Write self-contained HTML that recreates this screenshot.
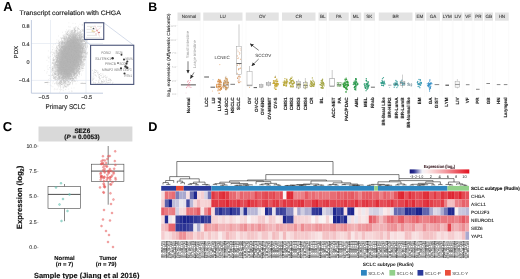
<!DOCTYPE html>
<html><head><meta charset="utf-8"><title>Figure</title>
<style>
html,body{margin:0;padding:0;background:#fff;width:520px;height:279px;overflow:hidden}
svg{display:block;filter:blur(0.25px)}
text{font-family:"Liberation Sans", Arial, sans-serif;text-rendering:geometricPrecision}
</style></head><body>
<svg width="520" height="279" viewBox="0 0 520 279">
<rect x="0" y="0" width="520" height="279" fill="#fff"/>
<text x="3.30" y="11.10" font-size="13" fill="#000" font-weight="bold" text-anchor="start" >A</text>
<text x="19.40" y="14.60" font-size="6.5" fill="#262626" font-weight="normal" text-anchor="start" stroke="#262626" stroke-width="0.16" textLength="101.5" lengthAdjust="spacingAndGlyphs">Transcript correlation with CHGA</text>
<line x1="31.40" y1="43.50" x2="103.00" y2="43.50" stroke="#e3e8f1" stroke-width="0.7" />
<line x1="31.40" y1="80.40" x2="103.00" y2="80.40" stroke="#e3e8f1" stroke-width="0.7" />
<line x1="50.50" y1="20.00" x2="50.50" y2="93.20" stroke="#e3e8f1" stroke-width="0.7" />
<line x1="86.00" y1="20.00" x2="86.00" y2="93.20" stroke="#e3e8f1" stroke-width="0.7" />
<defs><filter id="bl" x="-50%" y="-50%" width="200%" height="200%"><feGaussianBlur stdDeviation="2.2"/></filter></defs>
<ellipse cx="70" cy="57.2" rx="10.5" ry="21" transform="rotate(17 70 57.2)" fill="#bcbcbc" filter="url(#bl)"/>
<path d="M71.3 37.7h0M83.4 67.9h0M74.1 62.9h0M61.3 72.5h0M73.6 68.7h0M70.8 69.3h0M65.1 63.3h0M70.6 55.5h0M66.0 87.1h0M47.2 71.7h0M60.9 72.6h0M61.5 53.7h0M77.5 60.1h0M76.5 44.1h0M53.4 76.7h0M70.6 57.8h0M61.9 42.1h0M60.9 55.4h0M70.4 50.5h0M63.2 58.3h0M83.8 43.7h0M53.3 69.3h0M59.1 49.9h0M62.9 81.8h0M64.2 71.8h0M73.3 48.7h0M78.5 33.0h0M69.9 79.2h0M64.2 68.4h0M54.9 74.6h0M66.9 46.9h0M69.7 34.3h0M66.7 85.4h0M58.3 52.5h0M74.8 52.5h0M55.2 58.9h0M76.7 62.3h0M61.6 52.1h0M53.8 53.0h0M74.5 75.5h0M66.6 63.8h0M64.3 58.9h0M63.6 59.1h0M64.1 59.7h0M74.6 60.0h0M56.7 61.6h0M68.9 51.6h0M76.7 49.3h0M74.3 67.8h0M66.2 48.0h0M71.5 46.8h0M71.5 54.5h0M57.8 63.8h0M63.4 63.1h0M66.6 53.9h0M69.5 71.9h0M77.1 60.7h0M82.2 57.9h0M65.3 31.6h0M60.8 44.1h0M53.5 58.3h0M69.4 58.1h0M71.3 57.7h0M68.2 53.9h0M73.7 44.4h0M73.3 81.1h0M60.5 87.4h0M57.8 67.5h0M53.7 62.2h0M59.2 69.4h0M66.2 70.8h0M71.8 66.6h0M60.7 78.0h0M70.0 65.5h0M81.5 58.8h0M78.8 76.5h0M75.2 40.4h0M80.0 57.6h0M69.3 60.3h0M74.2 68.9h0M57.0 45.7h0M71.1 61.6h0M73.2 67.6h0M78.0 66.6h0M68.8 67.9h0M63.6 66.8h0M64.6 67.1h0M58.4 71.5h0M59.4 46.5h0M67.7 61.5h0M64.2 51.5h0M67.0 72.4h0M81.2 55.7h0M69.7 54.4h0M58.6 49.2h0M83.3 44.3h0M82.1 65.1h0M48.9 58.5h0M84.0 55.1h0M76.2 71.2h0M72.4 69.9h0M71.2 68.2h0M76.9 66.8h0M72.4 65.5h0M73.5 47.9h0M58.6 41.3h0M64.9 36.8h0M75.8 56.1h0M77.0 54.6h0M72.9 56.9h0M63.2 85.7h0M76.9 78.6h0M64.4 81.8h0M72.2 71.9h0M62.1 47.9h0M71.2 56.2h0M72.6 31.9h0M63.5 55.4h0M75.7 45.7h0M61.0 81.2h0M77.9 34.0h0M67.6 58.2h0M78.4 64.1h0M78.7 66.1h0M73.2 78.6h0M80.6 64.8h0M58.5 58.1h0M75.6 50.8h0M76.3 58.5h0M74.6 63.0h0M57.5 69.6h0M81.5 75.2h0M78.0 37.4h0M71.8 59.0h0M70.2 32.3h0M68.8 72.0h0M65.9 89.3h0M52.6 58.4h0M63.3 76.6h0M72.6 46.2h0M66.9 64.0h0M66.3 46.8h0M67.8 70.4h0M65.3 64.2h0M66.4 53.0h0M66.8 71.4h0M82.2 60.9h0M65.0 84.7h0M77.1 56.1h0M77.9 41.5h0M55.3 43.8h0M68.6 39.8h0M79.0 55.3h0M69.5 59.7h0M72.0 43.2h0M66.1 67.4h0M67.9 56.8h0M70.6 62.4h0M62.2 71.5h0M67.2 79.0h0M77.6 33.5h0M57.9 48.1h0M79.1 38.9h0M59.7 73.1h0M74.5 50.4h0M67.8 59.8h0M67.0 53.6h0M63.2 59.9h0M76.0 81.0h0M50.2 85.1h0M73.6 40.5h0M56.7 56.8h0M73.4 51.0h0M63.6 53.9h0M68.5 67.8h0M82.8 29.7h0M63.4 60.5h0M68.9 69.7h0M51.2 75.0h0M60.4 53.2h0M67.3 51.4h0M59.8 67.1h0M74.0 65.0h0M61.5 47.5h0M67.1 63.6h0M65.8 53.9h0M76.3 26.6h0M56.8 77.6h0M80.4 45.5h0M74.7 62.7h0M59.7 66.8h0M65.5 53.3h0M68.5 61.4h0M64.5 61.4h0M68.4 61.1h0M74.7 51.4h0M58.6 54.4h0M77.6 65.8h0M73.8 49.7h0M64.9 40.0h0M63.3 51.7h0M57.4 53.4h0M54.2 63.1h0M75.8 36.1h0M63.9 60.3h0M69.1 69.4h0M66.9 55.9h0M65.1 65.0h0M64.3 54.9h0M71.6 54.6h0M55.3 73.3h0M76.6 48.2h0M63.7 51.9h0M67.5 79.0h0M77.8 69.0h0M67.1 67.3h0M65.7 47.8h0M72.5 62.5h0M74.9 46.2h0M76.7 40.9h0M76.4 61.0h0M65.9 51.1h0M58.3 74.4h0M68.3 61.9h0M66.7 39.6h0M72.7 53.5h0M69.0 73.3h0M66.1 65.2h0M69.6 62.1h0M64.1 60.4h0M72.2 60.7h0M71.2 39.0h0M54.6 76.0h0M75.9 64.8h0M72.0 57.4h0M70.7 72.5h0M66.0 62.0h0M82.8 40.8h0M64.0 49.1h0M61.7 50.3h0M64.0 51.6h0M77.5 44.8h0M64.5 76.5h0M75.4 43.5h0M59.8 72.1h0M69.5 50.0h0M78.1 51.4h0M58.0 63.8h0M71.8 50.4h0M68.5 73.8h0M77.2 62.6h0M70.8 66.1h0M51.0 76.3h0M66.1 49.9h0M66.4 44.4h0M77.7 61.4h0M71.7 34.0h0M70.6 58.4h0M61.4 54.9h0M52.3 62.5h0M57.6 62.1h0M78.2 31.8h0M62.9 47.6h0M73.0 68.2h0M67.5 81.5h0M68.9 51.5h0M58.4 41.0h0M76.8 49.3h0M58.6 68.7h0M44.4 70.5h0M72.8 59.7h0M77.5 56.5h0M62.7 76.4h0M62.9 62.6h0M74.5 58.7h0M74.0 67.4h0M82.3 38.9h0M59.9 60.0h0M72.7 79.7h0M72.1 49.2h0M68.2 31.2h0M63.0 64.9h0M74.3 39.7h0M68.2 59.1h0M57.6 75.5h0M68.3 73.8h0M73.7 46.5h0M73.3 75.4h0M69.7 40.3h0M77.7 53.4h0M60.4 54.8h0M76.4 50.4h0M65.5 71.4h0M81.0 40.6h0M67.8 83.0h0M76.6 59.8h0M78.2 39.5h0M66.6 50.7h0M54.9 77.9h0M74.2 36.7h0M52.7 83.2h0M71.9 64.5h0M79.7 48.1h0M77.0 57.2h0M72.3 62.9h0M55.7 63.7h0M65.2 66.9h0M59.4 57.0h0M55.6 56.2h0M68.1 82.1h0M61.6 69.4h0M83.7 48.5h0M74.2 34.3h0M60.6 62.2h0M54.5 50.1h0M69.1 78.8h0M48.2 57.7h0M73.3 27.8h0M58.9 63.8h0M66.2 67.6h0M64.2 66.4h0M65.4 43.9h0M74.7 35.9h0M79.7 58.4h0M64.9 45.3h0M61.1 58.0h0M62.9 68.9h0M60.4 55.0h0M59.2 49.2h0M80.2 60.4h0M76.3 60.0h0M64.1 44.8h0M59.0 60.4h0M78.8 73.5h0M61.1 57.8h0M52.8 86.7h0M58.9 72.0h0M55.6 65.3h0M61.4 49.8h0M69.9 60.9h0M68.9 57.7h0M62.9 55.2h0M72.2 46.5h0M72.8 62.3h0M58.1 73.6h0M72.1 32.9h0M80.4 56.8h0M78.8 67.7h0M57.8 70.9h0M69.1 71.6h0M63.3 78.8h0M77.6 56.6h0M57.6 54.5h0M73.5 46.1h0M61.7 77.5h0M61.0 72.0h0M65.7 43.9h0M77.1 58.7h0M66.8 72.4h0M72.7 63.0h0M63.2 82.1h0M69.6 50.4h0M81.0 33.8h0M75.5 48.1h0M74.5 49.9h0M74.0 56.7h0M61.4 63.9h0M81.2 39.8h0M60.1 52.2h0M60.9 74.8h0M79.5 68.6h0M78.9 57.1h0M57.3 59.3h0M49.0 75.5h0M66.5 74.2h0M70.5 36.3h0M65.6 64.5h0M69.4 51.6h0M70.4 56.4h0M52.3 52.2h0M77.2 39.5h0M67.0 64.2h0M70.5 63.3h0M68.9 38.2h0M77.9 56.4h0M52.3 75.4h0M52.8 67.1h0M66.7 75.5h0M75.7 37.2h0M69.5 52.7h0M72.0 56.9h0M78.2 44.2h0M66.9 50.7h0M79.0 37.6h0M59.7 89.4h0M51.0 67.7h0M65.9 71.6h0M68.5 62.1h0M70.1 65.4h0M60.2 54.0h0M77.7 81.3h0M66.2 44.4h0M63.5 71.9h0M78.5 53.2h0M50.8 52.3h0M51.4 70.1h0M77.9 70.8h0M71.5 67.3h0M79.1 77.0h0M65.0 57.3h0M52.8 49.6h0M69.2 57.7h0M68.0 56.6h0M72.0 39.5h0M77.7 61.6h0M71.7 59.9h0M69.3 36.1h0M64.7 64.8h0M65.2 67.8h0M64.1 52.9h0M70.6 57.6h0M64.7 77.5h0M65.2 59.3h0M61.8 64.1h0M73.7 49.6h0M65.9 40.7h0M66.2 59.9h0M65.6 55.9h0M60.8 89.2h0M69.1 91.4h0M69.2 61.7h0M82.7 68.1h0M76.1 53.6h0M61.7 67.3h0M67.0 48.6h0M56.2 58.8h0M66.1 65.4h0M67.2 40.5h0M77.5 61.5h0M79.7 45.6h0M68.9 22.8h0M67.5 72.1h0M72.4 84.6h0M59.1 40.1h0M68.0 47.1h0M70.5 47.7h0M57.7 54.5h0M73.0 48.9h0M74.4 41.8h0M67.8 53.4h0M65.8 56.5h0M64.4 38.2h0M59.6 66.1h0M65.3 44.2h0M69.5 46.2h0M78.4 68.8h0M64.8 79.8h0M66.4 33.9h0M76.0 66.8h0M61.8 67.6h0M60.5 83.6h0M57.7 60.1h0M73.1 72.3h0M67.8 52.5h0M62.9 66.4h0M66.4 55.8h0M77.5 59.5h0M71.4 57.5h0M77.9 29.8h0M60.2 61.0h0M66.4 49.0h0M60.4 88.3h0M66.8 44.4h0M53.2 60.2h0M71.9 47.5h0M61.9 70.2h0M75.5 65.7h0M74.0 74.4h0M62.3 67.7h0M67.2 68.8h0M62.7 86.8h0M57.7 60.2h0M51.3 86.0h0M66.4 52.5h0M69.0 57.9h0M82.6 61.9h0M66.7 72.9h0M76.6 42.0h0M67.2 78.1h0M66.0 53.6h0M76.6 67.1h0M77.1 54.5h0M68.0 53.0h0M58.8 77.5h0M72.8 44.1h0M71.7 56.2h0M66.1 64.7h0M81.1 41.0h0M64.6 78.5h0M58.9 54.0h0M57.3 64.4h0M63.7 52.1h0M63.9 63.4h0M64.3 37.2h0M65.1 76.6h0M63.4 62.7h0M70.6 60.5h0M71.0 51.3h0M62.3 73.6h0M67.4 76.3h0M62.8 58.3h0M69.2 39.7h0M77.1 57.0h0M76.5 40.6h0M67.5 56.3h0M61.9 70.8h0M72.0 61.3h0M72.5 53.2h0M64.5 53.1h0M61.7 53.8h0M63.6 72.9h0M55.9 89.2h0M64.4 59.0h0M71.2 50.4h0M75.5 35.2h0M80.0 53.6h0M76.0 34.7h0M78.5 43.1h0M83.7 48.1h0M60.6 65.4h0M49.3 75.6h0M78.5 39.7h0M62.8 66.6h0M59.9 77.3h0M62.7 59.0h0M72.0 80.6h0M68.5 66.7h0M66.6 56.8h0M62.9 62.2h0M79.6 47.3h0M59.7 56.3h0M83.6 66.2h0M70.2 58.2h0M58.7 45.2h0M81.2 60.2h0M75.8 52.7h0M64.6 60.1h0M70.9 43.5h0M64.2 66.3h0M61.5 61.3h0M58.1 56.5h0M56.9 65.8h0M58.3 64.1h0M52.7 56.0h0M80.8 50.2h0M72.8 47.3h0M69.6 69.6h0M72.5 78.7h0M82.0 52.0h0M67.7 65.7h0M75.7 41.6h0M79.9 24.3h0M83.9 60.4h0M69.9 70.1h0M59.1 50.6h0M70.1 68.3h0M82.5 24.8h0M48.9 57.6h0M68.2 71.6h0M67.7 35.2h0M72.8 53.2h0M69.0 55.5h0M66.8 62.3h0M64.9 56.7h0M68.0 45.6h0M75.0 48.3h0M73.2 59.3h0M75.0 68.8h0M53.4 53.3h0M73.6 61.5h0M64.9 72.9h0M79.6 42.3h0M65.6 71.9h0M75.3 41.9h0M72.6 68.3h0M77.2 63.5h0M66.4 70.0h0M53.4 78.5h0M71.2 62.3h0M71.6 70.7h0M48.0 65.5h0M71.3 47.7h0M72.2 73.0h0M74.4 51.1h0M73.6 46.0h0M69.1 82.1h0M64.4 49.3h0M52.5 49.9h0M58.0 57.3h0M67.2 58.0h0M71.1 52.3h0M70.1 57.8h0M64.6 52.5h0M69.7 39.9h0M76.3 33.6h0M73.2 59.2h0M65.5 74.2h0M78.1 54.9h0M66.8 75.0h0M66.2 63.1h0M76.4 45.7h0M72.7 53.9h0M65.1 63.5h0M77.7 48.0h0M67.7 55.2h0M60.0 61.1h0M70.2 48.6h0M76.6 59.5h0M60.3 54.4h0M66.3 61.9h0M80.8 59.6h0M70.6 66.1h0M67.1 61.4h0M62.6 66.5h0M54.9 79.0h0M66.5 63.0h0M76.6 37.3h0M75.8 47.7h0M72.2 53.3h0M73.0 37.6h0M61.0 47.9h0M59.6 59.1h0M57.1 58.0h0M76.2 49.8h0M62.9 51.5h0M69.4 78.7h0M73.0 62.4h0M73.1 44.1h0M61.6 72.4h0M82.1 53.7h0M48.7 79.6h0M67.3 64.5h0M74.9 34.0h0M75.3 46.3h0M69.2 49.4h0M57.1 89.6h0M59.0 48.0h0M60.6 67.1h0M74.2 57.0h0M48.7 69.3h0M75.9 53.1h0M70.0 52.1h0M67.6 58.7h0M63.0 60.6h0M55.5 66.1h0M69.0 31.5h0M76.8 55.8h0M61.1 69.3h0M60.7 84.2h0M78.0 40.4h0M67.7 48.3h0M59.8 80.1h0M70.2 66.8h0M79.2 29.5h0M71.7 88.1h0M64.9 56.8h0M64.2 54.0h0M66.8 41.3h0M81.6 45.7h0M75.1 31.1h0M78.0 46.7h0M68.2 67.8h0M64.7 45.1h0M58.3 63.3h0M67.1 72.6h0M61.5 42.6h0M69.8 52.2h0M66.8 74.1h0M73.2 48.1h0M71.5 48.7h0M56.3 81.6h0M66.8 84.3h0M67.5 57.0h0M58.1 58.6h0M71.8 69.3h0M59.4 57.1h0M78.0 54.4h0M76.4 53.4h0M71.2 50.7h0M60.8 43.8h0M71.4 55.0h0M71.2 50.7h0M76.5 58.2h0M73.9 53.0h0M79.5 60.2h0M63.3 88.7h0M78.6 38.7h0M62.4 61.1h0M64.7 35.7h0M74.4 37.2h0M75.6 66.8h0M61.6 73.7h0M68.4 41.1h0M75.9 60.8h0M63.0 71.6h0M65.2 66.7h0M65.9 74.3h0M75.1 53.5h0M82.1 57.3h0M78.4 28.8h0M67.5 77.5h0M63.9 63.8h0M61.3 77.0h0M70.1 63.9h0M83.7 40.8h0M73.8 61.9h0M78.9 61.9h0M73.9 59.2h0M63.3 49.4h0M72.9 40.4h0M70.5 52.1h0M69.5 60.0h0M80.9 38.7h0M48.9 75.3h0M66.1 44.6h0M76.9 65.2h0M59.7 66.4h0M53.5 77.3h0M65.1 62.2h0M61.1 83.9h0M61.9 54.9h0M64.0 61.0h0M65.5 63.9h0M82.6 46.2h0M58.6 74.4h0M69.1 72.9h0M67.2 45.3h0M61.0 53.1h0M57.2 65.2h0M61.5 63.7h0M53.2 66.5h0M70.4 72.6h0M61.8 89.6h0M76.3 61.4h0M82.9 57.6h0M63.5 80.6h0M65.4 57.3h0M70.2 61.5h0M63.1 71.4h0M59.4 48.8h0M63.4 38.3h0M56.6 70.1h0M67.3 68.3h0M64.0 71.8h0M60.5 74.8h0M75.0 63.5h0M62.0 40.4h0M75.2 45.3h0M68.3 56.0h0M82.5 52.7h0M71.9 52.7h0M61.4 62.5h0M82.3 41.9h0M71.6 91.7h0M68.1 65.8h0M62.5 50.7h0M71.8 58.1h0M83.3 50.1h0M64.9 64.9h0M69.4 55.1h0M66.5 63.6h0M79.1 46.3h0M66.5 41.4h0M79.9 34.9h0M49.7 82.5h0M67.0 65.1h0M68.6 54.7h0M74.0 49.3h0M66.6 56.9h0M52.2 62.4h0M68.3 66.4h0M61.4 66.9h0M62.3 67.6h0M77.0 70.0h0M57.5 56.1h0M53.1 81.8h0M75.7 42.1h0M51.8 72.4h0M59.6 61.6h0M67.0 55.8h0M65.6 57.6h0M71.1 66.1h0M68.2 42.5h0M59.8 64.0h0M66.1 72.5h0M71.4 60.9h0M68.2 61.6h0M66.7 67.5h0M58.0 70.7h0M82.0 61.2h0M78.2 44.4h0M75.6 39.9h0M76.5 61.5h0M72.9 76.0h0M60.0 67.5h0M72.1 91.5h0M66.0 65.5h0M61.5 65.4h0M67.8 79.1h0M67.6 59.0h0M73.6 57.5h0M57.7 47.9h0M74.3 60.5h0M78.4 39.6h0M71.5 67.1h0M78.5 73.3h0M67.2 47.4h0M62.2 49.5h0M63.2 74.8h0M81.6 63.5h0M74.3 57.8h0M56.8 62.5h0M69.8 35.7h0M56.5 76.2h0M54.5 73.7h0M58.7 54.4h0M74.6 54.6h0M61.5 56.3h0M79.4 71.2h0M68.3 66.6h0M72.9 78.8h0M70.5 46.4h0M61.1 57.1h0M66.7 58.0h0M54.2 89.8h0M57.9 75.7h0M65.5 46.2h0M64.3 41.5h0M59.6 43.9h0M64.4 67.1h0M53.3 60.1h0M68.1 58.3h0M50.2 59.8h0M69.6 75.2h0M61.8 74.2h0M73.2 46.8h0M69.2 72.7h0M71.0 58.7h0M64.4 66.8h0M53.7 58.2h0M61.0 48.7h0M65.7 75.3h0M72.6 46.5h0M48.3 50.9h0M65.7 48.9h0M68.7 89.0h0M75.2 41.3h0M75.4 61.9h0M65.0 60.3h0M59.2 58.4h0M67.0 75.0h0M75.1 49.2h0M65.4 74.0h0M75.3 56.3h0M79.6 74.6h0M78.3 62.6h0M80.1 59.9h0M75.7 61.2h0M75.2 38.3h0M74.4 68.5h0M63.9 58.0h0M71.2 68.4h0M46.8 73.1h0M53.3 81.1h0M77.5 63.2h0M69.5 62.8h0M59.7 77.5h0M65.9 50.0h0M73.5 37.3h0M81.9 45.6h0M77.2 74.7h0M68.4 52.0h0M78.9 48.8h0M75.8 27.5h0M68.5 61.5h0M74.4 68.5h0M80.4 46.3h0M76.0 63.2h0M71.8 90.5h0M65.1 51.6h0M48.0 56.1h0M65.6 79.4h0M75.0 59.9h0M71.9 33.1h0M75.7 51.9h0M64.7 62.0h0M53.1 52.5h0M56.0 83.4h0M63.5 73.2h0M67.6 35.3h0M77.5 56.2h0M54.0 69.5h0M80.0 37.1h0M59.1 84.5h0M75.4 40.9h0M56.7 75.0h0M78.3 71.4h0M53.6 66.0h0M64.5 49.9h0M60.7 71.8h0M70.8 67.6h0M67.6 50.7h0M80.1 53.2h0M64.5 65.4h0M63.6 71.4h0M70.9 68.6h0M72.9 23.4h0M66.9 46.3h0M69.6 77.3h0M78.4 58.8h0M74.1 31.7h0M79.9 48.2h0M77.1 51.2h0M76.8 47.0h0M64.8 84.0h0M77.7 41.1h0M62.2 58.5h0M80.7 43.9h0M68.4 34.5h0M82.0 66.8h0M73.5 53.5h0M82.2 71.1h0M63.2 74.8h0M75.0 56.2h0M66.1 57.8h0M52.9 63.6h0M71.6 80.8h0M79.9 39.7h0M75.0 62.9h0M67.5 34.5h0M56.3 55.7h0M57.2 60.2h0M65.1 66.9h0M79.9 48.3h0M63.0 67.7h0M59.7 70.8h0M70.1 72.2h0M61.0 67.7h0M66.4 61.0h0M76.5 52.5h0M78.6 26.2h0M60.9 65.3h0M69.1 27.2h0M58.8 51.0h0M72.2 67.5h0M56.0 60.6h0M54.7 70.3h0M74.9 50.9h0M65.6 56.3h0M59.6 73.0h0M73.9 51.6h0M78.4 40.9h0M71.7 54.5h0M64.7 56.3h0M77.0 39.2h0M77.9 52.4h0M65.0 82.0h0M53.5 78.5h0M58.3 83.5h0M58.1 70.7h0M59.3 74.2h0M74.8 65.3h0M58.1 70.7h0M76.6 44.6h0M74.2 57.6h0M72.2 44.8h0M67.1 70.8h0M59.0 67.5h0M54.2 55.6h0M75.2 46.1h0M75.8 41.0h0M82.2 68.4h0M81.6 48.4h0M51.6 51.9h0M80.3 59.6h0M76.5 66.8h0M67.3 73.7h0M66.1 51.4h0M75.8 67.4h0M69.3 42.4h0M76.9 58.7h0M57.2 60.9h0M63.3 90.8h0M81.9 24.9h0M58.6 66.7h0M65.5 56.5h0M62.4 77.9h0M72.3 57.1h0M59.8 70.7h0M61.9 62.5h0M69.2 69.7h0M74.0 64.2h0M81.2 73.9h0M67.0 44.3h0M58.1 75.0h0M54.0 77.3h0M74.8 51.5h0M61.7 54.8h0M75.2 59.3h0M73.9 62.5h0M81.6 55.1h0M72.8 42.8h0M70.8 44.2h0M58.3 51.9h0M83.7 29.5h0M65.1 36.4h0M69.5 67.1h0M72.3 56.7h0M62.4 59.2h0M63.3 53.3h0M73.2 56.0h0M52.7 68.4h0M66.7 50.8h0M65.1 56.4h0M66.3 63.0h0M68.4 85.9h0M53.2 52.0h0M61.4 59.3h0M61.1 57.0h0M71.3 58.6h0M68.1 68.0h0M61.2 55.4h0M73.2 73.6h0M80.0 49.5h0M59.9 70.3h0M67.8 62.5h0M62.6 70.1h0M74.5 45.4h0M73.3 54.6h0M64.7 65.6h0M72.6 51.0h0M62.0 49.7h0M73.0 41.9h0M54.6 88.7h0M63.9 57.8h0M61.0 51.2h0M70.3 61.3h0M55.9 55.0h0M57.0 71.0h0M61.7 79.8h0M76.7 43.5h0M78.3 54.1h0M67.8 59.5h0M54.3 71.4h0M74.5 44.8h0M56.7 61.5h0M76.6 66.8h0M73.2 53.5h0M75.1 68.4h0M65.5 48.3h0M47.7 69.1h0M69.2 69.9h0M58.5 87.1h0M64.8 44.7h0M77.6 74.7h0M75.2 58.8h0M68.1 60.4h0M74.8 51.3h0M69.7 84.6h0M68.9 44.4h0M59.7 92.2h0M56.1 74.6h0M67.0 46.7h0M78.0 58.7h0M65.8 68.0h0M76.7 64.4h0M83.7 53.0h0M62.2 66.6h0M81.2 36.6h0M63.8 67.2h0M60.4 82.5h0M56.1 57.6h0M69.1 35.0h0M67.5 57.2h0M68.4 49.0h0M79.9 46.5h0M70.0 38.2h0M84.0 41.4h0M61.9 80.5h0M55.4 74.0h0M60.9 49.3h0M71.9 64.5h0M70.2 63.7h0M60.1 68.8h0M60.6 45.8h0M82.1 82.6h0M72.5 61.0h0M71.4 46.3h0M66.3 43.3h0M58.7 57.5h0M76.1 47.0h0M75.5 41.1h0M73.2 55.2h0M67.6 61.2h0M78.1 64.6h0M63.3 59.3h0M69.8 66.8h0M80.4 50.1h0M57.2 64.4h0M58.4 62.2h0M61.1 44.1h0M73.1 55.8h0M73.3 63.7h0M69.2 67.0h0M52.2 70.5h0M61.7 43.4h0M50.4 53.1h0M73.6 54.6h0M68.8 26.4h0M78.0 44.4h0M65.1 61.2h0M66.7 64.1h0M78.8 72.3h0M61.3 55.8h0M70.7 46.6h0M75.6 55.1h0M68.1 68.0h0M65.6 89.6h0M80.0 66.6h0M62.6 59.2h0M65.9 51.6h0M56.8 50.8h0M49.4 67.5h0M74.7 54.5h0M68.7 60.5h0M65.8 62.1h0M65.7 64.5h0M62.4 57.8h0M58.8 69.7h0M70.8 61.7h0M72.1 53.8h0M62.7 64.5h0M67.6 68.0h0M63.1 90.2h0M63.8 78.1h0M60.8 89.8h0M79.7 51.0h0M83.5 55.0h0M79.9 51.1h0M71.1 61.9h0M50.0 67.7h0M76.9 53.8h0M76.9 35.5h0M68.7 49.1h0M74.7 64.5h0M62.9 74.3h0M60.7 67.8h0M65.2 64.7h0M60.8 77.3h0M57.2 85.3h0M78.5 49.7h0M59.9 76.2h0M67.6 67.9h0M63.5 71.2h0M73.1 47.7h0M69.5 56.0h0M66.9 59.8h0M74.9 49.4h0M80.6 39.4h0M72.0 67.4h0M78.3 40.0h0M64.2 60.8h0M69.4 70.4h0M56.9 55.9h0M82.1 46.0h0M61.4 50.0h0M67.9 55.0h0M77.4 66.0h0M50.8 65.4h0M66.1 71.1h0M62.9 78.0h0M72.0 53.1h0M55.7 69.0h0M75.0 35.3h0M70.0 78.9h0M50.2 62.0h0M66.8 84.2h0M81.4 52.2h0M69.3 70.4h0M51.4 75.4h0M69.2 71.9h0M58.5 68.5h0M69.7 55.1h0M67.7 64.1h0M57.0 55.8h0M78.3 38.4h0M74.0 61.0h0M65.3 42.0h0M55.6 68.5h0M61.2 59.9h0M61.7 70.5h0M74.9 74.9h0M69.5 75.5h0M73.5 51.3h0M70.1 56.6h0M66.7 69.4h0M66.5 74.5h0M59.6 78.5h0M65.0 66.0h0M80.9 41.1h0M81.1 33.0h0M59.5 60.0h0M76.1 44.2h0M63.8 77.1h0M53.6 63.2h0M76.2 68.5h0M66.2 59.1h0M68.3 60.0h0M70.2 49.1h0M68.8 84.8h0M61.4 78.3h0M68.0 40.4h0M72.7 64.4h0M76.2 47.7h0M61.4 72.4h0M80.1 66.9h0M82.6 24.9h0M58.3 75.7h0M46.9 60.4h0M60.3 50.8h0M65.6 53.2h0M58.5 66.2h0M76.5 42.5h0M47.8 84.1h0M72.3 63.8h0M60.1 58.8h0M74.3 50.6h0M71.5 53.8h0M58.4 36.0h0M66.0 51.0h0M65.2 83.1h0M57.8 88.7h0M64.8 60.1h0M73.9 36.2h0M69.0 56.6h0M59.1 67.8h0M73.0 56.4h0M60.5 61.6h0M65.9 46.2h0M60.8 71.3h0M67.1 56.8h0M63.5 66.9h0M63.9 70.5h0M63.9 70.7h0M69.4 48.8h0M72.6 57.9h0M59.1 78.1h0M67.9 47.9h0M60.0 78.4h0M53.3 72.3h0M74.2 55.5h0M68.9 49.0h0M56.7 42.3h0M64.3 34.6h0M62.6 66.7h0M62.6 53.0h0M63.3 55.1h0M66.5 77.1h0M71.5 66.2h0M76.1 72.7h0M69.8 68.5h0M79.0 47.6h0M61.2 58.8h0M55.7 51.8h0M64.5 63.2h0M68.3 79.1h0M49.1 57.0h0M65.0 80.0h0M61.8 63.9h0M71.1 46.5h0M66.2 73.4h0M65.2 60.1h0M77.6 59.7h0M64.6 63.0h0M70.0 66.3h0M76.0 68.6h0M65.7 34.8h0M60.6 82.3h0M70.4 53.9h0M68.2 67.5h0M83.2 45.2h0M73.4 64.1h0M70.1 76.3h0M47.2 66.9h0M75.3 50.2h0M62.9 73.7h0M52.9 68.1h0M67.1 85.4h0M64.3 49.3h0M77.1 58.2h0M82.2 25.2h0M53.4 62.6h0M75.4 49.8h0M48.8 61.9h0M73.8 47.7h0M71.6 52.1h0M57.4 66.8h0M68.0 60.2h0M61.5 47.1h0M68.5 50.8h0M70.7 60.9h0M67.1 56.8h0M67.1 74.4h0M55.8 70.1h0M71.8 72.5h0M63.0 61.2h0M75.7 58.1h0M80.5 65.5h0M77.3 53.2h0M57.6 80.4h0M60.5 49.5h0M71.4 42.0h0M78.1 44.4h0M69.5 56.5h0M50.5 56.5h0M56.1 56.4h0M52.3 46.8h0M73.3 65.3h0M70.1 84.5h0M74.7 58.7h0M64.6 67.9h0M62.9 42.5h0M60.8 83.4h0M58.5 60.4h0M59.7 67.8h0M71.0 60.0h0M76.3 58.3h0M66.0 63.6h0M77.6 50.3h0M67.7 48.2h0M70.9 66.5h0M75.1 42.2h0M67.8 37.9h0M60.7 46.3h0M68.4 67.1h0M51.6 64.0h0M64.3 82.1h0M81.1 41.1h0M71.0 63.9h0M73.7 50.3h0M78.9 64.3h0M71.2 33.4h0M71.9 40.2h0M49.9 78.4h0M63.6 72.8h0M73.7 72.3h0M69.8 42.5h0M66.4 60.8h0M68.3 55.1h0M75.3 40.2h0M81.3 45.9h0M72.8 47.8h0M81.0 55.1h0M62.6 52.2h0M80.2 44.7h0M60.3 49.2h0M62.9 71.9h0M75.0 33.7h0M62.3 67.0h0M60.8 52.8h0M61.4 63.3h0M51.1 79.3h0M67.7 53.0h0M68.9 71.2h0M68.4 64.8h0M74.7 43.3h0M70.6 73.4h0M69.5 33.4h0M62.7 60.6h0M78.3 65.9h0M67.7 63.0h0M57.9 50.9h0M66.4 69.4h0M67.6 84.2h0M64.7 51.9h0M62.6 65.2h0M83.1 66.8h0M73.4 47.2h0M50.7 81.0h0M61.5 78.9h0M76.7 54.6h0M74.0 47.5h0M73.8 58.9h0M69.1 78.7h0M60.2 69.2h0M73.9 53.2h0M65.1 77.3h0M65.4 73.4h0M65.6 77.8h0M68.6 54.6h0M82.9 29.3h0M57.7 79.5h0M54.6 83.4h0M83.0 56.5h0M60.7 63.1h0M68.0 85.9h0M83.3 53.3h0M77.2 54.5h0M74.8 68.5h0M80.0 61.7h0M80.2 43.8h0M58.5 64.2h0M65.4 71.9h0M63.5 41.9h0M58.5 74.1h0M72.6 56.2h0M74.3 58.7h0M70.4 59.8h0M54.2 67.5h0M60.3 90.8h0M71.7 51.4h0M72.8 49.7h0M69.7 54.2h0M74.9 47.4h0M69.3 53.4h0M61.0 56.1h0M70.8 71.2h0M71.4 58.5h0M77.1 57.8h0M81.1 36.9h0M62.0 46.3h0M78.5 58.4h0M76.7 45.2h0M74.0 87.9h0M71.3 50.1h0M71.5 56.6h0M75.3 23.7h0M79.6 29.1h0M71.0 36.7h0M63.7 63.6h0M64.9 62.0h0M78.6 52.7h0M73.2 58.8h0M56.9 60.1h0M55.6 71.2h0M67.8 61.7h0M80.0 50.1h0M56.1 77.4h0M72.4 67.1h0M52.6 54.7h0M63.6 48.5h0M62.6 32.3h0M63.4 63.5h0M65.3 55.5h0M63.4 78.3h0M63.4 59.6h0M80.2 44.5h0M62.0 50.3h0M82.0 55.6h0M66.6 29.8h0M65.4 74.4h0M64.0 51.6h0M62.8 46.2h0M79.1 54.1h0M57.6 65.2h0M71.0 59.2h0M83.9 68.4h0M83.3 44.6h0M62.7 76.7h0M70.8 73.8h0M57.9 51.6h0M76.0 83.8h0M76.3 73.7h0M66.0 70.5h0M82.8 48.6h0M73.9 72.9h0M57.7 80.1h0M75.2 74.8h0M63.7 61.9h0M61.4 82.4h0M83.2 70.3h0M66.3 47.2h0M80.0 67.5h0M64.1 54.7h0M66.1 56.3h0M68.8 73.6h0M68.0 52.7h0M58.5 55.9h0M63.3 53.9h0M66.8 70.0h0M69.3 67.3h0M73.5 59.0h0M76.1 63.7h0M59.9 48.3h0M82.9 65.1h0M65.6 77.2h0M72.7 53.0h0M53.3 44.8h0M56.1 65.9h0M73.7 46.1h0M74.8 74.4h0M58.1 57.3h0M71.4 73.4h0M55.8 62.3h0M72.7 66.3h0M57.3 48.4h0M68.8 55.5h0M78.1 55.9h0M76.3 48.9h0M63.8 74.3h0M64.6 57.2h0M62.0 38.4h0M68.8 76.7h0M64.2 54.6h0M73.5 53.6h0M71.2 53.5h0M76.1 53.2h0M70.7 38.6h0M68.8 36.1h0M63.5 72.5h0M61.8 43.6h0M60.5 63.3h0M67.7 53.6h0M62.1 52.7h0M69.4 46.7h0M78.6 69.3h0M66.3 62.7h0M64.6 57.0h0M76.5 68.1h0M66.2 59.5h0M61.0 51.4h0M66.5 54.4h0M80.1 62.7h0M78.6 61.7h0M51.2 71.8h0M64.9 55.7h0M72.2 81.0h0M64.9 76.8h0M62.1 66.4h0M57.2 70.0h0M61.5 66.4h0M52.8 75.6h0M83.6 59.3h0M73.5 45.6h0M73.4 38.2h0M75.3 59.6h0M78.7 61.7h0M70.6 46.6h0M74.8 58.6h0M65.3 35.1h0M77.4 59.7h0M70.7 50.9h0M64.6 57.2h0M75.6 42.7h0M52.7 54.7h0M81.1 52.6h0M55.3 62.6h0M63.8 57.0h0M82.8 62.9h0M83.4 51.3h0M55.4 48.7h0M62.9 67.0h0M81.0 32.5h0M61.5 49.8h0M65.6 47.9h0M65.6 60.0h0M60.4 42.0h0M56.3 72.8h0M73.8 37.8h0M69.1 72.7h0M60.6 37.7h0M72.5 60.5h0M67.3 82.3h0M70.3 74.0h0M59.0 76.7h0M61.7 61.5h0M53.9 47.8h0M79.4 47.9h0M74.2 27.6h0M71.6 39.7h0M71.5 52.1h0M64.7 52.2h0M65.6 57.5h0M62.0 73.6h0M81.1 59.0h0M75.8 47.0h0M71.6 68.0h0M69.0 41.7h0M71.4 65.9h0M70.4 26.9h0M58.1 61.2h0M83.7 48.4h0M68.8 42.2h0M75.3 48.6h0M80.5 70.8h0M69.1 52.5h0M79.1 55.6h0M65.4 59.0h0M71.8 80.7h0M71.3 40.9h0M62.2 53.9h0M72.8 65.7h0M77.0 38.8h0M72.1 51.7h0M58.8 64.3h0M78.7 64.2h0M69.7 73.5h0M71.2 52.8h0M65.3 62.3h0M69.7 44.4h0M78.3 60.9h0M65.9 48.8h0M70.6 71.0h0M66.1 74.7h0M62.5 80.0h0M81.4 45.1h0M67.1 62.7h0M73.2 45.0h0M73.4 58.7h0M62.3 37.3h0M62.2 70.0h0M68.2 60.9h0M78.0 57.8h0M69.7 57.5h0M79.4 51.8h0M75.4 49.6h0M65.4 73.6h0M60.9 63.0h0M69.0 61.7h0M73.2 60.8h0M65.9 84.2h0M68.2 42.1h0M73.8 65.6h0M77.5 52.8h0M67.9 49.2h0M66.7 43.7h0M67.4 55.5h0M66.4 69.6h0M62.4 55.1h0M58.9 67.5h0M63.4 51.4h0M58.6 71.0h0M64.3 40.0h0M67.7 52.7h0M57.3 71.4h0M73.6 28.9h0M73.2 40.1h0M66.1 50.2h0M63.9 50.6h0M63.6 65.8h0M61.0 72.6h0M79.7 73.2h0M59.3 84.0h0M65.1 74.8h0M70.1 40.5h0M83.7 49.8h0M60.5 57.8h0M59.2 65.3h0M70.8 55.9h0M58.8 76.8h0M75.7 77.1h0M52.1 77.6h0M63.1 81.8h0M76.4 50.6h0M58.9 45.4h0M80.8 55.3h0M74.9 58.5h0M56.7 60.2h0M67.3 53.6h0M56.9 39.9h0M64.7 54.9h0M54.3 84.0h0M65.2 60.3h0M61.5 74.8h0M69.8 73.3h0M56.4 56.9h0M65.5 66.8h0M63.4 58.8h0M62.9 51.3h0M74.2 52.5h0M63.2 54.5h0M70.2 64.9h0M61.6 49.8h0M64.2 42.1h0" stroke="#c4c4c4" stroke-opacity="0.35" stroke-width="0.9" stroke-linecap="round" fill="none"/>
<line x1="44.50" y1="82.60" x2="48.50" y2="82.30" stroke="#999" stroke-width="0.6" />
<line x1="80.50" y1="83.40" x2="86.00" y2="83.40" stroke="#aaa" stroke-width="0.6" />
<path d="M66.6 62.8h0M69.8 53.0h0M65.1 52.9h0M75.3 64.3h0M75.4 62.1h0M71.7 60.1h0M56.7 64.2h0M71.3 64.1h0M66.0 33.4h0M66.3 50.0h0M72.0 57.2h0M75.5 50.6h0M70.5 62.5h0M59.7 76.3h0M69.1 72.4h0M68.9 47.3h0M68.3 55.3h0M73.0 61.3h0M70.7 45.0h0M62.4 70.7h0M64.2 58.6h0M78.0 40.3h0M65.6 72.8h0M58.8 49.6h0M72.3 47.3h0M73.3 57.4h0M58.0 64.3h0M70.7 69.7h0M77.5 64.2h0M75.4 42.0h0M76.0 51.1h0M71.8 41.4h0M66.0 49.1h0M85.3 35.5h0M60.2 57.3h0M76.7 66.8h0M74.9 49.1h0M59.6 66.7h0M76.2 61.1h0M69.9 62.8h0M77.5 67.5h0M71.2 64.7h0M55.8 69.5h0M73.9 65.3h0M60.2 46.0h0M81.7 37.3h0M65.2 68.9h0M56.1 73.8h0M73.9 56.5h0M69.6 65.5h0M66.6 71.0h0M67.5 51.0h0M76.3 59.5h0M61.2 66.8h0M80.6 54.7h0M62.0 53.0h0M70.2 53.4h0M82.3 47.7h0M82.3 44.5h0M62.9 63.2h0M73.8 69.5h0M71.6 59.5h0M68.8 64.3h0M67.9 60.2h0M73.5 58.3h0M72.6 65.3h0M81.1 64.8h0M68.7 52.0h0M66.6 68.1h0M66.5 61.1h0M62.2 58.0h0M71.6 60.8h0M65.0 64.2h0M73.6 51.5h0M83.6 66.0h0M67.0 55.0h0M68.8 56.0h0M80.4 45.2h0M66.1 68.4h0M69.8 76.5h0M60.9 49.8h0M65.7 64.0h0M81.9 42.1h0M79.6 40.8h0M66.7 71.7h0M68.4 59.2h0M74.4 60.4h0M63.9 75.2h0M77.5 55.7h0M76.6 55.8h0M68.3 65.8h0M69.0 65.2h0M66.1 36.4h0M77.3 46.9h0M69.0 37.8h0M75.0 68.4h0M82.4 48.8h0M74.1 43.7h0M68.9 77.5h0M58.9 74.0h0M76.7 56.9h0M52.8 70.2h0M71.6 49.9h0M71.0 62.8h0M82.9 47.9h0M71.6 77.0h0M79.5 57.8h0M61.8 67.9h0M70.3 58.9h0M79.7 56.7h0M57.3 48.3h0M55.7 63.4h0M74.2 50.5h0M66.9 67.1h0M65.7 73.1h0M65.9 69.4h0M73.3 79.1h0M62.7 66.4h0M62.4 40.8h0M54.1 66.2h0M62.5 54.7h0M68.9 56.5h0M65.5 58.9h0M80.8 61.1h0M69.6 70.1h0M73.4 41.9h0M62.7 68.9h0M62.1 47.0h0M73.3 68.5h0M67.1 66.8h0M75.3 43.5h0M62.7 46.7h0M77.7 52.2h0M67.3 46.4h0M61.1 52.9h0M61.5 59.3h0M54.4 56.7h0M73.1 33.0h0M75.4 55.3h0M59.5 42.7h0M73.4 52.3h0M72.1 67.5h0M72.9 62.3h0M75.8 67.5h0M80.3 33.3h0M70.7 74.4h0M69.9 51.1h0M64.1 86.8h0M61.8 63.6h0M82.0 59.3h0M70.2 69.0h0M64.8 54.4h0M68.8 67.5h0M70.5 54.8h0M65.1 51.0h0M75.1 60.1h0M67.8 45.6h0M72.1 64.1h0M78.8 65.4h0M67.7 63.3h0M54.4 65.8h0M74.5 49.5h0M71.6 81.1h0M63.8 46.7h0M71.1 59.9h0M71.1 44.9h0M79.2 73.5h0M67.6 39.0h0M76.8 72.1h0M78.2 70.2h0M63.7 58.7h0M59.5 44.3h0M67.7 63.3h0M66.0 54.4h0M71.4 62.5h0M73.1 60.9h0M65.2 66.0h0M73.3 47.5h0M66.2 56.0h0M68.8 58.9h0M69.4 59.3h0M73.7 42.0h0M68.8 70.5h0M73.3 55.8h0M76.2 46.6h0M58.2 54.4h0M61.6 64.2h0M57.9 74.0h0M72.6 40.2h0M63.4 61.9h0M72.4 60.2h0M76.5 68.4h0M67.7 64.2h0M76.6 71.8h0M80.2 46.3h0M66.4 65.6h0M64.3 69.3h0M70.4 69.1h0M78.4 57.0h0M64.7 66.9h0M76.0 59.1h0M62.2 57.2h0M68.1 71.3h0M74.7 59.0h0M73.3 65.2h0M71.1 58.2h0M66.0 64.9h0M65.8 47.8h0M75.3 39.8h0M74.6 32.6h0M63.8 62.7h0M73.7 57.6h0M73.7 40.0h0M79.3 66.7h0M79.9 48.8h0M75.5 35.3h0M71.4 69.7h0M58.6 53.0h0M80.2 37.5h0M62.7 41.2h0M71.2 39.4h0M69.3 60.2h0M71.3 66.7h0M75.0 73.8h0M63.8 48.8h0M67.4 42.4h0M69.5 57.1h0M78.8 39.3h0M62.5 54.6h0M69.9 53.1h0M72.4 48.1h0M73.0 62.7h0M71.9 49.1h0M63.9 55.8h0M60.1 56.8h0M75.9 41.1h0M69.6 53.0h0M70.6 65.3h0M72.9 47.0h0M69.4 56.2h0M73.4 62.1h0M70.5 39.8h0M70.4 47.7h0M63.6 53.7h0M66.6 57.5h0M74.7 53.3h0M85.4 57.7h0M76.3 60.7h0M64.5 58.7h0M65.2 86.0h0M67.3 73.0h0M71.3 69.9h0M73.7 56.3h0M77.0 45.4h0M80.9 47.3h0M63.8 82.8h0M68.6 57.0h0M77.0 59.7h0M64.1 58.8h0M71.0 66.7h0M58.9 76.5h0M80.1 60.5h0M73.2 52.6h0M81.2 51.5h0M75.9 52.8h0M63.1 64.4h0M78.2 59.6h0M62.9 65.6h0M68.6 60.8h0M75.2 73.5h0M58.5 83.3h0M67.2 66.5h0M66.2 55.5h0M52.8 75.1h0M82.8 45.3h0M66.7 35.2h0M78.9 54.0h0M70.8 53.4h0M73.2 44.1h0M75.4 40.2h0M68.4 60.7h0M73.7 55.3h0M63.9 57.4h0M61.4 74.9h0M75.1 57.3h0M69.7 48.0h0M65.5 51.3h0M69.9 63.9h0M65.9 83.2h0M65.6 56.0h0M66.2 58.2h0M69.5 62.3h0M67.2 61.1h0M67.5 66.4h0M61.6 43.2h0M73.7 45.0h0M61.3 62.7h0M63.7 63.5h0M73.5 62.2h0M73.5 56.9h0M61.5 54.2h0M74.7 51.8h0M66.7 65.9h0M62.3 63.1h0M83.4 54.1h0M71.4 55.7h0M78.3 63.8h0M78.0 50.7h0M69.9 57.1h0M53.9 71.0h0M81.8 38.1h0M75.0 57.0h0M71.4 62.4h0M61.6 51.9h0M81.2 53.2h0M68.7 39.2h0M61.3 58.9h0M78.8 65.5h0M63.4 84.1h0M69.3 48.2h0M71.2 64.7h0M68.0 41.4h0M70.9 60.7h0M62.7 52.4h0M65.0 61.6h0M69.6 56.0h0M64.0 69.0h0M79.8 55.5h0M77.9 49.8h0M67.7 66.2h0M80.7 55.5h0M68.8 59.4h0M60.8 54.6h0M64.5 60.3h0M70.3 31.6h0M69.3 60.4h0M63.4 66.7h0M70.5 49.5h0M78.6 39.5h0M65.9 55.7h0M75.8 56.9h0M74.3 50.0h0M65.8 77.5h0M57.2 84.0h0M66.0 56.2h0M67.3 69.7h0M70.0 30.0h0M70.8 67.8h0M70.3 60.6h0M74.4 63.3h0M84.7 45.6h0M76.3 54.3h0M67.8 84.5h0M70.9 54.2h0M70.0 46.3h0M63.8 63.6h0M70.0 58.1h0M65.6 67.7h0M73.5 56.4h0M74.6 56.6h0M57.7 72.3h0M76.3 46.7h0M75.4 63.3h0M54.6 73.4h0M68.8 68.4h0M71.8 55.8h0M57.0 65.8h0M71.2 53.9h0M71.9 58.8h0M75.5 54.1h0M77.5 31.8h0M65.0 64.4h0M79.5 55.4h0M63.5 75.7h0M65.3 65.3h0M80.1 60.8h0M80.1 51.1h0M71.6 56.7h0M66.6 70.8h0M87.0 53.8h0M64.7 62.0h0M61.7 61.1h0M74.5 55.0h0M78.9 39.8h0M80.3 40.3h0M67.8 49.3h0M64.4 66.6h0M71.9 52.6h0M67.6 77.0h0M68.7 61.5h0M76.6 62.7h0M68.2 62.1h0M73.5 66.9h0M72.2 44.2h0M66.9 69.6h0M67.1 43.0h0M76.9 34.2h0M70.0 51.5h0M75.3 49.7h0M66.0 50.9h0M72.1 49.2h0M67.4 66.1h0M71.1 79.6h0M66.7 50.8h0M65.7 55.4h0M78.1 42.1h0M72.9 57.8h0M57.8 57.2h0M84.1 37.3h0M74.2 61.2h0M71.3 63.3h0M78.8 57.0h0M76.8 54.0h0M77.4 48.9h0M63.1 77.5h0M73.3 56.2h0M65.9 45.7h0M67.8 68.7h0M70.7 64.2h0M64.8 73.2h0M69.6 50.0h0M75.2 59.6h0M70.4 49.8h0M66.2 64.1h0M76.6 43.5h0M72.0 60.1h0M61.1 64.5h0M69.5 52.7h0M70.1 74.4h0M64.2 61.1h0M56.2 83.0h0M62.6 70.4h0M63.1 65.6h0M65.5 62.3h0M71.9 49.1h0M82.9 62.2h0M56.8 64.3h0M55.3 67.6h0M65.9 57.8h0M77.3 61.0h0M67.6 34.5h0M74.6 68.2h0M61.9 65.9h0M70.7 65.8h0M57.3 49.4h0M72.9 67.6h0M69.3 63.4h0M67.9 57.0h0M77.0 53.6h0M79.9 50.0h0M73.5 51.4h0M73.5 49.3h0M56.3 67.2h0M73.9 51.1h0M67.6 69.3h0M64.4 54.1h0M71.4 64.4h0M75.6 31.6h0M76.4 63.4h0M71.1 53.9h0M73.2 52.6h0M66.4 46.5h0M68.6 48.8h0M60.6 62.6h0M59.6 62.6h0M62.5 59.5h0M77.7 62.2h0M65.4 56.4h0M77.2 36.9h0M65.7 58.0h0M66.8 57.3h0M71.7 67.7h0M73.4 65.9h0M68.3 56.4h0M69.5 53.0h0M75.2 36.4h0M68.0 56.3h0M64.1 55.1h0M73.8 56.2h0M75.4 35.2h0M54.2 54.0h0M74.3 54.6h0M81.5 31.6h0M73.9 63.2h0M72.3 50.3h0M75.7 52.6h0M73.2 51.6h0M56.4 52.6h0M68.5 66.5h0M64.8 55.2h0M73.2 60.1h0M70.4 83.1h0M71.4 32.7h0M69.7 76.9h0M72.7 68.6h0M68.8 47.6h0M78.7 48.1h0M62.5 42.0h0M68.4 47.3h0M74.1 48.7h0M78.3 58.7h0M58.6 70.7h0M65.6 58.7h0M71.1 53.4h0M74.5 49.6h0M65.0 45.8h0M69.7 57.8h0M73.0 59.7h0M67.7 47.3h0M57.6 51.2h0M71.0 64.4h0M69.9 54.9h0M75.7 59.1h0M72.4 65.5h0M66.6 73.1h0M67.8 51.9h0M67.9 46.2h0M73.1 81.0h0M68.1 64.0h0M74.3 69.0h0M82.0 44.5h0M64.4 61.4h0M78.4 61.1h0M66.0 51.4h0M69.1 45.8h0M81.5 52.6h0M62.3 82.9h0M76.0 63.4h0M64.8 60.9h0M77.7 67.6h0M77.4 60.7h0M73.9 55.8h0M67.9 73.4h0M61.5 53.8h0M73.5 50.9h0M65.3 66.0h0M80.0 68.4h0M77.6 39.4h0M81.5 61.7h0M73.8 43.9h0M73.6 44.1h0M68.7 62.9h0M69.2 60.6h0M59.6 72.6h0M72.6 34.4h0M71.6 47.8h0M65.1 51.1h0M76.1 43.7h0M64.0 73.9h0M74.7 56.7h0M71.2 56.0h0M67.1 65.8h0M78.2 28.5h0M73.1 46.6h0M76.2 51.2h0M63.0 83.3h0M67.7 41.9h0M57.2 58.0h0M72.9 33.9h0M58.7 61.7h0M66.6 51.4h0M67.1 73.9h0M78.1 73.1h0M70.2 59.7h0M75.9 77.5h0M66.4 62.0h0M71.6 58.4h0M71.7 40.5h0M72.3 37.9h0M75.5 65.9h0M57.6 71.5h0M82.4 36.2h0M78.3 70.2h0M87.1 46.5h0M71.7 63.2h0M70.6 59.6h0M81.9 41.4h0M67.5 38.3h0M68.8 49.0h0M71.3 61.0h0M72.6 49.2h0M63.8 67.7h0M74.3 59.8h0M62.4 75.0h0M64.0 63.8h0M78.0 56.2h0M79.1 45.5h0M75.5 61.5h0M57.9 62.2h0M59.9 70.7h0M66.4 54.0h0M72.9 53.8h0M73.6 51.1h0M74.1 58.5h0M77.0 59.8h0M58.7 55.0h0M69.0 70.8h0M57.8 73.5h0M60.3 85.3h0M66.6 65.0h0M71.8 43.3h0M73.4 70.0h0M76.3 70.2h0M72.5 36.4h0M68.5 48.0h0M62.9 62.6h0M73.0 54.6h0M71.6 55.8h0M68.6 66.5h0M78.4 50.9h0M55.6 71.3h0M66.7 70.5h0M61.1 50.2h0M75.4 40.2h0M64.2 64.8h0M70.8 78.1h0M69.8 39.0h0M69.8 69.3h0M75.9 42.1h0M71.9 68.1h0M75.2 52.5h0M69.0 67.1h0M73.3 34.3h0M70.3 63.5h0M66.9 67.8h0M66.7 55.1h0M66.1 63.4h0M80.7 57.2h0M72.7 65.6h0M81.5 58.4h0M73.2 44.4h0M68.0 74.0h0M71.7 63.2h0M68.2 58.8h0M57.5 67.0h0M71.5 43.3h0M68.4 46.0h0M71.4 71.3h0M58.3 65.6h0M77.5 52.0h0M63.6 45.6h0M64.9 60.1h0M75.2 32.5h0M77.0 39.4h0M79.9 44.6h0M68.9 45.8h0M62.0 71.6h0M73.0 65.9h0M77.6 39.4h0M68.8 49.7h0M62.2 61.4h0M68.0 47.4h0M71.1 30.8h0M68.8 74.1h0M74.6 45.9h0M76.4 63.0h0M70.3 76.5h0M78.5 54.1h0M73.6 68.4h0M62.1 49.5h0M61.7 53.2h0M77.4 45.6h0M52.7 68.7h0M67.0 75.4h0M58.1 67.3h0M67.7 60.0h0M65.4 68.8h0M76.0 60.2h0M59.0 63.4h0M64.8 63.8h0M65.7 76.9h0M78.6 54.0h0M65.7 78.8h0M65.1 61.3h0M72.7 74.3h0M78.0 42.5h0M61.4 57.8h0M60.6 69.1h0M80.8 38.8h0M64.4 57.6h0M67.5 54.4h0M75.8 48.5h0M75.2 50.5h0M64.7 62.5h0M65.4 59.5h0M79.7 60.5h0M66.4 65.6h0M63.8 69.4h0M59.9 62.1h0M69.8 46.8h0M83.9 50.4h0M78.4 68.3h0M82.4 48.3h0M72.1 76.7h0M69.8 55.5h0M84.4 63.9h0M69.7 48.9h0M71.5 62.0h0M64.8 77.9h0M66.3 62.2h0M82.6 48.0h0M69.7 80.9h0M65.7 41.7h0M70.3 33.4h0M79.5 36.0h0M67.8 75.4h0M61.3 50.4h0M55.4 62.9h0M66.5 52.7h0M68.4 63.8h0M67.8 56.7h0M66.2 57.5h0M62.6 55.8h0M60.0 47.8h0M81.4 61.7h0M61.4 57.9h0M70.0 35.8h0M62.8 64.6h0M72.7 56.8h0M68.2 42.7h0M77.4 62.6h0M71.8 30.4h0M63.2 54.1h0M71.9 55.7h0M73.3 40.4h0M57.4 75.3h0M62.3 65.8h0M60.6 50.8h0M67.8 70.0h0M61.0 62.2h0M75.0 49.2h0M76.2 47.4h0M65.2 55.5h0M69.2 38.0h0M64.6 65.5h0M62.9 71.5h0M67.7 39.5h0M78.0 64.8h0M78.8 49.2h0M74.0 61.8h0M73.9 58.7h0M79.7 51.8h0M69.5 37.9h0M79.8 50.6h0M67.0 44.1h0M71.9 41.3h0M70.5 49.2h0M70.1 44.8h0M71.9 51.8h0M69.8 60.4h0M80.0 31.9h0M69.6 46.8h0M80.5 39.9h0M66.7 52.4h0M64.3 68.3h0M63.8 67.8h0M67.6 33.0h0M75.9 64.6h0M72.5 59.6h0M77.4 43.7h0M77.7 52.7h0M75.7 60.1h0M62.6 38.2h0M77.4 57.7h0M66.7 59.3h0M69.4 49.9h0M70.1 59.1h0M79.1 60.6h0M76.7 73.0h0M70.3 59.1h0M71.8 48.3h0M71.9 49.5h0M78.1 66.6h0M74.2 33.6h0M71.2 52.2h0M67.5 41.7h0M54.2 59.7h0M70.3 55.4h0M78.4 61.5h0M72.4 53.1h0M60.9 73.8h0M69.9 79.4h0M67.7 56.9h0M61.1 67.0h0M59.4 61.3h0M71.6 76.0h0M60.3 68.4h0M68.4 46.9h0M57.7 68.4h0M82.2 53.2h0M66.6 51.8h0M73.2 34.9h0M61.6 70.0h0M82.4 57.5h0M67.6 49.9h0M55.2 64.4h0M59.5 67.8h0M64.2 38.9h0M74.5 48.7h0M74.8 58.8h0M60.6 62.4h0M82.1 36.1h0M79.4 66.5h0M81.4 36.6h0M66.9 51.7h0M81.9 41.9h0M71.9 31.5h0M67.3 60.9h0M61.8 47.0h0M67.4 77.0h0M75.2 54.8h0M66.2 43.9h0M65.4 57.7h0M63.7 76.9h0M75.6 45.0h0M76.0 71.3h0M73.2 48.8h0M62.3 41.6h0M78.5 49.4h0M61.2 57.0h0M69.3 64.8h0M68.9 75.1h0M61.3 67.2h0M61.4 63.6h0M70.2 60.4h0M76.0 58.8h0M73.6 69.7h0M72.9 50.7h0M67.3 49.5h0M68.9 56.5h0M77.8 48.4h0M66.8 52.1h0M74.9 45.3h0M81.9 53.5h0M69.0 60.5h0M69.0 64.7h0M71.1 59.6h0M61.0 45.2h0M53.4 60.3h0M72.6 55.5h0M67.1 48.8h0M75.0 81.2h0M65.0 72.4h0M67.3 31.3h0M70.2 45.9h0M65.9 58.4h0M69.3 60.6h0M66.4 68.2h0M85.4 45.8h0M72.0 54.4h0M77.7 39.7h0M72.5 60.5h0M79.0 29.3h0M70.5 47.5h0M64.7 43.7h0M72.3 65.0h0M68.0 63.3h0M66.0 56.9h0M68.2 63.8h0M70.1 55.4h0M71.5 49.3h0M81.8 67.5h0M64.3 85.2h0M84.2 41.4h0M71.2 68.4h0M76.8 76.3h0M79.0 44.7h0M63.7 58.8h0M76.8 46.0h0M69.1 51.7h0M69.2 61.3h0M72.7 42.0h0M71.8 78.5h0M65.6 69.2h0M70.3 65.9h0M75.7 49.0h0M69.8 70.3h0M57.4 78.8h0M79.5 69.7h0M70.1 49.5h0M64.6 57.1h0M67.4 65.1h0M84.0 61.1h0M72.4 64.1h0M72.4 55.2h0M72.2 47.2h0M71.2 57.2h0M75.1 47.7h0M70.1 57.8h0M77.6 45.7h0M69.0 69.6h0M75.0 53.9h0M67.8 53.5h0M68.8 77.0h0M71.4 49.3h0M71.6 60.3h0M67.1 46.8h0M66.9 65.0h0M66.4 42.9h0M77.5 43.6h0M69.4 61.6h0M73.0 44.9h0M70.8 53.1h0M75.1 47.9h0M82.8 39.4h0M68.9 57.0h0M78.1 51.8h0M75.4 51.5h0M68.2 79.2h0M65.9 61.7h0M60.8 67.0h0M77.3 59.9h0M61.6 59.8h0M73.1 72.3h0M81.6 37.0h0M60.7 72.8h0M58.4 68.3h0M78.8 69.8h0M78.1 55.4h0M62.9 53.7h0M69.0 56.3h0M74.8 56.8h0M69.6 62.6h0M63.3 79.0h0M72.4 59.0h0M71.0 49.4h0M77.7 61.5h0M65.4 48.5h0M70.8 51.7h0M80.8 45.5h0M72.5 59.8h0M62.6 55.6h0M67.6 63.0h0M66.1 60.0h0M63.7 41.2h0M71.0 71.0h0M72.1 50.1h0M84.2 34.4h0M62.7 63.7h0M77.7 46.2h0M53.2 70.9h0M74.2 46.9h0M67.1 68.0h0M82.1 33.9h0M81.2 37.5h0M75.5 64.1h0M86.0 54.2h0M66.2 69.6h0M68.6 47.6h0M68.0 55.6h0M61.6 60.9h0M73.1 59.1h0M81.6 56.5h0M80.0 53.2h0M81.6 35.7h0M71.8 55.5h0M69.2 49.0h0M70.5 48.0h0M58.7 46.0h0M68.5 50.0h0M64.0 53.6h0M75.7 55.7h0M62.1 72.4h0M72.6 70.0h0M78.3 55.5h0M65.2 70.2h0M67.0 54.7h0M71.0 62.3h0M64.7 68.3h0M66.3 65.5h0M74.2 67.0h0M78.7 44.8h0M64.2 47.4h0M67.5 75.9h0M61.4 58.5h0M67.4 46.9h0M65.8 64.9h0M67.0 71.6h0M60.7 65.9h0M75.4 59.8h0M75.0 51.4h0M64.8 50.4h0M61.0 75.9h0M70.1 61.3h0M77.4 49.4h0M74.2 63.4h0M58.5 61.5h0M71.7 63.6h0M81.2 55.3h0M70.4 67.0h0M60.1 69.7h0M65.8 39.1h0M77.1 45.3h0M75.3 37.5h0M74.5 43.9h0M77.6 39.7h0M73.7 54.9h0M70.6 56.5h0M75.6 41.8h0M65.9 50.1h0M79.8 34.5h0M67.5 48.5h0M62.3 59.1h0M72.1 47.2h0M61.0 64.9h0M63.8 62.9h0M79.6 35.6h0M63.4 55.2h0M69.3 67.1h0M71.2 71.0h0M68.5 54.0h0M76.3 53.6h0M82.2 40.3h0M74.6 56.4h0M54.4 65.1h0M71.8 58.0h0M65.1 49.7h0M82.3 50.2h0M63.1 53.4h0M70.9 45.6h0M61.0 68.0h0M54.1 77.7h0M70.6 43.2h0M72.8 65.4h0M60.9 64.1h0M62.1 42.8h0M77.8 56.3h0M60.2 60.9h0M75.7 58.7h0M60.2 49.7h0M69.8 67.1h0M82.3 57.7h0M67.2 55.8h0M80.8 48.3h0M77.3 50.7h0M70.3 66.2h0M63.1 54.0h0M69.3 64.6h0M67.9 43.7h0M69.6 54.2h0M57.5 65.4h0M61.5 73.2h0M75.1 59.0h0M78.5 45.4h0M70.1 49.8h0M62.2 55.0h0M63.9 74.0h0M66.1 50.0h0M71.1 62.8h0M71.9 51.6h0M71.7 62.4h0M59.7 50.6h0M65.9 40.6h0M70.7 58.2h0M73.9 47.0h0M72.1 46.0h0M69.8 66.1h0M76.2 75.5h0M66.7 50.3h0M63.1 59.1h0M79.6 69.3h0M61.1 38.2h0M60.2 60.9h0M68.9 60.8h0M83.9 50.7h0M57.7 78.9h0M74.9 48.6h0M63.1 35.3h0M54.8 53.4h0M66.7 69.1h0M71.7 48.7h0M58.6 78.4h0M58.6 56.0h0M67.9 64.6h0M65.7 62.4h0M75.5 57.0h0M67.9 54.1h0M64.8 52.9h0M67.4 59.1h0M73.4 75.2h0M65.1 63.5h0M69.0 66.8h0M69.2 60.4h0M70.0 47.0h0M70.6 74.2h0M72.5 63.6h0M73.3 52.4h0M56.7 61.7h0M73.2 51.0h0M59.5 70.5h0M52.6 74.7h0M65.3 86.5h0M65.7 55.6h0M66.3 58.1h0M71.4 47.9h0M79.4 49.9h0M64.9 62.8h0M68.3 51.0h0M73.5 53.5h0M62.7 53.7h0M62.5 77.0h0M59.8 66.6h0M66.5 51.5h0M67.0 59.8h0M68.9 79.6h0M61.3 71.8h0M73.1 68.7h0M62.1 66.5h0M68.1 61.2h0M65.9 64.6h0M72.7 72.7h0M65.1 68.6h0M82.3 48.8h0M83.9 44.1h0M71.2 65.3h0M78.1 63.3h0M69.9 46.9h0M59.6 63.9h0M71.2 48.2h0M76.0 49.1h0M69.0 50.9h0M74.8 77.6h0M74.7 38.3h0M71.4 58.6h0M70.1 64.6h0M64.7 67.6h0M74.4 61.3h0M69.3 50.7h0M78.2 45.5h0M71.7 48.0h0M59.3 61.8h0M69.7 57.6h0M80.8 41.1h0M68.5 60.5h0M79.0 45.9h0M73.6 61.1h0M74.2 73.2h0M65.6 83.7h0M71.5 52.2h0M71.3 45.4h0M76.6 34.9h0M67.9 62.1h0M77.3 54.9h0M80.9 52.1h0M76.0 34.7h0M68.2 46.4h0M77.1 66.1h0M61.5 61.4h0M73.7 55.4h0M71.2 53.7h0M73.0 35.7h0M64.9 71.9h0M79.5 56.6h0M66.3 53.4h0M74.1 62.9h0M65.2 60.3h0M66.9 62.8h0M72.8 39.4h0M67.7 66.1h0M63.8 53.9h0M76.6 54.5h0M58.9 79.5h0M71.3 70.6h0M58.6 74.3h0M62.0 48.2h0M69.7 73.9h0M66.8 47.8h0M78.0 35.3h0M71.8 64.8h0M65.4 62.6h0M73.5 62.2h0M67.8 75.6h0M66.6 58.2h0M63.3 68.2h0M65.9 61.9h0M70.6 58.2h0M80.5 59.3h0M75.5 69.3h0M78.4 57.7h0M72.8 67.6h0M65.4 59.2h0M69.4 56.6h0M80.2 51.3h0M66.2 34.2h0M69.6 49.0h0M68.1 63.7h0M79.3 63.9h0M75.3 49.6h0M68.7 73.8h0M84.8 37.3h0M69.7 76.9h0M80.1 41.6h0M66.1 63.4h0M75.3 48.7h0M61.4 66.6h0M57.1 71.2h0M69.1 60.7h0M64.2 48.0h0M79.2 41.6h0M87.1 44.9h0M62.7 55.5h0M70.3 66.4h0M68.5 54.2h0M70.6 50.2h0M70.9 59.5h0M65.4 58.9h0M70.2 56.3h0M82.5 39.6h0M75.2 45.5h0M62.9 73.7h0M64.0 54.1h0M63.2 67.0h0M70.1 36.3h0M74.3 54.1h0M64.4 68.9h0M66.1 51.4h0M69.4 62.2h0M63.4 68.1h0M84.6 56.6h0M79.5 55.8h0M72.0 53.6h0M70.7 41.5h0M63.2 71.3h0M77.9 55.3h0M69.3 48.3h0M56.7 75.6h0M73.5 59.7h0M70.7 44.7h0M75.0 68.5h0M61.0 66.8h0M61.3 62.5h0M65.8 50.8h0M71.4 63.0h0M78.9 49.5h0M74.6 75.3h0M68.3 62.5h0M66.0 54.1h0M61.9 55.8h0M66.5 72.9h0M72.7 68.2h0M68.7 54.0h0M67.2 59.1h0M56.0 62.5h0M62.6 48.5h0M71.9 51.4h0M80.1 59.1h0M75.1 73.4h0M65.7 60.9h0M78.8 55.7h0M72.5 51.0h0M71.6 53.3h0M67.0 68.8h0M77.7 61.2h0M68.2 67.3h0M72.0 44.6h0M79.8 48.6h0M78.8 47.9h0M84.4 48.6h0M69.8 75.8h0M59.2 72.4h0M71.3 35.6h0M71.8 66.5h0M77.6 28.1h0M70.7 53.6h0M68.8 53.2h0M61.5 47.5h0M75.2 78.0h0M70.4 48.4h0M68.6 70.0h0M78.3 45.2h0M70.5 59.1h0M74.3 73.4h0M68.8 72.0h0M62.3 74.0h0M66.1 60.9h0M78.6 48.4h0M72.0 35.9h0M71.2 56.9h0M66.3 62.3h0M57.6 53.1h0M71.4 54.3h0M68.6 78.6h0M70.7 45.7h0M66.1 57.2h0M76.4 48.5h0M79.4 47.3h0M73.4 63.5h0M65.2 82.6h0M69.0 54.8h0M69.8 67.9h0M61.2 57.9h0M63.4 63.0h0M77.9 60.2h0M68.7 59.1h0M72.7 60.1h0M70.2 48.2h0M64.7 70.7h0M64.7 72.4h0M56.5 47.3h0M71.7 57.5h0M62.6 46.6h0M81.8 44.7h0M68.0 42.9h0M64.5 63.5h0M80.6 35.2h0M80.6 53.1h0M60.7 75.1h0M73.8 42.9h0M68.8 47.8h0M65.2 51.6h0M73.9 62.8h0M63.8 56.7h0M67.5 65.9h0M66.5 61.8h0M82.0 62.1h0M62.5 59.0h0M66.6 51.5h0M69.9 61.4h0M65.4 66.3h0M73.4 42.0h0M76.4 54.6h0M79.4 51.9h0M72.3 61.8h0M58.5 71.2h0M55.7 64.2h0M74.7 64.8h0M75.7 52.8h0M69.2 59.7h0M70.0 66.0h0M71.2 48.8h0M65.3 60.9h0M64.6 39.9h0M69.5 50.2h0M68.9 53.7h0M81.5 36.1h0M66.5 62.1h0M68.7 71.7h0M79.9 47.1h0M74.9 54.5h0M59.9 73.2h0M69.3 46.3h0M70.6 46.8h0M74.6 63.3h0M76.8 64.4h0M62.7 68.0h0M67.8 50.7h0M68.9 57.3h0M79.1 52.4h0M72.2 57.5h0M66.4 42.4h0M67.3 61.4h0M70.2 63.2h0M71.9 52.2h0M76.0 46.5h0M63.2 51.0h0M63.4 48.7h0M67.5 49.5h0M72.5 48.0h0M73.5 36.9h0M73.9 47.4h0M64.4 58.5h0M56.9 48.7h0M70.2 58.5h0M60.4 57.1h0M74.3 46.3h0M74.6 58.0h0M71.7 52.1h0M72.9 59.3h0M75.1 64.4h0M67.1 53.5h0M76.7 54.7h0M70.4 63.9h0M77.1 30.2h0M70.0 59.9h0M73.5 48.7h0M77.6 57.8h0M68.8 47.9h0M75.9 45.3h0M57.1 78.3h0M74.1 71.7h0M76.0 66.5h0M55.8 67.9h0M75.6 65.1h0M54.1 67.9h0M79.8 54.0h0M68.0 66.3h0M65.6 69.7h0M68.1 65.3h0M75.7 40.4h0M67.1 72.8h0M70.7 79.0h0M75.4 51.4h0M76.9 35.2h0M65.7 67.3h0M56.5 55.5h0M70.2 74.0h0M66.8 48.0h0M62.4 42.1h0M65.9 82.0h0M58.3 71.0h0M74.3 52.3h0M68.8 59.6h0M83.0 62.9h0M71.0 74.7h0M71.8 62.3h0M70.3 52.2h0M55.8 77.4h0M74.7 32.4h0M71.7 57.3h0M64.7 78.4h0M70.3 53.9h0M65.6 55.6h0M66.7 58.8h0M58.1 77.9h0M72.3 68.2h0M71.4 68.0h0M69.0 74.7h0M71.2 74.6h0M67.0 56.3h0M62.3 66.9h0M76.6 53.3h0M81.3 46.6h0M67.2 64.4h0M68.4 61.6h0M75.9 63.1h0M60.9 63.5h0M69.0 58.3h0M71.5 40.2h0M63.8 50.8h0M80.9 45.9h0M63.8 62.0h0M63.1 63.4h0M66.0 59.9h0M70.6 57.4h0M64.3 36.9h0M64.8 73.4h0M64.9 62.4h0M69.3 63.1h0M81.2 41.7h0M72.3 55.6h0M71.2 46.8h0M68.9 43.9h0M80.1 60.4h0M77.9 47.3h0M65.8 74.1h0M73.3 45.6h0M72.1 45.2h0M62.5 52.0h0M70.5 47.1h0M68.0 44.8h0M66.5 73.7h0M60.8 82.7h0M59.4 57.4h0M63.7 53.2h0M68.6 63.8h0M78.7 52.8h0M63.3 52.8h0M74.2 49.7h0M69.4 78.3h0M60.2 58.8h0M82.9 36.8h0M72.0 55.0h0M56.9 69.8h0M73.0 52.1h0M70.4 65.4h0M72.5 65.3h0M76.6 44.3h0M67.0 57.9h0M71.5 44.3h0M58.3 56.8h0M72.3 50.5h0M70.7 46.2h0M65.9 54.7h0M63.8 63.9h0M68.7 58.5h0M67.9 72.6h0M72.8 60.9h0M71.9 47.6h0M65.5 64.5h0M72.7 53.1h0M67.5 37.1h0M68.3 69.7h0M77.1 42.0h0M67.9 59.4h0M63.3 59.5h0M71.8 47.2h0M59.7 64.3h0M75.3 47.6h0M60.8 65.6h0M74.6 54.8h0M80.5 56.8h0M59.8 67.9h0M67.7 60.8h0M73.8 45.7h0M63.6 52.8h0M81.9 48.2h0M77.3 62.2h0M62.4 58.3h0M76.6 47.9h0M56.0 57.4h0M61.8 60.3h0M59.1 52.1h0M70.4 38.6h0M68.0 58.7h0M70.8 42.6h0M77.4 37.4h0M71.5 63.8h0M76.9 70.4h0M71.2 60.9h0M74.8 42.0h0M76.8 65.9h0M72.3 43.5h0M77.0 66.0h0M60.6 62.8h0M81.4 60.4h0M73.8 53.1h0M62.5 68.4h0M66.5 66.1h0M65.6 65.0h0M78.5 47.0h0M63.9 54.4h0M74.0 61.9h0M82.2 43.6h0M75.1 50.9h0M69.5 61.1h0M65.0 52.8h0M62.2 58.1h0M66.7 50.0h0M73.6 50.1h0M79.1 52.0h0M74.0 62.0h0M64.6 52.8h0M66.3 51.5h0M62.0 77.6h0M62.0 74.5h0M77.2 43.0h0M53.9 60.8h0M55.7 61.8h0M74.7 63.6h0M69.6 53.9h0M72.6 54.2h0M68.1 52.0h0M79.1 52.2h0M76.3 44.7h0M70.6 40.1h0M66.4 64.7h0M73.5 52.1h0M74.8 54.3h0M71.2 61.0h0M81.9 29.7h0M59.6 63.7h0M61.5 82.8h0M70.5 50.4h0M76.9 66.3h0M79.5 66.5h0M66.3 65.1h0M66.9 50.7h0M67.5 53.6h0M76.3 53.1h0M73.7 52.1h0M68.2 58.8h0M60.1 66.9h0M66.8 72.3h0M73.4 66.3h0M72.9 44.5h0M70.3 51.5h0M73.1 52.3h0M78.6 53.9h0M65.3 67.4h0M74.3 43.3h0M73.1 55.7h0M57.1 55.7h0M66.4 46.8h0M71.8 61.5h0M60.7 81.5h0M74.6 50.9h0M71.8 56.2h0M54.6 78.3h0M69.9 53.7h0M63.2 67.4h0M64.2 76.8h0M68.9 77.5h0M68.0 61.3h0M68.0 54.5h0M61.8 47.4h0M66.7 48.0h0M76.3 62.4h0M74.2 69.2h0M71.9 70.3h0M63.6 65.3h0M70.0 50.6h0M69.5 84.1h0M58.2 75.3h0M77.9 49.0h0M70.3 61.9h0M73.5 53.8h0M62.3 55.2h0M72.3 67.7h0M70.0 71.0h0M64.3 54.9h0M68.5 69.2h0M69.1 63.4h0M63.5 81.4h0M57.2 53.0h0M83.8 64.4h0M58.7 55.4h0M63.9 46.9h0M65.3 77.2h0M70.4 65.7h0M75.3 61.3h0M65.3 54.5h0M73.0 54.6h0M67.3 51.9h0M64.7 42.8h0M70.7 52.9h0M65.3 73.3h0M71.9 57.4h0M66.8 42.8h0M75.3 47.9h0M76.3 45.7h0M71.0 56.6h0M77.2 54.5h0M66.9 59.3h0M64.4 76.6h0M70.4 50.6h0M66.5 62.0h0M69.0 65.5h0M80.9 60.2h0M62.3 56.8h0M80.2 32.5h0M75.2 40.4h0M67.9 73.8h0M81.3 41.9h0M75.0 70.0h0M66.1 62.3h0M80.1 56.1h0M71.9 50.8h0M84.3 34.7h0M81.7 48.7h0M81.1 40.3h0M66.6 48.7h0M80.5 40.2h0M75.8 51.0h0M78.4 55.9h0M73.5 56.1h0M81.8 56.3h0M62.9 79.8h0M68.1 65.2h0M65.0 58.2h0M56.3 54.3h0M71.4 38.9h0M57.7 67.7h0M77.8 40.7h0M83.1 52.5h0M67.0 59.3h0M68.9 36.7h0M61.5 69.3h0M81.1 40.9h0M77.0 59.8h0M72.8 58.7h0M75.9 46.5h0M67.1 47.5h0M65.7 63.6h0M57.3 73.2h0M68.3 49.3h0M72.6 63.4h0M71.7 44.4h0M69.7 37.2h0M73.0 71.6h0M79.3 66.3h0M69.3 66.4h0M76.5 56.0h0M64.6 82.4h0M64.9 38.1h0M61.7 64.1h0M78.2 55.5h0M74.1 57.9h0M73.7 51.6h0M69.9 57.1h0M68.9 84.7h0M57.4 60.0h0M66.6 68.2h0M73.5 68.0h0M78.1 47.8h0M54.1 73.2h0M80.4 48.5h0M75.3 67.1h0M52.4 63.0h0M60.1 68.7h0M68.6 47.5h0M61.7 51.9h0M78.3 51.4h0M78.5 68.4h0M71.1 42.4h0M58.4 60.6h0M81.4 47.4h0M71.0 54.0h0M66.7 62.5h0M84.6 53.7h0M71.2 71.2h0M68.8 55.0h0M58.3 67.1h0M69.2 48.8h0M73.4 47.5h0M64.9 51.9h0M79.5 57.5h0M78.2 41.4h0M73.0 38.9h0M67.3 64.0h0M62.9 44.0h0M74.8 47.1h0M71.3 69.6h0M74.1 53.1h0M71.9 49.9h0M68.1 60.6h0M64.8 67.8h0M69.1 67.2h0M74.6 55.6h0M63.7 67.8h0M71.9 64.1h0M63.0 63.0h0M75.3 56.5h0M66.2 83.2h0M56.8 60.8h0M67.9 39.5h0M66.7 63.0h0M74.4 43.9h0M63.4 48.2h0M73.0 47.7h0M55.0 74.6h0M65.6 53.9h0M68.8 49.5h0M71.3 53.9h0M77.8 44.7h0M54.4 76.9h0M66.9 65.9h0M75.0 65.7h0M75.7 39.4h0M57.1 65.5h0M72.0 65.0h0M67.9 41.7h0M74.5 45.8h0M81.6 52.9h0M63.6 66.1h0M75.1 47.5h0M68.1 80.8h0M63.6 52.1h0M70.4 32.9h0M71.3 66.4h0M74.3 63.9h0M58.1 53.2h0M70.2 42.4h0M60.7 64.0h0M61.3 79.3h0M79.5 36.1h0M70.9 73.2h0M74.5 43.3h0M85.1 45.3h0M76.2 35.1h0M68.5 35.3h0M72.3 72.8h0M72.4 40.8h0M68.3 61.5h0M65.0 41.0h0M66.9 65.1h0M68.9 62.5h0M75.1 47.2h0M70.6 52.6h0M75.6 49.1h0M78.5 60.2h0M70.9 65.4h0M74.8 63.8h0M61.8 46.7h0M79.4 66.1h0M71.7 63.6h0M68.6 48.2h0M62.0 69.4h0M65.9 78.5h0M66.3 80.0h0M76.9 44.3h0M79.2 64.3h0M76.4 61.9h0M67.4 58.6h0M67.5 41.3h0M66.5 49.5h0M62.2 53.5h0M64.6 81.3h0M81.2 60.0h0M76.1 56.3h0M72.5 57.5h0M66.5 57.1h0M59.5 59.6h0M72.1 44.1h0M65.9 63.0h0M64.2 61.5h0M67.9 76.4h0M63.9 53.9h0M67.7 75.6h0M68.9 66.5h0M63.2 47.7h0M81.0 56.9h0M85.6 52.7h0M74.0 38.1h0M72.9 61.5h0M81.6 62.9h0M73.5 40.3h0M66.1 68.1h0M70.1 72.9h0M75.4 58.3h0M73.0 60.3h0M55.8 74.8h0M76.0 45.6h0M71.3 61.3h0M70.9 76.0h0M82.7 48.9h0M57.8 57.0h0M70.8 61.9h0M65.0 49.7h0M68.5 66.3h0M82.2 64.7h0M74.8 28.4h0M77.0 57.6h0M72.9 45.4h0M80.9 37.5h0M70.2 58.8h0M67.1 73.1h0M69.1 58.1h0M80.8 40.6h0M68.0 57.5h0M78.7 49.6h0M73.5 63.2h0M66.3 37.0h0M60.8 56.2h0M68.7 66.1h0M77.0 52.2h0M73.6 68.8h0M71.1 63.7h0M60.9 59.1h0M68.0 41.2h0M67.4 58.2h0M70.9 53.2h0M63.2 57.5h0M70.6 39.2h0M65.3 74.5h0M71.4 43.9h0M72.3 80.0h0M69.0 54.2h0M67.2 69.2h0M79.3 36.6h0M67.7 40.6h0M72.3 59.3h0M81.9 57.3h0M71.6 58.7h0M62.5 84.8h0M66.4 75.1h0M80.1 52.4h0M75.6 54.0h0M70.1 59.3h0M71.8 51.7h0M80.5 57.0h0M68.2 78.4h0M70.1 70.5h0M74.5 72.7h0M85.6 43.5h0M81.8 61.2h0M61.6 46.4h0M61.6 54.3h0M64.5 42.5h0M71.2 59.6h0M66.0 52.9h0M69.1 57.9h0M70.8 54.6h0M81.2 39.8h0M66.5 57.9h0M69.5 49.9h0M66.6 58.9h0M78.3 57.3h0M67.1 60.9h0M75.5 33.8h0M73.0 53.2h0M64.2 63.6h0M72.3 50.6h0M70.5 55.8h0M71.9 60.7h0M71.7 41.3h0M63.8 53.5h0M60.2 64.0h0M68.4 33.5h0M75.2 35.8h0M83.6 48.5h0M70.6 54.2h0M71.4 34.7h0M55.5 64.0h0M68.4 84.8h0M59.0 61.1h0M66.8 67.2h0M64.2 64.8h0M73.3 66.1h0M79.5 57.8h0M82.0 51.8h0M73.0 47.7h0M66.3 69.4h0M74.1 59.7h0M85.8 42.9h0M59.5 73.6h0M79.5 33.2h0M76.4 43.8h0M74.9 73.5h0M62.0 71.5h0M61.6 66.6h0M74.0 56.8h0M62.3 51.2h0M58.0 46.2h0M54.3 68.2h0M72.2 62.7h0M59.2 81.4h0M74.5 59.4h0M69.5 69.5h0M71.5 39.3h0M75.8 37.3h0M67.2 66.4h0M78.3 63.2h0M68.5 66.5h0M79.7 56.0h0M65.4 45.5h0M65.5 44.3h0M68.0 61.0h0M70.7 58.3h0M66.3 61.6h0M72.7 67.9h0M80.2 56.6h0M62.3 76.8h0M69.7 62.5h0M64.4 68.1h0M71.2 44.5h0M71.2 51.8h0M76.5 54.3h0M71.5 54.9h0M74.4 50.4h0M81.9 42.4h0M70.2 48.1h0M73.8 58.9h0M74.2 54.2h0M69.7 42.6h0M69.9 50.2h0M70.4 61.9h0M76.4 57.8h0M69.3 43.2h0M69.1 61.6h0M81.3 63.0h0M59.2 69.6h0M72.1 75.3h0M66.5 68.5h0M67.3 55.5h0M63.7 78.4h0M65.2 68.1h0M73.0 48.9h0M69.1 65.5h0M63.3 63.4h0M68.8 45.5h0M72.2 54.8h0M69.9 36.0h0M69.3 60.1h0M66.5 58.6h0M59.2 59.0h0M71.5 61.3h0M66.0 57.0h0M66.9 70.1h0M70.8 60.7h0M62.4 66.1h0M79.0 53.5h0M72.8 62.0h0M74.4 41.9h0M73.2 53.3h0M78.5 54.3h0M68.0 64.5h0M74.7 51.9h0M72.7 63.1h0M77.9 53.0h0M71.1 52.5h0M64.0 58.7h0M67.4 74.8h0M66.6 61.2h0M77.4 58.0h0M69.9 58.9h0M69.4 44.2h0M76.2 61.3h0M74.0 42.4h0M66.5 71.3h0M66.2 44.5h0M71.6 76.2h0M81.5 53.6h0M76.4 49.4h0M74.5 53.9h0M66.4 73.4h0M72.9 55.0h0M69.4 60.4h0M66.1 58.7h0M68.0 76.7h0M61.7 39.3h0M59.3 65.2h0M84.2 64.0h0M66.6 70.9h0M55.8 50.5h0M68.7 50.5h0M74.2 50.9h0M76.8 59.2h0M63.2 87.8h0M63.9 67.3h0M60.5 70.4h0M75.4 60.6h0M70.2 78.0h0M78.4 59.8h0M65.7 70.1h0M63.2 47.4h0M70.9 64.8h0M75.0 81.3h0M70.4 63.0h0M62.7 52.6h0M72.4 55.0h0M68.2 64.5h0M66.3 48.8h0M55.1 67.4h0M69.7 35.2h0M75.4 56.1h0M77.2 54.7h0M80.3 69.5h0M70.5 58.8h0M65.9 66.3h0M83.6 56.0h0M61.3 62.2h0M81.8 41.7h0M69.4 44.2h0M71.6 64.2h0M69.6 42.6h0M81.5 34.4h0M74.4 56.6h0M78.0 72.4h0M67.5 52.9h0M70.9 48.2h0M67.0 68.6h0M61.7 51.8h0M76.4 68.6h0M68.0 46.3h0M70.6 36.9h0M76.7 60.1h0M70.9 39.2h0M69.5 50.5h0M82.0 55.0h0M66.9 69.9h0M74.7 56.3h0M75.2 53.2h0M72.9 45.9h0M69.9 38.2h0M71.2 64.2h0M68.3 66.6h0M72.8 59.6h0M62.6 62.5h0M74.9 66.7h0M79.2 54.0h0M59.7 70.0h0M65.6 59.0h0M68.8 57.1h0M70.3 50.4h0M78.1 35.2h0M68.6 42.4h0M67.6 77.3h0M65.9 65.4h0M78.0 43.8h0M83.3 39.8h0M67.8 52.0h0M77.1 60.9h0M72.1 47.6h0M70.4 57.9h0M69.4 74.7h0M74.4 58.8h0M63.4 75.5h0M71.3 57.4h0M75.2 78.7h0M73.8 57.0h0M62.4 68.4h0M63.9 67.5h0M64.9 57.0h0M71.9 59.6h0M70.0 62.1h0M67.2 42.3h0M62.7 77.9h0M72.5 46.2h0M65.9 56.4h0M79.1 52.8h0M72.7 60.4h0M71.2 45.6h0M71.7 48.5h0M79.5 37.8h0M74.1 68.1h0M68.2 75.6h0M79.7 38.5h0M68.7 62.5h0M69.9 42.9h0M70.8 63.9h0M68.3 53.6h0M69.0 49.7h0M65.9 69.5h0M61.6 50.3h0M78.5 63.8h0M68.0 67.1h0M68.3 41.4h0M65.2 37.3h0M68.5 67.5h0M69.9 48.6h0M70.2 65.0h0M78.3 35.7h0M75.7 26.9h0M74.5 47.8h0M60.8 73.4h0M76.2 65.2h0M71.0 59.7h0M66.7 55.5h0M84.5 50.6h0M65.5 57.9h0M72.4 68.5h0M64.7 53.9h0M72.8 42.5h0M72.2 51.8h0M73.9 63.9h0M65.1 56.7h0M70.1 49.2h0M63.3 68.6h0M73.6 36.7h0M62.5 65.1h0M86.5 49.0h0M69.0 52.8h0M60.2 59.3h0M68.7 60.3h0M84.3 58.2h0M71.8 68.3h0M68.3 49.2h0M76.7 68.3h0M74.7 44.9h0M73.4 64.9h0M73.8 61.8h0M72.3 51.0h0M71.0 60.6h0M70.0 70.9h0M73.8 51.5h0M69.3 76.6h0M63.6 60.5h0M71.4 64.4h0M73.3 57.1h0M63.5 76.5h0M85.2 44.2h0M53.4 57.6h0M67.8 50.0h0M59.3 58.4h0M71.6 50.9h0M66.8 86.9h0M74.6 73.4h0M65.2 64.0h0M65.7 70.5h0M73.6 57.9h0M75.8 49.9h0M69.4 76.0h0M65.9 63.0h0M56.8 65.0h0M78.8 47.0h0M80.0 61.7h0M64.5 38.3h0M76.2 55.7h0M82.0 41.4h0M66.0 68.3h0M63.6 63.8h0M66.7 60.5h0M64.1 83.5h0M59.9 63.9h0M81.8 46.6h0M62.4 84.0h0M74.6 37.1h0M74.4 49.4h0M69.6 46.5h0M73.4 52.4h0M65.4 52.9h0M75.4 48.1h0M82.5 40.1h0M73.8 53.5h0M81.6 52.7h0M70.8 40.5h0M79.6 67.9h0M64.7 51.4h0M58.9 73.0h0M79.7 34.5h0M68.0 68.1h0M68.3 62.7h0M68.6 59.4h0M73.8 49.4h0M71.5 59.7h0M72.2 49.3h0M63.1 58.2h0M83.4 30.8h0M62.0 71.8h0M78.0 50.7h0M81.5 48.3h0M58.5 78.1h0M68.2 53.9h0M63.7 42.6h0M63.5 53.5h0M55.3 66.1h0M70.0 49.6h0M63.6 64.6h0M80.6 55.3h0M73.9 78.7h0M76.9 63.1h0M58.8 62.3h0M66.9 58.7h0M59.8 50.5h0M74.7 46.8h0M65.8 77.0h0M73.8 49.7h0M63.1 60.2h0M74.6 29.7h0M68.6 67.3h0M60.1 72.7h0M68.8 71.9h0M60.9 54.4h0M72.4 83.4h0M77.9 59.6h0M73.3 50.3h0M79.0 51.2h0M78.0 33.6h0M54.7 75.0h0M69.6 59.8h0M57.0 52.8h0M87.6 43.7h0M56.4 51.0h0M67.6 53.8h0M67.3 39.2h0M60.4 62.4h0M66.8 66.6h0M61.5 62.1h0M67.0 57.4h0M75.5 59.3h0M73.8 37.3h0M67.6 66.4h0M66.5 55.3h0M64.2 38.5h0M67.8 73.0h0M74.1 37.2h0M73.3 38.4h0M61.5 79.1h0M72.3 56.0h0M77.6 54.7h0M71.3 60.1h0M77.9 40.9h0M71.1 68.8h0M59.3 72.9h0M67.7 65.1h0M70.2 68.6h0M68.3 49.2h0M70.1 65.0h0M72.2 62.2h0M63.2 69.2h0M69.0 70.5h0M54.6 55.2h0M65.6 57.4h0M68.2 52.7h0M69.9 61.6h0M63.4 62.1h0M63.4 60.7h0M71.1 45.5h0M71.1 78.7h0M69.6 56.4h0M80.5 43.4h0M60.7 68.8h0M77.2 53.1h0M64.1 59.9h0M63.3 48.8h0M77.4 27.9h0M70.8 67.2h0M81.6 42.3h0M65.2 45.3h0M54.7 78.9h0M65.2 51.7h0M69.6 62.9h0M82.7 47.1h0M74.8 60.6h0M62.4 56.8h0M55.7 73.7h0M62.0 67.7h0M80.1 52.3h0M64.1 57.1h0M60.4 65.8h0M73.8 48.5h0M63.2 64.5h0M55.1 74.4h0M65.9 53.4h0M58.5 74.6h0M70.3 74.1h0M73.6 59.5h0M77.9 68.2h0M70.6 64.8h0M73.5 61.9h0M74.7 38.1h0M87.2 45.7h0M59.5 44.8h0M77.4 75.2h0M65.4 59.2h0M77.0 33.7h0M66.9 60.0h0M81.5 45.2h0M71.7 58.8h0M70.4 59.2h0M72.7 40.4h0M71.4 62.6h0M69.0 73.0h0M63.0 60.2h0M67.3 65.8h0M71.1 49.8h0M69.6 63.8h0M59.3 71.0h0M75.4 64.6h0M70.2 54.2h0M57.6 61.9h0M65.9 49.4h0M79.4 48.2h0M63.7 66.4h0M83.9 52.5h0M79.1 51.5h0M70.6 63.7h0M59.3 67.2h0M80.8 61.2h0M75.9 43.8h0M80.7 61.3h0M59.4 63.9h0M63.5 46.3h0M52.0 69.5h0M85.8 53.8h0M68.1 49.1h0M64.5 62.7h0M82.6 48.0h0M79.2 36.6h0M79.6 59.0h0M60.2 74.0h0M64.4 73.2h0M70.6 78.9h0M64.9 56.4h0M73.0 55.6h0M81.9 51.6h0M71.2 75.2h0M61.6 42.0h0M66.4 49.0h0M73.0 55.9h0M72.1 51.9h0M67.7 62.8h0M77.4 49.3h0M72.1 48.0h0M74.1 39.8h0M73.4 66.9h0M71.7 48.9h0M69.6 48.5h0M54.6 73.7h0M60.8 61.9h0M79.4 39.7h0M56.3 60.0h0M52.7 70.3h0M66.7 57.3h0M72.0 50.6h0M70.2 53.4h0M77.9 58.4h0M71.7 50.9h0M68.8 47.3h0M63.4 79.0h0M76.0 62.1h0M76.5 72.3h0M71.9 55.6h0M62.4 58.1h0M73.8 37.8h0M55.1 77.8h0M69.5 63.5h0M72.9 52.1h0M68.9 70.9h0M66.3 62.7h0M78.0 53.4h0M73.7 48.7h0M75.0 54.0h0M79.8 50.3h0M81.5 56.7h0M68.1 44.9h0M77.2 48.3h0M76.4 75.8h0M78.3 41.3h0M72.5 48.5h0M57.4 58.9h0M85.4 55.0h0M70.3 73.9h0M65.4 51.4h0M69.9 63.3h0M62.2 57.6h0M65.9 68.3h0M62.3 47.5h0M68.1 52.5h0M76.7 51.1h0M71.4 70.9h0M76.6 56.6h0M65.8 52.6h0M73.6 59.9h0M71.5 65.1h0M68.0 44.5h0M80.6 54.1h0M53.6 76.3h0M68.3 44.6h0M80.0 45.6h0M60.9 68.0h0M70.6 58.1h0M66.9 53.4h0M67.0 56.0h0M79.3 43.6h0M72.0 30.7h0M79.5 59.1h0M70.1 56.5h0M75.0 62.9h0M75.8 56.8h0M69.5 56.3h0M54.7 66.6h0M63.9 42.5h0M73.9 59.1h0M68.8 79.0h0M76.4 77.1h0M61.2 81.1h0M64.9 54.5h0M76.9 56.5h0M70.5 52.8h0M73.9 72.1h0M67.5 63.7h0M60.1 68.5h0M78.7 59.1h0M69.7 50.8h0M73.4 42.0h0M55.7 74.4h0M67.9 63.7h0M70.2 63.4h0M64.1 43.1h0M70.3 70.2h0M65.1 48.2h0M61.1 62.9h0M72.0 58.2h0M64.8 60.1h0M72.9 48.4h0M74.4 49.9h0M73.6 66.4h0M63.7 62.9h0M73.0 49.0h0M70.4 35.8h0M61.8 59.2h0M79.7 52.0h0M69.7 61.6h0M73.2 63.9h0M74.7 68.6h0M63.9 60.5h0M56.3 50.7h0M68.0 64.1h0M65.1 66.5h0M81.1 49.7h0M65.7 59.3h0M72.5 59.8h0M79.4 44.7h0M70.5 72.5h0M75.2 64.3h0M67.1 61.5h0M75.3 38.2h0M66.4 55.6h0M70.2 45.2h0M69.9 52.4h0M70.6 56.8h0M67.5 69.3h0M69.4 62.3h0M65.1 64.5h0M70.2 49.2h0M59.2 65.5h0M65.9 59.1h0M75.0 65.7h0M84.2 59.8h0M73.3 67.2h0M65.8 56.5h0M70.3 44.0h0M74.6 48.6h0M83.0 51.6h0M66.3 57.3h0M66.6 56.9h0M71.4 39.2h0M77.7 65.3h0M72.6 52.0h0M68.0 60.5h0M64.4 45.1h0M60.0 70.5h0M59.3 69.1h0M69.4 57.4h0M75.1 70.1h0M79.6 46.3h0M70.9 79.2h0M71.1 51.3h0M59.6 67.2h0M71.8 57.8h0M56.6 74.1h0M75.4 58.6h0M82.5 48.7h0M79.0 47.0h0M79.6 56.6h0M79.0 54.6h0M68.3 71.5h0M64.1 56.7h0M61.8 65.7h0M67.7 51.6h0M64.5 70.6h0M63.7 54.9h0M70.0 50.1h0M65.8 53.8h0M76.8 39.2h0M75.7 43.6h0M61.8 84.3h0M64.3 54.6h0M64.9 68.4h0M73.6 35.1h0M59.5 56.3h0M67.7 70.3h0M64.3 64.1h0M58.8 70.6h0M72.0 49.0h0M64.8 78.2h0M69.3 40.9h0M68.0 41.6h0M68.4 61.3h0M68.3 59.2h0M78.3 56.0h0M73.9 49.6h0M67.0 61.6h0M78.5 39.5h0M63.9 56.3h0M65.0 70.5h0M74.4 31.8h0M83.1 40.0h0M62.6 60.0h0M69.5 64.0h0M59.3 82.7h0M75.9 49.7h0M83.8 39.5h0M65.4 59.5h0M74.3 46.1h0M74.3 77.6h0M62.9 59.9h0M67.7 50.9h0M75.6 60.5h0M69.0 58.2h0M58.4 69.5h0M60.7 71.3h0M68.8 50.9h0M78.4 62.2h0M68.0 49.7h0M66.9 80.5h0M75.2 53.7h0M65.6 47.1h0M68.4 59.9h0M61.3 71.2h0M66.7 46.9h0M71.3 63.8h0M64.1 67.9h0M55.5 73.9h0M63.6 80.7h0M65.5 73.1h0M68.1 59.1h0M79.5 37.5h0M62.5 77.2h0M74.5 62.8h0M66.2 74.0h0M78.9 35.4h0M65.3 51.9h0M72.5 52.2h0M63.3 76.8h0M73.5 66.1h0M69.9 58.0h0M71.3 60.8h0M62.7 65.1h0M65.1 55.2h0M72.0 42.9h0M74.0 57.5h0M63.2 54.1h0M56.4 71.6h0M66.0 81.7h0M64.0 64.5h0M67.2 45.3h0M68.0 61.9h0M76.6 55.8h0M73.2 70.7h0M65.3 53.5h0M58.2 75.7h0M63.4 66.6h0M76.5 55.9h0M65.8 60.4h0M69.8 40.8h0M62.9 59.4h0M64.8 78.4h0M57.0 59.7h0M58.8 68.7h0M73.8 60.0h0M80.3 55.5h0M70.6 43.8h0M65.6 57.3h0M69.5 73.6h0M71.0 48.1h0M69.5 51.5h0M68.6 51.6h0M64.9 55.0h0M67.5 54.3h0M61.0 56.3h0M71.2 65.9h0M70.8 42.7h0M66.3 41.0h0M67.2 52.4h0M56.8 61.8h0M63.1 46.3h0M62.6 65.6h0M82.4 56.5h0M69.7 52.1h0M69.4 54.8h0M72.2 47.7h0M74.0 51.8h0M77.4 45.6h0M82.1 63.6h0M56.8 62.1h0M71.3 42.8h0M74.5 51.9h0M76.4 52.1h0M74.9 60.6h0M71.6 59.7h0M69.1 52.3h0M70.2 66.4h0M59.5 82.7h0M84.3 46.9h0M76.8 58.4h0M74.2 48.4h0M82.9 50.6h0M72.1 48.6h0M77.2 75.5h0M63.6 49.5h0M73.7 52.8h0M71.7 44.0h0M75.4 44.9h0M66.5 86.8h0M62.2 75.8h0M74.6 50.1h0M71.3 45.4h0M68.2 65.6h0M76.6 55.7h0M63.1 54.1h0M79.1 63.6h0M77.0 32.9h0M65.4 62.8h0M59.5 71.2h0M69.7 46.0h0M66.8 55.1h0M78.0 52.5h0M59.5 53.0h0M67.7 76.1h0M57.9 72.4h0M72.5 63.8h0M68.5 45.5h0M60.9 66.3h0M67.5 70.1h0M80.9 60.8h0M62.9 79.5h0M63.7 49.6h0M69.1 52.1h0M73.8 47.8h0M81.8 43.5h0M71.1 36.1h0M59.5 61.5h0M74.5 56.1h0M72.9 66.0h0M66.7 55.7h0M65.1 81.3h0M66.0 60.7h0M68.9 72.4h0M68.7 70.5h0M64.5 52.2h0M58.5 53.1h0M83.2 64.4h0M69.6 60.5h0M75.6 42.2h0M66.4 54.0h0M74.1 47.6h0M71.9 48.6h0M64.4 47.2h0M62.2 65.5h0M76.0 66.5h0M70.7 50.4h0M62.4 48.3h0M75.3 73.5h0M72.2 54.8h0M68.5 62.2h0M68.4 62.2h0M65.2 56.4h0M64.1 69.1h0M57.9 70.0h0M71.2 51.3h0M69.7 58.7h0M67.1 61.8h0M72.5 36.6h0M74.3 58.3h0M78.6 64.8h0M53.6 68.0h0M63.9 62.4h0M79.5 74.0h0M63.7 54.2h0M57.9 62.1h0M77.0 46.5h0M69.4 68.9h0M77.2 51.0h0M69.8 43.1h0M61.1 58.6h0M65.6 72.4h0M72.8 54.1h0M55.9 72.5h0M71.1 57.2h0M67.6 43.3h0M77.2 47.2h0M71.3 65.6h0M73.4 37.9h0M67.5 74.3h0M69.5 41.2h0M76.0 61.0h0M61.9 70.3h0M66.7 62.0h0M70.2 47.9h0M74.3 47.8h0M61.2 47.8h0M73.5 72.2h0M79.5 72.7h0M78.8 63.2h0M65.7 61.9h0M61.7 64.0h0M66.4 59.5h0M65.3 54.2h0M76.6 56.6h0M64.9 59.3h0M75.9 56.8h0M68.4 37.2h0M58.2 67.1h0M67.8 62.7h0M75.4 62.6h0M74.6 52.4h0M58.1 61.6h0M67.4 63.8h0M64.1 53.7h0M85.0 51.4h0M66.0 72.6h0M68.1 58.3h0M54.5 62.3h0M62.8 71.3h0M70.7 52.9h0M73.4 55.4h0M61.5 74.1h0M75.5 60.4h0M71.9 68.3h0M73.3 58.9h0M69.0 62.1h0M72.1 62.4h0M66.9 55.5h0M76.1 46.9h0M67.3 66.0h0M72.0 54.4h0M71.5 51.8h0M77.2 54.9h0M64.2 40.5h0M71.0 60.3h0M71.7 41.5h0M72.0 47.5h0M66.0 56.1h0M64.3 59.5h0M67.1 50.7h0M63.5 73.6h0M76.1 71.0h0M65.5 56.1h0M72.6 68.2h0M60.4 53.8h0M62.9 64.6h0M75.6 52.4h0M83.7 58.1h0M85.2 59.9h0M62.8 78.8h0M68.4 51.1h0M78.9 59.6h0M77.2 44.0h0M77.3 71.8h0M69.6 66.0h0M68.6 51.1h0M59.3 58.7h0M74.4 69.4h0M73.0 67.1h0M68.9 40.9h0M73.2 60.4h0M76.8 56.1h0M63.1 60.8h0M72.3 37.8h0M69.3 46.3h0M65.2 49.1h0M67.5 85.7h0M81.7 55.9h0M77.0 58.7h0M74.7 50.5h0M75.3 38.3h0M83.3 52.0h0M75.5 51.8h0M75.6 44.6h0M64.5 67.0h0M80.2 36.5h0M79.6 44.1h0M69.9 63.8h0M67.2 52.6h0M67.1 61.5h0M70.7 74.4h0M65.0 80.5h0M58.1 75.7h0M65.7 65.6h0M68.9 58.1h0M63.1 60.1h0M81.6 62.8h0M69.8 57.4h0M74.9 56.4h0M69.2 59.8h0M74.5 70.5h0M65.8 48.4h0M67.1 67.0h0M76.5 56.8h0M83.2 59.5h0M73.5 76.0h0M78.8 62.6h0M78.7 41.2h0M61.4 47.3h0M70.6 70.7h0M65.7 68.9h0M68.2 75.6h0M63.3 45.1h0M67.8 43.9h0M83.0 50.0h0M66.3 51.4h0M76.8 53.8h0M72.5 64.9h0M74.2 29.6h0M68.7 41.7h0M82.2 52.3h0M62.2 59.7h0M73.5 46.9h0M73.4 69.7h0M74.2 49.4h0M71.8 32.7h0M70.9 62.5h0M64.3 56.0h0M57.6 61.1h0M69.1 51.0h0M74.1 57.0h0M74.1 65.0h0M76.5 60.8h0M52.3 68.7h0M56.1 66.0h0M76.2 42.2h0M67.3 67.4h0M63.7 56.0h0M69.0 44.7h0M61.9 70.6h0M74.2 58.3h0M69.0 58.6h0M71.0 60.0h0M56.5 64.6h0M78.3 45.0h0M69.4 56.0h0M64.6 62.3h0M69.3 53.7h0M65.2 52.4h0M63.6 55.9h0M74.4 71.1h0M77.2 42.8h0M72.9 69.8h0M71.2 53.6h0M80.2 47.1h0M59.7 82.8h0M82.8 36.7h0M65.4 72.8h0M64.2 62.9h0M75.6 41.0h0M62.3 69.0h0M79.2 52.7h0M79.2 51.3h0M71.5 57.5h0M61.3 58.6h0M67.9 46.2h0M68.3 44.7h0M74.3 28.3h0M75.1 59.7h0M72.4 54.8h0M71.3 54.4h0M68.7 38.1h0M66.9 68.9h0M65.8 76.0h0M62.7 51.8h0M62.0 70.1h0M82.0 54.5h0M75.2 55.9h0M64.3 54.2h0M58.4 72.9h0M69.4 71.8h0M80.5 30.4h0M74.5 59.8h0M55.3 54.0h0M70.1 78.5h0M61.1 64.3h0M72.6 55.9h0M66.4 62.7h0M71.2 65.8h0M72.1 41.6h0M73.4 74.4h0M66.7 55.9h0M80.9 38.8h0M64.6 85.6h0M74.1 49.8h0M82.3 61.1h0M72.7 52.8h0M77.3 37.2h0M67.4 38.1h0M75.7 57.9h0M84.0 36.2h0M61.3 72.7h0M71.7 34.6h0M66.7 51.9h0M65.4 72.0h0M72.6 77.3h0M75.2 52.6h0M72.1 39.5h0M73.3 73.8h0M73.6 47.3h0M72.4 64.0h0M75.0 44.3h0M73.4 51.2h0M72.4 65.4h0M74.1 53.2h0M76.5 68.8h0M74.7 69.1h0M72.6 62.9h0M69.9 34.6h0M62.2 62.5h0M74.8 61.0h0M64.2 78.2h0M73.8 36.2h0M61.8 50.7h0M71.6 66.9h0M65.8 66.1h0M72.2 48.9h0M65.1 65.1h0M79.6 46.2h0M63.6 56.8h0M86.8 47.8h0M61.0 59.7h0M75.2 51.2h0M68.2 62.7h0M59.6 53.7h0M70.4 68.8h0M77.2 58.5h0M56.7 69.8h0M76.8 51.4h0M72.6 70.9h0M77.4 30.1h0M69.8 47.8h0M65.3 54.7h0M62.2 59.7h0M85.5 47.2h0M78.1 53.1h0M73.7 56.8h0M80.2 51.5h0M77.1 49.7h0M71.4 57.5h0M82.0 41.3h0M57.1 70.6h0M66.4 77.2h0M63.1 57.7h0M67.5 78.4h0M71.2 52.0h0M74.6 57.4h0M62.9 64.5h0M62.1 42.2h0M79.9 54.0h0M66.8 60.8h0M74.9 65.3h0M66.2 49.0h0M76.7 57.8h0M63.2 66.0h0M69.3 84.0h0M66.0 47.2h0M64.6 60.0h0M63.3 69.0h0M67.1 52.9h0M72.7 60.6h0M58.7 72.4h0M75.2 52.7h0M75.1 45.0h0M63.7 51.5h0M71.8 59.0h0M70.2 40.0h0M54.4 72.3h0M75.0 48.8h0M75.2 65.5h0M69.7 49.5h0M75.7 63.0h0M78.5 64.3h0M68.6 49.3h0M64.9 58.8h0M69.4 64.6h0M76.3 46.1h0M72.1 46.1h0M77.5 43.1h0M69.5 46.4h0M67.2 53.2h0M79.9 57.1h0M62.5 51.2h0M72.5 64.9h0M64.5 80.3h0M76.3 60.3h0M81.9 44.2h0M72.0 47.0h0M65.4 75.9h0M61.5 74.4h0M59.0 71.6h0M62.9 44.5h0M76.3 58.0h0M70.9 57.3h0M71.7 55.5h0M65.2 52.1h0M73.8 47.2h0M66.6 78.1h0M62.1 48.0h0M68.3 56.9h0M73.1 49.1h0M69.8 57.2h0M64.1 74.6h0M75.9 40.6h0M58.6 61.1h0M70.1 49.5h0M63.0 51.2h0M71.8 49.2h0M64.8 66.6h0M72.8 64.8h0M73.7 41.4h0M69.4 75.6h0M73.5 72.8h0M70.3 62.0h0M65.6 71.4h0M60.9 81.1h0M75.7 55.0h0M75.6 38.9h0M66.7 52.5h0M87.4 52.4h0M75.2 59.7h0M66.1 63.8h0M54.9 64.3h0M80.5 64.1h0M69.1 58.9h0M75.6 52.8h0M69.0 63.2h0M66.6 61.0h0M69.5 65.9h0M66.0 49.3h0M63.3 70.1h0M77.2 38.8h0M55.7 77.0h0M76.5 43.1h0M64.1 57.2h0M72.8 78.2h0M68.9 53.1h0M84.8 49.5h0M78.1 63.9h0M66.1 72.0h0M75.8 48.6h0M60.9 54.6h0M68.3 73.7h0M68.4 75.6h0M74.0 61.1h0M71.2 62.5h0M66.7 54.8h0M72.3 52.3h0M66.3 38.1h0M71.2 64.0h0M74.7 44.1h0M76.4 54.3h0M52.2 71.3h0M74.7 53.2h0M58.5 44.9h0M74.1 75.4h0M77.5 38.2h0M68.7 53.3h0M73.2 56.6h0M77.7 39.2h0M61.2 72.5h0M58.1 65.1h0M81.5 68.8h0M57.4 68.9h0M57.8 57.7h0M63.3 70.6h0M76.3 61.5h0M77.2 71.7h0M70.6 45.1h0M86.0 57.1h0M72.8 56.6h0M72.8 38.0h0M69.5 55.6h0M77.6 53.1h0M64.4 42.1h0M68.9 60.0h0M75.6 54.2h0M72.7 59.8h0M80.2 59.6h0M68.9 63.9h0M80.5 48.9h0M68.1 53.2h0M52.8 68.2h0M76.3 59.4h0M76.5 78.8h0M80.3 42.7h0M77.6 64.8h0M62.7 55.6h0M71.1 69.8h0M72.9 51.6h0M77.2 49.9h0M66.9 65.8h0M60.1 58.9h0M61.6 43.1h0M63.0 53.9h0M74.4 57.9h0M75.1 60.0h0M67.1 62.5h0M68.1 58.3h0M78.2 52.6h0M80.7 46.6h0M74.8 37.0h0M61.3 74.4h0M67.7 72.4h0M64.8 43.0h0M69.9 67.5h0M80.8 39.6h0M73.3 57.3h0M69.1 62.9h0M74.3 37.3h0M68.7 38.7h0M62.6 53.3h0M80.3 51.4h0M69.5 42.7h0M59.5 54.8h0M68.0 53.6h0M62.6 61.0h0M60.9 61.3h0M63.3 65.0h0M63.2 60.7h0M72.9 57.1h0M79.1 62.2h0M62.3 63.5h0M67.0 49.5h0M69.4 59.3h0M86.3 40.3h0M64.5 69.7h0M67.9 60.6h0M83.4 45.9h0M67.5 66.4h0M72.6 36.1h0M63.4 57.6h0M64.7 78.7h0M83.3 41.9h0M73.0 69.6h0M80.2 58.4h0M66.2 57.9h0M77.0 67.2h0M77.4 69.3h0M70.0 44.5h0M86.3 43.2h0M69.0 52.9h0M66.6 49.0h0M61.7 84.5h0M71.4 51.1h0M67.4 68.2h0M66.6 51.1h0M57.1 62.1h0M68.8 75.7h0M55.2 80.0h0M76.2 55.6h0M68.8 52.9h0M60.1 63.8h0M68.9 47.8h0M72.7 59.4h0M67.3 53.4h0M62.3 71.8h0M78.5 50.7h0M64.9 72.9h0M62.0 77.1h0M70.3 65.7h0M54.6 63.2h0M70.0 64.5h0M71.0 64.1h0M63.8 66.6h0M74.1 45.3h0M63.4 57.2h0M79.7 32.5h0M54.0 65.5h0M61.7 51.6h0M64.5 62.5h0M72.7 78.3h0M59.6 69.5h0M61.7 58.5h0M68.8 64.6h0M60.5 71.1h0M69.7 56.9h0M72.2 44.5h0M73.1 62.4h0M66.2 79.5h0M65.8 52.4h0M67.0 67.1h0M65.7 67.6h0M78.9 37.8h0M73.1 32.6h0M69.8 51.9h0M72.9 60.2h0M65.2 71.6h0M77.9 44.1h0M64.7 59.7h0M80.9 58.0h0M68.0 59.9h0M75.0 57.6h0M73.2 52.9h0M69.5 47.1h0M75.9 52.0h0M71.9 62.9h0M68.5 41.4h0M66.2 66.2h0M76.8 64.1h0M65.8 62.7h0M53.7 63.9h0M67.9 64.3h0M67.7 42.7h0M66.3 55.5h0M73.3 53.8h0M69.7 65.7h0M63.4 53.9h0M62.6 48.0h0M77.9 50.6h0M79.4 66.4h0M75.0 60.0h0M71.3 71.4h0M72.5 51.3h0M59.9 78.4h0M70.5 51.6h0M71.7 36.5h0M65.9 60.0h0M69.8 47.6h0M70.8 63.2h0M66.3 60.0h0M61.1 65.3h0M65.3 51.5h0M72.3 52.6h0M55.8 79.3h0M85.2 39.9h0M75.2 42.8h0M76.5 42.7h0M71.6 64.4h0M76.0 74.2h0M63.9 67.3h0M67.7 55.1h0M73.2 36.0h0M80.8 34.9h0M66.7 62.8h0M76.2 39.2h0M63.7 63.9h0M70.9 77.6h0M57.5 59.2h0M64.4 65.1h0M60.4 52.5h0M76.5 51.1h0M71.3 45.2h0M81.3 43.9h0M65.7 51.7h0M60.7 81.0h0M74.6 48.1h0M72.3 62.2h0M71.9 57.0h0M76.9 44.5h0M64.3 50.1h0M60.9 63.3h0M77.2 75.0h0M71.5 61.9h0M70.5 40.9h0M78.5 41.1h0M72.3 56.1h0M74.3 59.2h0M72.7 50.7h0M60.9 50.1h0M70.5 70.5h0M81.8 48.2h0M61.9 63.6h0M58.2 86.1h0M77.2 40.2h0M61.1 74.3h0M58.5 55.6h0M56.1 73.2h0M71.0 44.5h0M62.3 45.8h0M56.4 47.0h0M82.7 62.3h0M72.5 43.3h0M73.7 52.4h0M60.0 71.6h0M75.8 47.7h0M79.0 59.3h0M72.5 59.8h0M74.9 66.5h0M65.4 64.9h0M67.2 58.0h0M83.6 47.9h0M65.2 50.7h0M62.4 71.3h0M81.1 54.9h0M72.4 53.4h0M71.7 66.1h0M71.8 67.4h0M82.2 58.8h0M74.8 56.3h0M69.5 59.8h0M68.5 61.1h0M65.4 53.9h0M70.5 42.6h0M67.5 50.2h0M74.6 38.9h0M72.5 43.7h0M64.4 57.9h0M75.6 62.5h0M68.6 51.2h0M83.8 40.9h0M82.1 41.9h0M66.0 56.6h0M62.8 76.0h0M73.1 57.5h0M75.6 59.4h0M61.2 68.7h0M74.4 74.8h0M56.2 77.1h0M64.8 65.3h0M63.9 42.4h0M75.3 65.1h0M73.3 55.9h0M57.0 46.2h0M69.1 59.9h0M75.5 55.5h0M65.9 51.4h0M61.4 40.4h0M84.3 52.9h0M62.8 79.0h0M75.9 60.5h0M75.4 55.4h0M61.0 67.1h0M65.1 76.0h0M69.8 52.4h0M72.7 55.6h0M71.3 46.3h0M70.4 61.4h0M81.1 60.3h0M57.8 59.4h0M85.3 56.3h0M65.8 53.8h0M74.2 39.3h0M76.6 48.1h0M61.5 45.5h0M67.0 80.6h0M76.8 61.8h0M67.9 53.2h0M77.6 53.0h0M69.1 69.2h0M66.6 48.7h0M72.7 58.1h0M71.1 50.8h0M63.0 78.6h0M83.9 41.0h0M70.0 58.4h0M75.1 41.2h0M68.7 58.7h0M64.8 59.6h0M69.2 61.9h0M70.6 51.6h0M67.3 70.1h0M75.7 57.9h0M63.4 68.7h0M70.1 68.4h0M71.4 46.7h0M73.3 50.3h0M73.9 69.2h0M54.5 60.9h0M74.3 71.7h0M70.2 46.3h0M72.2 70.8h0M74.5 43.9h0M59.9 57.5h0M67.4 47.8h0M68.9 70.2h0M60.0 45.6h0M78.0 59.1h0M65.7 64.0h0M67.5 40.9h0M64.6 75.4h0M76.1 59.0h0M77.5 54.3h0M68.9 35.6h0M68.4 68.2h0M72.4 57.4h0M63.7 69.1h0M74.8 40.4h0M80.5 52.2h0M72.3 58.0h0M75.5 62.0h0M76.6 61.9h0M69.0 50.5h0M76.9 48.8h0M76.4 56.1h0M67.5 45.4h0M62.8 77.5h0M74.6 58.8h0M57.8 77.7h0M68.3 56.7h0M62.7 71.9h0M72.7 52.2h0M74.7 45.9h0M64.2 53.4h0M85.9 47.9h0M74.8 38.6h0M70.3 60.0h0M79.2 43.1h0M68.7 48.6h0M60.4 83.3h0M68.9 56.4h0M64.1 65.5h0M83.0 47.5h0M76.3 59.5h0M73.8 71.8h0M79.9 38.9h0M72.6 51.6h0M72.6 58.5h0M82.0 40.5h0M65.8 55.0h0M73.4 53.1h0M69.6 57.8h0M76.7 57.8h0M77.9 36.5h0M80.3 31.0h0M72.8 56.8h0M72.6 48.7h0M64.5 66.1h0M72.2 57.6h0M66.3 58.8h0M77.2 59.2h0M72.0 42.8h0M73.9 46.7h0M58.3 64.7h0M73.5 32.3h0M59.1 77.3h0M74.1 41.6h0M60.8 63.5h0M71.7 60.4h0M67.1 62.5h0M77.5 65.7h0M74.0 40.6h0M67.1 76.3h0M78.4 43.8h0M66.5 72.7h0M64.4 61.8h0M71.5 78.5h0M66.6 33.9h0M69.7 66.1h0M67.9 56.3h0M63.3 70.4h0M55.8 56.1h0M64.7 46.9h0M64.0 43.8h0M69.8 57.5h0M81.6 57.9h0M70.8 62.0h0M66.3 74.8h0M70.3 59.2h0M69.3 57.0h0M66.1 68.7h0M69.9 58.0h0M67.0 66.0h0M63.8 67.3h0M64.1 64.2h0M80.7 63.5h0M73.7 43.3h0M74.4 58.7h0M77.8 51.2h0M66.7 79.3h0M73.6 54.1h0M62.2 54.7h0M71.8 65.4h0M66.9 43.1h0M67.8 43.5h0M67.4 59.8h0M80.9 63.0h0M84.7 40.6h0M76.5 69.4h0M69.7 67.7h0M66.9 80.7h0M81.1 38.3h0M53.7 72.8h0M64.8 72.5h0M70.3 48.9h0M66.8 60.3h0M73.3 50.3h0M71.0 65.4h0M68.4 42.5h0M59.2 50.0h0M72.6 49.1h0M66.8 54.5h0M68.1 63.9h0M73.5 63.9h0M80.2 47.9h0M72.3 62.7h0M66.1 47.3h0M72.4 58.9h0M64.4 48.4h0M76.2 69.9h0M65.7 73.1h0M65.1 53.5h0M77.0 55.0h0M61.1 62.0h0M75.4 42.8h0M73.3 40.1h0M72.8 49.0h0M65.6 50.0h0M65.0 78.1h0M66.1 76.1h0M63.3 56.1h0M73.0 38.0h0M74.2 48.8h0M70.2 44.0h0M77.6 54.4h0M68.5 59.1h0M61.8 57.7h0M67.4 62.1h0M67.5 56.9h0M69.7 69.5h0M62.3 67.3h0M64.7 53.2h0M70.3 59.1h0M65.6 67.7h0M60.3 73.6h0M58.8 54.8h0M73.2 58.4h0M68.3 68.6h0M63.0 62.6h0M77.3 56.4h0M68.6 43.2h0M75.5 48.6h0M83.0 68.5h0M63.1 51.4h0M76.8 68.0h0M60.1 67.4h0M59.2 82.3h0M64.5 63.2h0M75.0 53.0h0M64.9 70.5h0M73.2 57.4h0M66.4 78.5h0M73.9 64.5h0M77.6 39.5h0M72.6 51.7h0M76.6 51.4h0M76.5 45.7h0M78.0 50.3h0M67.8 63.9h0M68.0 56.7h0M70.1 79.9h0M62.3 43.3h0M70.7 69.5h0M66.8 57.4h0M60.7 83.5h0M73.1 42.9h0M65.2 39.4h0M79.3 55.0h0M79.5 68.3h0M70.0 65.5h0M71.5 69.4h0M66.1 48.9h0M66.3 57.4h0M72.9 42.3h0M59.4 76.9h0M85.9 51.1h0M72.4 57.5h0M62.3 64.0h0M63.6 76.6h0M73.9 54.4h0M77.7 50.4h0M72.9 66.8h0M60.0 51.6h0M69.2 66.6h0M71.0 57.3h0M68.9 53.2h0M73.8 44.8h0M75.0 54.6h0M75.0 52.2h0M72.0 59.4h0M73.7 64.3h0M76.2 57.0h0M70.6 54.0h0M62.9 53.4h0M73.8 68.2h0M63.8 59.1h0M79.4 42.7h0M70.9 61.7h0M73.6 61.6h0M83.4 56.2h0M73.2 74.4h0M74.6 44.0h0M78.4 59.3h0M71.4 63.8h0M72.1 70.8h0M66.4 38.1h0M70.8 57.6h0M75.2 57.1h0M61.7 80.6h0M74.2 73.3h0M79.1 49.9h0M69.7 56.2h0M66.5 45.0h0M75.3 43.3h0M71.6 63.7h0M69.8 52.8h0M71.9 63.9h0M76.6 43.6h0M67.4 51.7h0M61.8 44.5h0M62.7 65.2h0M69.3 50.7h0M66.9 50.6h0M59.5 57.4h0M76.7 61.2h0M62.2 71.0h0M76.6 46.1h0M68.7 49.0h0M65.4 71.3h0M66.3 54.2h0M74.9 43.5h0M64.9 63.5h0M83.5 37.4h0M75.3 55.1h0M75.6 66.8h0M80.8 64.5h0M70.6 46.8h0M59.4 61.0h0M70.2 67.7h0M77.5 40.4h0M68.4 53.6h0M68.2 66.4h0M77.6 63.2h0M61.2 41.5h0M59.8 44.4h0M61.9 57.8h0M64.7 69.8h0M78.1 53.9h0M75.7 59.1h0M68.0 73.7h0M63.3 54.3h0M82.0 51.2h0M70.8 59.1h0M72.1 41.2h0M69.3 44.5h0M75.7 62.1h0M78.5 44.7h0M72.5 59.8h0M78.9 50.8h0M70.0 74.7h0M84.2 49.7h0M68.4 38.1h0M73.7 65.9h0M75.1 47.8h0M71.9 78.2h0M70.2 55.7h0M75.4 65.3h0M79.6 55.0h0M73.3 53.9h0M67.6 52.7h0M66.5 62.5h0M67.9 57.5h0M69.5 41.5h0M82.1 48.4h0M77.6 71.5h0M58.4 45.6h0M67.4 56.7h0M71.1 49.9h0M78.0 58.0h0M78.3 51.0h0M61.1 71.4h0M72.2 43.9h0M65.2 69.1h0M71.6 48.6h0M70.4 69.8h0M69.9 53.1h0M62.7 77.1h0M67.7 61.6h0M57.1 55.5h0M71.4 53.6h0M72.4 40.6h0M60.4 56.4h0M66.5 55.0h0M70.7 51.0h0M59.0 77.4h0M65.1 49.3h0M72.3 43.3h0M61.2 65.4h0M75.2 60.5h0M80.4 50.0h0M70.6 78.7h0M61.3 77.5h0M69.2 42.6h0M72.6 47.8h0M77.8 45.6h0M77.4 34.7h0M66.1 69.3h0M67.3 60.3h0M80.5 46.5h0M62.0 55.8h0M72.6 54.6h0M59.9 69.5h0M63.9 52.1h0M67.2 65.5h0M70.2 46.9h0M85.2 51.1h0M75.4 56.9h0M67.3 55.8h0M67.4 60.3h0M54.7 52.2h0M73.9 46.1h0M59.4 83.6h0M78.9 68.1h0M72.5 54.1h0M80.0 54.6h0M62.6 63.7h0M67.0 46.3h0M84.5 41.3h0M69.2 58.5h0M76.7 40.8h0M69.8 52.9h0M78.1 72.4h0M62.4 65.9h0M74.4 57.1h0M69.5 53.6h0M62.9 47.1h0M70.6 75.7h0M82.6 56.3h0M82.3 30.5h0M72.9 42.1h0M80.9 39.5h0M67.6 42.5h0M69.5 67.6h0M58.1 76.4h0M73.9 47.9h0M72.2 57.7h0M73.8 62.7h0M79.1 74.8h0M63.4 65.1h0M78.2 47.0h0M68.4 46.5h0M52.9 60.0h0M64.4 71.1h0M66.4 57.1h0M71.0 69.8h0M75.6 45.8h0M80.3 71.3h0M72.5 78.5h0M77.0 64.6h0M70.7 65.4h0M58.1 63.9h0M62.7 60.3h0M61.4 63.6h0M58.3 85.1h0M69.4 63.5h0M65.6 52.2h0M70.7 53.8h0M70.5 46.3h0M76.0 54.2h0M63.8 59.9h0M65.8 53.7h0M70.2 45.6h0M71.6 47.3h0M61.2 59.0h0M73.4 39.8h0M67.0 58.7h0M71.3 62.3h0M69.5 64.6h0M69.9 47.1h0M75.2 53.6h0M67.8 64.8h0M71.4 73.1h0M67.2 51.7h0M78.5 41.7h0M60.3 61.9h0M69.6 45.4h0M73.0 64.8h0M76.7 55.1h0M69.5 52.8h0M79.0 34.3h0M63.4 64.1h0M65.6 55.0h0M69.0 63.5h0M71.2 43.3h0M86.6 40.1h0M71.4 55.2h0M79.5 47.3h0M67.9 47.1h0M66.0 59.3h0M66.2 52.9h0M73.8 76.5h0M62.2 42.8h0M63.2 71.5h0M61.3 78.6h0M67.2 74.5h0M66.0 52.1h0M74.2 65.7h0M59.8 50.6h0M68.9 64.8h0M60.1 76.1h0M65.9 74.2h0M72.2 58.9h0M72.2 43.2h0M72.6 67.5h0M77.0 54.6h0M65.3 51.0h0M68.2 56.5h0M79.2 48.5h0M64.7 64.3h0M67.7 84.4h0M76.2 48.5h0M66.6 46.2h0M69.6 60.3h0M71.8 50.1h0M69.2 56.0h0M73.3 59.3h0M69.3 42.3h0M79.3 59.0h0M69.1 56.6h0M77.9 55.7h0M72.0 54.8h0M77.1 46.7h0M67.7 69.4h0M75.0 66.5h0M66.3 75.9h0M69.4 74.6h0M66.7 42.4h0M75.8 55.7h0M70.8 45.5h0M83.2 46.3h0M75.6 41.4h0M61.1 82.7h0M86.4 56.0h0M58.3 74.1h0M71.2 35.2h0M75.9 45.5h0M57.4 67.5h0M69.4 43.7h0M71.7 55.4h0M76.5 60.4h0M75.6 73.2h0M76.8 73.4h0M68.6 63.6h0M75.7 39.4h0M60.4 63.6h0M58.8 43.4h0M62.6 54.2h0M63.0 58.2h0M70.5 51.5h0M72.8 30.2h0M75.1 42.6h0M67.0 61.0h0M73.9 67.2h0M83.9 43.7h0M68.6 76.5h0M76.3 45.3h0M74.3 52.0h0M62.5 68.3h0M72.9 44.1h0M59.1 78.5h0M62.7 63.5h0M67.1 71.0h0M71.7 45.9h0M69.9 44.3h0M63.8 71.1h0M74.7 56.4h0M72.9 61.5h0M71.0 78.3h0M68.3 56.3h0M64.7 71.0h0M69.6 67.0h0M77.7 51.6h0M66.0 73.4h0M72.8 68.3h0M69.7 52.6h0M65.9 52.6h0M74.7 40.7h0M79.7 50.6h0M69.5 64.6h0M73.1 35.5h0M74.4 63.7h0M64.6 69.8h0M78.8 48.0h0M75.8 36.9h0M63.6 73.0h0M62.2 65.2h0M62.1 51.1h0M69.7 78.7h0M70.1 66.8h0M53.3 75.8h0M82.7 68.6h0M69.6 60.4h0M72.4 50.3h0M70.4 55.8h0M71.7 66.3h0M73.9 65.8h0M59.4 71.5h0M73.9 51.8h0M85.1 48.2h0M64.9 49.3h0M69.8 67.1h0M68.4 65.1h0M68.0 49.0h0M75.6 42.1h0M72.6 53.1h0M77.7 46.9h0M68.9 49.8h0M71.4 45.1h0M73.3 41.3h0M70.9 65.9h0M70.7 55.1h0M68.2 44.6h0M72.0 46.5h0M62.5 57.0h0M71.4 52.6h0M65.4 55.2h0M67.5 51.1h0M68.7 65.9h0M76.7 51.7h0M81.3 46.2h0M64.5 71.9h0M83.7 63.1h0M69.3 52.3h0M63.4 53.4h0M70.2 47.9h0M79.9 50.5h0M77.2 70.0h0M76.0 51.7h0M74.1 33.5h0M72.7 54.7h0M74.7 50.3h0M78.2 41.0h0M55.4 58.7h0M78.9 55.6h0M74.5 39.3h0M61.7 63.6h0M65.9 55.5h0M62.2 79.8h0M80.0 43.7h0M71.3 43.2h0M64.3 46.9h0M76.4 59.8h0M74.5 56.9h0M67.3 57.4h0M62.9 79.2h0M79.4 64.8h0M80.6 35.5h0M61.0 84.4h0M62.5 65.1h0M78.7 54.9h0M70.3 51.6h0M74.7 58.9h0M74.8 73.6h0M60.9 87.0h0M70.4 49.7h0M71.8 46.7h0M67.8 55.7h0M80.9 40.7h0M64.5 45.9h0M66.7 61.9h0M60.1 73.1h0M67.7 53.8h0M66.3 70.8h0M71.7 58.1h0M66.3 58.2h0M73.7 54.0h0M76.4 36.1h0M62.8 69.9h0M78.7 59.0h0M60.1 86.4h0M64.1 68.0h0M61.6 71.9h0M80.6 47.1h0M73.0 42.9h0M73.1 53.1h0M64.9 42.5h0M76.9 40.2h0M74.9 64.4h0M64.1 73.0h0M62.2 63.4h0M63.2 51.0h0M75.7 52.2h0M67.1 64.5h0M74.5 75.0h0M73.7 55.1h0M55.5 74.4h0M75.3 58.3h0M73.1 62.1h0M68.9 56.8h0M65.7 70.6h0M70.4 50.5h0M71.7 65.8h0M71.6 61.3h0M74.8 72.7h0M72.0 55.2h0M80.5 36.9h0M69.5 48.1h0M72.4 53.1h0M82.0 70.2h0M64.5 83.9h0M71.2 53.5h0M74.4 69.0h0M71.2 72.8h0M70.2 49.0h0M65.5 57.1h0M79.7 46.9h0M71.6 40.8h0M79.0 70.0h0M75.6 43.6h0M66.3 47.9h0M74.7 42.7h0M64.4 70.9h0M69.8 58.4h0M58.7 50.3h0M71.6 49.0h0M62.2 53.9h0M66.0 49.1h0M61.0 53.3h0M78.4 49.2h0M77.3 40.3h0M71.5 64.5h0M64.7 66.7h0M64.7 56.2h0M80.0 60.0h0M59.4 68.5h0M74.2 55.0h0M66.0 32.2h0M55.9 71.6h0M74.8 47.9h0M71.7 76.2h0M63.4 61.3h0M59.1 58.6h0M85.7 44.2h0M72.6 50.0h0M69.2 58.1h0M68.6 68.0h0M69.4 70.2h0M72.1 71.8h0M64.6 60.7h0M70.8 46.8h0M80.5 64.1h0M77.8 33.0h0M66.0 65.7h0M70.8 50.6h0M79.8 56.3h0M68.5 55.5h0M64.9 69.0h0M73.6 57.4h0M68.7 54.0h0M81.1 56.7h0M79.5 40.2h0M69.5 65.8h0M76.4 63.2h0M72.3 62.0h0M69.1 82.8h0M74.1 48.1h0M73.9 57.0h0M71.1 67.3h0M72.5 52.4h0M76.3 43.3h0M74.8 47.5h0M72.3 59.4h0M73.0 42.9h0M72.8 49.4h0M66.8 65.0h0M80.2 44.0h0M70.7 74.7h0M75.7 62.4h0M63.4 77.2h0M73.6 39.0h0M69.6 60.7h0M68.3 41.3h0M81.3 62.1h0M76.7 51.9h0M61.8 52.5h0M80.3 51.9h0M60.2 52.0h0M68.4 56.9h0M65.0 51.8h0M63.8 66.5h0M67.9 67.6h0M77.3 32.4h0M56.7 59.9h0M72.1 68.9h0M75.9 36.4h0M65.8 61.0h0M79.4 55.7h0M69.5 47.2h0M73.0 69.1h0M55.1 68.0h0M69.9 38.6h0M63.3 46.0h0M65.2 47.2h0M69.5 62.3h0M72.9 38.0h0M70.1 48.6h0M59.1 55.7h0M67.6 34.5h0M75.6 70.8h0M78.1 61.2h0M68.0 55.5h0M59.4 63.4h0M72.7 54.2h0M59.5 52.6h0M74.5 76.9h0M76.4 54.7h0M68.9 63.9h0M67.5 69.7h0M74.4 29.2h0M59.1 42.3h0M59.6 62.4h0M76.4 59.2h0M72.9 59.1h0M72.8 52.1h0M63.5 70.3h0M68.6 56.3h0M73.6 70.8h0M66.9 59.5h0M63.7 56.9h0M71.9 57.8h0M69.7 61.7h0M58.2 43.1h0M72.3 51.7h0M65.3 52.7h0M80.3 57.5h0M68.0 50.5h0M61.4 60.7h0M61.1 66.0h0M73.4 65.5h0M76.5 58.1h0M60.0 53.3h0M79.3 40.5h0M59.0 67.7h0M67.9 73.6h0M73.7 59.2h0M69.6 67.8h0M70.6 54.7h0M73.0 54.1h0M86.9 52.7h0M65.8 39.5h0M77.6 54.4h0M71.8 55.0h0M76.8 40.9h0M72.6 50.7h0M74.2 66.4h0M66.1 43.8h0M69.2 72.1h0M75.1 56.8h0M85.0 31.9h0M70.4 45.0h0M62.0 61.9h0M70.7 61.0h0M67.1 64.2h0M76.7 52.0h0M78.9 48.1h0M85.1 45.3h0M72.2 44.2h0M65.6 72.6h0M59.4 76.5h0M77.0 64.2h0M63.4 66.7h0M75.9 58.5h0M87.1 53.9h0M63.0 52.3h0M67.4 78.1h0M59.1 55.9h0M79.9 51.7h0M71.7 42.3h0M71.7 68.3h0M72.7 61.2h0M76.4 57.6h0M71.4 68.0h0M76.0 65.5h0M68.1 65.6h0M67.2 33.9h0M79.2 61.8h0M65.9 48.6h0M68.9 57.8h0M62.0 67.4h0M57.7 74.6h0M80.0 38.9h0M62.6 55.7h0M73.2 52.8h0M69.6 59.1h0M63.1 55.9h0M85.9 53.8h0M61.7 63.1h0M74.4 71.8h0M66.6 55.2h0M72.0 55.2h0M68.6 70.6h0M73.4 58.1h0M62.5 77.7h0M55.6 78.4h0M74.2 59.6h0M59.1 77.3h0M74.1 70.1h0M71.8 53.8h0M65.5 56.8h0M71.4 64.3h0M74.0 41.5h0M71.3 65.4h0M79.5 72.0h0M74.3 43.9h0M68.6 66.3h0M68.3 73.7h0M66.3 47.3h0M75.5 43.1h0M61.5 72.3h0M72.2 56.6h0M66.5 56.7h0M73.7 44.6h0M79.4 43.7h0M79.0 55.6h0M74.9 47.6h0M76.0 76.8h0M79.6 71.6h0M80.4 52.6h0M79.5 54.5h0M74.7 41.2h0M69.0 62.1h0M73.7 44.1h0M72.3 69.6h0M66.7 66.3h0M79.6 47.5h0M76.6 35.3h0M62.3 60.3h0M63.3 60.2h0M79.7 33.7h0M61.7 74.2h0M69.7 58.7h0M71.6 37.1h0M72.1 46.6h0M77.7 34.6h0M72.4 80.0h0M64.3 59.6h0M61.5 65.7h0M65.5 54.0h0M76.1 65.8h0M73.6 38.7h0M56.0 68.4h0M73.0 58.9h0M77.2 61.3h0M66.0 54.6h0M69.5 56.9h0M72.7 54.8h0M69.5 44.2h0M60.3 48.3h0M67.5 32.5h0M71.7 31.5h0M74.0 74.5h0M56.8 79.6h0M73.8 45.5h0M60.4 50.9h0M75.5 64.6h0M63.5 46.7h0M61.3 69.4h0M73.0 45.5h0M71.6 32.2h0M61.7 66.2h0M57.7 55.9h0M66.4 66.7h0M59.8 65.9h0M60.2 53.8h0M68.3 58.3h0M60.9 65.5h0M66.3 48.6h0M74.0 60.2h0M60.9 70.4h0M69.5 70.3h0M64.3 72.1h0M71.2 43.1h0M75.1 40.6h0M75.1 68.3h0M59.1 56.1h0M76.6 54.6h0M74.7 51.1h0M69.9 56.1h0M76.5 46.6h0M61.9 59.0h0M65.0 62.4h0M71.7 40.7h0M73.6 61.8h0M75.8 54.6h0M63.2 71.5h0M53.3 74.7h0M73.4 57.5h0M68.4 64.6h0M64.3 59.1h0M70.9 33.5h0M70.9 58.8h0M72.0 65.0h0M71.5 67.9h0M59.1 69.7h0M59.8 63.0h0M72.0 71.0h0M84.5 43.6h0M70.7 63.4h0M81.0 49.0h0M71.5 52.8h0M69.6 55.2h0M75.5 35.9h0M69.6 57.9h0M68.1 48.1h0M58.8 74.6h0M76.4 56.7h0M62.3 61.0h0M60.9 73.8h0M77.3 57.8h0M76.7 48.9h0M57.2 64.3h0M81.2 56.7h0M73.3 34.9h0M87.6 47.0h0M64.8 53.1h0M77.3 60.1h0M69.8 57.4h0M75.4 58.4h0M71.3 56.6h0M58.3 71.1h0M70.5 40.2h0M67.2 56.8h0M80.4 41.2h0M61.6 56.9h0M76.4 44.9h0M62.4 57.2h0M75.0 37.7h0M59.2 73.2h0M59.7 67.7h0M55.2 72.0h0M82.2 52.7h0M63.5 63.4h0M60.4 61.4h0M76.6 62.6h0M72.6 55.9h0M79.2 49.3h0M79.9 59.9h0M74.0 37.1h0M66.4 59.2h0M83.5 40.3h0M71.7 48.8h0M62.6 55.0h0M62.2 66.1h0M74.4 54.1h0M74.3 45.9h0M66.2 46.5h0M72.7 47.1h0M70.6 46.2h0M75.6 44.1h0M69.5 58.3h0M78.6 50.2h0M68.4 37.3h0M76.9 51.2h0M76.4 58.1h0M75.1 34.5h0M63.0 65.3h0M63.8 64.1h0M56.2 66.2h0M76.5 43.1h0M69.1 48.4h0M78.5 33.5h0M61.8 65.0h0M68.2 66.3h0M79.4 45.2h0M60.0 60.2h0M69.9 58.2h0M61.3 67.8h0M68.9 71.7h0M65.3 64.8h0M73.1 45.9h0M75.5 37.3h0M68.3 59.0h0M78.1 46.0h0M64.5 46.0h0M59.7 45.5h0M67.8 47.7h0M85.1 46.7h0M69.6 56.0h0M68.1 47.3h0M62.7 44.1h0M72.8 76.5h0M65.7 65.0h0M72.4 59.4h0M64.7 71.4h0M74.3 55.6h0M65.2 67.9h0M69.0 47.5h0M70.1 50.8h0M76.5 63.8h0M71.4 50.8h0M77.1 65.1h0M79.5 71.9h0M70.7 50.3h0M67.6 58.8h0M73.1 64.5h0M85.2 42.1h0M75.3 40.4h0M65.9 48.1h0M69.5 44.4h0M56.5 67.9h0M64.5 68.1h0M63.1 66.6h0M65.1 60.9h0M58.3 71.7h0M68.8 70.5h0M63.6 71.9h0M72.2 51.5h0M65.9 56.6h0M68.8 41.3h0M68.2 65.9h0M65.2 66.6h0M84.3 45.1h0M75.1 46.2h0M65.4 58.1h0M53.2 59.9h0M73.2 65.2h0M67.4 80.0h0M63.8 69.5h0M77.1 65.7h0M59.6 52.0h0M74.1 37.4h0M66.9 66.1h0M69.1 54.5h0M81.3 52.6h0M64.1 55.9h0M74.7 66.4h0M72.2 51.5h0M74.3 70.0h0M58.1 57.9h0M76.0 50.9h0M63.2 51.2h0M57.2 60.6h0M73.3 35.2h0M65.6 71.2h0M63.5 50.6h0M80.5 62.8h0M65.9 58.4h0M78.4 46.7h0M75.3 37.6h0M65.9 35.9h0M74.1 62.5h0M70.1 73.0h0M69.4 60.1h0M70.8 63.5h0M64.5 51.9h0M68.9 57.3h0M65.9 54.2h0M71.1 59.9h0M70.6 68.1h0M69.9 69.7h0M70.1 75.3h0M76.1 51.0h0M75.0 68.2h0M74.5 43.7h0M74.0 53.8h0M75.3 31.0h0M83.7 46.2h0M61.6 60.7h0M76.4 48.8h0M69.0 60.2h0M69.0 63.8h0M76.1 54.3h0M71.2 44.7h0M72.5 65.6h0M57.7 84.0h0M68.6 60.8h0M72.8 55.0h0M76.7 42.3h0M60.8 78.4h0M59.4 42.9h0M76.9 54.0h0M71.9 38.3h0M69.9 54.8h0M71.7 37.4h0M69.4 62.5h0M75.1 65.4h0M75.0 74.3h0M73.2 44.5h0M69.2 69.4h0M65.0 39.6h0M76.2 51.9h0M78.2 62.5h0M71.4 40.4h0M79.9 37.8h0M66.8 39.1h0M74.3 80.7h0M70.0 52.2h0M69.8 73.3h0M57.0 81.9h0M64.6 70.3h0M55.7 52.1h0M58.5 79.5h0M73.3 41.6h0M84.5 52.7h0M74.5 42.3h0M73.5 60.7h0M69.7 51.9h0M69.1 47.6h0M57.0 68.9h0M80.5 42.3h0M61.4 59.8h0M84.7 59.0h0M69.0 53.6h0M72.2 55.6h0M73.1 70.9h0M67.7 77.0h0M70.6 50.2h0M76.1 45.1h0M84.2 34.2h0M70.6 52.3h0M59.3 68.5h0M65.9 61.8h0M66.2 58.0h0M67.0 57.2h0M71.9 48.9h0M73.4 55.8h0M67.9 42.9h0M67.9 73.8h0M63.5 49.7h0M69.0 70.4h0M78.7 44.4h0M67.0 68.0h0M72.3 55.0h0M62.1 56.9h0M69.5 57.4h0M74.9 74.1h0M64.3 58.5h0M67.7 57.8h0M76.7 71.2h0M72.6 49.4h0M67.7 61.2h0M62.9 69.4h0M74.4 43.2h0M68.8 55.2h0M72.0 72.3h0M73.3 78.5h0M71.5 59.1h0M76.3 58.8h0M63.9 49.4h0M71.8 65.7h0M58.8 69.4h0M77.4 39.9h0M69.2 70.0h0M74.4 54.5h0M61.0 69.0h0M71.4 57.5h0M71.3 44.1h0M59.7 49.6h0M74.0 68.4h0M60.3 74.1h0M72.3 44.8h0M71.0 75.5h0M72.1 41.9h0M78.4 28.2h0M64.8 75.4h0M74.4 49.0h0M76.2 52.6h0M79.1 55.3h0M83.8 56.8h0M74.6 46.4h0M60.9 58.9h0M75.7 46.3h0M74.9 53.3h0M66.9 55.3h0M69.8 66.6h0M76.2 64.1h0M68.0 47.7h0M76.6 43.7h0M70.3 52.3h0M68.7 59.2h0M70.4 78.6h0M71.8 70.9h0M59.7 67.5h0M82.9 43.5h0M73.3 47.8h0M62.6 68.9h0M72.9 53.2h0M80.5 48.2h0M66.8 48.9h0M62.9 64.0h0M72.4 44.2h0M74.4 32.7h0M70.7 58.7h0M74.6 55.5h0M75.8 46.8h0M69.6 59.1h0M60.4 61.9h0M70.7 58.1h0M59.8 80.1h0M72.8 48.1h0M62.6 62.6h0M71.6 47.4h0M62.2 66.9h0M66.7 69.9h0M74.2 43.1h0M74.2 62.6h0M67.1 52.3h0M61.0 65.2h0M65.7 62.1h0M72.5 54.6h0M73.2 55.0h0M64.3 50.0h0M60.0 63.9h0M76.1 51.5h0M72.9 61.3h0M79.4 47.9h0M73.8 45.5h0M60.8 72.2h0M61.0 42.6h0M70.2 67.3h0M72.6 31.6h0M58.1 58.3h0M73.5 70.0h0M60.6 71.8h0M66.6 64.1h0M63.1 75.7h0M74.6 30.8h0M67.4 58.9h0M74.3 49.2h0M72.7 43.3h0M68.3 57.8h0M65.5 77.1h0M55.9 59.6h0M76.8 44.3h0M70.5 57.2h0M61.2 63.9h0M79.2 68.7h0M70.9 71.3h0M65.7 68.5h0M64.4 57.8h0M69.6 74.0h0M69.3 53.2h0M73.2 57.1h0M67.9 67.0h0M62.2 66.1h0M73.3 54.8h0M64.6 47.4h0M66.3 68.2h0M55.4 61.9h0M75.3 44.2h0M73.8 63.5h0M76.2 46.5h0M60.0 65.9h0M77.2 64.1h0M70.5 51.5h0M56.0 65.6h0M65.0 71.6h0M61.8 68.3h0M63.5 62.8h0M80.9 51.5h0M75.6 58.8h0M63.6 57.8h0M76.5 50.0h0M70.4 50.0h0M66.1 53.3h0M76.8 52.9h0M78.9 55.0h0M61.9 68.5h0M80.9 52.1h0M77.7 44.6h0M68.9 52.0h0M78.8 43.7h0M69.4 48.1h0M75.0 42.9h0M76.7 39.9h0M79.8 43.3h0M52.6 73.3h0M80.6 49.6h0M61.7 60.7h0M80.2 68.0h0M78.3 44.5h0M57.8 58.4h0M75.6 60.7h0M65.0 73.4h0M61.0 68.5h0M77.3 51.4h0M70.4 58.7h0M77.0 46.8h0M68.3 57.8h0M70.1 57.5h0M72.2 55.4h0M63.3 68.4h0M67.3 52.3h0M68.8 42.1h0M72.9 57.5h0M67.6 62.2h0M66.5 64.8h0M79.7 64.6h0M62.5 76.1h0M80.2 39.0h0M77.3 62.1h0M79.3 45.3h0M67.2 48.0h0M77.4 45.1h0M62.3 67.0h0M65.7 57.4h0M70.7 35.7h0M69.9 55.6h0M57.9 65.9h0M71.8 69.0h0M71.0 42.9h0M68.9 59.0h0M71.0 50.0h0M66.6 46.8h0M71.2 51.4h0M81.0 57.0h0M74.4 52.6h0M72.4 45.5h0M72.4 38.8h0M52.7 69.0h0M62.1 60.3h0M71.3 50.3h0M76.3 52.0h0M73.9 53.7h0M72.4 70.1h0M66.5 70.1h0M67.5 76.2h0M74.8 39.0h0M70.4 60.3h0M68.6 54.1h0M72.8 42.1h0M83.1 51.3h0M69.2 36.8h0M65.1 55.2h0M76.7 66.9h0M70.1 41.4h0M63.6 54.2h0M76.9 53.2h0M72.7 82.6h0M78.6 32.3h0M76.9 58.0h0M70.5 69.9h0M63.7 56.1h0M73.7 48.8h0M74.6 57.0h0M60.9 78.3h0M65.2 76.5h0M65.4 68.9h0M65.0 57.5h0M84.2 33.9h0M74.2 55.0h0M75.9 61.2h0M74.1 42.2h0M70.6 48.2h0M67.4 59.2h0M58.2 67.0h0M66.3 63.7h0M59.2 47.3h0M69.6 52.1h0M64.9 59.5h0M75.9 46.5h0M55.7 62.0h0M64.3 69.0h0M75.6 57.5h0M62.7 50.4h0M61.2 70.2h0M56.6 64.7h0M62.8 47.7h0M64.0 46.5h0M66.0 60.7h0M64.0 64.1h0M79.9 62.2h0M63.7 53.0h0M70.6 52.8h0M72.8 72.7h0M80.1 66.9h0M76.8 49.0h0M63.2 66.6h0M74.8 44.4h0M74.3 42.9h0M73.9 43.3h0M66.3 49.5h0M64.8 48.7h0M73.5 68.4h0M75.3 54.7h0M73.5 48.4h0M71.7 47.5h0M64.8 43.0h0M80.1 65.3h0M65.9 54.5h0M62.9 70.5h0M72.1 49.7h0M72.9 62.1h0M68.6 46.9h0M76.6 38.4h0M60.9 67.2h0M71.2 71.7h0M69.4 49.4h0M70.0 51.1h0M78.4 56.9h0M80.6 51.4h0M66.5 76.6h0M67.8 48.2h0M72.1 37.3h0M70.5 49.1h0M84.8 55.6h0M53.9 64.2h0M75.8 58.5h0M69.1 66.0h0M66.5 56.6h0M64.9 76.6h0M77.8 61.7h0M58.8 64.9h0M65.5 70.6h0M69.6 59.3h0M76.5 49.8h0M57.9 82.6h0M61.5 66.4h0M71.1 67.9h0M82.9 44.1h0M82.9 35.0h0M69.1 61.1h0M72.2 71.6h0M65.3 52.3h0M71.5 48.8h0M67.4 48.0h0M72.0 75.0h0M68.4 78.0h0M74.3 44.7h0M65.3 58.3h0M71.8 73.1h0M61.2 66.6h0M64.6 63.1h0M70.1 76.0h0M65.9 59.0h0M74.0 53.1h0M68.4 64.2h0M62.4 46.7h0M82.1 66.6h0M73.1 34.8h0M62.4 61.4h0M72.4 63.6h0M75.6 51.2h0M83.4 47.0h0M73.9 55.0h0M56.5 64.5h0M65.8 64.9h0M76.9 61.4h0M66.8 53.4h0M64.4 73.8h0M69.4 77.2h0M77.2 49.7h0M72.0 70.1h0M67.6 62.3h0M72.5 41.9h0M66.7 65.9h0M75.7 30.4h0M61.3 68.4h0M67.3 70.6h0M66.9 50.9h0M66.7 46.3h0M72.5 59.7h0M66.0 59.7h0M63.5 50.2h0M66.3 37.0h0M65.7 41.9h0M74.4 76.0h0M79.5 52.7h0M77.7 45.1h0M65.8 59.0h0M59.7 56.5h0M80.9 34.1h0M56.3 49.5h0M68.7 58.6h0M61.1 61.7h0M73.3 48.8h0M78.8 63.2h0M67.7 80.1h0M67.8 53.7h0M60.4 51.3h0M63.6 87.2h0M72.5 60.5h0M65.4 44.9h0M63.8 37.7h0M69.5 60.8h0M65.2 52.9h0M62.9 62.9h0M75.7 51.8h0M71.6 42.0h0M59.3 81.9h0M66.8 67.2h0M68.1 75.5h0M71.2 46.0h0M72.8 69.8h0M62.0 68.8h0M70.0 56.6h0M79.0 66.7h0M72.9 54.0h0M67.3 69.9h0M75.3 49.2h0M73.0 56.6h0M72.4 55.5h0M75.5 30.6h0M53.7 78.2h0M75.7 53.0h0M79.9 31.5h0M67.9 69.1h0M75.7 42.2h0M77.6 52.7h0M65.8 58.4h0M60.8 80.5h0M61.4 82.1h0M77.1 43.4h0M69.7 57.8h0M73.9 74.8h0M58.9 83.7h0M63.3 59.7h0M83.2 48.2h0M70.5 47.8h0M71.6 62.8h0M67.3 64.8h0M66.6 51.3h0M65.4 81.7h0M69.5 57.8h0M77.5 60.5h0M76.8 62.4h0M76.1 61.4h0M67.5 45.5h0M65.7 80.1h0M82.2 56.8h0M61.5 66.6h0M57.5 65.1h0M69.9 65.3h0M61.3 59.5h0M75.7 58.3h0M76.0 59.3h0M73.1 54.1h0M62.3 52.8h0M75.6 49.1h0M63.8 35.3h0M78.6 56.9h0M60.9 70.4h0M74.3 39.1h0M70.5 45.9h0M72.1 46.0h0M68.7 62.7h0M67.2 53.7h0M66.0 66.6h0M62.9 64.7h0M78.1 57.2h0M65.2 51.8h0M61.2 47.5h0M63.4 53.0h0M65.8 62.6h0M69.1 62.4h0M68.6 60.4h0M60.7 62.9h0M73.7 72.7h0M60.3 59.7h0M57.4 63.1h0M70.3 51.4h0M66.3 53.0h0M73.4 45.8h0M69.3 60.3h0M73.2 57.6h0M61.5 84.6h0M74.8 62.9h0M59.3 62.0h0M67.5 61.4h0M69.8 58.4h0M64.0 73.3h0M73.2 54.5h0M61.0 81.5h0M66.6 49.4h0M71.3 59.5h0M66.8 73.8h0M75.2 64.3h0M70.4 56.5h0M64.9 68.7h0M66.1 42.5h0M70.7 44.9h0M61.2 70.0h0M54.3 59.9h0M62.9 51.9h0M70.1 44.4h0M60.7 55.3h0M63.6 69.5h0M82.2 57.1h0M66.1 52.3h0M69.4 69.1h0M62.4 61.0h0M65.6 70.7h0M68.2 54.0h0M69.6 39.9h0M69.0 66.1h0M75.7 62.4h0M70.5 45.4h0M65.5 46.5h0M71.6 58.9h0M56.5 51.7h0M72.0 44.3h0M67.9 63.4h0M68.6 39.2h0M67.0 59.7h0M62.8 75.0h0M74.4 45.6h0M77.0 50.9h0M73.7 59.6h0M81.0 47.6h0M72.8 63.6h0M61.9 63.9h0M82.3 65.6h0M65.9 54.0h0M76.9 62.6h0M81.3 52.2h0M83.6 40.9h0M70.0 53.4h0M62.5 70.8h0M65.0 60.2h0M78.2 70.4h0M70.1 47.7h0M56.4 58.0h0M71.3 72.0h0M63.6 83.2h0M83.0 31.2h0M61.7 65.0h0M64.5 66.4h0M83.7 60.3h0M60.7 55.6h0M77.5 52.0h0M82.7 49.8h0M65.4 67.8h0M70.7 50.2h0M67.5 64.9h0M75.6 76.5h0M81.4 60.3h0M60.0 53.6h0M71.1 44.6h0M67.1 55.4h0M67.0 68.2h0M60.2 69.1h0M67.6 66.0h0M82.0 44.8h0M82.3 51.6h0M68.4 70.8h0M81.3 40.3h0M66.8 71.0h0M69.5 56.0h0M64.4 76.8h0M70.1 45.0h0M65.2 48.9h0M67.3 60.9h0M75.7 36.7h0M57.9 62.3h0M79.3 42.5h0M82.0 68.5h0M58.0 60.2h0M71.4 51.7h0M68.5 53.9h0M72.6 46.3h0M64.5 62.8h0M78.0 42.4h0M61.3 74.9h0M68.4 78.1h0M65.5 42.3h0M71.5 44.0h0M65.9 46.9h0M65.8 66.7h0M79.8 37.4h0M80.3 56.1h0M64.0 55.0h0M72.6 40.0h0M81.6 53.2h0M64.4 62.5h0M78.5 66.1h0M62.9 60.7h0M75.4 63.8h0M75.7 52.7h0M75.7 37.1h0M69.7 42.4h0M64.6 75.0h0M64.6 54.4h0M79.9 50.1h0M60.8 70.2h0M70.4 64.2h0M77.8 50.0h0M73.8 49.8h0M65.1 57.4h0M77.3 42.9h0M63.1 63.0h0M68.6 65.4h0M71.0 47.1h0M72.6 65.8h0M62.9 63.7h0M80.6 56.8h0M63.1 58.4h0M68.5 64.1h0M60.5 57.5h0M72.9 67.2h0M69.5 72.6h0M60.5 70.2h0M74.9 45.8h0M67.2 59.9h0M67.1 73.9h0M73.0 51.5h0M84.6 57.4h0M61.6 66.7h0M70.3 47.1h0M59.1 69.3h0M63.1 56.4h0M67.9 54.1h0M64.4 57.5h0M69.9 70.9h0M72.0 42.7h0M60.9 54.5h0M69.7 58.7h0M63.8 46.9h0M63.0 63.9h0M65.2 63.8h0M80.1 35.3h0M64.0 71.8h0M66.4 57.8h0M73.7 42.4h0M83.9 59.8h0M75.5 53.1h0M74.4 73.6h0M73.8 70.8h0M69.3 75.1h0M72.0 59.6h0M78.2 48.2h0M73.5 49.2h0M71.8 45.4h0M64.1 57.9h0M67.7 67.4h0M67.1 64.6h0M76.7 50.2h0M62.1 46.0h0M70.3 50.5h0M86.0 53.3h0M75.7 49.1h0M78.8 43.6h0M75.2 61.2h0M71.8 42.4h0M82.3 53.6h0M56.0 76.5h0M80.9 60.9h0M73.9 66.4h0M67.3 58.2h0M67.8 39.3h0M68.1 66.2h0M75.4 43.1h0M74.8 60.0h0M75.6 55.3h0M64.5 69.3h0M82.7 45.6h0M59.6 66.7h0M72.0 58.6h0M60.3 67.5h0M70.3 60.3h0M74.2 51.9h0M71.9 59.6h0M73.0 63.2h0M64.6 46.6h0M64.1 70.6h0M61.9 69.5h0M73.4 69.7h0M83.8 61.5h0M67.5 72.4h0M68.9 69.9h0M64.0 73.9h0M79.0 35.4h0M77.3 57.1h0M65.6 52.2h0M64.1 70.4h0M72.2 57.2h0M73.1 46.7h0M67.7 50.6h0M72.8 43.2h0M63.9 68.5h0M72.7 58.2h0M72.9 55.2h0M59.5 65.6h0M81.9 67.6h0M60.6 61.3h0M68.8 53.5h0M60.1 53.3h0M78.2 39.2h0M70.4 51.2h0M61.5 63.0h0M78.5 65.4h0M73.5 68.3h0M67.5 64.1h0M79.6 54.8h0M74.0 40.8h0M61.5 44.2h0M74.1 63.4h0M66.8 73.4h0M54.1 70.3h0M67.7 66.7h0M81.4 50.4h0M63.1 60.5h0M71.7 50.4h0M71.8 48.6h0M72.2 53.1h0M84.2 48.3h0M73.2 59.4h0M83.2 48.9h0M60.8 76.9h0M67.3 51.7h0M71.1 45.1h0M72.0 77.5h0M71.7 48.2h0M59.3 62.6h0M64.7 62.8h0M56.7 47.9h0M72.3 63.5h0M70.8 57.4h0M69.4 51.5h0M69.0 63.6h0M76.5 56.5h0M80.8 48.7h0M78.2 72.3h0M73.1 78.7h0M63.0 53.8h0M69.1 70.6h0M75.1 42.3h0M78.1 57.7h0M73.8 54.4h0M74.2 41.0h0M76.3 51.3h0M57.6 58.9h0M66.3 68.6h0M79.3 44.6h0M68.9 57.0h0M74.3 45.1h0M66.9 69.0h0M72.3 76.8h0M70.2 50.4h0M75.6 59.0h0M70.4 63.7h0M63.7 73.1h0M78.2 70.4h0M65.6 59.3h0M73.4 67.6h0M62.3 67.3h0M72.3 65.5h0M67.5 56.2h0M58.3 53.4h0M68.3 53.0h0M69.4 53.0h0M70.1 58.6h0M66.7 54.6h0M67.6 62.9h0M74.0 54.0h0M70.8 36.5h0M60.8 59.8h0M58.5 74.5h0M70.4 52.5h0M70.9 50.6h0M65.9 56.9h0M60.6 56.2h0M72.6 46.6h0M75.0 63.5h0M79.0 51.5h0M66.6 41.1h0M67.1 32.2h0M81.3 54.7h0M73.1 51.4h0M63.4 75.5h0M62.8 42.5h0M74.0 46.9h0M69.6 73.8h0M72.8 67.8h0M65.4 68.7h0M69.3 41.9h0M69.3 53.9h0M81.0 48.0h0M79.8 50.3h0M68.3 35.1h0M74.9 40.3h0M71.1 58.2h0M74.4 34.0h0M65.2 61.6h0M56.5 62.0h0M72.0 51.0h0M68.9 65.3h0M72.6 48.2h0M77.2 50.8h0M68.7 69.4h0M72.3 78.4h0M75.7 60.9h0M68.1 59.1h0M77.0 48.8h0M85.0 41.5h0M80.7 44.2h0M65.1 49.3h0M73.1 40.9h0M74.2 57.1h0M81.9 47.9h0M56.4 61.9h0M65.1 68.3h0M63.5 80.3h0M69.2 32.6h0M62.1 73.0h0M84.6 44.3h0M72.8 34.6h0M68.3 44.4h0M68.5 71.4h0M85.9 57.5h0M74.2 61.4h0M63.8 80.2h0M68.7 76.9h0M68.7 68.0h0M73.4 57.1h0M67.2 51.2h0M71.4 52.8h0M70.4 48.4h0M76.1 56.0h0M70.0 54.5h0M80.0 53.4h0M81.7 49.8h0M77.2 67.3h0M65.3 61.7h0M80.4 48.2h0M67.5 60.5h0M69.8 53.5h0M69.0 61.0h0M69.5 76.0h0M61.6 77.5h0M74.4 40.0h0M68.6 52.4h0M83.8 35.6h0M66.6 54.5h0M72.6 63.1h0M75.8 57.0h0M64.2 71.0h0M79.2 64.9h0M74.0 47.5h0M81.5 65.9h0M79.5 39.6h0M65.0 86.9h0M69.7 54.6h0M80.1 57.9h0M68.2 81.6h0M65.8 45.3h0M73.7 59.9h0M70.8 55.4h0M69.5 61.7h0M68.1 53.1h0M75.3 44.9h0M80.6 32.3h0M74.3 57.0h0M58.0 70.9h0M55.4 79.3h0M61.2 70.1h0M63.8 76.1h0M65.0 68.9h0M74.8 34.7h0M70.7 63.6h0M66.5 77.6h0M70.6 39.1h0M74.1 49.6h0M69.4 57.0h0M61.1 68.6h0M62.9 78.0h0M67.7 70.1h0M70.6 49.0h0M69.9 46.0h0M72.2 59.7h0M69.0 37.2h0M71.3 34.2h0M70.1 37.8h0M78.5 45.0h0M66.9 54.7h0M68.7 62.3h0M72.4 66.2h0M63.4 71.3h0M74.8 49.6h0M83.4 46.2h0M68.4 72.9h0M69.5 61.5h0M68.4 65.3h0M71.4 57.8h0M81.1 36.3h0M72.6 54.2h0M80.9 64.3h0M63.7 63.7h0M72.0 42.6h0M66.5 62.6h0M73.5 71.8h0M72.0 55.8h0M66.9 71.8h0M65.1 70.6h0M65.2 55.6h0M72.2 66.9h0M73.1 51.6h0M60.7 48.8h0M66.3 50.9h0M82.4 51.1h0M75.2 58.6h0M62.9 56.5h0M78.8 44.7h0M64.4 50.6h0M76.6 51.5h0M70.9 63.4h0M68.5 62.5h0M78.4 57.3h0M75.8 45.3h0M66.0 54.7h0M77.3 50.9h0M58.3 65.5h0M63.2 56.7h0M76.3 47.0h0M68.1 70.7h0M65.7 65.3h0M74.1 46.6h0M68.5 48.9h0M73.9 73.2h0M77.1 39.4h0M68.5 51.6h0M58.5 53.5h0M76.5 42.2h0M69.1 51.1h0M78.7 68.4h0M74.3 59.7h0M59.0 65.7h0M72.8 33.5h0M75.6 54.5h0M68.2 63.3h0M67.1 61.6h0M78.9 55.8h0M67.8 56.8h0M75.3 53.7h0M72.9 49.4h0M67.6 63.5h0M65.8 53.6h0M63.8 46.4h0M68.6 63.6h0M64.2 54.2h0M63.3 59.2h0M70.0 62.9h0M73.8 40.2h0M71.5 40.5h0M66.2 55.3h0M78.8 51.7h0M64.7 58.2h0M57.2 66.3h0M72.4 70.3h0M66.8 65.6h0M64.5 67.8h0M69.0 46.5h0M73.9 52.6h0M77.1 48.4h0M75.1 46.2h0M61.7 82.1h0M68.0 40.9h0M61.3 51.6h0M81.3 54.9h0M76.2 56.8h0M59.1 79.5h0M83.0 37.7h0M62.7 60.3h0M74.7 55.8h0M70.0 64.1h0M64.4 68.2h0M62.3 64.5h0M74.7 61.3h0M68.0 56.4h0M55.9 56.2h0M68.7 31.1h0M77.8 47.9h0M72.0 58.4h0M62.8 43.5h0M66.7 62.2h0M74.9 42.6h0M66.5 57.5h0M64.0 49.8h0M74.3 31.4h0M77.1 70.6h0M63.9 67.4h0M58.3 73.2h0M67.3 58.2h0M66.2 57.2h0M71.9 58.2h0M62.4 64.6h0M73.3 58.2h0M78.9 50.5h0M78.2 57.7h0M80.6 54.8h0M67.8 59.2h0M71.4 76.0h0M69.9 47.9h0M70.1 73.1h0M75.4 54.7h0M77.6 59.2h0M68.8 64.8h0M74.7 29.8h0M68.7 66.0h0M70.7 64.3h0M67.2 69.7h0M65.4 74.8h0M67.5 66.6h0M65.7 59.7h0M72.0 59.6h0M79.0 60.5h0M75.4 63.4h0M79.7 48.7h0M64.4 67.8h0M63.8 60.3h0M72.7 60.5h0M70.7 64.3h0M67.1 61.6h0M68.6 51.0h0M61.0 53.1h0M59.8 54.5h0M75.1 44.9h0M69.4 60.7h0M71.2 45.9h0M67.9 61.8h0M68.6 81.5h0M57.1 57.6h0M74.9 50.6h0M64.4 82.3h0M65.8 73.4h0M77.9 54.0h0M52.2 66.6h0M85.4 39.4h0M71.3 48.7h0M71.0 58.3h0M78.9 52.4h0M87.5 40.7h0M67.2 64.4h0M76.6 54.7h0M57.9 56.2h0M81.6 34.7h0M65.1 62.9h0M56.5 50.6h0M65.4 38.6h0M68.3 71.2h0M79.3 51.6h0M79.4 37.4h0M59.3 60.9h0M71.3 44.6h0M59.8 51.1h0M59.8 68.5h0M60.9 46.5h0M66.4 70.6h0M63.0 78.4h0M70.2 55.8h0M71.4 62.1h0M64.5 43.4h0M67.4 60.8h0M65.3 46.6h0M64.4 59.8h0M65.3 63.5h0M75.6 47.2h0M72.7 42.1h0M67.7 66.9h0M70.5 34.7h0M74.1 54.7h0M68.2 62.6h0M68.9 68.8h0M75.2 30.5h0M68.2 52.7h0M66.2 61.1h0M63.9 72.0h0M66.3 56.0h0M60.3 81.4h0M67.9 43.7h0M65.0 65.5h0M70.7 55.2h0M68.8 30.1h0M69.6 54.0h0M79.2 64.8h0M69.1 69.4h0M69.1 41.1h0M62.5 74.0h0M78.0 52.1h0M59.3 65.9h0M80.5 46.3h0M82.4 51.0h0M75.2 56.1h0M70.2 49.4h0M71.9 65.8h0M75.8 55.4h0M57.2 80.9h0M80.9 58.1h0M57.8 72.8h0M70.6 58.1h0M73.8 62.9h0M63.5 80.8h0M56.4 61.3h0M63.8 56.3h0M68.0 60.0h0M53.1 61.0h0M85.4 56.6h0M73.1 66.2h0M73.6 51.8h0M72.8 61.6h0M75.7 69.7h0M77.3 65.7h0M73.2 50.4h0M71.9 53.0h0M68.5 74.3h0M69.7 69.3h0M70.3 61.9h0M61.9 56.3h0M70.6 56.4h0M67.4 60.4h0M67.2 53.8h0M69.0 41.3h0M68.3 51.3h0M76.2 72.3h0M65.7 63.1h0M69.2 36.0h0M69.9 64.6h0M65.9 55.9h0M75.8 61.2h0M69.0 64.4h0M62.0 38.1h0M61.4 57.7h0M73.0 33.7h0M76.1 56.6h0M68.8 82.8h0M64.6 39.1h0M71.4 75.9h0M71.1 62.2h0M71.8 66.2h0M59.6 63.6h0M77.5 54.2h0M66.2 49.7h0M64.5 62.4h0M74.6 58.9h0M74.5 35.7h0M71.0 44.6h0M65.4 60.2h0M66.6 49.3h0M64.0 52.1h0M64.6 68.5h0M54.9 64.3h0M75.8 52.2h0M65.1 58.2h0M73.7 56.3h0M69.0 57.1h0M62.4 58.4h0M73.3 58.9h0M63.1 55.1h0M68.2 60.7h0M64.5 66.2h0M73.6 68.9h0M67.0 72.0h0M70.3 55.2h0M61.2 54.8h0M80.8 48.2h0M79.3 43.7h0M65.2 79.2h0M74.4 43.6h0M72.2 56.0h0M76.7 52.6h0M61.2 48.4h0M69.9 70.3h0M71.6 58.0h0M74.8 56.2h0M66.4 59.0h0M78.4 53.4h0M75.3 50.7h0M64.9 57.9h0M64.9 44.8h0M64.9 48.0h0M56.1 82.7h0M73.4 59.2h0M74.9 50.7h0M77.7 54.6h0M64.3 47.4h0M65.7 37.9h0M76.2 52.4h0M76.1 52.0h0M70.5 50.4h0M69.0 48.5h0M79.2 59.4h0M73.6 72.6h0M69.9 55.2h0M66.6 57.8h0M72.8 58.1h0M68.4 44.5h0M74.1 79.9h0M64.7 47.5h0M67.6 63.9h0M68.4 59.8h0M68.1 71.1h0M58.1 67.5h0M70.7 64.3h0M61.6 51.8h0M66.1 64.1h0M71.7 66.4h0M57.6 69.3h0M67.0 68.1h0M72.3 49.1h0M76.2 53.3h0M64.7 69.6h0M66.5 78.2h0M81.0 47.1h0M56.4 67.7h0M74.5 55.4h0M70.1 50.3h0M81.4 58.7h0M58.3 65.1h0M68.1 61.2h0M67.7 56.1h0M56.6 59.9h0M67.1 51.6h0M67.3 72.5h0M57.2 51.7h0M69.7 69.9h0M63.2 59.2h0M69.1 68.7h0M66.8 53.9h0M62.8 69.3h0M78.1 54.2h0M68.3 59.5h0M64.8 54.3h0M72.4 67.7h0M68.0 48.5h0M74.3 40.3h0M71.4 59.2h0M62.6 52.1h0M66.8 52.9h0M59.8 71.2h0M61.3 64.2h0M66.1 74.1h0M69.5 57.2h0M76.8 35.9h0M85.3 59.3h0M71.9 43.9h0M63.4 75.3h0M63.7 60.9h0M72.9 69.9h0M73.4 36.7h0M70.4 64.5h0M69.4 51.8h0M86.0 42.6h0M68.8 49.4h0M62.7 46.5h0M60.7 69.9h0M64.0 38.5h0M76.8 40.3h0M59.8 46.5h0M65.9 44.0h0M67.3 62.1h0M66.9 53.0h0M74.7 56.9h0M76.4 52.0h0M68.4 72.6h0M69.0 52.9h0M67.3 62.2h0M62.3 55.5h0M61.4 72.3h0M57.1 61.4h0M70.5 48.3h0M71.5 54.9h0M69.3 60.1h0M78.6 55.0h0M76.8 74.4h0M78.7 62.5h0M75.1 46.4h0M82.0 46.8h0M65.0 55.8h0M70.1 61.6h0M63.9 51.3h0M68.8 71.6h0M73.1 63.4h0M70.1 50.7h0M67.0 55.3h0M74.8 52.6h0M85.8 49.9h0M75.5 56.6h0M70.3 52.8h0M80.2 56.8h0M72.8 59.7h0M72.4 65.3h0M82.4 52.2h0M59.0 74.8h0M77.4 60.5h0M67.2 59.6h0M80.4 51.2h0M78.9 59.4h0M69.0 52.2h0M55.9 57.0h0M63.7 48.6h0M63.6 58.3h0M74.1 59.1h0M69.6 62.3h0M77.7 66.8h0M79.6 59.6h0M74.2 50.7h0M76.4 48.9h0M74.9 51.1h0M63.5 70.3h0M68.0 66.5h0M74.8 36.0h0M79.4 58.1h0M62.6 66.7h0M65.5 46.9h0M79.2 51.7h0M77.8 56.0h0M68.3 57.7h0M63.1 68.4h0M76.3 60.1h0M71.7 64.5h0M85.5 42.8h0M73.0 69.5h0M67.9 56.9h0M63.5 70.5h0M60.8 62.0h0M75.7 66.1h0M68.5 51.3h0M60.4 41.9h0M79.7 48.8h0M60.7 51.5h0M59.2 59.7h0M61.3 66.4h0M74.0 41.3h0M67.3 48.7h0M60.5 69.6h0M62.5 59.6h0M64.3 62.9h0M66.5 37.2h0M68.1 74.3h0M62.5 51.3h0M69.9 46.0h0M75.6 59.7h0M62.1 52.4h0M80.4 51.9h0M69.5 47.2h0M72.7 51.5h0M78.1 49.7h0M59.4 59.7h0M70.7 60.6h0M67.8 51.3h0M65.5 53.9h0M65.2 62.7h0M68.0 63.6h0M80.7 57.4h0M66.8 61.0h0M83.9 57.3h0M76.1 73.8h0M62.5 60.0h0M77.8 60.5h0M63.4 81.9h0M64.7 82.1h0M58.8 74.1h0M75.0 29.3h0M66.4 50.5h0M67.0 65.7h0M72.3 64.5h0M59.2 75.9h0M77.0 60.0h0M66.5 55.8h0M70.9 49.2h0M72.0 49.9h0M76.0 51.3h0M71.7 61.9h0M69.1 63.5h0M63.1 64.3h0M71.5 52.6h0M76.7 73.0h0M66.2 63.2h0M68.6 76.3h0M76.6 57.4h0M72.3 43.9h0M68.5 67.5h0M65.2 64.1h0M72.2 52.4h0M58.6 67.5h0M66.8 43.8h0M69.2 65.1h0M80.6 62.7h0M69.4 61.9h0M68.7 53.5h0M82.3 39.9h0M67.3 63.4h0M60.3 52.5h0M78.0 64.4h0M71.8 66.6h0M70.0 61.8h0M65.6 53.5h0M85.4 47.0h0M73.2 42.8h0M69.3 47.7h0M61.6 57.8h0M62.3 61.5h0M76.1 33.5h0M67.8 61.3h0M67.0 71.3h0M76.8 38.3h0M82.4 49.5h0M68.2 60.8h0M64.2 56.7h0M84.8 41.2h0M61.2 49.2h0M73.3 42.7h0M52.7 63.3h0M76.9 43.2h0M73.6 57.7h0M75.5 42.6h0M66.9 62.3h0M62.8 42.2h0M69.0 81.7h0M74.2 57.8h0M64.7 50.7h0M66.8 61.9h0M59.8 84.8h0M85.6 35.0h0M62.8 55.1h0M74.5 63.8h0M76.1 66.5h0M67.5 75.5h0M69.1 50.3h0M62.9 58.2h0M69.4 68.8h0M76.6 67.1h0M78.3 56.8h0M61.5 63.8h0M71.5 74.4h0M70.5 51.7h0M66.5 60.7h0M70.3 55.1h0M72.5 54.5h0M74.1 51.2h0M61.5 50.9h0M84.3 51.7h0M70.9 74.3h0M65.7 59.2h0M54.0 59.5h0M78.7 62.3h0M59.8 47.0h0M65.0 57.2h0M73.1 53.2h0M70.9 47.5h0M72.8 60.7h0M73.8 52.2h0M74.0 54.8h0M72.3 56.1h0M69.7 43.6h0M63.3 38.3h0M62.7 45.0h0M72.7 43.7h0M65.3 81.8h0M81.6 46.4h0M71.5 49.9h0M79.7 42.2h0M71.1 60.4h0M71.9 63.2h0M77.1 37.3h0M71.3 45.9h0M74.0 55.6h0M67.1 70.1h0M63.4 76.3h0M80.3 41.9h0M62.1 70.1h0M62.7 70.0h0M66.9 54.8h0M81.8 41.2h0M72.0 52.2h0M65.0 77.1h0M77.7 42.7h0M77.4 53.9h0M66.9 70.8h0M64.7 67.6h0M74.2 47.3h0M72.8 41.1h0M76.7 61.3h0M79.8 46.3h0M79.4 45.2h0M71.8 57.6h0M65.3 59.7h0M73.2 47.4h0M70.0 40.9h0M77.9 61.5h0M65.3 64.5h0M68.8 42.3h0M66.6 76.1h0M71.3 59.6h0M86.1 42.8h0M74.2 41.7h0M63.4 52.2h0M65.3 59.2h0M64.7 52.4h0M82.6 33.8h0M69.2 53.3h0M67.3 54.9h0M60.5 48.8h0M70.4 44.4h0M70.7 82.5h0M77.9 48.8h0M76.9 65.6h0M62.9 62.6h0M64.4 62.7h0M71.6 72.2h0M64.0 53.8h0M74.3 43.2h0M70.1 65.9h0M63.5 48.3h0M67.7 40.5h0M58.6 71.0h0M67.3 51.4h0M72.5 70.8h0M85.9 36.0h0M80.8 38.5h0M67.6 51.2h0M59.6 78.7h0M64.8 70.4h0M69.1 56.2h0M71.6 63.3h0M79.2 38.2h0M72.0 61.8h0M73.9 57.7h0M77.1 43.0h0M81.2 45.4h0M75.0 71.5h0M70.6 53.7h0M75.8 55.2h0M61.7 58.2h0M64.1 49.7h0M78.1 69.9h0M67.5 55.6h0M66.1 55.9h0M58.7 62.3h0M72.2 50.2h0M69.0 50.9h0M68.2 50.4h0M75.6 67.5h0M71.3 62.2h0M76.7 68.3h0M70.3 60.8h0M71.2 57.8h0M76.2 31.0h0M73.3 58.8h0M74.9 62.6h0M66.1 63.6h0M72.7 52.4h0M69.2 51.6h0M69.7 51.5h0M65.4 69.9h0M67.6 54.5h0M70.3 40.1h0M66.6 49.7h0M72.1 53.6h0M64.0 50.7h0M82.4 49.9h0M66.8 69.0h0M67.1 49.1h0M66.2 58.1h0M70.1 59.1h0M73.9 54.6h0M59.8 42.0h0M75.7 41.7h0M62.7 73.9h0M73.8 50.1h0M67.1 69.6h0M63.9 39.6h0M67.5 50.9h0M71.5 50.3h0M70.3 58.4h0M65.1 47.8h0M61.4 58.2h0M69.3 65.2h0M66.5 49.4h0M56.4 53.2h0M58.9 58.2h0M75.0 64.3h0M73.0 61.0h0M69.0 68.7h0M70.6 82.8h0M65.4 66.3h0M73.8 63.7h0M76.1 43.1h0M79.8 49.1h0M69.0 46.1h0M76.8 47.1h0M70.8 64.5h0M71.8 53.5h0M69.0 73.4h0M70.9 44.2h0M69.4 46.0h0M69.1 55.0h0M66.5 50.8h0M63.0 57.9h0M81.6 38.0h0M66.0 75.0h0M65.0 67.2h0M75.2 47.1h0M78.2 52.0h0M73.6 53.2h0M68.1 58.6h0M84.0 40.3h0M62.8 56.3h0M76.6 56.9h0M67.0 62.9h0M82.8 49.7h0M61.2 51.0h0M79.3 43.5h0M73.6 70.1h0M77.8 49.0h0M59.8 62.3h0M69.2 65.6h0M73.3 70.8h0M68.3 56.6h0M70.1 66.6h0M70.7 50.9h0M60.4 67.2h0M74.1 51.3h0M64.0 48.9h0M63.8 49.6h0M64.9 62.0h0M70.2 34.4h0M71.1 40.2h0M75.2 56.2h0M62.9 44.0h0M70.0 56.7h0M59.2 52.3h0M68.3 69.1h0M77.1 57.8h0M63.4 50.5h0M77.2 47.8h0M81.1 48.5h0M60.2 64.6h0M68.3 60.7h0M68.0 57.0h0M59.8 77.9h0M74.4 57.0h0M70.0 67.6h0M66.2 58.2h0M73.2 51.1h0M66.0 53.4h0M69.6 51.9h0M57.9 54.4h0M73.7 59.2h0M77.4 70.3h0M70.2 48.8h0M74.4 53.8h0M59.7 55.6h0M69.0 54.0h0M73.1 60.6h0M84.9 52.5h0M68.3 60.5h0M69.1 50.5h0M85.8 43.8h0M78.3 37.7h0M78.8 35.8h0M58.9 68.0h0M78.9 61.5h0M75.4 45.0h0M72.5 41.4h0M69.7 56.0h0M68.0 66.5h0M73.8 30.7h0M67.3 40.6h0M69.3 51.5h0M64.9 72.8h0M73.9 44.9h0M71.2 46.6h0M66.5 63.4h0M60.6 63.1h0M75.6 77.9h0M79.6 61.2h0M54.7 77.6h0M68.9 59.7h0M71.1 45.8h0M78.7 42.4h0M59.7 60.9h0M70.7 46.9h0M68.1 74.4h0M68.7 55.1h0M70.1 69.0h0M73.9 66.9h0M64.1 62.0h0M76.0 37.8h0M75.5 66.0h0M78.6 59.0h0M74.7 57.7h0M67.8 67.9h0M68.2 64.3h0M65.5 71.1h0M79.8 39.5h0M78.6 65.3h0M69.1 49.1h0M81.8 61.9h0M71.0 64.9h0M60.3 76.0h0M85.5 52.2h0M82.6 40.7h0M67.7 57.3h0M68.3 63.8h0M71.2 62.2h0M68.1 60.4h0M59.8 78.6h0M66.1 71.4h0M71.2 55.7h0M73.4 42.2h0M81.2 65.8h0M72.4 52.2h0M78.9 55.8h0M69.1 50.2h0M78.3 63.6h0M71.3 49.6h0M76.8 62.9h0M64.9 66.8h0M78.8 47.5h0M73.2 71.7h0M73.2 41.7h0M77.8 55.4h0M69.8 53.6h0M65.5 66.2h0M61.5 61.2h0M73.4 71.3h0M73.5 61.6h0M69.2 55.5h0M58.9 74.6h0M72.8 45.6h0M69.8 75.9h0M72.8 54.1h0M61.0 62.5h0M70.8 49.3h0M78.1 43.7h0M82.9 31.1h0M71.2 39.9h0M65.8 65.8h0M57.5 70.2h0M67.6 50.5h0M78.6 50.8h0M79.5 57.6h0M72.8 46.2h0M77.2 58.6h0M70.4 45.6h0M66.5 55.0h0M63.0 64.9h0M72.0 50.2h0M67.9 74.2h0M56.3 57.5h0M76.1 60.8h0M80.3 41.4h0M62.1 67.2h0M69.3 57.8h0M72.6 62.5h0M74.5 52.5h0M63.8 71.4h0M72.1 40.1h0M64.9 66.7h0M80.3 62.2h0M64.3 63.0h0M67.8 71.1h0M70.6 66.7h0M71.7 62.9h0M65.2 53.7h0M75.1 75.2h0M74.5 63.5h0M68.2 61.0h0M64.4 68.9h0M70.8 48.1h0M55.1 71.8h0M68.5 46.2h0M66.3 78.2h0M75.2 54.7h0M76.3 49.0h0M68.5 57.1h0M67.5 66.1h0M66.9 79.4h0M76.1 55.6h0M74.6 48.2h0M67.6 52.3h0M78.6 51.4h0M64.3 43.1h0M63.6 53.0h0M72.3 43.6h0M66.8 51.2h0M70.4 64.9h0M78.9 56.8h0M73.6 59.3h0M65.8 48.2h0M83.7 59.5h0M77.2 69.6h0M80.7 58.2h0M76.8 55.6h0M67.6 42.2h0M78.3 40.0h0M75.3 48.2h0M77.0 42.6h0M76.0 56.3h0M66.0 38.4h0M76.2 39.1h0M70.5 63.3h0M61.5 71.8h0M77.7 63.4h0M71.3 63.4h0M64.2 71.5h0M75.7 28.2h0M68.8 62.3h0M78.9 46.4h0M81.3 50.6h0M71.5 66.6h0M67.4 70.3h0M60.3 79.4h0M74.6 53.5h0M55.8 70.3h0M81.4 53.6h0M60.5 68.2h0M73.9 46.6h0M67.1 57.2h0M70.7 76.6h0M61.3 73.4h0M58.8 62.6h0M67.9 62.0h0M70.1 48.5h0M68.0 70.5h0M56.9 53.9h0M71.5 44.6h0M60.5 60.7h0M71.3 65.5h0M63.7 36.6h0M68.1 51.3h0M82.0 56.2h0M67.6 68.7h0M78.9 64.5h0M65.6 79.6h0M74.0 36.4h0M66.9 52.4h0M76.9 63.2h0M77.0 60.6h0M72.5 50.9h0M61.2 60.8h0M70.4 64.4h0M68.5 51.6h0M70.4 64.8h0M85.0 51.1h0M73.1 69.0h0M68.2 58.4h0M64.7 74.4h0M84.2 65.5h0M65.5 67.5h0M73.8 56.1h0M71.7 68.5h0M65.0 66.1h0M61.4 38.8h0M67.9 58.5h0M56.6 71.3h0M67.5 58.3h0M67.4 65.7h0M64.3 64.6h0M70.4 39.2h0M72.7 60.1h0M82.1 37.1h0M73.1 50.3h0M70.5 52.5h0M70.3 49.1h0M82.2 39.8h0M59.2 58.2h0M84.8 52.4h0M68.9 42.5h0M59.9 69.5h0M71.2 68.7h0M71.5 60.6h0M70.1 45.4h0M65.4 86.3h0M63.7 70.9h0M66.0 56.5h0M80.6 59.6h0M75.9 52.1h0M85.6 46.9h0M74.4 55.6h0M70.2 61.7h0M75.0 69.5h0M75.2 63.3h0M59.3 70.5h0M77.7 65.5h0M75.8 56.1h0M58.3 65.8h0M59.4 77.5h0M74.4 58.3h0M66.2 57.4h0M65.6 51.2h0M80.7 56.9h0M81.5 59.5h0M75.9 47.7h0M70.0 51.7h0M55.4 76.6h0M74.0 57.4h0M63.6 55.7h0M67.3 44.5h0M61.7 81.3h0M58.0 60.5h0M62.3 53.2h0M73.2 48.9h0M78.9 66.6h0M72.2 37.6h0M73.6 50.0h0M79.9 47.4h0M78.9 54.3h0M72.3 54.6h0M70.0 71.4h0M70.1 46.1h0M78.2 71.5h0M78.2 71.5h0M65.4 76.0h0M67.7 51.2h0M65.5 64.3h0M65.8 53.7h0M66.0 53.1h0M73.0 71.9h0M60.1 85.7h0M64.5 61.2h0M75.0 31.4h0M58.9 69.1h0M68.5 60.1h0M77.5 59.9h0M68.5 49.2h0M62.7 61.8h0M65.6 62.2h0M62.8 49.7h0M81.2 65.2h0M65.5 70.5h0M66.5 75.1h0M60.6 63.9h0M61.5 63.1h0M63.6 60.5h0M75.4 50.0h0M75.3 45.7h0M72.8 69.4h0M66.8 64.8h0M84.9 59.8h0M57.9 57.7h0M70.2 47.6h0M72.1 70.3h0M68.1 76.9h0M67.9 51.4h0M68.7 57.6h0M63.7 58.1h0M78.6 52.0h0M74.1 56.6h0M68.8 58.3h0M77.3 65.9h0M73.7 60.2h0M54.1 64.0h0M69.7 58.3h0M72.5 38.9h0M72.7 80.8h0M85.9 39.3h0M77.5 44.9h0M70.8 51.1h0M69.1 47.4h0M64.6 65.2h0M76.5 70.7h0M70.6 55.6h0M68.7 56.6h0M67.1 54.1h0M76.0 56.3h0M65.7 54.4h0M70.9 56.5h0M66.1 64.8h0M73.4 45.7h0M76.0 50.2h0M71.9 67.9h0M71.9 61.6h0M62.8 52.6h0M68.6 64.7h0M63.9 53.5h0M60.3 56.5h0M70.2 58.8h0M77.5 68.6h0M71.0 50.3h0M64.7 65.3h0M77.3 53.2h0M70.9 52.1h0M73.6 60.7h0M68.9 45.9h0M82.8 43.8h0M84.1 54.9h0M73.3 65.2h0M71.2 71.7h0M67.4 56.2h0M74.1 65.4h0M68.2 47.3h0M60.5 57.6h0M72.3 38.6h0M65.6 59.9h0M72.0 55.1h0M68.8 64.9h0M65.7 45.8h0M73.4 67.4h0M64.2 46.5h0M76.2 68.5h0M65.7 68.6h0M73.4 75.8h0M66.2 40.0h0M67.2 55.8h0M67.1 59.4h0M75.2 72.4h0M76.1 59.1h0M78.5 65.5h0M71.6 57.5h0M66.8 67.4h0M84.4 59.3h0M59.6 66.7h0M74.8 47.0h0M75.9 59.2h0M62.8 59.8h0M60.5 66.4h0M82.3 64.9h0M71.7 56.8h0M75.2 59.2h0M71.4 75.3h0M78.6 47.9h0M75.0 55.5h0M68.6 68.8h0M65.4 58.4h0M81.9 50.5h0M66.4 65.1h0M65.2 68.4h0M69.2 38.4h0M72.9 56.4h0M68.7 68.7h0M77.7 55.3h0M74.5 34.6h0M63.4 58.2h0M76.5 40.9h0M75.0 58.3h0M78.0 55.3h0M79.8 46.6h0M61.7 44.7h0M72.9 63.2h0M58.2 55.5h0M68.4 77.5h0M73.1 64.5h0M59.3 58.6h0M59.2 50.3h0M71.2 45.6h0M64.4 53.8h0M75.8 51.1h0M69.5 65.8h0M63.4 78.8h0M70.7 48.5h0M54.9 65.8h0M74.8 56.4h0M72.4 56.4h0M75.4 58.8h0M71.7 56.8h0M72.4 30.6h0M77.7 44.3h0M70.3 65.2h0M84.1 52.4h0M67.7 68.2h0M68.1 49.4h0M65.7 81.3h0M73.3 70.0h0M62.0 62.9h0M81.3 45.2h0M70.8 55.1h0M80.0 38.9h0M74.4 58.6h0M75.8 33.0h0M59.4 47.3h0M72.6 63.3h0M80.5 39.6h0M66.7 72.8h0M58.5 61.7h0M63.8 62.1h0M76.3 39.2h0M59.4 69.6h0M65.2 71.0h0M69.1 67.9h0M66.9 59.0h0M64.7 66.8h0M62.8 68.6h0M83.8 46.5h0M67.2 63.0h0M76.9 73.5h0M76.5 38.0h0M77.2 52.2h0M69.9 62.1h0M57.9 66.6h0M73.7 65.4h0M72.5 62.4h0M63.4 49.0h0M76.2 55.1h0M69.0 61.5h0M69.7 60.3h0M73.0 58.2h0M64.3 52.2h0M78.2 51.4h0M71.9 61.6h0M72.6 48.5h0M63.1 66.6h0M64.2 59.7h0M70.1 59.7h0M76.4 57.4h0M70.7 49.3h0M70.2 57.8h0M58.9 73.9h0M66.1 54.4h0M61.9 56.6h0M68.5 70.1h0M77.7 53.5h0M80.1 59.0h0M73.6 79.3h0M71.3 44.5h0M68.4 74.3h0M68.7 70.2h0M70.6 68.3h0M79.1 56.4h0M61.9 53.3h0M69.4 42.5h0M66.6 64.9h0M64.1 36.9h0M77.9 48.8h0M63.1 71.7h0M75.6 63.3h0M72.1 62.5h0M61.1 56.7h0M73.2 56.8h0M71.8 68.6h0M71.2 54.6h0M59.1 67.8h0M65.5 59.7h0M76.7 68.7h0M62.7 53.9h0M71.4 37.5h0M63.2 62.3h0M72.8 55.6h0M75.1 44.5h0M66.0 54.0h0M76.0 55.1h0M67.9 60.7h0M83.2 45.9h0M72.7 60.3h0M68.8 59.9h0M58.0 53.9h0M72.9 43.0h0M75.6 57.5h0M65.4 65.1h0M67.0 47.5h0M72.1 68.5h0M83.8 55.9h0M66.4 38.0h0M62.5 56.2h0M70.9 49.3h0M66.4 47.6h0M63.8 69.8h0M69.2 73.7h0M72.4 67.2h0M75.6 64.5h0M75.5 72.7h0M80.3 63.0h0M56.8 83.9h0M66.6 62.5h0M70.2 48.8h0M76.5 45.6h0M64.3 72.7h0M68.0 66.6h0M72.6 62.7h0M68.6 64.3h0M62.2 62.0h0M66.1 46.8h0M71.1 41.2h0M56.9 57.9h0M70.8 65.5h0M82.8 63.3h0M77.1 50.3h0M78.2 45.8h0M85.2 50.1h0M65.0 64.8h0M52.2 68.1h0M63.6 57.7h0M75.4 60.8h0M77.4 53.3h0M81.1 34.0h0M81.4 52.6h0M64.8 55.8h0M82.7 52.5h0M71.1 53.2h0M68.9 40.9h0M71.2 66.2h0M64.7 58.4h0M71.4 62.3h0M68.9 57.4h0M75.3 45.9h0M66.5 65.8h0M62.2 70.8h0M72.3 44.5h0M72.9 41.6h0M79.1 40.6h0M70.9 54.6h0M66.8 61.4h0M73.7 51.5h0M76.5 53.7h0M70.9 73.9h0M69.1 68.3h0M60.0 61.0h0M61.6 52.5h0M68.0 47.2h0M64.3 55.7h0M77.8 45.5h0M72.6 35.4h0M72.9 32.6h0M59.3 59.7h0M78.1 49.8h0M74.8 49.2h0M70.5 78.7h0M67.8 50.7h0M74.1 77.6h0M67.8 64.3h0M61.4 51.0h0M68.8 55.0h0M77.1 40.3h0M56.4 79.2h0M59.3 54.7h0M72.7 64.0h0M75.9 39.3h0" stroke="#b8b8b8" stroke-opacity="0.45" stroke-width="1.0" stroke-linecap="round" fill="none"/>
<line x1="31.40" y1="20.00" x2="31.40" y2="93.20" stroke="#b4c0d8" stroke-width="0.8" />
<line x1="31.40" y1="93.20" x2="103.00" y2="93.20" stroke="#b4c0d8" stroke-width="0.8" />
<text x="29.60" y="28.20" font-size="5.5" fill="#2a2a2a" font-weight="normal" text-anchor="end" stroke="#2a2a2a" stroke-width="0.12">0.8</text>
<text x="29.60" y="45.90" font-size="5.5" fill="#2a2a2a" font-weight="normal" text-anchor="end" stroke="#2a2a2a" stroke-width="0.12">0.4</text>
<text x="29.60" y="63.50" font-size="5.5" fill="#2a2a2a" font-weight="normal" text-anchor="end" stroke="#2a2a2a" stroke-width="0.12">0</text>
<text x="29.60" y="81.90" font-size="5.5" fill="#2a2a2a" font-weight="normal" text-anchor="end" stroke="#2a2a2a" stroke-width="0.12">−0.4</text>
<text x="44.00" y="98.80" font-size="5.5" fill="#2a2a2a" font-weight="normal" text-anchor="middle" stroke="#2a2a2a" stroke-width="0.12">−0.5</text>
<text x="66.30" y="98.80" font-size="5.5" fill="#2a2a2a" font-weight="normal" text-anchor="middle" stroke="#2a2a2a" stroke-width="0.12">0</text>
<text x="86.60" y="98.80" font-size="5.5" fill="#2a2a2a" font-weight="normal" text-anchor="middle" stroke="#2a2a2a" stroke-width="0.12">−0.5</text>
<text x="45.60" y="109.00" font-size="7" fill="#262626" font-weight="normal" text-anchor="start" stroke="#262626" stroke-width="0.14" textLength="40" lengthAdjust="spacingAndGlyphs">Primary SCLC</text>
<text x="0" y="0" font-size="5.8" fill="#262626" stroke="#262626" stroke-width="0.14" text-anchor="middle" transform="translate(17.6,52.1) rotate(-90)" textLength="12.6" lengthAdjust="spacingAndGlyphs">PDX</text>
<line x1="103.75" y1="22.75" x2="133.75" y2="45.25" stroke="#b8c4dc" stroke-width="0.6" />
<line x1="84.40" y1="39.40" x2="90.60" y2="45.25" stroke="#b8c4dc" stroke-width="0.6" />
<rect x="84.40" y="22.75" width="19.35" height="16.65" fill="#fff" stroke="#4a5478" stroke-width="1.1" />
<rect x="87.00" y="25.90" width="8.00" height="0.90" fill="#d0d0d0" stroke="none" stroke-width="0" fill-opacity="0.6"/>
<rect x="97.00" y="25.90" width="5.00" height="0.90" fill="#d0d0d0" stroke="none" stroke-width="0" fill-opacity="0.6"/>
<rect x="86.50" y="28.90" width="9.00" height="0.90" fill="#d0d0d0" stroke="none" stroke-width="0" fill-opacity="0.6"/>
<rect x="86.50" y="31.90" width="8.00" height="0.90" fill="#d0d0d0" stroke="none" stroke-width="0" fill-opacity="0.6"/>
<rect x="87.00" y="34.90" width="10.00" height="0.90" fill="#d0d0d0" stroke="none" stroke-width="0" fill-opacity="0.6"/>
<rect x="86.00" y="37.40" width="16.00" height="0.90" fill="#d0d0d0" stroke="none" stroke-width="0" fill-opacity="0.6"/>
<line x1="95.00" y1="25.50" x2="99.50" y2="36.50" stroke="#ecb8b8" stroke-width="0.5" />
<line x1="93.50" y1="33.00" x2="101.00" y2="27.50" stroke="#eec4c4" stroke-width="0.5" />
<circle cx="93.50" cy="28.50" r="0.8" fill="#444" fill-opacity="0.9"/>
<circle cx="92.50" cy="31.00" r="1.0" fill="#e8d498" fill-opacity="0.9"/>
<circle cx="94.00" cy="31.50" r="0.8" fill="#e0c890" fill-opacity="0.9"/>
<circle cx="97.00" cy="30.50" r="0.8" fill="#e09090" fill-opacity="0.9"/>
<circle cx="99.00" cy="32.50" r="0.8" fill="#c04848" fill-opacity="0.9"/>
<circle cx="96.00" cy="34.00" r="0.7" fill="#e0a0a0" fill-opacity="0.9"/>
<circle cx="91.00" cy="27.50" r="0.7" fill="#d8d0a0" fill-opacity="0.9"/>
<rect x="90.60" y="45.25" width="43.15" height="39.15" fill="#fff" stroke="#4a5478" stroke-width="1.1" />
<g fill="#bdbdbd" fill-opacity="0.55">
<circle cx="93.8" cy="83.0" r="0.5"/>
<circle cx="96.1" cy="80.3" r="0.5"/>
<circle cx="94.0" cy="77.9" r="0.5"/>
<circle cx="99.4" cy="83.0" r="0.5"/>
<circle cx="95.2" cy="75.6" r="0.5"/>
<circle cx="95.0" cy="70.0" r="0.5"/>
<circle cx="109.2" cy="80.2" r="0.5"/>
<circle cx="95.7" cy="83.4" r="0.5"/>
<circle cx="95.6" cy="72.6" r="0.5"/>
<circle cx="98.0" cy="71.9" r="0.5"/>
<circle cx="111.3" cy="80.6" r="0.5"/>
<circle cx="95.2" cy="72.5" r="0.5"/>
<circle cx="95.1" cy="82.5" r="0.5"/>
<circle cx="106.5" cy="79.1" r="0.5"/>
<circle cx="110.4" cy="79.6" r="0.5"/>
<circle cx="100.8" cy="75.3" r="0.5"/>
<circle cx="98.0" cy="72.9" r="0.5"/>
<circle cx="102.2" cy="81.5" r="0.5"/>
<circle cx="96.4" cy="76.0" r="0.5"/>
<circle cx="106.7" cy="81.9" r="0.5"/>
<circle cx="101.9" cy="82.2" r="0.5"/>
<circle cx="99.8" cy="78.5" r="0.5"/>
<circle cx="101.6" cy="81.1" r="0.5"/>
<circle cx="101.8" cy="76.9" r="0.5"/>
<circle cx="106.1" cy="80.2" r="0.5"/>
<circle cx="102.8" cy="81.7" r="0.5"/>
<circle cx="97.5" cy="83.4" r="0.5"/>
<circle cx="92.3" cy="80.6" r="0.5"/>
<circle cx="104.4" cy="81.6" r="0.5"/>
<circle cx="98.6" cy="81.1" r="0.5"/>
<circle cx="105.9" cy="77.3" r="0.5"/>
<circle cx="93.2" cy="76.1" r="0.5"/>
<circle cx="102.4" cy="83.2" r="0.5"/>
<circle cx="101.2" cy="75.2" r="0.5"/>
<circle cx="98.2" cy="74.3" r="0.5"/>
<circle cx="98.8" cy="82.9" r="0.5"/>
<circle cx="110.5" cy="81.9" r="0.5"/>
<circle cx="108.1" cy="82.6" r="0.5"/>
<circle cx="98.5" cy="82.2" r="0.5"/>
<circle cx="103.1" cy="79.2" r="0.5"/>
<circle cx="92.7" cy="77.9" r="0.5"/>
<circle cx="93.6" cy="81.9" r="0.5"/>
<circle cx="112.5" cy="83.4" r="0.5"/>
<circle cx="95.2" cy="74.7" r="0.5"/>
<circle cx="93.5" cy="78.9" r="0.5"/>
<circle cx="94.8" cy="69.7" r="0.5"/>
<circle cx="96.9" cy="70.5" r="0.5"/>
<circle cx="112.9" cy="82.3" r="0.5"/>
<circle cx="108.8" cy="78.8" r="0.5"/>
<circle cx="94.2" cy="72.4" r="0.5"/>
<circle cx="105.5" cy="75.7" r="0.5"/>
<circle cx="101.7" cy="81.2" r="0.5"/>
<circle cx="109.7" cy="79.0" r="0.5"/>
<circle cx="99.3" cy="76.9" r="0.5"/>
<circle cx="104.0" cy="80.6" r="0.5"/>
<circle cx="107.3" cy="82.9" r="0.5"/>
<circle cx="97.4" cy="72.7" r="0.5"/>
<circle cx="98.7" cy="75.8" r="0.5"/>
<circle cx="110.7" cy="79.3" r="0.5"/>
<circle cx="106.0" cy="77.2" r="0.5"/>
<circle cx="110.4" cy="80.2" r="0.5"/>
<circle cx="99.0" cy="77.2" r="0.5"/>
<circle cx="101.2" cy="82.8" r="0.5"/>
<circle cx="105.3" cy="83.3" r="0.5"/>
<circle cx="92.8" cy="79.6" r="0.5"/>
<circle cx="96.5" cy="71.3" r="0.5"/>
<circle cx="101.1" cy="83.4" r="0.5"/>
<circle cx="93.9" cy="74.0" r="0.5"/>
<circle cx="100.1" cy="78.9" r="0.5"/>
<circle cx="108.4" cy="80.3" r="0.5"/>
<circle cx="108.0" cy="80.3" r="0.5"/>
<circle cx="99.1" cy="79.9" r="0.5"/>
<circle cx="106.1" cy="81.8" r="0.5"/>
<circle cx="104.0" cy="82.0" r="0.5"/>
<circle cx="109.1" cy="82.4" r="0.5"/>
<circle cx="101.6" cy="81.1" r="0.5"/>
<circle cx="102.9" cy="74.1" r="0.5"/>
<circle cx="100.8" cy="73.5" r="0.5"/>
<circle cx="103.3" cy="77.2" r="0.5"/>
<circle cx="95.7" cy="70.6" r="0.5"/>
<circle cx="107.1" cy="76.9" r="0.5"/>
<circle cx="103.8" cy="76.1" r="0.5"/>
<circle cx="100.5" cy="83.5" r="0.5"/>
<circle cx="99.2" cy="76.2" r="0.5"/>
<circle cx="99.2" cy="77.3" r="0.5"/>
<circle cx="99.3" cy="74.6" r="0.5"/>
<circle cx="93.2" cy="73.3" r="0.5"/>
<circle cx="102.9" cy="77.6" r="0.5"/>
<circle cx="103.1" cy="82.1" r="0.5"/>
<circle cx="104.1" cy="76.2" r="0.5"/>
<circle cx="99.5" cy="74.4" r="0.5"/>
<circle cx="92.5" cy="70.3" r="0.5"/>
<circle cx="99.9" cy="78.5" r="0.5"/>
<circle cx="106.0" cy="79.1" r="0.5"/>
<circle cx="94.2" cy="71.4" r="0.5"/>
</g>
<text x="101.3" y="54.3" font-size="3.7" fill="#707070" textLength="9.5" lengthAdjust="spacingAndGlyphs">POSK2</text>
<text x="115.5" y="54.3" font-size="3.7" fill="#707070" textLength="7" lengthAdjust="spacingAndGlyphs">SEZ6</text>
<text x="95.3" y="59.5" font-size="3.7" fill="#707070" textLength="16" lengthAdjust="spacingAndGlyphs">SLITRK1</text>
<text x="125.5" y="59.5" font-size="3.7" fill="#707070" textLength="7.5" lengthAdjust="spacingAndGlyphs">NEURL</text>
<text x="105" y="64.8" font-size="3.7" fill="#707070" textLength="11" lengthAdjust="spacingAndGlyphs">PRKCB</text>
<text x="119.5" y="64.8" font-size="3.7" fill="#707070" textLength="8" lengthAdjust="spacingAndGlyphs">SCG3</text>
<text x="102" y="70.8" font-size="3.7" fill="#707070" textLength="11" lengthAdjust="spacingAndGlyphs">MRAP2</text>
<text x="114" y="70.8" font-size="3.7" fill="#707070" textLength="8" lengthAdjust="spacingAndGlyphs">INSM1</text>
<text x="123" y="70.8" font-size="3.7" fill="#707070" textLength="8.5" lengthAdjust="spacingAndGlyphs">CELF3</text>
<text x="124.5" y="76.8" font-size="3.7" fill="#707070" textLength="7.5" lengthAdjust="spacingAndGlyphs">RTN1</text>
<circle cx="112.60" cy="58.30" r="1.2" fill="#222" fill-opacity="0.9"/>
<circle cx="121.50" cy="54.80" r="0.96" fill="#222" fill-opacity="0.9"/>
<circle cx="124.00" cy="59.50" r="1.08" fill="#222" fill-opacity="0.9"/>
<circle cx="127.30" cy="61.50" r="1.08" fill="#222" fill-opacity="0.9"/>
<circle cx="126.50" cy="63.50" r="1.08" fill="#222" fill-opacity="0.9"/>
<circle cx="125.50" cy="66.50" r="1.2" fill="#222" fill-opacity="0.9"/>
<circle cx="127.20" cy="67.70" r="1.2" fill="#222" fill-opacity="0.9"/>
<circle cx="121.00" cy="68.30" r="1.08" fill="#222" fill-opacity="0.9"/>
<circle cx="124.50" cy="73.50" r="1.08" fill="#222" fill-opacity="0.9"/>
<circle cx="118.00" cy="63.00" r="0.84" fill="#222" fill-opacity="0.9"/>
<text x="148.30" y="10.75" font-size="12.4" fill="#000" font-weight="bold" text-anchor="start" >B</text>
<rect x="177.50" y="12.50" width="23.00" height="8.20" fill="#e3e3e3" stroke="none" stroke-width="0.6" />
<text x="189.00" y="18.20" font-size="4.5" fill="#333" font-weight="normal" text-anchor="middle" stroke="#333" stroke-width="0.08">Normal</text>
<line x1="177.70" y1="20.70" x2="177.70" y2="97.00" stroke="#f4f4f4" stroke-width="0.4" />
<line x1="200.30" y1="20.70" x2="200.30" y2="97.00" stroke="#f4f4f4" stroke-width="0.4" />
<rect x="203.25" y="12.50" width="39.25" height="8.20" fill="#e3e3e3" stroke="none" stroke-width="0.6" />
<text x="222.88" y="18.20" font-size="4.5" fill="#333" font-weight="normal" text-anchor="middle" stroke="#333" stroke-width="0.08">LU</text>
<line x1="203.45" y1="20.70" x2="203.45" y2="97.00" stroke="#f4f4f4" stroke-width="0.4" />
<line x1="242.30" y1="20.70" x2="242.30" y2="97.00" stroke="#f4f4f4" stroke-width="0.4" />
<rect x="245.75" y="12.50" width="33.00" height="8.20" fill="#e3e3e3" stroke="none" stroke-width="0.6" />
<text x="262.25" y="18.20" font-size="4.5" fill="#333" font-weight="normal" text-anchor="middle" stroke="#333" stroke-width="0.08">OV</text>
<line x1="245.95" y1="20.70" x2="245.95" y2="97.00" stroke="#f4f4f4" stroke-width="0.4" />
<line x1="278.55" y1="20.70" x2="278.55" y2="97.00" stroke="#f4f4f4" stroke-width="0.4" />
<rect x="282.00" y="12.50" width="33.50" height="8.20" fill="#e3e3e3" stroke="none" stroke-width="0.6" />
<text x="298.75" y="18.20" font-size="4.5" fill="#333" font-weight="normal" text-anchor="middle" stroke="#333" stroke-width="0.08">CR</text>
<line x1="282.20" y1="20.70" x2="282.20" y2="97.00" stroke="#f4f4f4" stroke-width="0.4" />
<line x1="315.30" y1="20.70" x2="315.30" y2="97.00" stroke="#f4f4f4" stroke-width="0.4" />
<rect x="318.50" y="12.50" width="8.40" height="8.20" fill="#e3e3e3" stroke="none" stroke-width="0.6" />
<text x="322.70" y="18.20" font-size="4.5" fill="#333" font-weight="normal" text-anchor="middle" stroke="#333" stroke-width="0.08">BL</text>
<line x1="318.70" y1="20.70" x2="318.70" y2="97.00" stroke="#f4f4f4" stroke-width="0.4" />
<line x1="326.70" y1="20.70" x2="326.70" y2="97.00" stroke="#f4f4f4" stroke-width="0.4" />
<rect x="328.75" y="12.50" width="20.00" height="8.20" fill="#e3e3e3" stroke="none" stroke-width="0.6" />
<text x="338.75" y="18.20" font-size="4.5" fill="#333" font-weight="normal" text-anchor="middle" stroke="#333" stroke-width="0.08">PA</text>
<line x1="328.95" y1="20.70" x2="328.95" y2="97.00" stroke="#f4f4f4" stroke-width="0.4" />
<line x1="348.55" y1="20.70" x2="348.55" y2="97.00" stroke="#f4f4f4" stroke-width="0.4" />
<rect x="350.60" y="12.50" width="10.65" height="8.20" fill="#e3e3e3" stroke="none" stroke-width="0.6" />
<text x="355.93" y="18.20" font-size="4.5" fill="#333" font-weight="normal" text-anchor="middle" stroke="#333" stroke-width="0.08">ML</text>
<line x1="350.80" y1="20.70" x2="350.80" y2="97.00" stroke="#f4f4f4" stroke-width="0.4" />
<line x1="361.05" y1="20.70" x2="361.05" y2="97.00" stroke="#f4f4f4" stroke-width="0.4" />
<rect x="363.75" y="12.50" width="11.25" height="8.20" fill="#e3e3e3" stroke="none" stroke-width="0.6" />
<text x="369.38" y="18.20" font-size="4.5" fill="#333" font-weight="normal" text-anchor="middle" stroke="#333" stroke-width="0.08">SK</text>
<line x1="363.95" y1="20.70" x2="363.95" y2="97.00" stroke="#f4f4f4" stroke-width="0.4" />
<line x1="374.80" y1="20.70" x2="374.80" y2="97.00" stroke="#f4f4f4" stroke-width="0.4" />
<rect x="378.75" y="12.50" width="33.75" height="8.20" fill="#e3e3e3" stroke="none" stroke-width="0.6" />
<text x="395.62" y="18.20" font-size="4.5" fill="#333" font-weight="normal" text-anchor="middle" stroke="#333" stroke-width="0.08">BR</text>
<line x1="378.95" y1="20.70" x2="378.95" y2="97.00" stroke="#f4f4f4" stroke-width="0.4" />
<line x1="412.30" y1="20.70" x2="412.30" y2="97.00" stroke="#f4f4f4" stroke-width="0.4" />
<rect x="415.00" y="12.50" width="9.75" height="8.20" fill="#e3e3e3" stroke="none" stroke-width="0.6" />
<text x="419.88" y="18.20" font-size="4.5" fill="#333" font-weight="normal" text-anchor="middle" stroke="#333" stroke-width="0.08">EM</text>
<line x1="415.20" y1="20.70" x2="415.20" y2="97.00" stroke="#f4f4f4" stroke-width="0.4" />
<line x1="424.55" y1="20.70" x2="424.55" y2="97.00" stroke="#f4f4f4" stroke-width="0.4" />
<rect x="426.25" y="12.50" width="13.75" height="8.20" fill="#e3e3e3" stroke="none" stroke-width="0.6" />
<text x="433.12" y="18.20" font-size="4.5" fill="#333" font-weight="normal" text-anchor="middle" stroke="#333" stroke-width="0.08">GA</text>
<line x1="426.45" y1="20.70" x2="426.45" y2="97.00" stroke="#f4f4f4" stroke-width="0.4" />
<line x1="439.80" y1="20.70" x2="439.80" y2="97.00" stroke="#f4f4f4" stroke-width="0.4" />
<rect x="441.90" y="12.50" width="10.60" height="8.20" fill="#e3e3e3" stroke="none" stroke-width="0.6" />
<text x="447.20" y="18.20" font-size="4.5" fill="#333" font-weight="normal" text-anchor="middle" stroke="#333" stroke-width="0.08">LYM</text>
<line x1="442.10" y1="20.70" x2="442.10" y2="97.00" stroke="#f4f4f4" stroke-width="0.4" />
<line x1="452.30" y1="20.70" x2="452.30" y2="97.00" stroke="#f4f4f4" stroke-width="0.4" />
<rect x="453.10" y="12.50" width="9.40" height="8.20" fill="#e3e3e3" stroke="none" stroke-width="0.6" />
<text x="457.80" y="18.20" font-size="4.5" fill="#333" font-weight="normal" text-anchor="middle" stroke="#333" stroke-width="0.08">LIV</text>
<line x1="453.30" y1="20.70" x2="453.30" y2="97.00" stroke="#f4f4f4" stroke-width="0.4" />
<line x1="462.30" y1="20.70" x2="462.30" y2="97.00" stroke="#f4f4f4" stroke-width="0.4" />
<rect x="463.75" y="12.50" width="8.75" height="8.20" fill="#e3e3e3" stroke="none" stroke-width="0.6" />
<text x="468.12" y="18.20" font-size="4.5" fill="#333" font-weight="normal" text-anchor="middle" stroke="#333" stroke-width="0.08">VF</text>
<line x1="463.95" y1="20.70" x2="463.95" y2="97.00" stroke="#f4f4f4" stroke-width="0.4" />
<line x1="472.30" y1="20.70" x2="472.30" y2="97.00" stroke="#f4f4f4" stroke-width="0.4" />
<rect x="473.75" y="12.50" width="9.25" height="8.20" fill="#e3e3e3" stroke="none" stroke-width="0.6" />
<text x="478.38" y="18.20" font-size="4.5" fill="#333" font-weight="normal" text-anchor="middle" stroke="#333" stroke-width="0.08">PR</text>
<line x1="473.95" y1="20.70" x2="473.95" y2="97.00" stroke="#f4f4f4" stroke-width="0.4" />
<line x1="482.80" y1="20.70" x2="482.80" y2="97.00" stroke="#f4f4f4" stroke-width="0.4" />
<rect x="484.40" y="12.50" width="8.60" height="8.20" fill="#e3e3e3" stroke="none" stroke-width="0.6" />
<text x="488.70" y="18.20" font-size="4.5" fill="#333" font-weight="normal" text-anchor="middle" stroke="#333" stroke-width="0.08">GB</text>
<line x1="484.60" y1="20.70" x2="484.60" y2="97.00" stroke="#f4f4f4" stroke-width="0.4" />
<line x1="492.80" y1="20.70" x2="492.80" y2="97.00" stroke="#f4f4f4" stroke-width="0.4" />
<rect x="495.00" y="12.50" width="13.75" height="8.20" fill="#e3e3e3" stroke="none" stroke-width="0.6" />
<text x="501.88" y="18.20" font-size="4.5" fill="#333" font-weight="normal" text-anchor="middle" stroke="#333" stroke-width="0.08">HN</text>
<line x1="495.20" y1="20.70" x2="495.20" y2="97.00" stroke="#f4f4f4" stroke-width="0.4" />
<line x1="508.55" y1="20.70" x2="508.55" y2="97.00" stroke="#f4f4f4" stroke-width="0.4" />
<text font-size="4.4" fill="#222" stroke="#222" stroke-width="0.08" text-anchor="middle" transform="translate(169.8,55) rotate(-90)" textLength="83" lengthAdjust="spacingAndGlyphs">log<tspan font-size="3" dy="1">2</tspan><tspan dy="-1"> expression (Affymetrix ClariomD)</tspan></text>
<text x="176.20" y="26.80" font-size="3.0" fill="#c4c4c4" font-weight="normal" text-anchor="end" >12.5</text>
<line x1="176.40" y1="25.60" x2="177.40" y2="25.60" stroke="#ccc" stroke-width="0.3" />
<text x="176.20" y="40.60" font-size="3.0" fill="#c4c4c4" font-weight="normal" text-anchor="end" >10.0</text>
<line x1="176.40" y1="39.40" x2="177.40" y2="39.40" stroke="#ccc" stroke-width="0.3" />
<text x="176.20" y="54.20" font-size="3.0" fill="#c4c4c4" font-weight="normal" text-anchor="end" >7.5</text>
<line x1="176.40" y1="53.00" x2="177.40" y2="53.00" stroke="#ccc" stroke-width="0.3" />
<text x="176.20" y="67.80" font-size="3.0" fill="#c4c4c4" font-weight="normal" text-anchor="end" >5.0</text>
<line x1="176.40" y1="66.60" x2="177.40" y2="66.60" stroke="#ccc" stroke-width="0.3" />
<text x="176.20" y="81.50" font-size="3.0" fill="#c4c4c4" font-weight="normal" text-anchor="end" >2.5</text>
<line x1="176.40" y1="80.30" x2="177.40" y2="80.30" stroke="#ccc" stroke-width="0.3" />
<text x="176.20" y="95.20" font-size="3.0" fill="#c4c4c4" font-weight="normal" text-anchor="end" >0.0</text>
<line x1="176.40" y1="94.00" x2="177.40" y2="94.00" stroke="#ccc" stroke-width="0.3" />
<line x1="180.90" y1="84.80" x2="195.90" y2="84.80" stroke="#8a8a8a" stroke-width="1.5" />
<circle cx="187.60" cy="81.80" r="0.6" fill="#e87890" fill-opacity="0.75"/>
<circle cx="189.60" cy="82.60" r="0.6" fill="#e87890" fill-opacity="0.75"/>
<circle cx="188.60" cy="83.80" r="0.6" fill="#e87890" fill-opacity="0.75"/>
<circle cx="190.10" cy="84.80" r="0.6" fill="#e87890" fill-opacity="0.75"/>
<circle cx="187.40" cy="85.90" r="0.6" fill="#e87890" fill-opacity="0.75"/>
<circle cx="189.10" cy="86.80" r="0.6" fill="#e87890" fill-opacity="0.75"/>
<circle cx="188.30" cy="80.80" r="0.6" fill="#e87890" fill-opacity="0.75"/>
<circle cx="190.40" cy="80.60" r="0.6" fill="#e87890" fill-opacity="0.75"/>
<circle cx="186.60" cy="87.60" r="0.6" fill="#e87890" fill-opacity="0.75"/>
<circle cx="190.90" cy="87.30" r="0.6" fill="#e87890" fill-opacity="0.75"/>
<circle cx="188.80" cy="85.40" r="0.6" fill="#e87890" fill-opacity="0.75"/>
<circle cx="186.00" cy="93.00" r="0.5" fill="#e0a0b0" fill-opacity="0.5"/>
<line x1="204.20" y1="77.00" x2="209.00" y2="77.00" stroke="#444" stroke-width="0.9" />
<line x1="210.50" y1="87.20" x2="215.10" y2="87.20" stroke="#444" stroke-width="0.9" />
<circle cx="213.00" cy="79.60" r="0.6" fill="#a8c8e8" fill-opacity="0.8"/>
<circle cx="212.50" cy="91.00" r="0.6" fill="#e8b080" fill-opacity="0.8"/>
<circle cx="217.63" cy="87.39" r="0.69" fill="#d58a40" fill-opacity="0.8800000000000001"/>
<circle cx="219.61" cy="85.17" r="0.69" fill="#d58a40" fill-opacity="0.8800000000000001"/>
<circle cx="220.04" cy="79.86" r="0.69" fill="#d58a40" fill-opacity="0.8800000000000001"/>
<circle cx="219.73" cy="87.42" r="0.69" fill="#d58a40" fill-opacity="0.8800000000000001"/>
<circle cx="221.30" cy="82.74" r="0.69" fill="#d58a40" fill-opacity="0.8800000000000001"/>
<circle cx="217.20" cy="86.93" r="0.69" fill="#d58a40" fill-opacity="0.8800000000000001"/>
<circle cx="219.77" cy="80.72" r="0.69" fill="#d58a40" fill-opacity="0.8800000000000001"/>
<circle cx="217.01" cy="86.47" r="0.69" fill="#d58a40" fill-opacity="0.8800000000000001"/>
<circle cx="220.38" cy="88.58" r="0.69" fill="#d58a40" fill-opacity="0.8800000000000001"/>
<circle cx="218.75" cy="79.40" r="0.69" fill="#d58a40" fill-opacity="0.8800000000000001"/>
<circle cx="216.78" cy="87.26" r="0.69" fill="#d58a40" fill-opacity="0.8800000000000001"/>
<circle cx="220.39" cy="84.87" r="0.69" fill="#d58a40" fill-opacity="0.8800000000000001"/>
<circle cx="219.44" cy="83.97" r="0.69" fill="#d58a40" fill-opacity="0.8800000000000001"/>
<circle cx="218.06" cy="80.92" r="0.69" fill="#d58a40" fill-opacity="0.8800000000000001"/>
<circle cx="220.17" cy="90.20" r="0.69" fill="#d58a40" fill-opacity="0.8800000000000001"/>
<circle cx="218.47" cy="86.94" r="0.69" fill="#d58a40" fill-opacity="0.8800000000000001"/>
<circle cx="219.05" cy="86.17" r="0.69" fill="#d58a40" fill-opacity="0.8800000000000001"/>
<circle cx="220.09" cy="82.92" r="0.69" fill="#d58a40" fill-opacity="0.8800000000000001"/>
<circle cx="217.48" cy="84.23" r="0.69" fill="#d58a40" fill-opacity="0.8800000000000001"/>
<circle cx="219.96" cy="81.80" r="0.69" fill="#d58a40" fill-opacity="0.8800000000000001"/>
<circle cx="220.01" cy="86.88" r="0.69" fill="#d58a40" fill-opacity="0.8800000000000001"/>
<circle cx="219.57" cy="80.88" r="0.69" fill="#d58a40" fill-opacity="0.8800000000000001"/>
<circle cx="222.02" cy="86.30" r="0.69" fill="#d58a40" fill-opacity="0.8800000000000001"/>
<circle cx="219.11" cy="93.20" r="0.69" fill="#d58a40" fill-opacity="0.8800000000000001"/>
<circle cx="219.18" cy="83.07" r="0.69" fill="#d58a40" fill-opacity="0.8800000000000001"/>
<circle cx="218.59" cy="81.63" r="0.69" fill="#d58a40" fill-opacity="0.8800000000000001"/>
<circle cx="220.93" cy="84.83" r="0.69" fill="#d58a40" fill-opacity="0.8800000000000001"/>
<circle cx="219.40" cy="87.33" r="0.69" fill="#d58a40" fill-opacity="0.8800000000000001"/>
<circle cx="221.59" cy="88.02" r="0.69" fill="#d58a40" fill-opacity="0.8800000000000001"/>
<circle cx="220.19" cy="85.89" r="0.69" fill="#d58a40" fill-opacity="0.8800000000000001"/>
<circle cx="217.05" cy="84.51" r="0.69" fill="#d58a40" fill-opacity="0.8800000000000001"/>
<circle cx="219.28" cy="85.45" r="0.69" fill="#d58a40" fill-opacity="0.8800000000000001"/>
<circle cx="218.21" cy="89.03" r="0.69" fill="#d58a40" fill-opacity="0.8800000000000001"/>
<circle cx="221.07" cy="88.91" r="0.69" fill="#d58a40" fill-opacity="0.8800000000000001"/>
<circle cx="221.34" cy="85.31" r="0.69" fill="#d58a40" fill-opacity="0.8800000000000001"/>
<circle cx="220.31" cy="85.12" r="0.69" fill="#d58a40" fill-opacity="0.8800000000000001"/>
<circle cx="220.29" cy="86.53" r="0.69" fill="#d58a40" fill-opacity="0.8800000000000001"/>
<circle cx="220.98" cy="88.80" r="0.69" fill="#d58a40" fill-opacity="0.8800000000000001"/>
<circle cx="220.72" cy="81.41" r="0.69" fill="#d58a40" fill-opacity="0.8800000000000001"/>
<circle cx="221.12" cy="89.20" r="0.69" fill="#d58a40" fill-opacity="0.8800000000000001"/>
<circle cx="217.84" cy="81.73" r="0.69" fill="#d58a40" fill-opacity="0.8800000000000001"/>
<circle cx="220.08" cy="82.03" r="0.69" fill="#d58a40" fill-opacity="0.8800000000000001"/>
<circle cx="221.05" cy="87.60" r="0.69" fill="#d58a40" fill-opacity="0.8800000000000001"/>
<circle cx="218.60" cy="83.64" r="0.69" fill="#d58a40" fill-opacity="0.8800000000000001"/>
<circle cx="219.58" cy="87.28" r="0.69" fill="#d58a40" fill-opacity="0.8800000000000001"/>
<circle cx="219.86" cy="83.53" r="0.69" fill="#d58a40" fill-opacity="0.8800000000000001"/>
<circle cx="218.48" cy="86.84" r="0.69" fill="#d58a40" fill-opacity="0.8800000000000001"/>
<circle cx="218.92" cy="86.78" r="0.69" fill="#d58a40" fill-opacity="0.8800000000000001"/>
<circle cx="220.56" cy="80.88" r="0.69" fill="#d58a40" fill-opacity="0.8800000000000001"/>
<circle cx="218.51" cy="79.90" r="0.69" fill="#d58a40" fill-opacity="0.8800000000000001"/>
<circle cx="216.79" cy="85.51" r="0.69" fill="#d58a40" fill-opacity="0.8800000000000001"/>
<circle cx="217.24" cy="84.42" r="0.69" fill="#d58a40" fill-opacity="0.8800000000000001"/>
<circle cx="219.37" cy="89.71" r="0.69" fill="#d58a40" fill-opacity="0.8800000000000001"/>
<circle cx="219.63" cy="82.95" r="0.69" fill="#d58a40" fill-opacity="0.8800000000000001"/>
<circle cx="219.17" cy="84.88" r="0.69" fill="#d58a40" fill-opacity="0.8800000000000001"/>
<circle cx="221.51" cy="84.88" r="0.69" fill="#d58a40" fill-opacity="0.8800000000000001"/>
<circle cx="217.99" cy="90.63" r="0.69" fill="#d58a40" fill-opacity="0.8800000000000001"/>
<circle cx="219.49" cy="86.87" r="0.69" fill="#d58a40" fill-opacity="0.8800000000000001"/>
<circle cx="216.82" cy="86.43" r="0.69" fill="#d58a40" fill-opacity="0.8800000000000001"/>
<circle cx="218.91" cy="86.99" r="0.69" fill="#d58a40" fill-opacity="0.8800000000000001"/>
<circle cx="219.01" cy="87.59" r="0.69" fill="#d58a40" fill-opacity="0.8800000000000001"/>
<circle cx="218.17" cy="85.61" r="0.69" fill="#d58a40" fill-opacity="0.8800000000000001"/>
<circle cx="218.77" cy="84.47" r="0.69" fill="#d58a40" fill-opacity="0.8800000000000001"/>
<circle cx="221.73" cy="87.52" r="0.69" fill="#d58a40" fill-opacity="0.8800000000000001"/>
<line x1="216.80" y1="85.50" x2="221.80" y2="85.50" stroke="#fff" stroke-width="0.4" />
<rect x="217.20" y="83.20" width="4.20" height="4.40" fill="none" stroke="#fff" stroke-width="0.35" />
<circle cx="226.94" cy="87.16" r="0.69" fill="#d59a58" fill-opacity="0.8250000000000001"/>
<circle cx="225.78" cy="87.87" r="0.69" fill="#d59a58" fill-opacity="0.8250000000000001"/>
<circle cx="228.28" cy="82.46" r="0.69" fill="#d59a58" fill-opacity="0.8250000000000001"/>
<circle cx="224.30" cy="80.40" r="0.69" fill="#d59a58" fill-opacity="0.8250000000000001"/>
<circle cx="226.74" cy="84.01" r="0.69" fill="#d59a58" fill-opacity="0.8250000000000001"/>
<circle cx="226.96" cy="78.50" r="0.69" fill="#d59a58" fill-opacity="0.8250000000000001"/>
<circle cx="226.73" cy="87.43" r="0.69" fill="#d59a58" fill-opacity="0.8250000000000001"/>
<circle cx="223.83" cy="85.04" r="0.69" fill="#d59a58" fill-opacity="0.8250000000000001"/>
<circle cx="226.30" cy="78.65" r="0.69" fill="#d59a58" fill-opacity="0.8250000000000001"/>
<circle cx="225.31" cy="82.60" r="0.69" fill="#d59a58" fill-opacity="0.8250000000000001"/>
<circle cx="224.80" cy="86.34" r="0.69" fill="#d59a58" fill-opacity="0.8250000000000001"/>
<circle cx="225.44" cy="78.02" r="0.69" fill="#d59a58" fill-opacity="0.8250000000000001"/>
<circle cx="225.59" cy="85.82" r="0.69" fill="#d59a58" fill-opacity="0.8250000000000001"/>
<circle cx="227.35" cy="79.47" r="0.69" fill="#d59a58" fill-opacity="0.8250000000000001"/>
<circle cx="225.51" cy="87.52" r="0.69" fill="#d59a58" fill-opacity="0.8250000000000001"/>
<circle cx="223.73" cy="83.19" r="0.69" fill="#d59a58" fill-opacity="0.8250000000000001"/>
<circle cx="225.64" cy="86.57" r="0.69" fill="#d59a58" fill-opacity="0.8250000000000001"/>
<circle cx="223.63" cy="83.98" r="0.69" fill="#d59a58" fill-opacity="0.8250000000000001"/>
<circle cx="227.15" cy="84.67" r="0.69" fill="#d59a58" fill-opacity="0.8250000000000001"/>
<circle cx="225.62" cy="89.35" r="0.69" fill="#d59a58" fill-opacity="0.8250000000000001"/>
<circle cx="226.83" cy="88.92" r="0.69" fill="#d59a58" fill-opacity="0.8250000000000001"/>
<circle cx="226.72" cy="87.81" r="0.69" fill="#d59a58" fill-opacity="0.8250000000000001"/>
<circle cx="224.85" cy="81.99" r="0.69" fill="#d59a58" fill-opacity="0.8250000000000001"/>
<circle cx="226.08" cy="79.82" r="0.69" fill="#d59a58" fill-opacity="0.8250000000000001"/>
<circle cx="224.60" cy="86.25" r="0.69" fill="#d59a58" fill-opacity="0.8250000000000001"/>
<circle cx="223.73" cy="83.78" r="0.69" fill="#d59a58" fill-opacity="0.8250000000000001"/>
<circle cx="224.93" cy="83.27" r="0.69" fill="#d59a58" fill-opacity="0.8250000000000001"/>
<circle cx="226.97" cy="80.72" r="0.69" fill="#d59a58" fill-opacity="0.8250000000000001"/>
<circle cx="227.51" cy="81.05" r="0.69" fill="#d59a58" fill-opacity="0.8250000000000001"/>
<circle cx="224.76" cy="80.47" r="0.69" fill="#d59a58" fill-opacity="0.8250000000000001"/>
<circle cx="227.07" cy="82.72" r="0.69" fill="#d59a58" fill-opacity="0.8250000000000001"/>
<circle cx="227.25" cy="84.09" r="0.69" fill="#d59a58" fill-opacity="0.8250000000000001"/>
<circle cx="224.15" cy="86.30" r="0.69" fill="#d59a58" fill-opacity="0.8250000000000001"/>
<circle cx="227.58" cy="84.26" r="0.69" fill="#d59a58" fill-opacity="0.8250000000000001"/>
<circle cx="226.82" cy="82.07" r="0.69" fill="#d59a58" fill-opacity="0.8250000000000001"/>
<circle cx="227.99" cy="82.43" r="0.69" fill="#d59a58" fill-opacity="0.8250000000000001"/>
<circle cx="223.79" cy="85.74" r="0.69" fill="#d59a58" fill-opacity="0.8250000000000001"/>
<circle cx="225.32" cy="81.77" r="0.69" fill="#d59a58" fill-opacity="0.8250000000000001"/>
<circle cx="224.99" cy="83.37" r="0.69" fill="#d59a58" fill-opacity="0.8250000000000001"/>
<circle cx="226.89" cy="88.17" r="0.69" fill="#d59a58" fill-opacity="0.8250000000000001"/>
<circle cx="228.03" cy="82.66" r="0.69" fill="#d59a58" fill-opacity="0.8250000000000001"/>
<circle cx="225.97" cy="89.65" r="0.69" fill="#d59a58" fill-opacity="0.8250000000000001"/>
<rect x="223.30" y="82.00" width="5.20" height="6.00" fill="none" stroke="#a08060" stroke-width="0.45" />
<line x1="223.30" y1="85.00" x2="228.50" y2="85.00" stroke="#555" stroke-width="0.6" />
<line x1="225.90" y1="75.90" x2="225.90" y2="82.00" stroke="#a08060" stroke-width="0.4" />
<line x1="225.90" y1="88.00" x2="225.90" y2="90.50" stroke="#a08060" stroke-width="0.4" />
<line x1="230.40" y1="84.30" x2="235.00" y2="84.30" stroke="#777" stroke-width="1.0" />
<circle cx="219.80" cy="64.60" r="0.6" fill="#e8b080" fill-opacity="0.8"/>
<line x1="239.00" y1="24.40" x2="239.00" y2="46.25" stroke="#999" stroke-width="0.5" />
<line x1="239.00" y1="74.20" x2="239.00" y2="83.20" stroke="#c08060" stroke-width="0.5" />
<rect x="236.50" y="46.25" width="5.00" height="28.00" fill="#fff" stroke="#999" stroke-width="0.45" />
<circle cx="240.21" cy="48.27" r="0.55" fill="#e0a070" fill-opacity="0.55"/>
<circle cx="237.46" cy="77.83" r="0.55" fill="#d68a48" fill-opacity="0.8"/>
<circle cx="237.29" cy="73.21" r="0.55" fill="#d68a48" fill-opacity="0.8"/>
<circle cx="238.11" cy="58.46" r="0.55" fill="#e0a070" fill-opacity="0.55"/>
<circle cx="239.60" cy="52.63" r="0.55" fill="#e0a070" fill-opacity="0.55"/>
<circle cx="239.01" cy="82.51" r="0.55" fill="#d68a48" fill-opacity="0.8"/>
<circle cx="238.01" cy="80.95" r="0.55" fill="#d68a48" fill-opacity="0.8"/>
<circle cx="238.08" cy="51.63" r="0.55" fill="#e0a070" fill-opacity="0.55"/>
<circle cx="238.27" cy="76.47" r="0.55" fill="#d68a48" fill-opacity="0.8"/>
<circle cx="240.56" cy="59.51" r="0.55" fill="#e0a070" fill-opacity="0.55"/>
<circle cx="238.56" cy="68.91" r="0.55" fill="#d68a48" fill-opacity="0.8"/>
<circle cx="237.50" cy="78.37" r="0.55" fill="#d68a48" fill-opacity="0.8"/>
<circle cx="239.49" cy="54.23" r="0.55" fill="#e0a070" fill-opacity="0.55"/>
<circle cx="239.77" cy="64.75" r="0.55" fill="#d68a48" fill-opacity="0.8"/>
<circle cx="239.78" cy="76.30" r="0.55" fill="#d68a48" fill-opacity="0.8"/>
<circle cx="239.94" cy="53.30" r="0.55" fill="#e0a070" fill-opacity="0.55"/>
<circle cx="237.30" cy="55.47" r="0.55" fill="#e0a070" fill-opacity="0.55"/>
<circle cx="238.51" cy="57.69" r="0.55" fill="#e0a070" fill-opacity="0.55"/>
<circle cx="237.39" cy="65.16" r="0.55" fill="#d68a48" fill-opacity="0.8"/>
<circle cx="238.50" cy="69.82" r="0.55" fill="#d68a48" fill-opacity="0.8"/>
<circle cx="238.92" cy="82.62" r="0.55" fill="#d68a48" fill-opacity="0.8"/>
<circle cx="240.29" cy="76.93" r="0.55" fill="#d68a48" fill-opacity="0.8"/>
<circle cx="239.69" cy="68.79" r="0.55" fill="#d68a48" fill-opacity="0.8"/>
<circle cx="240.72" cy="50.09" r="0.55" fill="#e0a070" fill-opacity="0.55"/>
<circle cx="240.77" cy="81.82" r="0.55" fill="#d68a48" fill-opacity="0.8"/>
<circle cx="237.80" cy="49.93" r="0.55" fill="#e0a070" fill-opacity="0.55"/>
<circle cx="237.63" cy="58.36" r="0.55" fill="#e0a070" fill-opacity="0.55"/>
<circle cx="237.31" cy="56.21" r="0.55" fill="#e0a070" fill-opacity="0.55"/>
<circle cx="240.56" cy="68.10" r="0.55" fill="#d68a48" fill-opacity="0.8"/>
<circle cx="240.41" cy="59.07" r="0.55" fill="#e0a070" fill-opacity="0.55"/>
<line x1="236.50" y1="63.50" x2="241.50" y2="63.50" stroke="#444" stroke-width="0.8" />
<line x1="249.50" y1="66.00" x2="249.50" y2="71.70" stroke="#999" stroke-width="0.5" />
<rect x="247.00" y="71.70" width="5.10" height="14.20" fill="#fff" stroke="#999" stroke-width="0.45" />
<line x1="247.00" y1="85.20" x2="252.10" y2="85.20" stroke="#666" stroke-width="0.6" />
<circle cx="249.50" cy="87.30" r="0.55" fill="#e0a060" fill-opacity="0.8"/>
<line x1="253.60" y1="87.60" x2="257.00" y2="87.60" stroke="#444" stroke-width="0.9" />
<rect x="259.60" y="84.60" width="3.40" height="2.60" fill="none" stroke="#888" stroke-width="0.45" />
<line x1="259.60" y1="86.00" x2="263.00" y2="86.00" stroke="#555" stroke-width="0.6" />
<line x1="261.30" y1="83.50" x2="261.30" y2="84.60" stroke="#888" stroke-width="0.4" />
<line x1="261.30" y1="87.20" x2="261.30" y2="88.20" stroke="#888" stroke-width="0.4" />
<rect x="266.20" y="82.60" width="4.60" height="2.60" fill="none" stroke="#888" stroke-width="0.45" />
<line x1="266.20" y1="84.00" x2="270.80" y2="84.00" stroke="#555" stroke-width="0.6" />
<line x1="268.50" y1="81.00" x2="268.50" y2="82.60" stroke="#888" stroke-width="0.4" />
<line x1="268.50" y1="85.20" x2="268.50" y2="86.50" stroke="#888" stroke-width="0.4" />
<circle cx="277.10" cy="85.92" r="0.69" fill="#c4a42c" fill-opacity="0.8800000000000001"/>
<circle cx="274.46" cy="81.04" r="0.69" fill="#c4a42c" fill-opacity="0.8800000000000001"/>
<circle cx="273.53" cy="80.69" r="0.69" fill="#c4a42c" fill-opacity="0.8800000000000001"/>
<circle cx="277.60" cy="81.15" r="0.69" fill="#c4a42c" fill-opacity="0.8800000000000001"/>
<circle cx="277.20" cy="83.39" r="0.69" fill="#c4a42c" fill-opacity="0.8800000000000001"/>
<circle cx="275.42" cy="86.79" r="0.69" fill="#c4a42c" fill-opacity="0.8800000000000001"/>
<circle cx="276.11" cy="89.23" r="0.69" fill="#c4a42c" fill-opacity="0.8800000000000001"/>
<circle cx="275.49" cy="89.28" r="0.69" fill="#c4a42c" fill-opacity="0.8800000000000001"/>
<circle cx="274.39" cy="83.48" r="0.69" fill="#c4a42c" fill-opacity="0.8800000000000001"/>
<circle cx="278.30" cy="83.85" r="0.69" fill="#c4a42c" fill-opacity="0.8800000000000001"/>
<circle cx="276.39" cy="83.66" r="0.69" fill="#c4a42c" fill-opacity="0.8800000000000001"/>
<circle cx="273.43" cy="82.11" r="0.69" fill="#c4a42c" fill-opacity="0.8800000000000001"/>
<circle cx="275.12" cy="77.30" r="0.69" fill="#c4a42c" fill-opacity="0.8800000000000001"/>
<circle cx="275.51" cy="83.92" r="0.69" fill="#c4a42c" fill-opacity="0.8800000000000001"/>
<circle cx="275.24" cy="84.78" r="0.69" fill="#c4a42c" fill-opacity="0.8800000000000001"/>
<circle cx="277.26" cy="83.36" r="0.69" fill="#c4a42c" fill-opacity="0.8800000000000001"/>
<circle cx="275.87" cy="85.41" r="0.69" fill="#c4a42c" fill-opacity="0.8800000000000001"/>
<circle cx="275.67" cy="80.87" r="0.69" fill="#c4a42c" fill-opacity="0.8800000000000001"/>
<circle cx="276.07" cy="80.19" r="0.69" fill="#c4a42c" fill-opacity="0.8800000000000001"/>
<circle cx="275.28" cy="77.30" r="0.69" fill="#c4a42c" fill-opacity="0.8800000000000001"/>
<circle cx="276.47" cy="83.94" r="0.69" fill="#c4a42c" fill-opacity="0.8800000000000001"/>
<circle cx="276.64" cy="86.65" r="0.69" fill="#c4a42c" fill-opacity="0.8800000000000001"/>
<circle cx="273.11" cy="83.35" r="0.69" fill="#c4a42c" fill-opacity="0.8800000000000001"/>
<circle cx="276.76" cy="85.30" r="0.69" fill="#c4a42c" fill-opacity="0.8800000000000001"/>
<circle cx="275.16" cy="83.98" r="0.69" fill="#c4a42c" fill-opacity="0.8800000000000001"/>
<circle cx="277.32" cy="83.67" r="0.69" fill="#c4a42c" fill-opacity="0.8800000000000001"/>
<circle cx="274.82" cy="85.67" r="0.69" fill="#c4a42c" fill-opacity="0.8800000000000001"/>
<circle cx="273.22" cy="83.35" r="0.69" fill="#c4a42c" fill-opacity="0.8800000000000001"/>
<circle cx="277.03" cy="84.77" r="0.69" fill="#c4a42c" fill-opacity="0.8800000000000001"/>
<circle cx="276.57" cy="84.90" r="0.69" fill="#c4a42c" fill-opacity="0.8800000000000001"/>
<circle cx="274.00" cy="82.18" r="0.69" fill="#c4a42c" fill-opacity="0.8800000000000001"/>
<circle cx="276.83" cy="79.26" r="0.69" fill="#c4a42c" fill-opacity="0.8800000000000001"/>
<circle cx="276.90" cy="81.56" r="0.69" fill="#c4a42c" fill-opacity="0.8800000000000001"/>
<circle cx="274.06" cy="83.19" r="0.69" fill="#c4a42c" fill-opacity="0.8800000000000001"/>
<circle cx="274.48" cy="88.04" r="0.69" fill="#c4a42c" fill-opacity="0.8800000000000001"/>
<circle cx="278.29" cy="84.09" r="0.69" fill="#c4a42c" fill-opacity="0.8800000000000001"/>
<circle cx="277.89" cy="84.89" r="0.69" fill="#c4a42c" fill-opacity="0.8800000000000001"/>
<circle cx="275.92" cy="81.59" r="0.69" fill="#c4a42c" fill-opacity="0.8800000000000001"/>
<circle cx="277.33" cy="81.52" r="0.69" fill="#c4a42c" fill-opacity="0.8800000000000001"/>
<circle cx="276.13" cy="83.01" r="0.69" fill="#c4a42c" fill-opacity="0.8800000000000001"/>
<circle cx="274.37" cy="83.03" r="0.69" fill="#c4a42c" fill-opacity="0.8800000000000001"/>
<circle cx="274.73" cy="85.82" r="0.69" fill="#c4a42c" fill-opacity="0.8800000000000001"/>
<line x1="275.50" y1="75.50" x2="275.50" y2="77.30" stroke="#999" stroke-width="0.4" />
<circle cx="285.92" cy="85.82" r="0.69" fill="#b8a636" fill-opacity="0.8800000000000001"/>
<circle cx="286.58" cy="81.75" r="0.69" fill="#b8a636" fill-opacity="0.8800000000000001"/>
<circle cx="286.41" cy="85.93" r="0.69" fill="#b8a636" fill-opacity="0.8800000000000001"/>
<circle cx="283.65" cy="84.19" r="0.69" fill="#b8a636" fill-opacity="0.8800000000000001"/>
<circle cx="283.78" cy="85.46" r="0.69" fill="#b8a636" fill-opacity="0.8800000000000001"/>
<circle cx="287.61" cy="81.79" r="0.69" fill="#b8a636" fill-opacity="0.8800000000000001"/>
<circle cx="286.77" cy="79.22" r="0.69" fill="#b8a636" fill-opacity="0.8800000000000001"/>
<circle cx="283.81" cy="85.36" r="0.69" fill="#b8a636" fill-opacity="0.8800000000000001"/>
<circle cx="284.50" cy="82.54" r="0.69" fill="#b8a636" fill-opacity="0.8800000000000001"/>
<circle cx="286.22" cy="85.68" r="0.69" fill="#b8a636" fill-opacity="0.8800000000000001"/>
<circle cx="285.14" cy="81.19" r="0.69" fill="#b8a636" fill-opacity="0.8800000000000001"/>
<circle cx="286.57" cy="85.00" r="0.69" fill="#b8a636" fill-opacity="0.8800000000000001"/>
<circle cx="286.88" cy="80.69" r="0.69" fill="#b8a636" fill-opacity="0.8800000000000001"/>
<circle cx="285.21" cy="82.34" r="0.69" fill="#b8a636" fill-opacity="0.8800000000000001"/>
<circle cx="283.71" cy="84.20" r="0.69" fill="#b8a636" fill-opacity="0.8800000000000001"/>
<circle cx="286.52" cy="82.89" r="0.69" fill="#b8a636" fill-opacity="0.8800000000000001"/>
<circle cx="284.74" cy="83.54" r="0.69" fill="#b8a636" fill-opacity="0.8800000000000001"/>
<circle cx="286.62" cy="82.46" r="0.69" fill="#b8a636" fill-opacity="0.8800000000000001"/>
<circle cx="286.41" cy="82.40" r="0.69" fill="#b8a636" fill-opacity="0.8800000000000001"/>
<circle cx="286.70" cy="79.98" r="0.69" fill="#b8a636" fill-opacity="0.8800000000000001"/>
<circle cx="284.36" cy="80.91" r="0.69" fill="#b8a636" fill-opacity="0.8800000000000001"/>
<circle cx="284.75" cy="81.85" r="0.69" fill="#b8a636" fill-opacity="0.8800000000000001"/>
<circle cx="284.96" cy="84.87" r="0.69" fill="#b8a636" fill-opacity="0.8800000000000001"/>
<circle cx="284.91" cy="78.68" r="0.69" fill="#b8a636" fill-opacity="0.8800000000000001"/>
<circle cx="284.98" cy="83.74" r="0.69" fill="#b8a636" fill-opacity="0.8800000000000001"/>
<circle cx="285.02" cy="82.84" r="0.69" fill="#b8a636" fill-opacity="0.8800000000000001"/>
<circle cx="286.42" cy="82.73" r="0.69" fill="#b8a636" fill-opacity="0.8800000000000001"/>
<circle cx="283.29" cy="82.31" r="0.69" fill="#b8a636" fill-opacity="0.8800000000000001"/>
<circle cx="286.76" cy="83.64" r="0.69" fill="#b8a636" fill-opacity="0.8800000000000001"/>
<circle cx="284.40" cy="85.42" r="0.69" fill="#b8a636" fill-opacity="0.8800000000000001"/>
<circle cx="290.01" cy="82.42" r="0.69" fill="#b0a63a" fill-opacity="0.8800000000000001"/>
<circle cx="290.81" cy="82.27" r="0.69" fill="#b0a63a" fill-opacity="0.8800000000000001"/>
<circle cx="292.00" cy="86.97" r="0.69" fill="#b0a63a" fill-opacity="0.8800000000000001"/>
<circle cx="293.13" cy="84.95" r="0.69" fill="#b0a63a" fill-opacity="0.8800000000000001"/>
<circle cx="290.23" cy="79.47" r="0.69" fill="#b0a63a" fill-opacity="0.8800000000000001"/>
<circle cx="293.97" cy="83.43" r="0.69" fill="#b0a63a" fill-opacity="0.8800000000000001"/>
<circle cx="293.38" cy="81.27" r="0.69" fill="#b0a63a" fill-opacity="0.8800000000000001"/>
<circle cx="291.50" cy="86.21" r="0.69" fill="#b0a63a" fill-opacity="0.8800000000000001"/>
<circle cx="292.97" cy="80.25" r="0.69" fill="#b0a63a" fill-opacity="0.8800000000000001"/>
<circle cx="293.05" cy="86.44" r="0.69" fill="#b0a63a" fill-opacity="0.8800000000000001"/>
<circle cx="291.82" cy="80.78" r="0.69" fill="#b0a63a" fill-opacity="0.8800000000000001"/>
<circle cx="292.24" cy="84.10" r="0.69" fill="#b0a63a" fill-opacity="0.8800000000000001"/>
<circle cx="292.32" cy="80.45" r="0.69" fill="#b0a63a" fill-opacity="0.8800000000000001"/>
<circle cx="291.16" cy="78.39" r="0.69" fill="#b0a63a" fill-opacity="0.8800000000000001"/>
<circle cx="293.48" cy="83.43" r="0.69" fill="#b0a63a" fill-opacity="0.8800000000000001"/>
<circle cx="290.81" cy="78.26" r="0.69" fill="#b0a63a" fill-opacity="0.8800000000000001"/>
<circle cx="291.51" cy="78.58" r="0.69" fill="#b0a63a" fill-opacity="0.8800000000000001"/>
<circle cx="290.60" cy="85.75" r="0.69" fill="#b0a63a" fill-opacity="0.8800000000000001"/>
<circle cx="290.46" cy="86.74" r="0.69" fill="#b0a63a" fill-opacity="0.8800000000000001"/>
<circle cx="291.05" cy="83.71" r="0.69" fill="#b0a63a" fill-opacity="0.8800000000000001"/>
<circle cx="291.61" cy="81.20" r="0.69" fill="#b0a63a" fill-opacity="0.8800000000000001"/>
<circle cx="293.01" cy="83.16" r="0.69" fill="#b0a63a" fill-opacity="0.8800000000000001"/>
<circle cx="292.49" cy="84.84" r="0.69" fill="#b0a63a" fill-opacity="0.8800000000000001"/>
<circle cx="292.37" cy="83.76" r="0.69" fill="#b0a63a" fill-opacity="0.8800000000000001"/>
<circle cx="291.19" cy="80.77" r="0.69" fill="#b0a63a" fill-opacity="0.8800000000000001"/>
<circle cx="293.93" cy="81.93" r="0.69" fill="#b0a63a" fill-opacity="0.8800000000000001"/>
<circle cx="291.68" cy="80.60" r="0.69" fill="#b0a63a" fill-opacity="0.8800000000000001"/>
<circle cx="289.78" cy="82.99" r="0.69" fill="#b0a63a" fill-opacity="0.8800000000000001"/>
<circle cx="292.03" cy="77.12" r="0.69" fill="#b0a63a" fill-opacity="0.8800000000000001"/>
<circle cx="289.96" cy="80.04" r="0.69" fill="#b0a63a" fill-opacity="0.8800000000000001"/>
<circle cx="289.56" cy="83.71" r="0.69" fill="#b0a63a" fill-opacity="0.8800000000000001"/>
<circle cx="290.80" cy="81.30" r="0.69" fill="#b0a63a" fill-opacity="0.8800000000000001"/>
<circle cx="294.39" cy="82.56" r="0.69" fill="#b0a63a" fill-opacity="0.8800000000000001"/>
<circle cx="291.30" cy="82.71" r="0.69" fill="#b0a63a" fill-opacity="0.8800000000000001"/>
<circle cx="293.16" cy="86.72" r="0.69" fill="#b0a63a" fill-opacity="0.8800000000000001"/>
<circle cx="289.29" cy="82.98" r="0.69" fill="#b0a63a" fill-opacity="0.8800000000000001"/>
<circle cx="297.95" cy="84.95" r="0.6325" fill="#aaa640" fill-opacity="0.66"/>
<circle cx="298.04" cy="85.20" r="0.6325" fill="#aaa640" fill-opacity="0.66"/>
<circle cx="298.71" cy="88.50" r="0.6325" fill="#aaa640" fill-opacity="0.66"/>
<circle cx="297.68" cy="85.33" r="0.6325" fill="#aaa640" fill-opacity="0.66"/>
<circle cx="299.53" cy="83.18" r="0.6325" fill="#aaa640" fill-opacity="0.66"/>
<circle cx="297.63" cy="83.10" r="0.6325" fill="#aaa640" fill-opacity="0.66"/>
<circle cx="298.79" cy="87.12" r="0.6325" fill="#aaa640" fill-opacity="0.66"/>
<circle cx="298.76" cy="83.75" r="0.6325" fill="#aaa640" fill-opacity="0.66"/>
<circle cx="300.16" cy="84.29" r="0.6325" fill="#aaa640" fill-opacity="0.66"/>
<circle cx="298.45" cy="84.21" r="0.6325" fill="#aaa640" fill-opacity="0.66"/>
<circle cx="299.39" cy="85.01" r="0.6325" fill="#aaa640" fill-opacity="0.66"/>
<circle cx="299.43" cy="86.00" r="0.6325" fill="#aaa640" fill-opacity="0.66"/>
<circle cx="300.53" cy="84.85" r="0.6325" fill="#aaa640" fill-opacity="0.66"/>
<circle cx="297.11" cy="86.12" r="0.6325" fill="#aaa640" fill-opacity="0.66"/>
<rect x="296.40" y="81.20" width="4.20" height="6.70" fill="none" stroke="#888" stroke-width="0.45" />
<line x1="296.40" y1="84.50" x2="300.60" y2="84.50" stroke="#555" stroke-width="0.6" />
<line x1="298.50" y1="79.50" x2="298.50" y2="81.20" stroke="#888" stroke-width="0.4" />
<line x1="298.50" y1="87.90" x2="298.50" y2="89.00" stroke="#888" stroke-width="0.4" />
<line x1="296.40" y1="83.00" x2="300.60" y2="83.00" stroke="#888" stroke-width="0.35" />
<line x1="296.40" y1="86.00" x2="300.60" y2="86.00" stroke="#888" stroke-width="0.35" />
<circle cx="305.78" cy="81.69" r="0.6325" fill="#a8a640" fill-opacity="0.66"/>
<circle cx="305.45" cy="87.17" r="0.6325" fill="#a8a640" fill-opacity="0.66"/>
<circle cx="306.40" cy="84.18" r="0.6325" fill="#a8a640" fill-opacity="0.66"/>
<circle cx="304.72" cy="84.94" r="0.6325" fill="#a8a640" fill-opacity="0.66"/>
<circle cx="305.02" cy="88.45" r="0.6325" fill="#a8a640" fill-opacity="0.66"/>
<circle cx="305.31" cy="86.60" r="0.6325" fill="#a8a640" fill-opacity="0.66"/>
<circle cx="304.99" cy="84.08" r="0.6325" fill="#a8a640" fill-opacity="0.66"/>
<circle cx="306.09" cy="82.90" r="0.6325" fill="#a8a640" fill-opacity="0.66"/>
<circle cx="305.05" cy="84.82" r="0.6325" fill="#a8a640" fill-opacity="0.66"/>
<circle cx="306.49" cy="87.20" r="0.6325" fill="#a8a640" fill-opacity="0.66"/>
<circle cx="306.92" cy="85.42" r="0.6325" fill="#a8a640" fill-opacity="0.66"/>
<rect x="303.30" y="82.60" width="4.20" height="5.30" fill="none" stroke="#888" stroke-width="0.45" />
<line x1="303.30" y1="85.50" x2="307.50" y2="85.50" stroke="#555" stroke-width="0.6" />
<line x1="305.40" y1="78.00" x2="305.40" y2="82.60" stroke="#888" stroke-width="0.4" />
<line x1="305.40" y1="87.90" x2="305.40" y2="89.50" stroke="#888" stroke-width="0.4" />
<circle cx="311.85" cy="82.51" r="0.69" fill="#a8a43e" fill-opacity="0.8800000000000001"/>
<circle cx="310.50" cy="83.17" r="0.69" fill="#a8a43e" fill-opacity="0.8800000000000001"/>
<circle cx="309.95" cy="85.16" r="0.69" fill="#a8a43e" fill-opacity="0.8800000000000001"/>
<circle cx="313.04" cy="84.41" r="0.69" fill="#a8a43e" fill-opacity="0.8800000000000001"/>
<circle cx="313.65" cy="86.42" r="0.69" fill="#a8a43e" fill-opacity="0.8800000000000001"/>
<circle cx="313.82" cy="81.55" r="0.69" fill="#a8a43e" fill-opacity="0.8800000000000001"/>
<circle cx="312.39" cy="77.90" r="0.69" fill="#a8a43e" fill-opacity="0.8800000000000001"/>
<circle cx="312.58" cy="83.76" r="0.69" fill="#a8a43e" fill-opacity="0.8800000000000001"/>
<circle cx="311.44" cy="84.69" r="0.69" fill="#a8a43e" fill-opacity="0.8800000000000001"/>
<circle cx="314.35" cy="84.52" r="0.69" fill="#a8a43e" fill-opacity="0.8800000000000001"/>
<circle cx="310.93" cy="83.88" r="0.69" fill="#a8a43e" fill-opacity="0.8800000000000001"/>
<circle cx="312.01" cy="82.18" r="0.69" fill="#a8a43e" fill-opacity="0.8800000000000001"/>
<circle cx="312.91" cy="80.25" r="0.69" fill="#a8a43e" fill-opacity="0.8800000000000001"/>
<circle cx="313.67" cy="84.65" r="0.69" fill="#a8a43e" fill-opacity="0.8800000000000001"/>
<circle cx="314.39" cy="82.85" r="0.69" fill="#a8a43e" fill-opacity="0.8800000000000001"/>
<circle cx="312.54" cy="85.48" r="0.69" fill="#a8a43e" fill-opacity="0.8800000000000001"/>
<circle cx="310.72" cy="80.91" r="0.69" fill="#a8a43e" fill-opacity="0.8800000000000001"/>
<circle cx="310.99" cy="81.97" r="0.69" fill="#a8a43e" fill-opacity="0.8800000000000001"/>
<circle cx="314.21" cy="83.16" r="0.69" fill="#a8a43e" fill-opacity="0.8800000000000001"/>
<circle cx="314.02" cy="83.86" r="0.69" fill="#a8a43e" fill-opacity="0.8800000000000001"/>
<circle cx="312.25" cy="85.64" r="0.69" fill="#a8a43e" fill-opacity="0.8800000000000001"/>
<circle cx="313.99" cy="85.07" r="0.69" fill="#a8a43e" fill-opacity="0.8800000000000001"/>
<circle cx="311.72" cy="82.85" r="0.69" fill="#a8a43e" fill-opacity="0.8800000000000001"/>
<circle cx="311.50" cy="86.57" r="0.69" fill="#a8a43e" fill-opacity="0.8800000000000001"/>
<circle cx="311.53" cy="81.64" r="0.69" fill="#a8a43e" fill-opacity="0.8800000000000001"/>
<circle cx="310.47" cy="86.43" r="0.69" fill="#a8a43e" fill-opacity="0.8800000000000001"/>
<circle cx="313.76" cy="86.01" r="0.69" fill="#a8a43e" fill-opacity="0.8800000000000001"/>
<circle cx="311.49" cy="83.84" r="0.69" fill="#a8a43e" fill-opacity="0.8800000000000001"/>
<circle cx="312.01" cy="86.18" r="0.69" fill="#a8a43e" fill-opacity="0.8800000000000001"/>
<circle cx="311.39" cy="84.86" r="0.69" fill="#a8a43e" fill-opacity="0.8800000000000001"/>
<circle cx="322.41" cy="83.86" r="0.69" fill="#9ea23e" fill-opacity="0.8800000000000001"/>
<circle cx="322.27" cy="79.95" r="0.69" fill="#9ea23e" fill-opacity="0.8800000000000001"/>
<circle cx="323.02" cy="83.83" r="0.69" fill="#9ea23e" fill-opacity="0.8800000000000001"/>
<circle cx="321.94" cy="83.25" r="0.69" fill="#9ea23e" fill-opacity="0.8800000000000001"/>
<circle cx="321.07" cy="82.46" r="0.69" fill="#9ea23e" fill-opacity="0.8800000000000001"/>
<circle cx="322.55" cy="88.32" r="0.69" fill="#9ea23e" fill-opacity="0.8800000000000001"/>
<circle cx="321.25" cy="87.77" r="0.69" fill="#9ea23e" fill-opacity="0.8800000000000001"/>
<circle cx="321.83" cy="85.46" r="0.69" fill="#9ea23e" fill-opacity="0.8800000000000001"/>
<circle cx="323.33" cy="82.44" r="0.69" fill="#9ea23e" fill-opacity="0.8800000000000001"/>
<circle cx="323.48" cy="83.31" r="0.69" fill="#9ea23e" fill-opacity="0.8800000000000001"/>
<circle cx="322.69" cy="87.33" r="0.69" fill="#9ea23e" fill-opacity="0.8800000000000001"/>
<circle cx="323.42" cy="84.79" r="0.69" fill="#9ea23e" fill-opacity="0.8800000000000001"/>
<circle cx="322.69" cy="85.18" r="0.69" fill="#9ea23e" fill-opacity="0.8800000000000001"/>
<circle cx="322.34" cy="81.00" r="0.69" fill="#9ea23e" fill-opacity="0.8800000000000001"/>
<circle cx="323.30" cy="88.04" r="0.69" fill="#9ea23e" fill-opacity="0.8800000000000001"/>
<circle cx="324.15" cy="85.87" r="0.69" fill="#9ea23e" fill-opacity="0.8800000000000001"/>
<circle cx="321.41" cy="87.90" r="0.69" fill="#9ea23e" fill-opacity="0.8800000000000001"/>
<circle cx="321.35" cy="84.98" r="0.69" fill="#9ea23e" fill-opacity="0.8800000000000001"/>
<circle cx="322.51" cy="86.54" r="0.69" fill="#9ea23e" fill-opacity="0.8800000000000001"/>
<circle cx="320.22" cy="84.70" r="0.69" fill="#9ea23e" fill-opacity="0.8800000000000001"/>
<circle cx="320.27" cy="84.60" r="0.69" fill="#9ea23e" fill-opacity="0.8800000000000001"/>
<circle cx="322.51" cy="82.23" r="0.69" fill="#9ea23e" fill-opacity="0.8800000000000001"/>
<circle cx="321.25" cy="87.40" r="0.69" fill="#9ea23e" fill-opacity="0.8800000000000001"/>
<circle cx="322.59" cy="79.21" r="0.69" fill="#9ea23e" fill-opacity="0.8800000000000001"/>
<circle cx="321.28" cy="80.77" r="0.69" fill="#9ea23e" fill-opacity="0.8800000000000001"/>
<circle cx="324.01" cy="83.96" r="0.69" fill="#9ea23e" fill-opacity="0.8800000000000001"/>
<circle cx="321.39" cy="83.40" r="0.69" fill="#9ea23e" fill-opacity="0.8800000000000001"/>
<circle cx="322.06" cy="81.06" r="0.69" fill="#9ea23e" fill-opacity="0.8800000000000001"/>
<line x1="332.20" y1="70.00" x2="332.20" y2="78.60" stroke="#888" stroke-width="0.45" />
<rect x="329.80" y="78.60" width="4.70" height="8.00" fill="#fff" stroke="#888" stroke-width="0.5" />
<line x1="329.80" y1="86.00" x2="334.50" y2="86.00" stroke="#666" stroke-width="0.5" />
<circle cx="338.69" cy="83.24" r="0.6325" fill="#5aa84a" fill-opacity="0.77"/>
<circle cx="339.54" cy="85.77" r="0.6325" fill="#5aa84a" fill-opacity="0.77"/>
<circle cx="339.78" cy="85.04" r="0.6325" fill="#5aa84a" fill-opacity="0.77"/>
<circle cx="338.33" cy="85.26" r="0.6325" fill="#5aa84a" fill-opacity="0.77"/>
<circle cx="337.78" cy="84.98" r="0.6325" fill="#5aa84a" fill-opacity="0.77"/>
<circle cx="340.44" cy="85.06" r="0.6325" fill="#5aa84a" fill-opacity="0.77"/>
<circle cx="340.50" cy="84.99" r="0.6325" fill="#5aa84a" fill-opacity="0.77"/>
<circle cx="338.49" cy="84.03" r="0.6325" fill="#5aa84a" fill-opacity="0.77"/>
<rect x="337.10" y="82.60" width="4.00" height="4.00" fill="none" stroke="#6a9a60" stroke-width="0.45" />
<line x1="337.10" y1="84.60" x2="341.10" y2="84.60" stroke="#555" stroke-width="0.6" />
<circle cx="347.81" cy="82.89" r="0.69" fill="#2f9a3a" fill-opacity="0.935"/>
<circle cx="348.22" cy="85.58" r="0.69" fill="#2f9a3a" fill-opacity="0.935"/>
<circle cx="344.59" cy="85.76" r="0.69" fill="#2f9a3a" fill-opacity="0.935"/>
<circle cx="343.98" cy="87.06" r="0.69" fill="#2f9a3a" fill-opacity="0.935"/>
<circle cx="344.80" cy="83.88" r="0.69" fill="#2f9a3a" fill-opacity="0.935"/>
<circle cx="346.20" cy="88.46" r="0.69" fill="#2f9a3a" fill-opacity="0.935"/>
<circle cx="345.89" cy="79.93" r="0.69" fill="#2f9a3a" fill-opacity="0.935"/>
<circle cx="347.75" cy="81.98" r="0.69" fill="#2f9a3a" fill-opacity="0.935"/>
<circle cx="345.23" cy="85.64" r="0.69" fill="#2f9a3a" fill-opacity="0.935"/>
<circle cx="345.29" cy="87.76" r="0.69" fill="#2f9a3a" fill-opacity="0.935"/>
<circle cx="344.98" cy="87.16" r="0.69" fill="#2f9a3a" fill-opacity="0.935"/>
<circle cx="345.68" cy="88.87" r="0.69" fill="#2f9a3a" fill-opacity="0.935"/>
<circle cx="347.96" cy="83.06" r="0.69" fill="#2f9a3a" fill-opacity="0.935"/>
<circle cx="348.43" cy="85.38" r="0.69" fill="#2f9a3a" fill-opacity="0.935"/>
<circle cx="343.87" cy="86.37" r="0.69" fill="#2f9a3a" fill-opacity="0.935"/>
<circle cx="343.46" cy="84.47" r="0.69" fill="#2f9a3a" fill-opacity="0.935"/>
<circle cx="347.81" cy="82.08" r="0.69" fill="#2f9a3a" fill-opacity="0.935"/>
<circle cx="344.14" cy="84.09" r="0.69" fill="#2f9a3a" fill-opacity="0.935"/>
<circle cx="346.76" cy="81.94" r="0.69" fill="#2f9a3a" fill-opacity="0.935"/>
<circle cx="343.04" cy="84.65" r="0.69" fill="#2f9a3a" fill-opacity="0.935"/>
<circle cx="345.14" cy="82.04" r="0.69" fill="#2f9a3a" fill-opacity="0.935"/>
<circle cx="347.01" cy="82.10" r="0.69" fill="#2f9a3a" fill-opacity="0.935"/>
<circle cx="345.64" cy="83.85" r="0.69" fill="#2f9a3a" fill-opacity="0.935"/>
<circle cx="343.79" cy="85.39" r="0.69" fill="#2f9a3a" fill-opacity="0.935"/>
<circle cx="346.58" cy="88.36" r="0.69" fill="#2f9a3a" fill-opacity="0.935"/>
<circle cx="344.28" cy="86.80" r="0.69" fill="#2f9a3a" fill-opacity="0.935"/>
<circle cx="346.26" cy="84.26" r="0.69" fill="#2f9a3a" fill-opacity="0.935"/>
<circle cx="345.82" cy="84.66" r="0.69" fill="#2f9a3a" fill-opacity="0.935"/>
<circle cx="344.19" cy="86.09" r="0.69" fill="#2f9a3a" fill-opacity="0.935"/>
<circle cx="344.38" cy="83.06" r="0.69" fill="#2f9a3a" fill-opacity="0.935"/>
<circle cx="347.44" cy="81.30" r="0.69" fill="#2f9a3a" fill-opacity="0.935"/>
<circle cx="346.58" cy="79.39" r="0.69" fill="#2f9a3a" fill-opacity="0.935"/>
<circle cx="344.55" cy="83.09" r="0.69" fill="#2f9a3a" fill-opacity="0.935"/>
<circle cx="345.87" cy="85.04" r="0.69" fill="#2f9a3a" fill-opacity="0.935"/>
<circle cx="346.87" cy="87.10" r="0.69" fill="#2f9a3a" fill-opacity="0.935"/>
<circle cx="343.38" cy="86.32" r="0.69" fill="#2f9a3a" fill-opacity="0.935"/>
<circle cx="347.31" cy="86.26" r="0.69" fill="#2f9a3a" fill-opacity="0.935"/>
<circle cx="346.12" cy="88.31" r="0.69" fill="#2f9a3a" fill-opacity="0.935"/>
<circle cx="345.45" cy="82.85" r="0.69" fill="#2f9a3a" fill-opacity="0.935"/>
<circle cx="343.20" cy="83.22" r="0.69" fill="#2f9a3a" fill-opacity="0.935"/>
<circle cx="344.62" cy="87.23" r="0.69" fill="#2f9a3a" fill-opacity="0.935"/>
<circle cx="346.31" cy="81.84" r="0.69" fill="#2f9a3a" fill-opacity="0.935"/>
<circle cx="343.79" cy="84.99" r="0.69" fill="#2f9a3a" fill-opacity="0.935"/>
<circle cx="345.06" cy="79.30" r="0.69" fill="#2f9a3a" fill-opacity="0.935"/>
<circle cx="347.31" cy="89.27" r="0.69" fill="#2f9a3a" fill-opacity="0.935"/>
<circle cx="346.18" cy="91.90" r="0.69" fill="#2f9a3a" fill-opacity="0.935"/>
<circle cx="348.26" cy="84.72" r="0.69" fill="#2f9a3a" fill-opacity="0.935"/>
<circle cx="345.80" cy="91.90" r="0.69" fill="#2f9a3a" fill-opacity="0.935"/>
<circle cx="347.65" cy="84.41" r="0.69" fill="#2f9a3a" fill-opacity="0.935"/>
<circle cx="344.29" cy="87.00" r="0.69" fill="#2f9a3a" fill-opacity="0.935"/>
<circle cx="346.79" cy="89.73" r="0.69" fill="#2f9a3a" fill-opacity="0.935"/>
<circle cx="347.37" cy="85.14" r="0.69" fill="#2f9a3a" fill-opacity="0.935"/>
<circle cx="345.26" cy="79.98" r="0.69" fill="#2f9a3a" fill-opacity="0.935"/>
<circle cx="346.42" cy="87.11" r="0.69" fill="#2f9a3a" fill-opacity="0.935"/>
<circle cx="346.12" cy="78.14" r="0.69" fill="#2f9a3a" fill-opacity="0.935"/>
<circle cx="347.04" cy="84.90" r="0.69" fill="#2f9a3a" fill-opacity="0.935"/>
<circle cx="355.90" cy="86.64" r="0.69" fill="#2e9a50" fill-opacity="0.935"/>
<circle cx="353.61" cy="83.03" r="0.69" fill="#2e9a50" fill-opacity="0.935"/>
<circle cx="355.51" cy="83.87" r="0.69" fill="#2e9a50" fill-opacity="0.935"/>
<circle cx="354.59" cy="87.48" r="0.69" fill="#2e9a50" fill-opacity="0.935"/>
<circle cx="355.98" cy="78.60" r="0.69" fill="#2e9a50" fill-opacity="0.935"/>
<circle cx="355.25" cy="83.01" r="0.69" fill="#2e9a50" fill-opacity="0.935"/>
<circle cx="355.84" cy="89.90" r="0.69" fill="#2e9a50" fill-opacity="0.935"/>
<circle cx="354.33" cy="81.17" r="0.69" fill="#2e9a50" fill-opacity="0.935"/>
<circle cx="354.15" cy="82.80" r="0.69" fill="#2e9a50" fill-opacity="0.935"/>
<circle cx="356.11" cy="84.92" r="0.69" fill="#2e9a50" fill-opacity="0.935"/>
<circle cx="357.64" cy="83.80" r="0.69" fill="#2e9a50" fill-opacity="0.935"/>
<circle cx="356.35" cy="82.23" r="0.69" fill="#2e9a50" fill-opacity="0.935"/>
<circle cx="356.58" cy="81.89" r="0.69" fill="#2e9a50" fill-opacity="0.935"/>
<circle cx="354.71" cy="83.95" r="0.69" fill="#2e9a50" fill-opacity="0.935"/>
<circle cx="356.14" cy="85.38" r="0.69" fill="#2e9a50" fill-opacity="0.935"/>
<circle cx="355.44" cy="84.72" r="0.69" fill="#2e9a50" fill-opacity="0.935"/>
<circle cx="355.04" cy="86.41" r="0.69" fill="#2e9a50" fill-opacity="0.935"/>
<circle cx="355.70" cy="80.88" r="0.69" fill="#2e9a50" fill-opacity="0.935"/>
<circle cx="356.18" cy="79.77" r="0.69" fill="#2e9a50" fill-opacity="0.935"/>
<circle cx="357.21" cy="84.79" r="0.69" fill="#2e9a50" fill-opacity="0.935"/>
<circle cx="355.01" cy="89.24" r="0.69" fill="#2e9a50" fill-opacity="0.935"/>
<circle cx="354.76" cy="86.71" r="0.69" fill="#2e9a50" fill-opacity="0.935"/>
<circle cx="353.31" cy="84.50" r="0.69" fill="#2e9a50" fill-opacity="0.935"/>
<circle cx="355.57" cy="86.53" r="0.69" fill="#2e9a50" fill-opacity="0.935"/>
<circle cx="355.94" cy="88.02" r="0.69" fill="#2e9a50" fill-opacity="0.935"/>
<circle cx="357.61" cy="83.12" r="0.69" fill="#2e9a50" fill-opacity="0.935"/>
<circle cx="357.70" cy="84.27" r="0.69" fill="#2e9a50" fill-opacity="0.935"/>
<circle cx="355.74" cy="78.60" r="0.69" fill="#2e9a50" fill-opacity="0.935"/>
<circle cx="355.31" cy="86.27" r="0.69" fill="#2e9a50" fill-opacity="0.935"/>
<circle cx="354.99" cy="89.46" r="0.69" fill="#2e9a50" fill-opacity="0.935"/>
<circle cx="355.46" cy="88.97" r="0.69" fill="#2e9a50" fill-opacity="0.935"/>
<circle cx="355.16" cy="82.52" r="0.69" fill="#2e9a50" fill-opacity="0.935"/>
<circle cx="354.40" cy="87.68" r="0.69" fill="#2e9a50" fill-opacity="0.935"/>
<circle cx="356.00" cy="83.81" r="0.69" fill="#2e9a50" fill-opacity="0.935"/>
<circle cx="357.59" cy="84.61" r="0.69" fill="#2e9a50" fill-opacity="0.935"/>
<circle cx="355.79" cy="81.19" r="0.69" fill="#2e9a50" fill-opacity="0.935"/>
<circle cx="355.68" cy="79.08" r="0.69" fill="#2e9a50" fill-opacity="0.935"/>
<circle cx="354.76" cy="83.79" r="0.69" fill="#2e9a50" fill-opacity="0.935"/>
<circle cx="355.45" cy="84.03" r="0.69" fill="#2e9a50" fill-opacity="0.935"/>
<circle cx="355.92" cy="79.32" r="0.69" fill="#2e9a50" fill-opacity="0.935"/>
<circle cx="354.94" cy="82.98" r="0.69" fill="#2e9a50" fill-opacity="0.935"/>
<circle cx="354.39" cy="87.49" r="0.69" fill="#2e9a50" fill-opacity="0.935"/>
<circle cx="366.70" cy="84.56" r="0.69" fill="#2a9a6c" fill-opacity="0.935"/>
<circle cx="367.13" cy="84.16" r="0.69" fill="#2a9a6c" fill-opacity="0.935"/>
<circle cx="367.86" cy="87.47" r="0.69" fill="#2a9a6c" fill-opacity="0.935"/>
<circle cx="366.93" cy="83.82" r="0.69" fill="#2a9a6c" fill-opacity="0.935"/>
<circle cx="366.29" cy="78.60" r="0.69" fill="#2a9a6c" fill-opacity="0.935"/>
<circle cx="366.21" cy="80.26" r="0.69" fill="#2a9a6c" fill-opacity="0.935"/>
<circle cx="368.29" cy="82.13" r="0.69" fill="#2a9a6c" fill-opacity="0.935"/>
<circle cx="365.71" cy="88.19" r="0.69" fill="#2a9a6c" fill-opacity="0.935"/>
<circle cx="366.97" cy="86.46" r="0.69" fill="#2a9a6c" fill-opacity="0.935"/>
<circle cx="365.02" cy="85.15" r="0.69" fill="#2a9a6c" fill-opacity="0.935"/>
<circle cx="367.99" cy="88.14" r="0.69" fill="#2a9a6c" fill-opacity="0.935"/>
<circle cx="365.43" cy="87.69" r="0.69" fill="#2a9a6c" fill-opacity="0.935"/>
<circle cx="366.81" cy="83.38" r="0.69" fill="#2a9a6c" fill-opacity="0.935"/>
<circle cx="368.04" cy="86.64" r="0.69" fill="#2a9a6c" fill-opacity="0.935"/>
<circle cx="366.07" cy="90.67" r="0.69" fill="#2a9a6c" fill-opacity="0.935"/>
<circle cx="365.66" cy="87.22" r="0.69" fill="#2a9a6c" fill-opacity="0.935"/>
<circle cx="365.31" cy="87.90" r="0.69" fill="#2a9a6c" fill-opacity="0.935"/>
<circle cx="368.42" cy="85.25" r="0.69" fill="#2a9a6c" fill-opacity="0.935"/>
<circle cx="364.85" cy="85.56" r="0.69" fill="#2a9a6c" fill-opacity="0.935"/>
<circle cx="364.67" cy="86.83" r="0.69" fill="#2a9a6c" fill-opacity="0.935"/>
<circle cx="367.93" cy="85.84" r="0.69" fill="#2a9a6c" fill-opacity="0.935"/>
<circle cx="369.03" cy="85.19" r="0.69" fill="#2a9a6c" fill-opacity="0.935"/>
<circle cx="367.98" cy="81.65" r="0.69" fill="#2a9a6c" fill-opacity="0.935"/>
<circle cx="367.70" cy="83.54" r="0.69" fill="#2a9a6c" fill-opacity="0.935"/>
<circle cx="364.24" cy="84.15" r="0.69" fill="#2a9a6c" fill-opacity="0.935"/>
<circle cx="367.03" cy="89.37" r="0.69" fill="#2a9a6c" fill-opacity="0.935"/>
<circle cx="364.92" cy="83.60" r="0.69" fill="#2a9a6c" fill-opacity="0.935"/>
<circle cx="368.49" cy="86.50" r="0.69" fill="#2a9a6c" fill-opacity="0.935"/>
<circle cx="366.43" cy="80.54" r="0.69" fill="#2a9a6c" fill-opacity="0.935"/>
<circle cx="366.38" cy="81.12" r="0.69" fill="#2a9a6c" fill-opacity="0.935"/>
<circle cx="367.09" cy="88.76" r="0.69" fill="#2a9a6c" fill-opacity="0.935"/>
<circle cx="366.94" cy="84.94" r="0.69" fill="#2a9a6c" fill-opacity="0.935"/>
<circle cx="367.88" cy="83.10" r="0.69" fill="#2a9a6c" fill-opacity="0.935"/>
<circle cx="365.94" cy="86.89" r="0.69" fill="#2a9a6c" fill-opacity="0.935"/>
<circle cx="366.40" cy="84.67" r="0.69" fill="#2a9a6c" fill-opacity="0.935"/>
<circle cx="367.43" cy="84.99" r="0.69" fill="#2a9a6c" fill-opacity="0.935"/>
<line x1="370.90" y1="87.20" x2="374.90" y2="87.20" stroke="#444" stroke-width="0.8" />
<circle cx="384.44" cy="83.08" r="0.69" fill="#2c9a88" fill-opacity="0.8800000000000001"/>
<circle cx="382.77" cy="81.83" r="0.69" fill="#2c9a88" fill-opacity="0.8800000000000001"/>
<circle cx="381.39" cy="83.59" r="0.69" fill="#2c9a88" fill-opacity="0.8800000000000001"/>
<circle cx="382.12" cy="82.33" r="0.69" fill="#2c9a88" fill-opacity="0.8800000000000001"/>
<circle cx="381.05" cy="82.33" r="0.69" fill="#2c9a88" fill-opacity="0.8800000000000001"/>
<circle cx="383.43" cy="77.62" r="0.69" fill="#2c9a88" fill-opacity="0.8800000000000001"/>
<circle cx="381.25" cy="82.87" r="0.69" fill="#2c9a88" fill-opacity="0.8800000000000001"/>
<circle cx="381.68" cy="85.25" r="0.69" fill="#2c9a88" fill-opacity="0.8800000000000001"/>
<circle cx="383.52" cy="85.63" r="0.69" fill="#2c9a88" fill-opacity="0.8800000000000001"/>
<circle cx="384.93" cy="84.01" r="0.69" fill="#2c9a88" fill-opacity="0.8800000000000001"/>
<circle cx="382.70" cy="83.20" r="0.69" fill="#2c9a88" fill-opacity="0.8800000000000001"/>
<circle cx="384.35" cy="82.62" r="0.69" fill="#2c9a88" fill-opacity="0.8800000000000001"/>
<circle cx="383.46" cy="83.64" r="0.69" fill="#2c9a88" fill-opacity="0.8800000000000001"/>
<circle cx="382.61" cy="82.71" r="0.69" fill="#2c9a88" fill-opacity="0.8800000000000001"/>
<circle cx="382.38" cy="81.91" r="0.69" fill="#2c9a88" fill-opacity="0.8800000000000001"/>
<circle cx="383.30" cy="85.48" r="0.69" fill="#2c9a88" fill-opacity="0.8800000000000001"/>
<circle cx="383.20" cy="83.08" r="0.69" fill="#2c9a88" fill-opacity="0.8800000000000001"/>
<circle cx="383.06" cy="82.48" r="0.69" fill="#2c9a88" fill-opacity="0.8800000000000001"/>
<circle cx="382.07" cy="80.40" r="0.69" fill="#2c9a88" fill-opacity="0.8800000000000001"/>
<circle cx="382.90" cy="81.53" r="0.69" fill="#2c9a88" fill-opacity="0.8800000000000001"/>
<circle cx="383.90" cy="83.92" r="0.69" fill="#2c9a88" fill-opacity="0.8800000000000001"/>
<circle cx="384.24" cy="81.26" r="0.69" fill="#2c9a88" fill-opacity="0.8800000000000001"/>
<circle cx="381.35" cy="83.16" r="0.69" fill="#2c9a88" fill-opacity="0.8800000000000001"/>
<circle cx="382.13" cy="85.40" r="0.69" fill="#2c9a88" fill-opacity="0.8800000000000001"/>
<circle cx="382.49" cy="78.68" r="0.69" fill="#2c9a88" fill-opacity="0.8800000000000001"/>
<line x1="388.20" y1="85.20" x2="391.40" y2="85.20" stroke="#667" stroke-width="0.6" />
<circle cx="389.60" cy="87.50" r="0.5" fill="#6aa" fill-opacity="0.6"/>
<circle cx="395.86" cy="84.05" r="0.69" fill="#33a0a0" fill-opacity="0.8800000000000001"/>
<circle cx="395.75" cy="84.36" r="0.69" fill="#33a0a0" fill-opacity="0.8800000000000001"/>
<circle cx="397.09" cy="84.85" r="0.69" fill="#33a0a0" fill-opacity="0.8800000000000001"/>
<circle cx="393.94" cy="83.32" r="0.69" fill="#33a0a0" fill-opacity="0.8800000000000001"/>
<circle cx="395.33" cy="82.52" r="0.69" fill="#33a0a0" fill-opacity="0.8800000000000001"/>
<circle cx="395.71" cy="84.32" r="0.69" fill="#33a0a0" fill-opacity="0.8800000000000001"/>
<circle cx="396.49" cy="82.98" r="0.69" fill="#33a0a0" fill-opacity="0.8800000000000001"/>
<circle cx="394.22" cy="87.17" r="0.69" fill="#33a0a0" fill-opacity="0.8800000000000001"/>
<circle cx="396.46" cy="83.08" r="0.69" fill="#33a0a0" fill-opacity="0.8800000000000001"/>
<circle cx="397.39" cy="85.30" r="0.69" fill="#33a0a0" fill-opacity="0.8800000000000001"/>
<circle cx="397.82" cy="85.36" r="0.69" fill="#33a0a0" fill-opacity="0.8800000000000001"/>
<circle cx="395.88" cy="80.44" r="0.69" fill="#33a0a0" fill-opacity="0.8800000000000001"/>
<circle cx="396.85" cy="87.60" r="0.69" fill="#33a0a0" fill-opacity="0.8800000000000001"/>
<circle cx="397.90" cy="84.92" r="0.69" fill="#33a0a0" fill-opacity="0.8800000000000001"/>
<circle cx="395.77" cy="83.65" r="0.69" fill="#33a0a0" fill-opacity="0.8800000000000001"/>
<circle cx="394.05" cy="84.97" r="0.69" fill="#33a0a0" fill-opacity="0.8800000000000001"/>
<circle cx="397.55" cy="84.20" r="0.69" fill="#33a0a0" fill-opacity="0.8800000000000001"/>
<circle cx="397.87" cy="85.73" r="0.69" fill="#33a0a0" fill-opacity="0.8800000000000001"/>
<circle cx="397.49" cy="85.74" r="0.69" fill="#33a0a0" fill-opacity="0.8800000000000001"/>
<circle cx="397.23" cy="82.24" r="0.69" fill="#33a0a0" fill-opacity="0.8800000000000001"/>
<circle cx="394.99" cy="82.87" r="0.69" fill="#33a0a0" fill-opacity="0.8800000000000001"/>
<circle cx="394.36" cy="85.44" r="0.69" fill="#33a0a0" fill-opacity="0.8800000000000001"/>
<circle cx="395.35" cy="85.24" r="0.69" fill="#33a0a0" fill-opacity="0.8800000000000001"/>
<circle cx="397.28" cy="82.98" r="0.69" fill="#33a0a0" fill-opacity="0.8800000000000001"/>
<circle cx="396.40" cy="84.09" r="0.69" fill="#33a0a0" fill-opacity="0.8800000000000001"/>
<circle cx="393.72" cy="84.24" r="0.69" fill="#33a0a0" fill-opacity="0.8800000000000001"/>
<circle cx="396.97" cy="83.08" r="0.69" fill="#33a0a0" fill-opacity="0.8800000000000001"/>
<circle cx="396.17" cy="84.56" r="0.69" fill="#33a0a0" fill-opacity="0.8800000000000001"/>
<circle cx="396.88" cy="81.41" r="0.69" fill="#33a0a0" fill-opacity="0.8800000000000001"/>
<circle cx="395.42" cy="85.52" r="0.69" fill="#33a0a0" fill-opacity="0.8800000000000001"/>
<rect x="393.60" y="82.50" width="4.40" height="3.50" fill="none" stroke="#fff" stroke-width="0.35" />
<line x1="393.60" y1="84.20" x2="398.00" y2="84.20" stroke="#555" stroke-width="0.6" />
<circle cx="404.55" cy="83.19" r="0.6325" fill="#3898a8" fill-opacity="0.77"/>
<circle cx="400.79" cy="82.59" r="0.6325" fill="#3898a8" fill-opacity="0.77"/>
<circle cx="400.90" cy="82.53" r="0.6325" fill="#3898a8" fill-opacity="0.77"/>
<circle cx="401.14" cy="82.15" r="0.6325" fill="#3898a8" fill-opacity="0.77"/>
<circle cx="402.60" cy="82.74" r="0.6325" fill="#3898a8" fill-opacity="0.77"/>
<circle cx="404.64" cy="84.07" r="0.6325" fill="#3898a8" fill-opacity="0.77"/>
<circle cx="402.29" cy="83.76" r="0.6325" fill="#3898a8" fill-opacity="0.77"/>
<circle cx="401.98" cy="80.06" r="0.6325" fill="#3898a8" fill-opacity="0.77"/>
<circle cx="402.23" cy="85.60" r="0.6325" fill="#3898a8" fill-opacity="0.77"/>
<circle cx="403.28" cy="84.05" r="0.6325" fill="#3898a8" fill-opacity="0.77"/>
<circle cx="403.10" cy="83.00" r="0.6325" fill="#3898a8" fill-opacity="0.77"/>
<circle cx="404.03" cy="84.77" r="0.6325" fill="#3898a8" fill-opacity="0.77"/>
<circle cx="401.37" cy="80.76" r="0.6325" fill="#3898a8" fill-opacity="0.77"/>
<circle cx="402.54" cy="84.38" r="0.6325" fill="#3898a8" fill-opacity="0.77"/>
<rect x="400.10" y="81.20" width="4.80" height="4.00" fill="none" stroke="#888" stroke-width="0.45" />
<line x1="400.10" y1="83.20" x2="404.90" y2="83.20" stroke="#555" stroke-width="0.6" />
<line x1="402.50" y1="74.60" x2="402.50" y2="81.20" stroke="#888" stroke-width="0.4" />
<line x1="402.50" y1="85.20" x2="402.50" y2="88.00" stroke="#888" stroke-width="0.4" />
<circle cx="410.97" cy="84.73" r="0.6325" fill="#8aa0a8" fill-opacity="0.77"/>
<circle cx="409.29" cy="84.37" r="0.6325" fill="#8aa0a8" fill-opacity="0.77"/>
<circle cx="411.16" cy="85.91" r="0.6325" fill="#8aa0a8" fill-opacity="0.77"/>
<circle cx="409.07" cy="85.36" r="0.6325" fill="#8aa0a8" fill-opacity="0.77"/>
<circle cx="407.88" cy="85.48" r="0.6325" fill="#8aa0a8" fill-opacity="0.77"/>
<circle cx="411.41" cy="85.56" r="0.6325" fill="#8aa0a8" fill-opacity="0.77"/>
<circle cx="407.89" cy="83.69" r="0.6325" fill="#8aa0a8" fill-opacity="0.77"/>
<circle cx="409.10" cy="83.62" r="0.6325" fill="#8aa0a8" fill-opacity="0.77"/>
<circle cx="409.53" cy="85.15" r="0.6325" fill="#8aa0a8" fill-opacity="0.77"/>
<circle cx="408.55" cy="84.55" r="0.6325" fill="#8aa0a8" fill-opacity="0.77"/>
<circle cx="408.33" cy="82.89" r="0.6325" fill="#8aa0a8" fill-opacity="0.77"/>
<circle cx="411.75" cy="84.80" r="0.6325" fill="#8aa0a8" fill-opacity="0.77"/>
<circle cx="407.83" cy="83.57" r="0.6325" fill="#8aa0a8" fill-opacity="0.77"/>
<circle cx="411.33" cy="83.54" r="0.6325" fill="#8aa0a8" fill-opacity="0.77"/>
<circle cx="420.11" cy="82.19" r="0.69" fill="#3a9ab2" fill-opacity="0.935"/>
<circle cx="419.22" cy="84.25" r="0.69" fill="#3a9ab2" fill-opacity="0.935"/>
<circle cx="421.04" cy="83.50" r="0.69" fill="#3a9ab2" fill-opacity="0.935"/>
<circle cx="420.60" cy="84.12" r="0.69" fill="#3a9ab2" fill-opacity="0.935"/>
<circle cx="419.12" cy="86.15" r="0.69" fill="#3a9ab2" fill-opacity="0.935"/>
<circle cx="421.14" cy="82.68" r="0.69" fill="#3a9ab2" fill-opacity="0.935"/>
<circle cx="420.54" cy="85.19" r="0.69" fill="#3a9ab2" fill-opacity="0.935"/>
<circle cx="419.46" cy="84.17" r="0.69" fill="#3a9ab2" fill-opacity="0.935"/>
<circle cx="418.45" cy="84.24" r="0.69" fill="#3a9ab2" fill-opacity="0.935"/>
<circle cx="420.37" cy="80.02" r="0.69" fill="#3a9ab2" fill-opacity="0.935"/>
<circle cx="418.17" cy="86.51" r="0.69" fill="#3a9ab2" fill-opacity="0.935"/>
<circle cx="417.63" cy="83.90" r="0.69" fill="#3a9ab2" fill-opacity="0.935"/>
<circle cx="419.55" cy="84.48" r="0.69" fill="#3a9ab2" fill-opacity="0.935"/>
<circle cx="418.92" cy="83.54" r="0.69" fill="#3a9ab2" fill-opacity="0.935"/>
<circle cx="419.00" cy="79.42" r="0.69" fill="#3a9ab2" fill-opacity="0.935"/>
<circle cx="417.76" cy="81.49" r="0.69" fill="#3a9ab2" fill-opacity="0.935"/>
<circle cx="419.84" cy="87.67" r="0.69" fill="#3a9ab2" fill-opacity="0.935"/>
<circle cx="420.27" cy="80.05" r="0.69" fill="#3a9ab2" fill-opacity="0.935"/>
<circle cx="421.08" cy="82.37" r="0.69" fill="#3a9ab2" fill-opacity="0.935"/>
<circle cx="421.40" cy="83.00" r="0.69" fill="#3a9ab2" fill-opacity="0.935"/>
<circle cx="417.40" cy="82.48" r="0.69" fill="#3a9ab2" fill-opacity="0.935"/>
<circle cx="418.90" cy="84.20" r="0.69" fill="#3a9ab2" fill-opacity="0.935"/>
<circle cx="428.82" cy="84.66" r="0.69" fill="#3490c6" fill-opacity="0.935"/>
<circle cx="430.74" cy="86.20" r="0.69" fill="#3490c6" fill-opacity="0.935"/>
<circle cx="430.02" cy="83.47" r="0.69" fill="#3490c6" fill-opacity="0.935"/>
<circle cx="429.53" cy="85.07" r="0.69" fill="#3490c6" fill-opacity="0.935"/>
<circle cx="428.84" cy="86.37" r="0.69" fill="#3490c6" fill-opacity="0.935"/>
<circle cx="428.52" cy="85.42" r="0.69" fill="#3490c6" fill-opacity="0.935"/>
<circle cx="429.59" cy="89.00" r="0.69" fill="#3490c6" fill-opacity="0.935"/>
<circle cx="429.91" cy="79.90" r="0.69" fill="#3490c6" fill-opacity="0.935"/>
<circle cx="429.62" cy="81.09" r="0.69" fill="#3490c6" fill-opacity="0.935"/>
<circle cx="428.88" cy="86.26" r="0.69" fill="#3490c6" fill-opacity="0.935"/>
<circle cx="431.02" cy="82.81" r="0.69" fill="#3490c6" fill-opacity="0.935"/>
<circle cx="430.41" cy="88.21" r="0.69" fill="#3490c6" fill-opacity="0.935"/>
<circle cx="427.63" cy="85.72" r="0.69" fill="#3490c6" fill-opacity="0.935"/>
<circle cx="430.46" cy="83.79" r="0.69" fill="#3490c6" fill-opacity="0.935"/>
<circle cx="428.58" cy="82.98" r="0.69" fill="#3490c6" fill-opacity="0.935"/>
<circle cx="430.62" cy="83.55" r="0.69" fill="#3490c6" fill-opacity="0.935"/>
<circle cx="428.73" cy="84.62" r="0.69" fill="#3490c6" fill-opacity="0.935"/>
<circle cx="428.83" cy="83.39" r="0.69" fill="#3490c6" fill-opacity="0.935"/>
<circle cx="427.33" cy="83.83" r="0.69" fill="#3490c6" fill-opacity="0.935"/>
<circle cx="429.19" cy="87.63" r="0.69" fill="#3490c6" fill-opacity="0.935"/>
<circle cx="429.26" cy="84.65" r="0.69" fill="#3490c6" fill-opacity="0.935"/>
<circle cx="431.79" cy="83.75" r="0.69" fill="#3490c6" fill-opacity="0.935"/>
<circle cx="430.37" cy="87.39" r="0.69" fill="#3490c6" fill-opacity="0.935"/>
<circle cx="430.19" cy="83.99" r="0.69" fill="#3490c6" fill-opacity="0.935"/>
<circle cx="429.53" cy="84.05" r="0.69" fill="#3490c6" fill-opacity="0.935"/>
<line x1="429.60" y1="89.00" x2="429.60" y2="92.00" stroke="#3490c6" stroke-width="0.6" />
<line x1="434.60" y1="84.60" x2="439.20" y2="84.60" stroke="#555" stroke-width="0.7" />
<line x1="445.40" y1="85.20" x2="449.00" y2="85.20" stroke="#444" stroke-width="1.1" />
<rect x="455.10" y="81.20" width="4.60" height="6.00" fill="none" stroke="#999" stroke-width="0.45" />
<line x1="455.10" y1="84.50" x2="459.70" y2="84.50" stroke="#555" stroke-width="0.6" />
<line x1="457.40" y1="79.00" x2="457.40" y2="81.20" stroke="#999" stroke-width="0.4" />
<line x1="457.40" y1="87.20" x2="457.40" y2="88.50" stroke="#999" stroke-width="0.4" />
<line x1="455.10" y1="83.00" x2="459.70" y2="83.00" stroke="#aaa" stroke-width="0.3" />
<line x1="455.10" y1="86.00" x2="459.70" y2="86.00" stroke="#aaa" stroke-width="0.3" />
<line x1="465.90" y1="84.70" x2="469.50" y2="84.70" stroke="#555" stroke-width="0.7" />
<line x1="476.00" y1="89.30" x2="479.60" y2="89.30" stroke="#555" stroke-width="0.7" />
<line x1="486.40" y1="83.50" x2="490.00" y2="83.50" stroke="#555" stroke-width="0.7" />
<line x1="496.80" y1="84.60" x2="500.40" y2="84.60" stroke="#555" stroke-width="0.7" />
<line x1="503.80" y1="84.60" x2="507.40" y2="84.60" stroke="#555" stroke-width="0.7" />
<text font-size="4.55" fill="#1a1a1a" stroke="#1a1a1a" stroke-width="0.12" font-weight="bold" text-anchor="end" transform="translate(189.95,97.5) rotate(-90)">Normal</text>
<text font-size="4.55" fill="#1a1a1a" stroke="#1a1a1a" stroke-width="0.12" font-weight="bold" text-anchor="end" transform="translate(208.15,97.5) rotate(-90)">LCC</text>
<text font-size="4.55" fill="#1a1a1a" stroke="#1a1a1a" stroke-width="0.12" font-weight="bold" text-anchor="end" transform="translate(214.85,97.5) rotate(-90)">LU</text>
<text font-size="4.55" fill="#1a1a1a" stroke="#1a1a1a" stroke-width="0.12" font-weight="bold" text-anchor="end" transform="translate(221.05,97.5) rotate(-90)">LU-Ad</text>
<text font-size="4.55" fill="#1a1a1a" stroke="#1a1a1a" stroke-width="0.12" font-weight="bold" text-anchor="end" transform="translate(227.55,97.5) rotate(-90)">LU-SCC</text>
<text font-size="4.55" fill="#1a1a1a" stroke="#1a1a1a" stroke-width="0.12" font-weight="bold" text-anchor="end" transform="translate(234.15,97.5) rotate(-90)">NSCLC</text>
<text font-size="4.55" fill="#1a1a1a" stroke="#1a1a1a" stroke-width="0.12" font-weight="bold" text-anchor="end" transform="translate(240.45,97.5) rotate(-90)">SCLC</text>
<text font-size="4.55" fill="#1a1a1a" stroke="#1a1a1a" stroke-width="0.12" font-weight="bold" text-anchor="end" transform="translate(251.05,97.5) rotate(-90)">OV</text>
<text font-size="4.55" fill="#1a1a1a" stroke="#1a1a1a" stroke-width="0.12" font-weight="bold" text-anchor="end" transform="translate(257.65,97.5) rotate(-90)">OV-CC</text>
<text font-size="4.55" fill="#1a1a1a" stroke="#1a1a1a" stroke-width="0.12" font-weight="bold" text-anchor="end" transform="translate(264.05,97.5) rotate(-90)">OV-END</text>
<text font-size="4.55" fill="#1a1a1a" stroke="#1a1a1a" stroke-width="0.12" font-weight="bold" text-anchor="end" transform="translate(270.55,97.5) rotate(-90)">OV-MMMT</text>
<text font-size="4.55" fill="#1a1a1a" stroke="#1a1a1a" stroke-width="0.12" font-weight="bold" text-anchor="end" transform="translate(277.25,97.5) rotate(-90)">OV-S</text>
<text font-size="4.55" fill="#1a1a1a" stroke="#1a1a1a" stroke-width="0.12" font-weight="bold" text-anchor="end" transform="translate(286.95,97.5) rotate(-90)">CMS1</text>
<text font-size="4.55" fill="#1a1a1a" stroke="#1a1a1a" stroke-width="0.12" font-weight="bold" text-anchor="end" transform="translate(293.45,97.5) rotate(-90)">CMS2</text>
<text font-size="4.55" fill="#1a1a1a" stroke="#1a1a1a" stroke-width="0.12" font-weight="bold" text-anchor="end" transform="translate(300.35,97.5) rotate(-90)">CMS3</text>
<text font-size="4.55" fill="#1a1a1a" stroke="#1a1a1a" stroke-width="0.12" font-weight="bold" text-anchor="end" transform="translate(306.75,97.5) rotate(-90)">CMS4</text>
<text font-size="4.55" fill="#1a1a1a" stroke="#1a1a1a" stroke-width="0.12" font-weight="bold" text-anchor="end" transform="translate(313.05,97.5) rotate(-90)">CR</text>
<text font-size="4.55" fill="#1a1a1a" stroke="#1a1a1a" stroke-width="0.12" font-weight="bold" text-anchor="end" transform="translate(323.35,97.5) rotate(-90)">BL</text>
<text font-size="4.55" fill="#1a1a1a" stroke="#1a1a1a" stroke-width="0.12" font-weight="bold" text-anchor="end" transform="translate(334.55,97.5) rotate(-90)">ACC-NET</text>
<text font-size="4.55" fill="#1a1a1a" stroke="#1a1a1a" stroke-width="0.12" font-weight="bold" text-anchor="end" transform="translate(340.65,97.5) rotate(-90)">PA</text>
<text font-size="4.55" fill="#1a1a1a" stroke="#1a1a1a" stroke-width="0.12" font-weight="bold" text-anchor="end" transform="translate(347.75,97.5) rotate(-90)">PAC/PDAC</text>
<text font-size="4.55" fill="#1a1a1a" stroke="#1a1a1a" stroke-width="0.12" font-weight="bold" text-anchor="end" transform="translate(357.65,97.5) rotate(-90)">AML</text>
<text font-size="4.55" fill="#1a1a1a" stroke="#1a1a1a" stroke-width="0.12" font-weight="bold" text-anchor="end" transform="translate(367.45,97.5) rotate(-90)">MEL</text>
<text font-size="4.55" fill="#1a1a1a" stroke="#1a1a1a" stroke-width="0.12" font-weight="bold" text-anchor="end" transform="translate(374.35,97.5) rotate(-90)" textLength="10.5" lengthAdjust="spacingAndGlyphs">Rhab</text>
<text font-size="4.55" fill="#1a1a1a" stroke="#1a1a1a" stroke-width="0.12" font-weight="bold" text-anchor="end" transform="translate(385.25,97.5) rotate(-90)" textLength="28.0" lengthAdjust="spacingAndGlyphs">BR-Basal Like</text>
<text font-size="4.55" fill="#1a1a1a" stroke="#1a1a1a" stroke-width="0.12" font-weight="bold" text-anchor="end" transform="translate(391.25,97.5) rotate(-90)">BR-HER2</text>
<text font-size="4.55" fill="#1a1a1a" stroke="#1a1a1a" stroke-width="0.12" font-weight="bold" text-anchor="end" transform="translate(397.55,97.5) rotate(-90)">BR-LumA</text>
<text font-size="4.55" fill="#1a1a1a" stroke="#1a1a1a" stroke-width="0.12" font-weight="bold" text-anchor="end" transform="translate(403.75,97.5) rotate(-90)">BR-LumB</text>
<text font-size="4.55" fill="#1a1a1a" stroke="#1a1a1a" stroke-width="0.12" font-weight="bold" text-anchor="end" transform="translate(410.35,97.5) rotate(-90)" textLength="30.2" lengthAdjust="spacingAndGlyphs">BR-Normal like</text>
<text font-size="4.55" fill="#1a1a1a" stroke="#1a1a1a" stroke-width="0.12" font-weight="bold" text-anchor="end" transform="translate(420.75,97.5) rotate(-90)">EM</text>
<text font-size="4.55" fill="#1a1a1a" stroke="#1a1a1a" stroke-width="0.12" font-weight="bold" text-anchor="end" transform="translate(431.65,97.5) rotate(-90)">GA</text>
<text font-size="4.55" fill="#1a1a1a" stroke="#1a1a1a" stroke-width="0.12" font-weight="bold" text-anchor="end" transform="translate(438.35,97.5) rotate(-90)">GIST</text>
<text font-size="4.55" fill="#1a1a1a" stroke="#1a1a1a" stroke-width="0.12" font-weight="bold" text-anchor="end" transform="translate(448.45,97.5) rotate(-90)">LYM</text>
<text font-size="4.55" fill="#1a1a1a" stroke="#1a1a1a" stroke-width="0.12" font-weight="bold" text-anchor="end" transform="translate(458.85,97.5) rotate(-90)">LIV</text>
<text font-size="4.55" fill="#1a1a1a" stroke="#1a1a1a" stroke-width="0.12" font-weight="bold" text-anchor="end" transform="translate(469.35,97.5) rotate(-90)">VF</text>
<text font-size="4.55" fill="#1a1a1a" stroke="#1a1a1a" stroke-width="0.12" font-weight="bold" text-anchor="end" transform="translate(479.45,97.5) rotate(-90)">PR</text>
<text font-size="4.55" fill="#1a1a1a" stroke="#1a1a1a" stroke-width="0.12" font-weight="bold" text-anchor="end" transform="translate(490.05,97.5) rotate(-90)">GB</text>
<text font-size="4.55" fill="#1a1a1a" stroke="#1a1a1a" stroke-width="0.12" font-weight="bold" text-anchor="end" transform="translate(500.45,97.5) rotate(-90)">HN</text>
<text font-size="4.55" fill="#1a1a1a" stroke="#1a1a1a" stroke-width="0.12" font-weight="bold" text-anchor="end" transform="translate(507.25,97.5) rotate(-90)" textLength="20.0" lengthAdjust="spacingAndGlyphs">Laryngeal</text>
<text x="214.60" y="59.20" font-size="4.5" fill="#333" font-weight="normal" text-anchor="start" >LCNEC</text>
<text x="255.20" y="56.80" font-size="4.5" fill="#333" font-weight="normal" text-anchor="start" >SCCOV</text>
<defs><marker id="ah" markerWidth="4" markerHeight="4" refX="3.2" refY="2" orient="auto" markerUnits="userSpaceOnUse"><path d="M0,0.2 L4,2 L0,3.8 z" fill="#333"/></marker></defs>
<line x1="258.70" y1="50.30" x2="250.40" y2="44.00" stroke="#333" stroke-width="0.65" marker-end="url(#ah)"/>
<line x1="258.70" y1="59.00" x2="252.00" y2="65.60" stroke="#333" stroke-width="0.65" marker-end="url(#ah)"/>
<line x1="188.00" y1="61.30" x2="188.00" y2="72.80" stroke="#333" stroke-width="0.65" marker-end="url(#ah)"/>
<line x1="194.00" y1="72.40" x2="190.60" y2="78.20" stroke="#333" stroke-width="0.65" marker-end="url(#ah)"/>
<text font-size="4.1" fill="#a0a0a0" text-anchor="start" transform="translate(189.3,58) rotate(-90)" textLength="27.2" lengthAdjust="spacingAndGlyphs">Small intestine</text>
<text font-size="4.1" fill="#a0a0a0" text-anchor="start" transform="translate(196.0,68) rotate(-90)" textLength="28" lengthAdjust="spacingAndGlyphs">Large intestine</text>
<text x="2.80" y="131.00" font-size="13" fill="#000" font-weight="bold" text-anchor="start" >C</text>
<rect x="38.50" y="126.50" width="93.90" height="15.00" fill="#d9d9d9" stroke="none" stroke-width="0.6" />
<text x="82.30" y="132.90" font-size="6.3" fill="#111" font-weight="bold" text-anchor="middle" stroke="#111" stroke-width="0.15">SEZ6</text>
<text x="82.0" y="139.4" font-size="6.3" fill="#111" stroke="#111" stroke-width="0.15" font-weight="bold" text-anchor="middle" textLength="35.5" lengthAdjust="spacingAndGlyphs">(<tspan font-style="italic">P</tspan> = 0.0053)</text>
<text x="36.70" y="147.95" font-size="5.3" fill="#333" font-weight="normal" text-anchor="end" stroke="#333" stroke-width="0.1">10.0</text>
<line x1="37.00" y1="146.10" x2="38.50" y2="146.10" stroke="#777" stroke-width="0.4" />
<text x="36.70" y="173.35" font-size="5.3" fill="#333" font-weight="normal" text-anchor="end" stroke="#333" stroke-width="0.1">7.5</text>
<line x1="37.00" y1="171.50" x2="38.50" y2="171.50" stroke="#777" stroke-width="0.4" />
<text x="36.70" y="198.45" font-size="5.3" fill="#333" font-weight="normal" text-anchor="end" stroke="#333" stroke-width="0.1">5.0</text>
<line x1="37.00" y1="196.60" x2="38.50" y2="196.60" stroke="#777" stroke-width="0.4" />
<text x="36.70" y="224.25" font-size="5.3" fill="#333" font-weight="normal" text-anchor="end" stroke="#333" stroke-width="0.1">2.5</text>
<line x1="37.00" y1="222.40" x2="38.50" y2="222.40" stroke="#777" stroke-width="0.4" />
<text x="36.70" y="249.45" font-size="5.3" fill="#333" font-weight="normal" text-anchor="end" stroke="#333" stroke-width="0.1">0.0</text>
<line x1="37.00" y1="247.60" x2="38.50" y2="247.60" stroke="#777" stroke-width="0.4" />
<text font-size="7.6" fill="#111" stroke="#111" stroke-width="0.15" font-weight="bold" text-anchor="middle" transform="translate(22.2,197.5) rotate(-90)" textLength="63.5" lengthAdjust="spacingAndGlyphs">Expression (log<tspan font-size="5.4" dy="1.6">2</tspan><tspan dy="-1.6">)</tspan></text>
<line x1="64.50" y1="184.00" x2="64.50" y2="186.30" stroke="#444" stroke-width="0.65" />
<line x1="64.50" y1="208.40" x2="64.50" y2="221.20" stroke="#444" stroke-width="0.65" />
<rect x="48.00" y="186.30" width="32.30" height="22.10" fill="none" stroke="#444" stroke-width="0.6" />
<line x1="48.00" y1="194.40" x2="80.30" y2="194.40" stroke="#3a3a3a" stroke-width="0.9" />
<circle cx="61" cy="183.3" r="0.95" fill="#7fd0c0" fill-opacity="0.6" stroke="#46b0a0" stroke-width="0.35"/>
<circle cx="56" cy="187.5" r="0.95" fill="#7fd0c0" fill-opacity="0.6" stroke="#46b0a0" stroke-width="0.35"/>
<circle cx="69.5" cy="194.5" r="0.95" fill="#7fd0c0" fill-opacity="0.6" stroke="#46b0a0" stroke-width="0.35"/>
<circle cx="59.5" cy="204.5" r="0.95" fill="#7fd0c0" fill-opacity="0.6" stroke="#46b0a0" stroke-width="0.35"/>
<circle cx="67.5" cy="211" r="0.95" fill="#7fd0c0" fill-opacity="0.6" stroke="#46b0a0" stroke-width="0.35"/>
<circle cx="61.5" cy="221" r="0.95" fill="#7fd0c0" fill-opacity="0.6" stroke="#46b0a0" stroke-width="0.35"/>
<circle cx="63" cy="199" r="0.95" fill="#7fd0c0" fill-opacity="0.6" stroke="#46b0a0" stroke-width="0.35"/>
<line x1="108.20" y1="146.00" x2="108.20" y2="164.20" stroke="#444" stroke-width="0.65" />
<line x1="108.20" y1="181.60" x2="108.20" y2="204.70" stroke="#444" stroke-width="0.65" />
<rect x="91.30" y="164.20" width="32.60" height="17.40" fill="none" stroke="#444" stroke-width="0.6" />
<line x1="91.30" y1="171.10" x2="123.90" y2="171.10" stroke="#3a3a3a" stroke-width="0.9" />
<circle cx="114.79" cy="161.10" r="1.0" fill="#f06868" fill-opacity="0.55" stroke="#dc4444" stroke-width="0.3" stroke-opacity="0.85"/>
<circle cx="107.45" cy="174.71" r="1.0" fill="#f06868" fill-opacity="0.55" stroke="#dc4444" stroke-width="0.3" stroke-opacity="0.85"/>
<circle cx="102.95" cy="160.20" r="1.0" fill="#f06868" fill-opacity="0.55" stroke="#dc4444" stroke-width="0.3" stroke-opacity="0.85"/>
<circle cx="108.19" cy="170.94" r="1.0" fill="#f06868" fill-opacity="0.55" stroke="#dc4444" stroke-width="0.3" stroke-opacity="0.85"/>
<circle cx="101.51" cy="161.17" r="1.0" fill="#f06868" fill-opacity="0.55" stroke="#dc4444" stroke-width="0.3" stroke-opacity="0.85"/>
<circle cx="104.85" cy="160.51" r="1.0" fill="#f06868" fill-opacity="0.55" stroke="#dc4444" stroke-width="0.3" stroke-opacity="0.85"/>
<circle cx="111.10" cy="184.54" r="1.0" fill="#f06868" fill-opacity="0.55" stroke="#dc4444" stroke-width="0.3" stroke-opacity="0.85"/>
<circle cx="100.67" cy="179.85" r="1.0" fill="#f06868" fill-opacity="0.55" stroke="#dc4444" stroke-width="0.3" stroke-opacity="0.85"/>
<circle cx="110.46" cy="193.35" r="1.0" fill="#f06868" fill-opacity="0.55" stroke="#dc4444" stroke-width="0.3" stroke-opacity="0.85"/>
<circle cx="109.85" cy="169.05" r="1.0" fill="#f06868" fill-opacity="0.55" stroke="#dc4444" stroke-width="0.3" stroke-opacity="0.85"/>
<circle cx="108.45" cy="172.31" r="1.0" fill="#f06868" fill-opacity="0.55" stroke="#dc4444" stroke-width="0.3" stroke-opacity="0.85"/>
<circle cx="100.95" cy="172.74" r="1.0" fill="#f06868" fill-opacity="0.55" stroke="#dc4444" stroke-width="0.3" stroke-opacity="0.85"/>
<circle cx="100.48" cy="173.82" r="1.0" fill="#f06868" fill-opacity="0.55" stroke="#dc4444" stroke-width="0.3" stroke-opacity="0.85"/>
<circle cx="107.42" cy="177.39" r="1.0" fill="#f06868" fill-opacity="0.55" stroke="#dc4444" stroke-width="0.3" stroke-opacity="0.85"/>
<circle cx="108.31" cy="156.29" r="1.0" fill="#f06868" fill-opacity="0.55" stroke="#dc4444" stroke-width="0.3" stroke-opacity="0.85"/>
<circle cx="110.24" cy="177.46" r="1.0" fill="#f06868" fill-opacity="0.55" stroke="#dc4444" stroke-width="0.3" stroke-opacity="0.85"/>
<circle cx="107.32" cy="158.97" r="1.0" fill="#f06868" fill-opacity="0.55" stroke="#dc4444" stroke-width="0.3" stroke-opacity="0.85"/>
<circle cx="104.45" cy="171.52" r="1.0" fill="#f06868" fill-opacity="0.55" stroke="#dc4444" stroke-width="0.3" stroke-opacity="0.85"/>
<circle cx="113.44" cy="199.55" r="1.0" fill="#f06868" fill-opacity="0.55" stroke="#dc4444" stroke-width="0.3" stroke-opacity="0.85"/>
<circle cx="111.32" cy="171.09" r="1.0" fill="#f06868" fill-opacity="0.55" stroke="#dc4444" stroke-width="0.3" stroke-opacity="0.85"/>
<circle cx="104.62" cy="169.05" r="1.0" fill="#f06868" fill-opacity="0.55" stroke="#dc4444" stroke-width="0.3" stroke-opacity="0.85"/>
<circle cx="101.12" cy="177.13" r="1.0" fill="#f06868" fill-opacity="0.55" stroke="#dc4444" stroke-width="0.3" stroke-opacity="0.85"/>
<circle cx="113.55" cy="172.38" r="1.0" fill="#f06868" fill-opacity="0.55" stroke="#dc4444" stroke-width="0.3" stroke-opacity="0.85"/>
<circle cx="106.18" cy="162.95" r="1.0" fill="#f06868" fill-opacity="0.55" stroke="#dc4444" stroke-width="0.3" stroke-opacity="0.85"/>
<circle cx="100.01" cy="187.41" r="1.0" fill="#f06868" fill-opacity="0.55" stroke="#dc4444" stroke-width="0.3" stroke-opacity="0.85"/>
<circle cx="103.36" cy="167.21" r="1.0" fill="#f06868" fill-opacity="0.55" stroke="#dc4444" stroke-width="0.3" stroke-opacity="0.85"/>
<circle cx="115.69" cy="179.60" r="1.0" fill="#f06868" fill-opacity="0.55" stroke="#dc4444" stroke-width="0.3" stroke-opacity="0.85"/>
<circle cx="106.36" cy="166.38" r="1.0" fill="#f06868" fill-opacity="0.55" stroke="#dc4444" stroke-width="0.3" stroke-opacity="0.85"/>
<circle cx="112.46" cy="182.24" r="1.0" fill="#f06868" fill-opacity="0.55" stroke="#dc4444" stroke-width="0.3" stroke-opacity="0.85"/>
<circle cx="104.32" cy="176.81" r="1.0" fill="#f06868" fill-opacity="0.55" stroke="#dc4444" stroke-width="0.3" stroke-opacity="0.85"/>
<circle cx="115.43" cy="178.03" r="1.0" fill="#f06868" fill-opacity="0.55" stroke="#dc4444" stroke-width="0.3" stroke-opacity="0.85"/>
<circle cx="112.13" cy="175.48" r="1.0" fill="#f06868" fill-opacity="0.55" stroke="#dc4444" stroke-width="0.3" stroke-opacity="0.85"/>
<circle cx="101.62" cy="176.22" r="1.0" fill="#f06868" fill-opacity="0.55" stroke="#dc4444" stroke-width="0.3" stroke-opacity="0.85"/>
<circle cx="100.96" cy="175.82" r="1.0" fill="#f06868" fill-opacity="0.55" stroke="#dc4444" stroke-width="0.3" stroke-opacity="0.85"/>
<circle cx="108.95" cy="173.05" r="1.0" fill="#f06868" fill-opacity="0.55" stroke="#dc4444" stroke-width="0.3" stroke-opacity="0.85"/>
<circle cx="107.16" cy="166.41" r="1.0" fill="#f06868" fill-opacity="0.55" stroke="#dc4444" stroke-width="0.3" stroke-opacity="0.85"/>
<circle cx="102.10" cy="176.52" r="1.0" fill="#f06868" fill-opacity="0.55" stroke="#dc4444" stroke-width="0.3" stroke-opacity="0.85"/>
<circle cx="110.30" cy="184.35" r="1.0" fill="#f06868" fill-opacity="0.55" stroke="#dc4444" stroke-width="0.3" stroke-opacity="0.85"/>
<circle cx="103.41" cy="178.11" r="1.0" fill="#f06868" fill-opacity="0.55" stroke="#dc4444" stroke-width="0.3" stroke-opacity="0.85"/>
<circle cx="104.32" cy="177.44" r="1.0" fill="#f06868" fill-opacity="0.55" stroke="#dc4444" stroke-width="0.3" stroke-opacity="0.85"/>
<circle cx="104.87" cy="186.58" r="1.0" fill="#f06868" fill-opacity="0.55" stroke="#dc4444" stroke-width="0.3" stroke-opacity="0.85"/>
<circle cx="114.16" cy="168.72" r="1.0" fill="#f06868" fill-opacity="0.55" stroke="#dc4444" stroke-width="0.3" stroke-opacity="0.85"/>
<circle cx="113.67" cy="173.58" r="1.0" fill="#f06868" fill-opacity="0.55" stroke="#dc4444" stroke-width="0.3" stroke-opacity="0.85"/>
<circle cx="110.27" cy="179.75" r="1.0" fill="#f06868" fill-opacity="0.55" stroke="#dc4444" stroke-width="0.3" stroke-opacity="0.85"/>
<circle cx="103.41" cy="192.18" r="1.0" fill="#f06868" fill-opacity="0.55" stroke="#dc4444" stroke-width="0.3" stroke-opacity="0.85"/>
<circle cx="104.13" cy="186.59" r="1.0" fill="#f06868" fill-opacity="0.55" stroke="#dc4444" stroke-width="0.3" stroke-opacity="0.85"/>
<circle cx="104.74" cy="172.58" r="1.0" fill="#f06868" fill-opacity="0.55" stroke="#dc4444" stroke-width="0.3" stroke-opacity="0.85"/>
<circle cx="101.17" cy="163.98" r="1.0" fill="#f06868" fill-opacity="0.55" stroke="#dc4444" stroke-width="0.3" stroke-opacity="0.85"/>
<circle cx="103.89" cy="180.98" r="1.0" fill="#f06868" fill-opacity="0.55" stroke="#dc4444" stroke-width="0.3" stroke-opacity="0.85"/>
<circle cx="109.62" cy="177.53" r="1.0" fill="#f06868" fill-opacity="0.55" stroke="#dc4444" stroke-width="0.3" stroke-opacity="0.85"/>
<circle cx="115.35" cy="165.03" r="1.0" fill="#f06868" fill-opacity="0.55" stroke="#dc4444" stroke-width="0.3" stroke-opacity="0.85"/>
<circle cx="107.74" cy="178.24" r="1.0" fill="#f06868" fill-opacity="0.55" stroke="#dc4444" stroke-width="0.3" stroke-opacity="0.85"/>
<circle cx="102.93" cy="156.28" r="1.0" fill="#f06868" fill-opacity="0.55" stroke="#dc4444" stroke-width="0.3" stroke-opacity="0.85"/>
<circle cx="102.47" cy="163.80" r="1.0" fill="#f06868" fill-opacity="0.55" stroke="#dc4444" stroke-width="0.3" stroke-opacity="0.85"/>
<circle cx="103.99" cy="184.66" r="1.0" fill="#f06868" fill-opacity="0.55" stroke="#dc4444" stroke-width="0.3" stroke-opacity="0.85"/>
<circle cx="103.04" cy="162.96" r="1.0" fill="#f06868" fill-opacity="0.55" stroke="#dc4444" stroke-width="0.3" stroke-opacity="0.85"/>
<circle cx="103.15" cy="170.16" r="1.0" fill="#f06868" fill-opacity="0.55" stroke="#dc4444" stroke-width="0.3" stroke-opacity="0.85"/>
<circle cx="115.20" cy="151.36" r="1.0" fill="#f06868" fill-opacity="0.55" stroke="#dc4444" stroke-width="0.3" stroke-opacity="0.85"/>
<circle cx="106.74" cy="180.04" r="1.0" fill="#f06868" fill-opacity="0.55" stroke="#dc4444" stroke-width="0.3" stroke-opacity="0.85"/>
<circle cx="101.66" cy="163.70" r="1.0" fill="#f06868" fill-opacity="0.55" stroke="#dc4444" stroke-width="0.3" stroke-opacity="0.85"/>
<circle cx="103.81" cy="192.66" r="1.0" fill="#f06868" fill-opacity="0.55" stroke="#dc4444" stroke-width="0.3" stroke-opacity="0.85"/>
<circle cx="111.27" cy="176.75" r="1.0" fill="#f06868" fill-opacity="0.55" stroke="#dc4444" stroke-width="0.3" stroke-opacity="0.85"/>
<circle cx="109.54" cy="170.81" r="1.0" fill="#f06868" fill-opacity="0.55" stroke="#dc4444" stroke-width="0.3" stroke-opacity="0.85"/>
<circle cx="104.69" cy="187.32" r="1.0" fill="#f06868" fill-opacity="0.55" stroke="#dc4444" stroke-width="0.3" stroke-opacity="0.85"/>
<circle cx="101.10" cy="177.63" r="1.0" fill="#f06868" fill-opacity="0.55" stroke="#dc4444" stroke-width="0.3" stroke-opacity="0.85"/>
<circle cx="103.65" cy="183.61" r="1.0" fill="#f06868" fill-opacity="0.55" stroke="#dc4444" stroke-width="0.3" stroke-opacity="0.85"/>
<circle cx="109.83" cy="156.02" r="1.0" fill="#f06868" fill-opacity="0.55" stroke="#dc4444" stroke-width="0.3" stroke-opacity="0.85"/>
<circle cx="104.48" cy="165.44" r="1.0" fill="#f06868" fill-opacity="0.55" stroke="#dc4444" stroke-width="0.3" stroke-opacity="0.85"/>
<circle cx="103.00" cy="219.50" r="1.0" fill="#f06868" fill-opacity="0.55" stroke="#dc4444" stroke-width="0.3" stroke-opacity="0.85"/>
<circle cx="110.00" cy="220.50" r="1.0" fill="#f06868" fill-opacity="0.55" stroke="#dc4444" stroke-width="0.3" stroke-opacity="0.85"/>
<circle cx="106.00" cy="231.00" r="1.0" fill="#f06868" fill-opacity="0.55" stroke="#dc4444" stroke-width="0.3" stroke-opacity="0.85"/>
<circle cx="109.00" cy="235.00" r="1.0" fill="#f06868" fill-opacity="0.55" stroke="#dc4444" stroke-width="0.3" stroke-opacity="0.85"/>
<circle cx="113.00" cy="247.00" r="1.0" fill="#f06868" fill-opacity="0.55" stroke="#dc4444" stroke-width="0.3" stroke-opacity="0.85"/>
<circle cx="104.00" cy="210.00" r="1.0" fill="#f06868" fill-opacity="0.55" stroke="#dc4444" stroke-width="0.3" stroke-opacity="0.85"/>
<circle cx="112.00" cy="213.00" r="1.0" fill="#f06868" fill-opacity="0.55" stroke="#dc4444" stroke-width="0.3" stroke-opacity="0.85"/>
<circle cx="101.50" cy="226.00" r="1.0" fill="#f06868" fill-opacity="0.55" stroke="#dc4444" stroke-width="0.3" stroke-opacity="0.85"/>
<circle cx="108.00" cy="242.00" r="1.0" fill="#f06868" fill-opacity="0.55" stroke="#dc4444" stroke-width="0.3" stroke-opacity="0.85"/>
<circle cx="111.00" cy="204.00" r="1.0" fill="#f06868" fill-opacity="0.55" stroke="#dc4444" stroke-width="0.3" stroke-opacity="0.85"/>
<text x="64.50" y="260.20" font-size="5.9" fill="#111" font-weight="bold" text-anchor="middle" stroke="#111" stroke-width="0.12">Normal</text>
<text x="64.5" y="265.9" font-size="5.9" fill="#111" stroke="#111" stroke-width="0.12" font-weight="bold" text-anchor="middle">(<tspan font-style="italic">n</tspan> = 7)</text>
<text x="108.20" y="260.20" font-size="5.9" fill="#111" font-weight="bold" text-anchor="middle" stroke="#111" stroke-width="0.12">Tumor</text>
<text x="106.2" y="265.9" font-size="5.9" fill="#111" stroke="#111" stroke-width="0.12" font-weight="bold" text-anchor="middle">(<tspan font-style="italic">n</tspan> = 79)</text>
<text x="34.00" y="277.60" font-size="7.4" fill="#111" font-weight="bold" text-anchor="start" stroke="#111" stroke-width="0.15" textLength="105.4" lengthAdjust="spacingAndGlyphs">Sample type (Jiang et al 2016)</text>
<text x="148.20" y="131.00" font-size="12.7" fill="#000" font-weight="bold" text-anchor="start" >D</text>
<rect x="161.20" y="191.30" width="3.63" height="8.12" fill="#f7dcdd" stroke="none" stroke-width="0.6" />
<rect x="164.78" y="191.30" width="3.63" height="8.12" fill="#e86f76" stroke="none" stroke-width="0.6" />
<rect x="168.36" y="191.30" width="3.63" height="8.12" fill="#ea787f" stroke="none" stroke-width="0.6" />
<rect x="171.94" y="191.30" width="3.63" height="8.12" fill="#e86c73" stroke="none" stroke-width="0.6" />
<rect x="175.52" y="191.30" width="3.63" height="8.12" fill="#7a7db9" stroke="none" stroke-width="0.6" />
<rect x="179.10" y="191.30" width="3.63" height="8.12" fill="#ababd0" stroke="none" stroke-width="0.6" />
<rect x="182.67" y="191.30" width="3.63" height="8.12" fill="#a8a8ce" stroke="none" stroke-width="0.6" />
<rect x="186.25" y="191.30" width="3.63" height="8.12" fill="#f7dfe1" stroke="none" stroke-width="0.6" />
<rect x="189.83" y="191.30" width="3.63" height="8.12" fill="#676bb0" stroke="none" stroke-width="0.6" />
<rect x="193.41" y="191.30" width="3.63" height="8.12" fill="#1e268e" stroke="none" stroke-width="0.6" />
<rect x="196.99" y="191.30" width="3.63" height="8.12" fill="#f6d7d9" stroke="none" stroke-width="0.6" />
<rect x="200.57" y="191.30" width="3.63" height="8.12" fill="#f5d0d2" stroke="none" stroke-width="0.6" />
<rect x="204.15" y="191.30" width="3.63" height="8.12" fill="#d4d1e3" stroke="none" stroke-width="0.6" />
<rect x="207.73" y="191.30" width="3.63" height="8.12" fill="#7276b5" stroke="none" stroke-width="0.6" />
<rect x="211.31" y="191.30" width="3.63" height="8.12" fill="#e13741" stroke="none" stroke-width="0.6" />
<rect x="214.89" y="191.30" width="3.63" height="8.12" fill="#e45059" stroke="none" stroke-width="0.6" />
<rect x="218.47" y="191.30" width="3.63" height="8.12" fill="#e13742" stroke="none" stroke-width="0.6" />
<rect x="222.04" y="191.30" width="3.63" height="8.12" fill="#df2b36" stroke="none" stroke-width="0.6" />
<rect x="225.62" y="191.30" width="3.63" height="8.12" fill="#e23d47" stroke="none" stroke-width="0.6" />
<rect x="229.20" y="191.30" width="3.63" height="8.12" fill="#e7656d" stroke="none" stroke-width="0.6" />
<rect x="232.78" y="191.30" width="3.63" height="8.12" fill="#e76870" stroke="none" stroke-width="0.6" />
<rect x="236.36" y="191.30" width="3.63" height="8.12" fill="#ec878d" stroke="none" stroke-width="0.6" />
<rect x="239.94" y="191.30" width="3.63" height="8.12" fill="#e7646c" stroke="none" stroke-width="0.6" />
<rect x="243.52" y="191.30" width="3.63" height="8.12" fill="#e86c74" stroke="none" stroke-width="0.6" />
<rect x="247.10" y="191.30" width="3.63" height="8.12" fill="#e7666e" stroke="none" stroke-width="0.6" />
<rect x="250.68" y="191.30" width="3.63" height="8.12" fill="#e9747b" stroke="none" stroke-width="0.6" />
<rect x="254.26" y="191.30" width="3.63" height="8.12" fill="#e34953" stroke="none" stroke-width="0.6" />
<rect x="257.83" y="191.30" width="3.63" height="8.12" fill="#e65d66" stroke="none" stroke-width="0.6" />
<rect x="261.41" y="191.30" width="3.63" height="8.12" fill="#e4505a" stroke="none" stroke-width="0.6" />
<rect x="264.99" y="191.30" width="3.63" height="8.12" fill="#e34852" stroke="none" stroke-width="0.6" />
<rect x="268.57" y="191.30" width="3.63" height="8.12" fill="#e4515a" stroke="none" stroke-width="0.6" />
<rect x="272.15" y="191.30" width="3.63" height="8.12" fill="#e34650" stroke="none" stroke-width="0.6" />
<rect x="275.73" y="191.30" width="3.63" height="8.12" fill="#e76169" stroke="none" stroke-width="0.6" />
<rect x="279.31" y="191.30" width="3.63" height="8.12" fill="#e44c56" stroke="none" stroke-width="0.6" />
<rect x="282.89" y="191.30" width="3.63" height="8.12" fill="#faf4f4" stroke="none" stroke-width="0.6" />
<rect x="286.47" y="191.30" width="3.63" height="8.12" fill="#df2833" stroke="none" stroke-width="0.6" />
<rect x="290.05" y="191.30" width="3.63" height="8.12" fill="#df2a36" stroke="none" stroke-width="0.6" />
<rect x="293.63" y="191.30" width="3.63" height="8.12" fill="#eb868c" stroke="none" stroke-width="0.6" />
<rect x="297.20" y="191.30" width="3.63" height="8.12" fill="#eb848a" stroke="none" stroke-width="0.6" />
<rect x="300.78" y="191.30" width="3.63" height="8.12" fill="#eb7f86" stroke="none" stroke-width="0.6" />
<rect x="304.36" y="191.30" width="3.63" height="8.12" fill="#e65962" stroke="none" stroke-width="0.6" />
<rect x="307.94" y="191.30" width="3.63" height="8.12" fill="#e9747b" stroke="none" stroke-width="0.6" />
<rect x="311.52" y="191.30" width="3.63" height="8.12" fill="#e86a72" stroke="none" stroke-width="0.6" />
<rect x="315.10" y="191.30" width="3.63" height="8.12" fill="#ea7b82" stroke="none" stroke-width="0.6" />
<rect x="318.68" y="191.30" width="3.63" height="8.12" fill="#e97178" stroke="none" stroke-width="0.6" />
<rect x="322.26" y="191.30" width="3.63" height="8.12" fill="#e9777e" stroke="none" stroke-width="0.6" />
<rect x="325.84" y="191.30" width="3.63" height="8.12" fill="#ea7980" stroke="none" stroke-width="0.6" />
<rect x="329.42" y="191.30" width="3.63" height="8.12" fill="#e86d74" stroke="none" stroke-width="0.6" />
<rect x="333.00" y="191.30" width="3.63" height="8.12" fill="#e86d74" stroke="none" stroke-width="0.6" />
<rect x="336.57" y="191.30" width="3.63" height="8.12" fill="#e65c65" stroke="none" stroke-width="0.6" />
<rect x="340.15" y="191.30" width="3.63" height="8.12" fill="#e76870" stroke="none" stroke-width="0.6" />
<rect x="343.73" y="191.30" width="3.63" height="8.12" fill="#e65b64" stroke="none" stroke-width="0.6" />
<rect x="347.31" y="191.30" width="3.63" height="8.12" fill="#e65f67" stroke="none" stroke-width="0.6" />
<rect x="350.89" y="191.30" width="3.63" height="8.12" fill="#e55861" stroke="none" stroke-width="0.6" />
<rect x="354.47" y="191.30" width="3.63" height="8.12" fill="#e76870" stroke="none" stroke-width="0.6" />
<rect x="358.05" y="191.30" width="3.63" height="8.12" fill="#eb8289" stroke="none" stroke-width="0.6" />
<rect x="361.63" y="191.30" width="3.63" height="8.12" fill="#e65f67" stroke="none" stroke-width="0.6" />
<rect x="365.21" y="191.30" width="3.63" height="8.12" fill="#e65962" stroke="none" stroke-width="0.6" />
<rect x="368.79" y="191.30" width="3.63" height="8.12" fill="#e65c65" stroke="none" stroke-width="0.6" />
<rect x="372.37" y="191.30" width="3.63" height="8.12" fill="#e86d75" stroke="none" stroke-width="0.6" />
<rect x="375.94" y="191.30" width="3.63" height="8.12" fill="#e7666e" stroke="none" stroke-width="0.6" />
<rect x="379.52" y="191.30" width="3.63" height="8.12" fill="#eb8086" stroke="none" stroke-width="0.6" />
<rect x="383.10" y="191.30" width="3.63" height="8.12" fill="#e66068" stroke="none" stroke-width="0.6" />
<rect x="386.68" y="191.30" width="3.63" height="8.12" fill="#e86d75" stroke="none" stroke-width="0.6" />
<rect x="390.26" y="191.30" width="3.63" height="8.12" fill="#ea7c83" stroke="none" stroke-width="0.6" />
<rect x="393.84" y="191.30" width="3.63" height="8.12" fill="#e5545d" stroke="none" stroke-width="0.6" />
<rect x="397.42" y="191.30" width="3.63" height="8.12" fill="#e02c37" stroke="none" stroke-width="0.6" />
<rect x="401.00" y="191.30" width="3.63" height="8.12" fill="#df2531" stroke="none" stroke-width="0.6" />
<rect x="404.58" y="191.30" width="3.63" height="8.12" fill="#e5535c" stroke="none" stroke-width="0.6" />
<rect x="408.16" y="191.30" width="3.63" height="8.12" fill="#e02e3a" stroke="none" stroke-width="0.6" />
<rect x="411.73" y="191.30" width="3.63" height="8.12" fill="#e3424c" stroke="none" stroke-width="0.6" />
<rect x="415.31" y="191.30" width="3.63" height="8.12" fill="#e45059" stroke="none" stroke-width="0.6" />
<rect x="418.89" y="191.30" width="3.63" height="8.12" fill="#e34852" stroke="none" stroke-width="0.6" />
<rect x="422.47" y="191.30" width="3.63" height="8.12" fill="#e0303b" stroke="none" stroke-width="0.6" />
<rect x="426.05" y="191.30" width="3.63" height="8.12" fill="#df2b36" stroke="none" stroke-width="0.6" />
<rect x="429.63" y="191.30" width="3.63" height="8.12" fill="#e5555e" stroke="none" stroke-width="0.6" />
<rect x="433.21" y="191.30" width="3.63" height="8.12" fill="#e13843" stroke="none" stroke-width="0.6" />
<rect x="436.79" y="191.30" width="3.63" height="8.12" fill="#e5555e" stroke="none" stroke-width="0.6" />
<rect x="440.37" y="191.30" width="3.63" height="8.12" fill="#e0333e" stroke="none" stroke-width="0.6" />
<rect x="443.95" y="191.30" width="3.63" height="8.12" fill="#e34650" stroke="none" stroke-width="0.6" />
<rect x="447.53" y="191.30" width="3.63" height="8.12" fill="#df2a36" stroke="none" stroke-width="0.6" />
<rect x="451.10" y="191.30" width="3.63" height="8.12" fill="#df2531" stroke="none" stroke-width="0.6" />
<rect x="454.68" y="191.30" width="3.63" height="8.12" fill="#e23e48" stroke="none" stroke-width="0.6" />
<rect x="458.26" y="191.30" width="3.63" height="8.12" fill="#df2430" stroke="none" stroke-width="0.6" />
<rect x="461.84" y="191.30" width="3.63" height="8.12" fill="#e34851" stroke="none" stroke-width="0.6" />
<rect x="465.42" y="191.30" width="3.63" height="8.12" fill="#e5535d" stroke="none" stroke-width="0.6" />
<rect x="161.20" y="199.37" width="3.63" height="8.12" fill="#f4cacc" stroke="none" stroke-width="0.6" />
<rect x="164.78" y="199.37" width="3.63" height="8.12" fill="#5a5faa" stroke="none" stroke-width="0.6" />
<rect x="168.36" y="199.37" width="3.63" height="8.12" fill="#1c258d" stroke="none" stroke-width="0.6" />
<rect x="171.94" y="199.37" width="3.63" height="8.12" fill="#bdbcd8" stroke="none" stroke-width="0.6" />
<rect x="175.52" y="199.37" width="3.63" height="8.12" fill="#c8c6de" stroke="none" stroke-width="0.6" />
<rect x="179.10" y="199.37" width="3.63" height="8.12" fill="#ece8ee" stroke="none" stroke-width="0.6" />
<rect x="182.67" y="199.37" width="3.63" height="8.12" fill="#e6e2ec" stroke="none" stroke-width="0.6" />
<rect x="186.25" y="199.37" width="3.63" height="8.12" fill="#40469e" stroke="none" stroke-width="0.6" />
<rect x="189.83" y="199.37" width="3.63" height="8.12" fill="#b8b7d6" stroke="none" stroke-width="0.6" />
<rect x="193.41" y="199.37" width="3.63" height="8.12" fill="#f6d9db" stroke="none" stroke-width="0.6" />
<rect x="196.99" y="199.37" width="3.63" height="8.12" fill="#f2babe" stroke="none" stroke-width="0.6" />
<rect x="200.57" y="199.37" width="3.63" height="8.12" fill="#f6d5d7" stroke="none" stroke-width="0.6" />
<rect x="204.15" y="199.37" width="3.63" height="8.12" fill="#f5d1d3" stroke="none" stroke-width="0.6" />
<rect x="207.73" y="199.37" width="3.63" height="8.12" fill="#f5ced0" stroke="none" stroke-width="0.6" />
<rect x="211.31" y="199.37" width="3.63" height="8.12" fill="#e13641" stroke="none" stroke-width="0.6" />
<rect x="214.89" y="199.37" width="3.63" height="8.12" fill="#e13944" stroke="none" stroke-width="0.6" />
<rect x="218.47" y="199.37" width="3.63" height="8.12" fill="#e23b45" stroke="none" stroke-width="0.6" />
<rect x="222.04" y="199.37" width="3.63" height="8.12" fill="#e13842" stroke="none" stroke-width="0.6" />
<rect x="225.62" y="199.37" width="3.63" height="8.12" fill="#df2733" stroke="none" stroke-width="0.6" />
<rect x="229.20" y="199.37" width="3.63" height="8.12" fill="#e23d48" stroke="none" stroke-width="0.6" />
<rect x="232.78" y="199.37" width="3.63" height="8.12" fill="#e2414b" stroke="none" stroke-width="0.6" />
<rect x="236.36" y="199.37" width="3.63" height="8.12" fill="#e0333e" stroke="none" stroke-width="0.6" />
<rect x="239.94" y="199.37" width="3.63" height="8.12" fill="#e44b55" stroke="none" stroke-width="0.6" />
<rect x="243.52" y="199.37" width="3.63" height="8.12" fill="#e34852" stroke="none" stroke-width="0.6" />
<rect x="247.10" y="199.37" width="3.63" height="8.12" fill="#df2531" stroke="none" stroke-width="0.6" />
<rect x="250.68" y="199.37" width="3.63" height="8.12" fill="#e23d47" stroke="none" stroke-width="0.6" />
<rect x="254.26" y="199.37" width="3.63" height="8.12" fill="#e23b46" stroke="none" stroke-width="0.6" />
<rect x="257.83" y="199.37" width="3.63" height="8.12" fill="#e55760" stroke="none" stroke-width="0.6" />
<rect x="261.41" y="199.37" width="3.63" height="8.12" fill="#e2424c" stroke="none" stroke-width="0.6" />
<rect x="264.99" y="199.37" width="3.63" height="8.12" fill="#e13a44" stroke="none" stroke-width="0.6" />
<rect x="268.57" y="199.37" width="3.63" height="8.12" fill="#e5565f" stroke="none" stroke-width="0.6" />
<rect x="272.15" y="199.37" width="3.63" height="8.12" fill="#e13843" stroke="none" stroke-width="0.6" />
<rect x="275.73" y="199.37" width="3.63" height="8.12" fill="#e13742" stroke="none" stroke-width="0.6" />
<rect x="279.31" y="199.37" width="3.63" height="8.12" fill="#e5545d" stroke="none" stroke-width="0.6" />
<rect x="282.89" y="199.37" width="3.63" height="8.12" fill="#e13742" stroke="none" stroke-width="0.6" />
<rect x="286.47" y="199.37" width="3.63" height="8.12" fill="#e2404a" stroke="none" stroke-width="0.6" />
<rect x="290.05" y="199.37" width="3.63" height="8.12" fill="#e1353f" stroke="none" stroke-width="0.6" />
<rect x="293.63" y="199.37" width="3.63" height="8.12" fill="#e3454f" stroke="none" stroke-width="0.6" />
<rect x="297.20" y="199.37" width="3.63" height="8.12" fill="#e1333e" stroke="none" stroke-width="0.6" />
<rect x="300.78" y="199.37" width="3.63" height="8.12" fill="#e0323d" stroke="none" stroke-width="0.6" />
<rect x="304.36" y="199.37" width="3.63" height="8.12" fill="#e5565f" stroke="none" stroke-width="0.6" />
<rect x="307.94" y="199.37" width="3.63" height="8.12" fill="#e5545d" stroke="none" stroke-width="0.6" />
<rect x="311.52" y="199.37" width="3.63" height="8.12" fill="#e13540" stroke="none" stroke-width="0.6" />
<rect x="315.10" y="199.37" width="3.63" height="8.12" fill="#df2632" stroke="none" stroke-width="0.6" />
<rect x="318.68" y="199.37" width="3.63" height="8.12" fill="#e44b54" stroke="none" stroke-width="0.6" />
<rect x="322.26" y="199.37" width="3.63" height="8.12" fill="#e2404a" stroke="none" stroke-width="0.6" />
<rect x="325.84" y="199.37" width="3.63" height="8.12" fill="#e13944" stroke="none" stroke-width="0.6" />
<rect x="329.42" y="199.37" width="3.63" height="8.12" fill="#e34751" stroke="none" stroke-width="0.6" />
<rect x="333.00" y="199.37" width="3.63" height="8.12" fill="#e3454f" stroke="none" stroke-width="0.6" />
<rect x="336.57" y="199.37" width="3.63" height="8.12" fill="#e34751" stroke="none" stroke-width="0.6" />
<rect x="340.15" y="199.37" width="3.63" height="8.12" fill="#e3454e" stroke="none" stroke-width="0.6" />
<rect x="343.73" y="199.37" width="3.63" height="8.12" fill="#e13944" stroke="none" stroke-width="0.6" />
<rect x="347.31" y="199.37" width="3.63" height="8.12" fill="#e34852" stroke="none" stroke-width="0.6" />
<rect x="350.89" y="199.37" width="3.63" height="8.12" fill="#e3444e" stroke="none" stroke-width="0.6" />
<rect x="354.47" y="199.37" width="3.63" height="8.12" fill="#e0303b" stroke="none" stroke-width="0.6" />
<rect x="358.05" y="199.37" width="3.63" height="8.12" fill="#e5565f" stroke="none" stroke-width="0.6" />
<rect x="361.63" y="199.37" width="3.63" height="8.12" fill="#e13a45" stroke="none" stroke-width="0.6" />
<rect x="365.21" y="199.37" width="3.63" height="8.12" fill="#e0323d" stroke="none" stroke-width="0.6" />
<rect x="368.79" y="199.37" width="3.63" height="8.12" fill="#e34851" stroke="none" stroke-width="0.6" />
<rect x="372.37" y="199.37" width="3.63" height="8.12" fill="#e44c56" stroke="none" stroke-width="0.6" />
<rect x="375.94" y="199.37" width="3.63" height="8.12" fill="#e02e39" stroke="none" stroke-width="0.6" />
<rect x="379.52" y="199.37" width="3.63" height="8.12" fill="#e44b55" stroke="none" stroke-width="0.6" />
<rect x="383.10" y="199.37" width="3.63" height="8.12" fill="#e44e57" stroke="none" stroke-width="0.6" />
<rect x="386.68" y="199.37" width="3.63" height="8.12" fill="#e2414b" stroke="none" stroke-width="0.6" />
<rect x="390.26" y="199.37" width="3.63" height="8.12" fill="#e1343f" stroke="none" stroke-width="0.6" />
<rect x="393.84" y="199.37" width="3.63" height="8.12" fill="#e5525b" stroke="none" stroke-width="0.6" />
<rect x="397.42" y="199.37" width="3.63" height="8.12" fill="#e34751" stroke="none" stroke-width="0.6" />
<rect x="401.00" y="199.37" width="3.63" height="8.12" fill="#e34650" stroke="none" stroke-width="0.6" />
<rect x="404.58" y="199.37" width="3.63" height="8.12" fill="#e02d38" stroke="none" stroke-width="0.6" />
<rect x="408.16" y="199.37" width="3.63" height="8.12" fill="#e2414b" stroke="none" stroke-width="0.6" />
<rect x="411.73" y="199.37" width="3.63" height="8.12" fill="#e02c37" stroke="none" stroke-width="0.6" />
<rect x="415.31" y="199.37" width="3.63" height="8.12" fill="#e44f58" stroke="none" stroke-width="0.6" />
<rect x="418.89" y="199.37" width="3.63" height="8.12" fill="#e34650" stroke="none" stroke-width="0.6" />
<rect x="422.47" y="199.37" width="3.63" height="8.12" fill="#e13641" stroke="none" stroke-width="0.6" />
<rect x="426.05" y="199.37" width="3.63" height="8.12" fill="#df2a36" stroke="none" stroke-width="0.6" />
<rect x="429.63" y="199.37" width="3.63" height="8.12" fill="#e2404a" stroke="none" stroke-width="0.6" />
<rect x="433.21" y="199.37" width="3.63" height="8.12" fill="#e44c55" stroke="none" stroke-width="0.6" />
<rect x="436.79" y="199.37" width="3.63" height="8.12" fill="#e4515a" stroke="none" stroke-width="0.6" />
<rect x="440.37" y="199.37" width="3.63" height="8.12" fill="#e23c47" stroke="none" stroke-width="0.6" />
<rect x="443.95" y="199.37" width="3.63" height="8.12" fill="#eb8187" stroke="none" stroke-width="0.6" />
<rect x="447.53" y="199.37" width="3.63" height="8.12" fill="#f3bfc2" stroke="none" stroke-width="0.6" />
<rect x="451.10" y="199.37" width="3.63" height="8.12" fill="#f3bdc0" stroke="none" stroke-width="0.6" />
<rect x="454.68" y="199.37" width="3.63" height="8.12" fill="#eb8188" stroke="none" stroke-width="0.6" />
<rect x="458.26" y="199.37" width="3.63" height="8.12" fill="#ea7c83" stroke="none" stroke-width="0.6" />
<rect x="461.84" y="199.37" width="3.63" height="8.12" fill="#e7616a" stroke="none" stroke-width="0.6" />
<rect x="465.42" y="199.37" width="3.63" height="8.12" fill="#e86a72" stroke="none" stroke-width="0.6" />
<rect x="161.20" y="207.43" width="3.63" height="8.12" fill="#e7616a" stroke="none" stroke-width="0.6" />
<rect x="164.78" y="207.43" width="3.63" height="8.12" fill="#ea7980" stroke="none" stroke-width="0.6" />
<rect x="168.36" y="207.43" width="3.63" height="8.12" fill="#eb848a" stroke="none" stroke-width="0.6" />
<rect x="171.94" y="207.43" width="3.63" height="8.12" fill="#ea7c82" stroke="none" stroke-width="0.6" />
<rect x="175.52" y="207.43" width="3.63" height="8.12" fill="#d2cfe2" stroke="none" stroke-width="0.6" />
<rect x="179.10" y="207.43" width="3.63" height="8.12" fill="#f6dadc" stroke="none" stroke-width="0.6" />
<rect x="182.67" y="207.43" width="3.63" height="8.12" fill="#f6d7d8" stroke="none" stroke-width="0.6" />
<rect x="186.25" y="207.43" width="3.63" height="8.12" fill="#e9757c" stroke="none" stroke-width="0.6" />
<rect x="189.83" y="207.43" width="3.63" height="8.12" fill="#e9757c" stroke="none" stroke-width="0.6" />
<rect x="193.41" y="207.43" width="3.63" height="8.12" fill="#e9767d" stroke="none" stroke-width="0.6" />
<rect x="196.99" y="207.43" width="3.63" height="8.12" fill="#e65b64" stroke="none" stroke-width="0.6" />
<rect x="200.57" y="207.43" width="3.63" height="8.12" fill="#f7e0e1" stroke="none" stroke-width="0.6" />
<rect x="204.15" y="207.43" width="3.63" height="8.12" fill="#ec8a90" stroke="none" stroke-width="0.6" />
<rect x="207.73" y="207.43" width="3.63" height="8.12" fill="#e65a63" stroke="none" stroke-width="0.6" />
<rect x="211.31" y="207.43" width="3.63" height="8.12" fill="#f7dddf" stroke="none" stroke-width="0.6" />
<rect x="214.89" y="207.43" width="3.63" height="8.12" fill="#464ca1" stroke="none" stroke-width="0.6" />
<rect x="218.47" y="207.43" width="3.63" height="8.12" fill="#283093" stroke="none" stroke-width="0.6" />
<rect x="222.04" y="207.43" width="3.63" height="8.12" fill="#444aa0" stroke="none" stroke-width="0.6" />
<rect x="225.62" y="207.43" width="3.63" height="8.12" fill="#43499f" stroke="none" stroke-width="0.6" />
<rect x="229.20" y="207.43" width="3.63" height="8.12" fill="#1d268d" stroke="none" stroke-width="0.6" />
<rect x="232.78" y="207.43" width="3.63" height="8.12" fill="#39409b" stroke="none" stroke-width="0.6" />
<rect x="236.36" y="207.43" width="3.63" height="8.12" fill="#3e459d" stroke="none" stroke-width="0.6" />
<rect x="239.94" y="207.43" width="3.63" height="8.12" fill="#cbc9df" stroke="none" stroke-width="0.6" />
<rect x="243.52" y="207.43" width="3.63" height="8.12" fill="#2d3595" stroke="none" stroke-width="0.6" />
<rect x="247.10" y="207.43" width="3.63" height="8.12" fill="#b7b6d5" stroke="none" stroke-width="0.6" />
<rect x="250.68" y="207.43" width="3.63" height="8.12" fill="#b9b8d7" stroke="none" stroke-width="0.6" />
<rect x="254.26" y="207.43" width="3.63" height="8.12" fill="#b3b3d4" stroke="none" stroke-width="0.6" />
<rect x="257.83" y="207.43" width="3.63" height="8.12" fill="#e7e3ec" stroke="none" stroke-width="0.6" />
<rect x="261.41" y="207.43" width="3.63" height="8.12" fill="#f9eced" stroke="none" stroke-width="0.6" />
<rect x="264.99" y="207.43" width="3.63" height="8.12" fill="#20298f" stroke="none" stroke-width="0.6" />
<rect x="268.57" y="207.43" width="3.63" height="8.12" fill="#3d439c" stroke="none" stroke-width="0.6" />
<rect x="272.15" y="207.43" width="3.63" height="8.12" fill="#e6e2ec" stroke="none" stroke-width="0.6" />
<rect x="275.73" y="207.43" width="3.63" height="8.12" fill="#42489f" stroke="none" stroke-width="0.6" />
<rect x="279.31" y="207.43" width="3.63" height="8.12" fill="#363e99" stroke="none" stroke-width="0.6" />
<rect x="282.89" y="207.43" width="3.63" height="8.12" fill="#43499f" stroke="none" stroke-width="0.6" />
<rect x="286.47" y="207.43" width="3.63" height="8.12" fill="#898bc0" stroke="none" stroke-width="0.6" />
<rect x="290.05" y="207.43" width="3.63" height="8.12" fill="#898bc0" stroke="none" stroke-width="0.6" />
<rect x="293.63" y="207.43" width="3.63" height="8.12" fill="#f9eded" stroke="none" stroke-width="0.6" />
<rect x="297.20" y="207.43" width="3.63" height="8.12" fill="#a8a8ce" stroke="none" stroke-width="0.6" />
<rect x="300.78" y="207.43" width="3.63" height="8.12" fill="#cfcde1" stroke="none" stroke-width="0.6" />
<rect x="304.36" y="207.43" width="3.63" height="8.12" fill="#b0b0d2" stroke="none" stroke-width="0.6" />
<rect x="307.94" y="207.43" width="3.63" height="8.12" fill="#b7b6d6" stroke="none" stroke-width="0.6" />
<rect x="311.52" y="207.43" width="3.63" height="8.12" fill="#353c99" stroke="none" stroke-width="0.6" />
<rect x="315.10" y="207.43" width="3.63" height="8.12" fill="#2d3595" stroke="none" stroke-width="0.6" />
<rect x="318.68" y="207.43" width="3.63" height="8.12" fill="#272f92" stroke="none" stroke-width="0.6" />
<rect x="322.26" y="207.43" width="3.63" height="8.12" fill="#dad7e6" stroke="none" stroke-width="0.6" />
<rect x="325.84" y="207.43" width="3.63" height="8.12" fill="#c8c6de" stroke="none" stroke-width="0.6" />
<rect x="329.42" y="207.43" width="3.63" height="8.12" fill="#b9b9d7" stroke="none" stroke-width="0.6" />
<rect x="333.00" y="207.43" width="3.63" height="8.12" fill="#1f278e" stroke="none" stroke-width="0.6" />
<rect x="336.57" y="207.43" width="3.63" height="8.12" fill="#3f469e" stroke="none" stroke-width="0.6" />
<rect x="340.15" y="207.43" width="3.63" height="8.12" fill="#2b3394" stroke="none" stroke-width="0.6" />
<rect x="343.73" y="207.43" width="3.63" height="8.12" fill="#f8e2e3" stroke="none" stroke-width="0.6" />
<rect x="347.31" y="207.43" width="3.63" height="8.12" fill="#242c91" stroke="none" stroke-width="0.6" />
<rect x="350.89" y="207.43" width="3.63" height="8.12" fill="#1c258d" stroke="none" stroke-width="0.6" />
<rect x="354.47" y="207.43" width="3.63" height="8.12" fill="#f9efef" stroke="none" stroke-width="0.6" />
<rect x="358.05" y="207.43" width="3.63" height="8.12" fill="#f7e1e2" stroke="none" stroke-width="0.6" />
<rect x="361.63" y="207.43" width="3.63" height="8.12" fill="#ede9ef" stroke="none" stroke-width="0.6" />
<rect x="365.21" y="207.43" width="3.63" height="8.12" fill="#f7e2e3" stroke="none" stroke-width="0.6" />
<rect x="368.79" y="207.43" width="3.63" height="8.12" fill="#d9d6e5" stroke="none" stroke-width="0.6" />
<rect x="372.37" y="207.43" width="3.63" height="8.12" fill="#d2d0e2" stroke="none" stroke-width="0.6" />
<rect x="375.94" y="207.43" width="3.63" height="8.12" fill="#d3d1e3" stroke="none" stroke-width="0.6" />
<rect x="379.52" y="207.43" width="3.63" height="8.12" fill="#e4e0eb" stroke="none" stroke-width="0.6" />
<rect x="383.10" y="207.43" width="3.63" height="8.12" fill="#f9eaeb" stroke="none" stroke-width="0.6" />
<rect x="386.68" y="207.43" width="3.63" height="8.12" fill="#f7dedf" stroke="none" stroke-width="0.6" />
<rect x="390.26" y="207.43" width="3.63" height="8.12" fill="#e6e3ec" stroke="none" stroke-width="0.6" />
<rect x="393.84" y="207.43" width="3.63" height="8.12" fill="#676bb0" stroke="none" stroke-width="0.6" />
<rect x="397.42" y="207.43" width="3.63" height="8.12" fill="#676bb0" stroke="none" stroke-width="0.6" />
<rect x="401.00" y="207.43" width="3.63" height="8.12" fill="#7578b7" stroke="none" stroke-width="0.6" />
<rect x="404.58" y="207.43" width="3.63" height="8.12" fill="#283092" stroke="none" stroke-width="0.6" />
<rect x="408.16" y="207.43" width="3.63" height="8.12" fill="#2a3294" stroke="none" stroke-width="0.6" />
<rect x="411.73" y="207.43" width="3.63" height="8.12" fill="#3b429b" stroke="none" stroke-width="0.6" />
<rect x="415.31" y="207.43" width="3.63" height="8.12" fill="#1a238c" stroke="none" stroke-width="0.6" />
<rect x="418.89" y="207.43" width="3.63" height="8.12" fill="#1a238c" stroke="none" stroke-width="0.6" />
<rect x="422.47" y="207.43" width="3.63" height="8.12" fill="#6064ad" stroke="none" stroke-width="0.6" />
<rect x="426.05" y="207.43" width="3.63" height="8.12" fill="#5f64ad" stroke="none" stroke-width="0.6" />
<rect x="429.63" y="207.43" width="3.63" height="8.12" fill="#ababd0" stroke="none" stroke-width="0.6" />
<rect x="433.21" y="207.43" width="3.63" height="8.12" fill="#dcd8e7" stroke="none" stroke-width="0.6" />
<rect x="436.79" y="207.43" width="3.63" height="8.12" fill="#d5d2e4" stroke="none" stroke-width="0.6" />
<rect x="440.37" y="207.43" width="3.63" height="8.12" fill="#acacd0" stroke="none" stroke-width="0.6" />
<rect x="443.95" y="207.43" width="3.63" height="8.12" fill="#7477b6" stroke="none" stroke-width="0.6" />
<rect x="447.53" y="207.43" width="3.63" height="8.12" fill="#222b90" stroke="none" stroke-width="0.6" />
<rect x="451.10" y="207.43" width="3.63" height="8.12" fill="#222a90" stroke="none" stroke-width="0.6" />
<rect x="454.68" y="207.43" width="3.63" height="8.12" fill="#f6f2f3" stroke="none" stroke-width="0.6" />
<rect x="458.26" y="207.43" width="3.63" height="8.12" fill="#cac8de" stroke="none" stroke-width="0.6" />
<rect x="461.84" y="207.43" width="3.63" height="8.12" fill="#c7c5dd" stroke="none" stroke-width="0.6" />
<rect x="465.42" y="207.43" width="3.63" height="8.12" fill="#bbb9d7" stroke="none" stroke-width="0.6" />
<rect x="161.20" y="215.50" width="3.63" height="8.12" fill="#f7dee0" stroke="none" stroke-width="0.6" />
<rect x="164.78" y="215.50" width="3.63" height="8.12" fill="#232b90" stroke="none" stroke-width="0.6" />
<rect x="168.36" y="215.50" width="3.63" height="8.12" fill="#eae6ee" stroke="none" stroke-width="0.6" />
<rect x="171.94" y="215.50" width="3.63" height="8.12" fill="#f9eeee" stroke="none" stroke-width="0.6" />
<rect x="175.52" y="215.50" width="3.63" height="8.12" fill="#383f9a" stroke="none" stroke-width="0.6" />
<rect x="179.10" y="215.50" width="3.63" height="8.12" fill="#252e91" stroke="none" stroke-width="0.6" />
<rect x="182.67" y="215.50" width="3.63" height="8.12" fill="#1a238c" stroke="none" stroke-width="0.6" />
<rect x="186.25" y="215.50" width="3.63" height="8.12" fill="#1b248c" stroke="none" stroke-width="0.6" />
<rect x="189.83" y="215.50" width="3.63" height="8.12" fill="#252d91" stroke="none" stroke-width="0.6" />
<rect x="193.41" y="215.50" width="3.63" height="8.12" fill="#323997" stroke="none" stroke-width="0.6" />
<rect x="196.99" y="215.50" width="3.63" height="8.12" fill="#3b429c" stroke="none" stroke-width="0.6" />
<rect x="200.57" y="215.50" width="3.63" height="8.12" fill="#252e91" stroke="none" stroke-width="0.6" />
<rect x="204.15" y="215.50" width="3.63" height="8.12" fill="#3c439c" stroke="none" stroke-width="0.6" />
<rect x="207.73" y="215.50" width="3.63" height="8.12" fill="#333a97" stroke="none" stroke-width="0.6" />
<rect x="211.31" y="215.50" width="3.63" height="8.12" fill="#f5d2d4" stroke="none" stroke-width="0.6" />
<rect x="214.89" y="215.50" width="3.63" height="8.12" fill="#f6d5d7" stroke="none" stroke-width="0.6" />
<rect x="218.47" y="215.50" width="3.63" height="8.12" fill="#f7e0e1" stroke="none" stroke-width="0.6" />
<rect x="222.04" y="215.50" width="3.63" height="8.12" fill="#f6d5d7" stroke="none" stroke-width="0.6" />
<rect x="225.62" y="215.50" width="3.63" height="8.12" fill="#f8e4e5" stroke="none" stroke-width="0.6" />
<rect x="229.20" y="215.50" width="3.63" height="8.12" fill="#f6d6d8" stroke="none" stroke-width="0.6" />
<rect x="232.78" y="215.50" width="3.63" height="8.12" fill="#f7e2e3" stroke="none" stroke-width="0.6" />
<rect x="236.36" y="215.50" width="3.63" height="8.12" fill="#f9eded" stroke="none" stroke-width="0.6" />
<rect x="239.94" y="215.50" width="3.63" height="8.12" fill="#f7dedf" stroke="none" stroke-width="0.6" />
<rect x="243.52" y="215.50" width="3.63" height="8.12" fill="#f6d6d7" stroke="none" stroke-width="0.6" />
<rect x="247.10" y="215.50" width="3.63" height="8.12" fill="#f9f4f5" stroke="none" stroke-width="0.6" />
<rect x="250.68" y="215.50" width="3.63" height="8.12" fill="#f8e4e5" stroke="none" stroke-width="0.6" />
<rect x="254.26" y="215.50" width="3.63" height="8.12" fill="#f8e3e4" stroke="none" stroke-width="0.6" />
<rect x="257.83" y="215.50" width="3.63" height="8.12" fill="#f5cccf" stroke="none" stroke-width="0.6" />
<rect x="261.41" y="215.50" width="3.63" height="8.12" fill="#f4c9cc" stroke="none" stroke-width="0.6" />
<rect x="264.99" y="215.50" width="3.63" height="8.12" fill="#f8e6e7" stroke="none" stroke-width="0.6" />
<rect x="268.57" y="215.50" width="3.63" height="8.12" fill="#f5cbce" stroke="none" stroke-width="0.6" />
<rect x="272.15" y="215.50" width="3.63" height="8.12" fill="#f5d1d3" stroke="none" stroke-width="0.6" />
<rect x="275.73" y="215.50" width="3.63" height="8.12" fill="#f9ecec" stroke="none" stroke-width="0.6" />
<rect x="279.31" y="215.50" width="3.63" height="8.12" fill="#f7e2e3" stroke="none" stroke-width="0.6" />
<rect x="282.89" y="215.50" width="3.63" height="8.12" fill="#1a238c" stroke="none" stroke-width="0.6" />
<rect x="286.47" y="215.50" width="3.63" height="8.12" fill="#3d449c" stroke="none" stroke-width="0.6" />
<rect x="290.05" y="215.50" width="3.63" height="8.12" fill="#353c98" stroke="none" stroke-width="0.6" />
<rect x="293.63" y="215.50" width="3.63" height="8.12" fill="#f5ccce" stroke="none" stroke-width="0.6" />
<rect x="297.20" y="215.50" width="3.63" height="8.12" fill="#f5d1d3" stroke="none" stroke-width="0.6" />
<rect x="300.78" y="215.50" width="3.63" height="8.12" fill="#f6d7d9" stroke="none" stroke-width="0.6" />
<rect x="304.36" y="215.50" width="3.63" height="8.12" fill="#f6d4d6" stroke="none" stroke-width="0.6" />
<rect x="307.94" y="215.50" width="3.63" height="8.12" fill="#f7dcde" stroke="none" stroke-width="0.6" />
<rect x="311.52" y="215.50" width="3.63" height="8.12" fill="#faf4f4" stroke="none" stroke-width="0.6" />
<rect x="315.10" y="215.50" width="3.63" height="8.12" fill="#f7dbdd" stroke="none" stroke-width="0.6" />
<rect x="318.68" y="215.50" width="3.63" height="8.12" fill="#f6f1f3" stroke="none" stroke-width="0.6" />
<rect x="322.26" y="215.50" width="3.63" height="8.12" fill="#faf2f2" stroke="none" stroke-width="0.6" />
<rect x="325.84" y="215.50" width="3.63" height="8.12" fill="#f5d2d4" stroke="none" stroke-width="0.6" />
<rect x="329.42" y="215.50" width="3.63" height="8.12" fill="#f8f3f4" stroke="none" stroke-width="0.6" />
<rect x="333.00" y="215.50" width="3.63" height="8.12" fill="#1a238c" stroke="none" stroke-width="0.6" />
<rect x="336.57" y="215.50" width="3.63" height="8.12" fill="#1a238c" stroke="none" stroke-width="0.6" />
<rect x="340.15" y="215.50" width="3.63" height="8.12" fill="#40479e" stroke="none" stroke-width="0.6" />
<rect x="343.73" y="215.50" width="3.63" height="8.12" fill="#1b248c" stroke="none" stroke-width="0.6" />
<rect x="347.31" y="215.50" width="3.63" height="8.12" fill="#e5e1eb" stroke="none" stroke-width="0.6" />
<rect x="350.89" y="215.50" width="3.63" height="8.12" fill="#f7dfe1" stroke="none" stroke-width="0.6" />
<rect x="354.47" y="215.50" width="3.63" height="8.12" fill="#eae6ee" stroke="none" stroke-width="0.6" />
<rect x="358.05" y="215.50" width="3.63" height="8.12" fill="#f7dfe0" stroke="none" stroke-width="0.6" />
<rect x="361.63" y="215.50" width="3.63" height="8.12" fill="#f8e8e9" stroke="none" stroke-width="0.6" />
<rect x="365.21" y="215.50" width="3.63" height="8.12" fill="#f7e0e1" stroke="none" stroke-width="0.6" />
<rect x="368.79" y="215.50" width="3.63" height="8.12" fill="#e65a63" stroke="none" stroke-width="0.6" />
<rect x="372.37" y="215.50" width="3.63" height="8.12" fill="#e86d75" stroke="none" stroke-width="0.6" />
<rect x="375.94" y="215.50" width="3.63" height="8.12" fill="#ed959a" stroke="none" stroke-width="0.6" />
<rect x="379.52" y="215.50" width="3.63" height="8.12" fill="#f2bcbf" stroke="none" stroke-width="0.6" />
<rect x="383.10" y="215.50" width="3.63" height="8.12" fill="#ee969c" stroke="none" stroke-width="0.6" />
<rect x="386.68" y="215.50" width="3.63" height="8.12" fill="#e97078" stroke="none" stroke-width="0.6" />
<rect x="390.26" y="215.50" width="3.63" height="8.12" fill="#e7666e" stroke="none" stroke-width="0.6" />
<rect x="393.84" y="215.50" width="3.63" height="8.12" fill="#eb858b" stroke="none" stroke-width="0.6" />
<rect x="397.42" y="215.50" width="3.63" height="8.12" fill="#e7646c" stroke="none" stroke-width="0.6" />
<rect x="401.00" y="215.50" width="3.63" height="8.12" fill="#e65b63" stroke="none" stroke-width="0.6" />
<rect x="404.58" y="215.50" width="3.63" height="8.12" fill="#ec878e" stroke="none" stroke-width="0.6" />
<rect x="408.16" y="215.50" width="3.63" height="8.12" fill="#ea7a81" stroke="none" stroke-width="0.6" />
<rect x="411.73" y="215.50" width="3.63" height="8.12" fill="#e86e75" stroke="none" stroke-width="0.6" />
<rect x="415.31" y="215.50" width="3.63" height="8.12" fill="#e66069" stroke="none" stroke-width="0.6" />
<rect x="418.89" y="215.50" width="3.63" height="8.12" fill="#ea7e85" stroke="none" stroke-width="0.6" />
<rect x="422.47" y="215.50" width="3.63" height="8.12" fill="#eb8188" stroke="none" stroke-width="0.6" />
<rect x="426.05" y="215.50" width="3.63" height="8.12" fill="#ea7e84" stroke="none" stroke-width="0.6" />
<rect x="429.63" y="215.50" width="3.63" height="8.12" fill="#e86b73" stroke="none" stroke-width="0.6" />
<rect x="433.21" y="215.50" width="3.63" height="8.12" fill="#e7646c" stroke="none" stroke-width="0.6" />
<rect x="436.79" y="215.50" width="3.63" height="8.12" fill="#e9767e" stroke="none" stroke-width="0.6" />
<rect x="440.37" y="215.50" width="3.63" height="8.12" fill="#ea787f" stroke="none" stroke-width="0.6" />
<rect x="443.95" y="215.50" width="3.63" height="8.12" fill="#e9767d" stroke="none" stroke-width="0.6" />
<rect x="447.53" y="215.50" width="3.63" height="8.12" fill="#ea7980" stroke="none" stroke-width="0.6" />
<rect x="451.10" y="215.50" width="3.63" height="8.12" fill="#e9757c" stroke="none" stroke-width="0.6" />
<rect x="454.68" y="215.50" width="3.63" height="8.12" fill="#eb868c" stroke="none" stroke-width="0.6" />
<rect x="458.26" y="215.50" width="3.63" height="8.12" fill="#e97178" stroke="none" stroke-width="0.6" />
<rect x="461.84" y="215.50" width="3.63" height="8.12" fill="#e55962" stroke="none" stroke-width="0.6" />
<rect x="465.42" y="215.50" width="3.63" height="8.12" fill="#e9757d" stroke="none" stroke-width="0.6" />
<rect x="161.20" y="223.57" width="3.63" height="8.12" fill="#f3c2c5" stroke="none" stroke-width="0.6" />
<rect x="164.78" y="223.57" width="3.63" height="8.12" fill="#f2b5b9" stroke="none" stroke-width="0.6" />
<rect x="168.36" y="223.57" width="3.63" height="8.12" fill="#e7676f" stroke="none" stroke-width="0.6" />
<rect x="171.94" y="223.57" width="3.63" height="8.12" fill="#e7646c" stroke="none" stroke-width="0.6" />
<rect x="175.52" y="223.57" width="3.63" height="8.12" fill="#353d99" stroke="none" stroke-width="0.6" />
<rect x="179.10" y="223.57" width="3.63" height="8.12" fill="#2d3595" stroke="none" stroke-width="0.6" />
<rect x="182.67" y="223.57" width="3.63" height="8.12" fill="#2b3394" stroke="none" stroke-width="0.6" />
<rect x="186.25" y="223.57" width="3.63" height="8.12" fill="#343b98" stroke="none" stroke-width="0.6" />
<rect x="189.83" y="223.57" width="3.63" height="8.12" fill="#41489e" stroke="none" stroke-width="0.6" />
<rect x="193.41" y="223.57" width="3.63" height="8.12" fill="#ece8ee" stroke="none" stroke-width="0.6" />
<rect x="196.99" y="223.57" width="3.63" height="8.12" fill="#acacd1" stroke="none" stroke-width="0.6" />
<rect x="200.57" y="223.57" width="3.63" height="8.12" fill="#f8e4e5" stroke="none" stroke-width="0.6" />
<rect x="204.15" y="223.57" width="3.63" height="8.12" fill="#ed8f95" stroke="none" stroke-width="0.6" />
<rect x="207.73" y="223.57" width="3.63" height="8.12" fill="#efa3a8" stroke="none" stroke-width="0.6" />
<rect x="211.31" y="223.57" width="3.63" height="8.12" fill="#f0a7ab" stroke="none" stroke-width="0.6" />
<rect x="214.89" y="223.57" width="3.63" height="8.12" fill="#ee999e" stroke="none" stroke-width="0.6" />
<rect x="218.47" y="223.57" width="3.63" height="8.12" fill="#f1b4b8" stroke="none" stroke-width="0.6" />
<rect x="222.04" y="223.57" width="3.63" height="8.12" fill="#f1b0b4" stroke="none" stroke-width="0.6" />
<rect x="225.62" y="223.57" width="3.63" height="8.12" fill="#f1b3b7" stroke="none" stroke-width="0.6" />
<rect x="229.20" y="223.57" width="3.63" height="8.12" fill="#efa0a4" stroke="none" stroke-width="0.6" />
<rect x="232.78" y="223.57" width="3.63" height="8.12" fill="#f1aeb2" stroke="none" stroke-width="0.6" />
<rect x="236.36" y="223.57" width="3.63" height="8.12" fill="#f1b2b6" stroke="none" stroke-width="0.6" />
<rect x="239.94" y="223.57" width="3.63" height="8.12" fill="#ee9a9f" stroke="none" stroke-width="0.6" />
<rect x="243.52" y="223.57" width="3.63" height="8.12" fill="#ec8d93" stroke="none" stroke-width="0.6" />
<rect x="247.10" y="223.57" width="3.63" height="8.12" fill="#f1aeb2" stroke="none" stroke-width="0.6" />
<rect x="250.68" y="223.57" width="3.63" height="8.12" fill="#ee9a9f" stroke="none" stroke-width="0.6" />
<rect x="254.26" y="223.57" width="3.63" height="8.12" fill="#f0a8ad" stroke="none" stroke-width="0.6" />
<rect x="257.83" y="223.57" width="3.63" height="8.12" fill="#ed9298" stroke="none" stroke-width="0.6" />
<rect x="261.41" y="223.57" width="3.63" height="8.12" fill="#efa0a5" stroke="none" stroke-width="0.6" />
<rect x="264.99" y="223.57" width="3.63" height="8.12" fill="#f1b0b4" stroke="none" stroke-width="0.6" />
<rect x="268.57" y="223.57" width="3.63" height="8.12" fill="#f1b2b6" stroke="none" stroke-width="0.6" />
<rect x="272.15" y="223.57" width="3.63" height="8.12" fill="#f3bcc0" stroke="none" stroke-width="0.6" />
<rect x="275.73" y="223.57" width="3.63" height="8.12" fill="#efa5aa" stroke="none" stroke-width="0.6" />
<rect x="279.31" y="223.57" width="3.63" height="8.12" fill="#f0aaae" stroke="none" stroke-width="0.6" />
<rect x="282.89" y="223.57" width="3.63" height="8.12" fill="#f2b5b8" stroke="none" stroke-width="0.6" />
<rect x="286.47" y="223.57" width="3.63" height="8.12" fill="#f0abaf" stroke="none" stroke-width="0.6" />
<rect x="290.05" y="223.57" width="3.63" height="8.12" fill="#f1adb1" stroke="none" stroke-width="0.6" />
<rect x="293.63" y="223.57" width="3.63" height="8.12" fill="#ee969b" stroke="none" stroke-width="0.6" />
<rect x="297.20" y="223.57" width="3.63" height="8.12" fill="#f2b6ba" stroke="none" stroke-width="0.6" />
<rect x="300.78" y="223.57" width="3.63" height="8.12" fill="#ec8b91" stroke="none" stroke-width="0.6" />
<rect x="304.36" y="223.57" width="3.63" height="8.12" fill="#efa5aa" stroke="none" stroke-width="0.6" />
<rect x="307.94" y="223.57" width="3.63" height="8.12" fill="#ef9fa4" stroke="none" stroke-width="0.6" />
<rect x="311.52" y="223.57" width="3.63" height="8.12" fill="#f0a6aa" stroke="none" stroke-width="0.6" />
<rect x="315.10" y="223.57" width="3.63" height="8.12" fill="#ed9398" stroke="none" stroke-width="0.6" />
<rect x="318.68" y="223.57" width="3.63" height="8.12" fill="#ed9499" stroke="none" stroke-width="0.6" />
<rect x="322.26" y="223.57" width="3.63" height="8.12" fill="#efa1a6" stroke="none" stroke-width="0.6" />
<rect x="325.84" y="223.57" width="3.63" height="8.12" fill="#efa5aa" stroke="none" stroke-width="0.6" />
<rect x="329.42" y="223.57" width="3.63" height="8.12" fill="#ee999e" stroke="none" stroke-width="0.6" />
<rect x="333.00" y="223.57" width="3.63" height="8.12" fill="#ed9297" stroke="none" stroke-width="0.6" />
<rect x="336.57" y="223.57" width="3.63" height="8.12" fill="#f0a9ad" stroke="none" stroke-width="0.6" />
<rect x="340.15" y="223.57" width="3.63" height="8.12" fill="#ee989d" stroke="none" stroke-width="0.6" />
<rect x="343.73" y="223.57" width="3.63" height="8.12" fill="#ec8d92" stroke="none" stroke-width="0.6" />
<rect x="347.31" y="223.57" width="3.63" height="8.12" fill="#f0a6aa" stroke="none" stroke-width="0.6" />
<rect x="350.89" y="223.57" width="3.63" height="8.12" fill="#f1b2b6" stroke="none" stroke-width="0.6" />
<rect x="354.47" y="223.57" width="3.63" height="8.12" fill="#f1b2b5" stroke="none" stroke-width="0.6" />
<rect x="358.05" y="223.57" width="3.63" height="8.12" fill="#ee999e" stroke="none" stroke-width="0.6" />
<rect x="361.63" y="223.57" width="3.63" height="8.12" fill="#ee9ba0" stroke="none" stroke-width="0.6" />
<rect x="365.21" y="223.57" width="3.63" height="8.12" fill="#ec8d92" stroke="none" stroke-width="0.6" />
<rect x="368.79" y="223.57" width="3.63" height="8.12" fill="#ed9298" stroke="none" stroke-width="0.6" />
<rect x="372.37" y="223.57" width="3.63" height="8.12" fill="#f1b1b5" stroke="none" stroke-width="0.6" />
<rect x="375.94" y="223.57" width="3.63" height="8.12" fill="#f1b4b8" stroke="none" stroke-width="0.6" />
<rect x="379.52" y="223.57" width="3.63" height="8.12" fill="#f1b0b4" stroke="none" stroke-width="0.6" />
<rect x="383.10" y="223.57" width="3.63" height="8.12" fill="#f1b4b8" stroke="none" stroke-width="0.6" />
<rect x="386.68" y="223.57" width="3.63" height="8.12" fill="#ee9a9f" stroke="none" stroke-width="0.6" />
<rect x="390.26" y="223.57" width="3.63" height="8.12" fill="#ed9297" stroke="none" stroke-width="0.6" />
<rect x="393.84" y="223.57" width="3.63" height="8.12" fill="#ed9095" stroke="none" stroke-width="0.6" />
<rect x="397.42" y="223.57" width="3.63" height="8.12" fill="#f1b1b4" stroke="none" stroke-width="0.6" />
<rect x="401.00" y="223.57" width="3.63" height="8.12" fill="#ed9197" stroke="none" stroke-width="0.6" />
<rect x="404.58" y="223.57" width="3.63" height="8.12" fill="#f1aeb2" stroke="none" stroke-width="0.6" />
<rect x="408.16" y="223.57" width="3.63" height="8.12" fill="#f0a8ac" stroke="none" stroke-width="0.6" />
<rect x="411.73" y="223.57" width="3.63" height="8.12" fill="#ee989e" stroke="none" stroke-width="0.6" />
<rect x="415.31" y="223.57" width="3.63" height="8.12" fill="#f2b9bd" stroke="none" stroke-width="0.6" />
<rect x="418.89" y="223.57" width="3.63" height="8.12" fill="#f2b9bc" stroke="none" stroke-width="0.6" />
<rect x="422.47" y="223.57" width="3.63" height="8.12" fill="#ed9399" stroke="none" stroke-width="0.6" />
<rect x="426.05" y="223.57" width="3.63" height="8.12" fill="#f1afb3" stroke="none" stroke-width="0.6" />
<rect x="429.63" y="223.57" width="3.63" height="8.12" fill="#f0abb0" stroke="none" stroke-width="0.6" />
<rect x="433.21" y="223.57" width="3.63" height="8.12" fill="#efa0a5" stroke="none" stroke-width="0.6" />
<rect x="436.79" y="223.57" width="3.63" height="8.12" fill="#ee9ba0" stroke="none" stroke-width="0.6" />
<rect x="440.37" y="223.57" width="3.63" height="8.12" fill="#f3bdc0" stroke="none" stroke-width="0.6" />
<rect x="443.95" y="223.57" width="3.63" height="8.12" fill="#f0adb1" stroke="none" stroke-width="0.6" />
<rect x="447.53" y="223.57" width="3.63" height="8.12" fill="#e2414b" stroke="none" stroke-width="0.6" />
<rect x="451.10" y="223.57" width="3.63" height="8.12" fill="#efa5a9" stroke="none" stroke-width="0.6" />
<rect x="454.68" y="223.57" width="3.63" height="8.12" fill="#f1b3b7" stroke="none" stroke-width="0.6" />
<rect x="458.26" y="223.57" width="3.63" height="8.12" fill="#efa0a5" stroke="none" stroke-width="0.6" />
<rect x="461.84" y="223.57" width="3.63" height="8.12" fill="#ec8d93" stroke="none" stroke-width="0.6" />
<rect x="465.42" y="223.57" width="3.63" height="8.12" fill="#f0aaae" stroke="none" stroke-width="0.6" />
<rect x="161.20" y="231.63" width="3.63" height="8.12" fill="#f5cccf" stroke="none" stroke-width="0.6" />
<rect x="164.78" y="231.63" width="3.63" height="8.12" fill="#f8e2e3" stroke="none" stroke-width="0.6" />
<rect x="168.36" y="231.63" width="3.63" height="8.12" fill="#f6dadc" stroke="none" stroke-width="0.6" />
<rect x="171.94" y="231.63" width="3.63" height="8.12" fill="#f4c6c9" stroke="none" stroke-width="0.6" />
<rect x="175.52" y="231.63" width="3.63" height="8.12" fill="#f2b8bb" stroke="none" stroke-width="0.6" />
<rect x="179.10" y="231.63" width="3.63" height="8.12" fill="#ed9096" stroke="none" stroke-width="0.6" />
<rect x="182.67" y="231.63" width="3.63" height="8.12" fill="#ed8f95" stroke="none" stroke-width="0.6" />
<rect x="186.25" y="231.63" width="3.63" height="8.12" fill="#f2b9bc" stroke="none" stroke-width="0.6" />
<rect x="189.83" y="231.63" width="3.63" height="8.12" fill="#f2b8bc" stroke="none" stroke-width="0.6" />
<rect x="193.41" y="231.63" width="3.63" height="8.12" fill="#f6d5d7" stroke="none" stroke-width="0.6" />
<rect x="196.99" y="231.63" width="3.63" height="8.12" fill="#f3c1c4" stroke="none" stroke-width="0.6" />
<rect x="200.57" y="231.63" width="3.63" height="8.12" fill="#f3c2c4" stroke="none" stroke-width="0.6" />
<rect x="204.15" y="231.63" width="3.63" height="8.12" fill="#f6d9db" stroke="none" stroke-width="0.6" />
<rect x="207.73" y="231.63" width="3.63" height="8.12" fill="#f4c6c8" stroke="none" stroke-width="0.6" />
<rect x="211.31" y="231.63" width="3.63" height="8.12" fill="#f6d8d9" stroke="none" stroke-width="0.6" />
<rect x="214.89" y="231.63" width="3.63" height="8.12" fill="#f5d0d2" stroke="none" stroke-width="0.6" />
<rect x="218.47" y="231.63" width="3.63" height="8.12" fill="#f9ecec" stroke="none" stroke-width="0.6" />
<rect x="222.04" y="231.63" width="3.63" height="8.12" fill="#f5d3d5" stroke="none" stroke-width="0.6" />
<rect x="225.62" y="231.63" width="3.63" height="8.12" fill="#f2b7bb" stroke="none" stroke-width="0.6" />
<rect x="229.20" y="231.63" width="3.63" height="8.12" fill="#f4c6c8" stroke="none" stroke-width="0.6" />
<rect x="232.78" y="231.63" width="3.63" height="8.12" fill="#f5cdcf" stroke="none" stroke-width="0.6" />
<rect x="236.36" y="231.63" width="3.63" height="8.12" fill="#f8e2e3" stroke="none" stroke-width="0.6" />
<rect x="239.94" y="231.63" width="3.63" height="8.12" fill="#f5cfd1" stroke="none" stroke-width="0.6" />
<rect x="243.52" y="231.63" width="3.63" height="8.12" fill="#f6d6d8" stroke="none" stroke-width="0.6" />
<rect x="247.10" y="231.63" width="3.63" height="8.12" fill="#f3c4c6" stroke="none" stroke-width="0.6" />
<rect x="250.68" y="231.63" width="3.63" height="8.12" fill="#f4c6c8" stroke="none" stroke-width="0.6" />
<rect x="254.26" y="231.63" width="3.63" height="8.12" fill="#f5cbce" stroke="none" stroke-width="0.6" />
<rect x="257.83" y="231.63" width="3.63" height="8.12" fill="#f7dfe0" stroke="none" stroke-width="0.6" />
<rect x="261.41" y="231.63" width="3.63" height="8.12" fill="#f4c7ca" stroke="none" stroke-width="0.6" />
<rect x="264.99" y="231.63" width="3.63" height="8.12" fill="#f4c8cb" stroke="none" stroke-width="0.6" />
<rect x="268.57" y="231.63" width="3.63" height="8.12" fill="#f7dfe0" stroke="none" stroke-width="0.6" />
<rect x="272.15" y="231.63" width="3.63" height="8.12" fill="#f2bbbe" stroke="none" stroke-width="0.6" />
<rect x="275.73" y="231.63" width="3.63" height="8.12" fill="#f4c7c9" stroke="none" stroke-width="0.6" />
<rect x="279.31" y="231.63" width="3.63" height="8.12" fill="#f7e2e3" stroke="none" stroke-width="0.6" />
<rect x="282.89" y="231.63" width="3.63" height="8.12" fill="#f2b9bc" stroke="none" stroke-width="0.6" />
<rect x="286.47" y="231.63" width="3.63" height="8.12" fill="#f7e1e2" stroke="none" stroke-width="0.6" />
<rect x="290.05" y="231.63" width="3.63" height="8.12" fill="#f6d7d9" stroke="none" stroke-width="0.6" />
<rect x="293.63" y="231.63" width="3.63" height="8.12" fill="#f3c3c6" stroke="none" stroke-width="0.6" />
<rect x="297.20" y="231.63" width="3.63" height="8.12" fill="#f4cacc" stroke="none" stroke-width="0.6" />
<rect x="300.78" y="231.63" width="3.63" height="8.12" fill="#f5ccce" stroke="none" stroke-width="0.6" />
<rect x="304.36" y="231.63" width="3.63" height="8.12" fill="#f4c7ca" stroke="none" stroke-width="0.6" />
<rect x="307.94" y="231.63" width="3.63" height="8.12" fill="#f5d1d3" stroke="none" stroke-width="0.6" />
<rect x="311.52" y="231.63" width="3.63" height="8.12" fill="#f6d8da" stroke="none" stroke-width="0.6" />
<rect x="315.10" y="231.63" width="3.63" height="8.12" fill="#f7dfe0" stroke="none" stroke-width="0.6" />
<rect x="318.68" y="231.63" width="3.63" height="8.12" fill="#f8e5e6" stroke="none" stroke-width="0.6" />
<rect x="322.26" y="231.63" width="3.63" height="8.12" fill="#f4c4c6" stroke="none" stroke-width="0.6" />
<rect x="325.84" y="231.63" width="3.63" height="8.12" fill="#f3c2c5" stroke="none" stroke-width="0.6" />
<rect x="329.42" y="231.63" width="3.63" height="8.12" fill="#f5cccf" stroke="none" stroke-width="0.6" />
<rect x="333.00" y="231.63" width="3.63" height="8.12" fill="#f3c2c5" stroke="none" stroke-width="0.6" />
<rect x="336.57" y="231.63" width="3.63" height="8.12" fill="#f6d6d8" stroke="none" stroke-width="0.6" />
<rect x="340.15" y="231.63" width="3.63" height="8.12" fill="#f7dbdc" stroke="none" stroke-width="0.6" />
<rect x="343.73" y="231.63" width="3.63" height="8.12" fill="#f6d5d6" stroke="none" stroke-width="0.6" />
<rect x="347.31" y="231.63" width="3.63" height="8.12" fill="#f2bcbf" stroke="none" stroke-width="0.6" />
<rect x="350.89" y="231.63" width="3.63" height="8.12" fill="#f8e6e7" stroke="none" stroke-width="0.6" />
<rect x="354.47" y="231.63" width="3.63" height="8.12" fill="#f5ced1" stroke="none" stroke-width="0.6" />
<rect x="358.05" y="231.63" width="3.63" height="8.12" fill="#f7dcdd" stroke="none" stroke-width="0.6" />
<rect x="361.63" y="231.63" width="3.63" height="8.12" fill="#f3c1c4" stroke="none" stroke-width="0.6" />
<rect x="365.21" y="231.63" width="3.63" height="8.12" fill="#f6d6d8" stroke="none" stroke-width="0.6" />
<rect x="368.79" y="231.63" width="3.63" height="8.12" fill="#f6d7d9" stroke="none" stroke-width="0.6" />
<rect x="372.37" y="231.63" width="3.63" height="8.12" fill="#f6d4d5" stroke="none" stroke-width="0.6" />
<rect x="375.94" y="231.63" width="3.63" height="8.12" fill="#f5cdcf" stroke="none" stroke-width="0.6" />
<rect x="379.52" y="231.63" width="3.63" height="8.12" fill="#f3c1c4" stroke="none" stroke-width="0.6" />
<rect x="383.10" y="231.63" width="3.63" height="8.12" fill="#f6d6d8" stroke="none" stroke-width="0.6" />
<rect x="386.68" y="231.63" width="3.63" height="8.12" fill="#f3bdc0" stroke="none" stroke-width="0.6" />
<rect x="390.26" y="231.63" width="3.63" height="8.12" fill="#f8e2e4" stroke="none" stroke-width="0.6" />
<rect x="393.84" y="231.63" width="3.63" height="8.12" fill="#f7dadc" stroke="none" stroke-width="0.6" />
<rect x="397.42" y="231.63" width="3.63" height="8.12" fill="#f8e3e4" stroke="none" stroke-width="0.6" />
<rect x="401.00" y="231.63" width="3.63" height="8.12" fill="#f8e2e4" stroke="none" stroke-width="0.6" />
<rect x="404.58" y="231.63" width="3.63" height="8.12" fill="#f3c0c3" stroke="none" stroke-width="0.6" />
<rect x="408.16" y="231.63" width="3.63" height="8.12" fill="#f3c3c6" stroke="none" stroke-width="0.6" />
<rect x="411.73" y="231.63" width="3.63" height="8.12" fill="#f7dfe0" stroke="none" stroke-width="0.6" />
<rect x="415.31" y="231.63" width="3.63" height="8.12" fill="#f7dfe0" stroke="none" stroke-width="0.6" />
<rect x="418.89" y="231.63" width="3.63" height="8.12" fill="#f6d3d5" stroke="none" stroke-width="0.6" />
<rect x="422.47" y="231.63" width="3.63" height="8.12" fill="#f3c2c5" stroke="none" stroke-width="0.6" />
<rect x="426.05" y="231.63" width="3.63" height="8.12" fill="#f3bfc2" stroke="none" stroke-width="0.6" />
<rect x="429.63" y="231.63" width="3.63" height="8.12" fill="#f3c2c5" stroke="none" stroke-width="0.6" />
<rect x="433.21" y="231.63" width="3.63" height="8.12" fill="#f4cacc" stroke="none" stroke-width="0.6" />
<rect x="436.79" y="231.63" width="3.63" height="8.12" fill="#f7e1e2" stroke="none" stroke-width="0.6" />
<rect x="440.37" y="231.63" width="3.63" height="8.12" fill="#f6d4d6" stroke="none" stroke-width="0.6" />
<rect x="443.95" y="231.63" width="3.63" height="8.12" fill="#f7dee0" stroke="none" stroke-width="0.6" />
<rect x="447.53" y="231.63" width="3.63" height="8.12" fill="#f5cdcf" stroke="none" stroke-width="0.6" />
<rect x="451.10" y="231.63" width="3.63" height="8.12" fill="#f5cbce" stroke="none" stroke-width="0.6" />
<rect x="454.68" y="231.63" width="3.63" height="8.12" fill="#f7dedf" stroke="none" stroke-width="0.6" />
<rect x="458.26" y="231.63" width="3.63" height="8.12" fill="#f7dbdd" stroke="none" stroke-width="0.6" />
<rect x="461.84" y="231.63" width="3.63" height="8.12" fill="#f3c0c3" stroke="none" stroke-width="0.6" />
<rect x="465.42" y="231.63" width="3.63" height="8.12" fill="#a9a9cf" stroke="none" stroke-width="0.6" />
<rect x="161.20" y="185.90" width="14.80" height="4.80" fill="#2b3a9a" stroke="none" stroke-width="0.6" />
<rect x="176.00" y="185.90" width="7.70" height="4.80" fill="#ea4d3a" stroke="none" stroke-width="0.6" />
<rect x="183.70" y="185.90" width="27.70" height="4.80" fill="#2b3a9a" stroke="none" stroke-width="0.6" />
<rect x="211.40" y="185.90" width="162.80" height="4.80" fill="#2f86c0" stroke="none" stroke-width="0.6" />
<rect x="374.20" y="185.90" width="3.80" height="4.80" fill="#92d08a" stroke="none" stroke-width="0.6" />
<rect x="378.00" y="185.90" width="69.50" height="4.80" fill="#2f86c0" stroke="none" stroke-width="0.6" />
<rect x="447.50" y="185.90" width="21.50" height="4.80" fill="#92d08a" stroke="none" stroke-width="0.6" />
<line x1="166.57" y1="184.41" x2="170.15" y2="184.41" stroke="#2a2a2a" stroke-width="0.6" />
<line x1="166.57" y1="184.41" x2="166.57" y2="184.89" stroke="#2a2a2a" stroke-width="0.6" />
<line x1="170.15" y1="184.41" x2="170.15" y2="184.79" stroke="#2a2a2a" stroke-width="0.6" />
<line x1="162.99" y1="182.55" x2="168.36" y2="182.55" stroke="#2a2a2a" stroke-width="0.6" />
<line x1="162.99" y1="182.55" x2="162.99" y2="184.49" stroke="#2a2a2a" stroke-width="0.6" />
<line x1="168.36" y1="182.55" x2="168.36" y2="184.41" stroke="#2a2a2a" stroke-width="0.6" />
<line x1="165.67" y1="180.50" x2="173.73" y2="180.50" stroke="#2a2a2a" stroke-width="0.6" />
<line x1="165.67" y1="180.50" x2="165.67" y2="182.55" stroke="#2a2a2a" stroke-width="0.6" />
<line x1="173.73" y1="180.50" x2="173.73" y2="182.76" stroke="#2a2a2a" stroke-width="0.6" />
<line x1="180.88" y1="182.67" x2="184.46" y2="182.67" stroke="#2a2a2a" stroke-width="0.6" />
<line x1="180.88" y1="182.67" x2="180.88" y2="183.84" stroke="#2a2a2a" stroke-width="0.6" />
<line x1="184.46" y1="182.67" x2="184.46" y2="184.40" stroke="#2a2a2a" stroke-width="0.6" />
<line x1="177.31" y1="181.15" x2="182.67" y2="181.15" stroke="#2a2a2a" stroke-width="0.6" />
<line x1="177.31" y1="181.15" x2="177.31" y2="183.16" stroke="#2a2a2a" stroke-width="0.6" />
<line x1="182.67" y1="181.15" x2="182.67" y2="182.67" stroke="#2a2a2a" stroke-width="0.6" />
<line x1="188.04" y1="184.30" x2="191.62" y2="184.30" stroke="#2a2a2a" stroke-width="0.6" />
<line x1="188.04" y1="184.30" x2="188.04" y2="184.76" stroke="#2a2a2a" stroke-width="0.6" />
<line x1="191.62" y1="184.30" x2="191.62" y2="185.01" stroke="#2a2a2a" stroke-width="0.6" />
<line x1="195.20" y1="184.82" x2="198.78" y2="184.82" stroke="#2a2a2a" stroke-width="0.6" />
<line x1="195.20" y1="184.82" x2="195.20" y2="185.09" stroke="#2a2a2a" stroke-width="0.6" />
<line x1="198.78" y1="184.82" x2="198.78" y2="185.05" stroke="#2a2a2a" stroke-width="0.6" />
<line x1="189.83" y1="183.55" x2="196.99" y2="183.55" stroke="#2a2a2a" stroke-width="0.6" />
<line x1="189.83" y1="183.55" x2="189.83" y2="184.30" stroke="#2a2a2a" stroke-width="0.6" />
<line x1="196.99" y1="183.55" x2="196.99" y2="184.82" stroke="#2a2a2a" stroke-width="0.6" />
<line x1="205.94" y1="184.89" x2="209.52" y2="184.89" stroke="#2a2a2a" stroke-width="0.6" />
<line x1="205.94" y1="184.89" x2="205.94" y2="185.38" stroke="#2a2a2a" stroke-width="0.6" />
<line x1="209.52" y1="184.89" x2="209.52" y2="185.35" stroke="#2a2a2a" stroke-width="0.6" />
<line x1="202.36" y1="184.44" x2="207.73" y2="184.44" stroke="#2a2a2a" stroke-width="0.6" />
<line x1="202.36" y1="184.44" x2="202.36" y2="184.88" stroke="#2a2a2a" stroke-width="0.6" />
<line x1="207.73" y1="184.44" x2="207.73" y2="184.89" stroke="#2a2a2a" stroke-width="0.6" />
<line x1="193.41" y1="182.12" x2="205.04" y2="182.12" stroke="#2a2a2a" stroke-width="0.6" />
<line x1="193.41" y1="182.12" x2="193.41" y2="183.55" stroke="#2a2a2a" stroke-width="0.6" />
<line x1="205.04" y1="182.12" x2="205.04" y2="184.44" stroke="#2a2a2a" stroke-width="0.6" />
<line x1="179.99" y1="178.80" x2="199.23" y2="178.80" stroke="#2a2a2a" stroke-width="0.6" />
<line x1="179.99" y1="178.80" x2="179.99" y2="181.15" stroke="#2a2a2a" stroke-width="0.6" />
<line x1="199.23" y1="178.80" x2="199.23" y2="182.12" stroke="#2a2a2a" stroke-width="0.6" />
<line x1="169.70" y1="176.60" x2="189.61" y2="176.60" stroke="#2a2a2a" stroke-width="0.6" />
<line x1="169.70" y1="176.60" x2="169.70" y2="180.50" stroke="#2a2a2a" stroke-width="0.6" />
<line x1="189.61" y1="176.60" x2="189.61" y2="178.80" stroke="#2a2a2a" stroke-width="0.6" />
<line x1="213.10" y1="184.37" x2="216.68" y2="184.37" stroke="#2a2a2a" stroke-width="0.6" />
<line x1="213.10" y1="184.37" x2="213.10" y2="184.84" stroke="#2a2a2a" stroke-width="0.6" />
<line x1="216.68" y1="184.37" x2="216.68" y2="185.22" stroke="#2a2a2a" stroke-width="0.6" />
<line x1="220.25" y1="185.25" x2="223.83" y2="185.25" stroke="#2a2a2a" stroke-width="0.6" />
<line x1="220.25" y1="185.25" x2="220.25" y2="185.38" stroke="#2a2a2a" stroke-width="0.6" />
<line x1="223.83" y1="185.25" x2="223.83" y2="185.37" stroke="#2a2a2a" stroke-width="0.6" />
<line x1="222.04" y1="184.99" x2="227.41" y2="184.99" stroke="#2a2a2a" stroke-width="0.6" />
<line x1="222.04" y1="184.99" x2="222.04" y2="185.25" stroke="#2a2a2a" stroke-width="0.6" />
<line x1="227.41" y1="184.99" x2="227.41" y2="185.26" stroke="#2a2a2a" stroke-width="0.6" />
<line x1="214.89" y1="183.65" x2="224.73" y2="183.65" stroke="#2a2a2a" stroke-width="0.6" />
<line x1="214.89" y1="183.65" x2="214.89" y2="184.37" stroke="#2a2a2a" stroke-width="0.6" />
<line x1="224.73" y1="183.65" x2="224.73" y2="184.99" stroke="#2a2a2a" stroke-width="0.6" />
<line x1="234.57" y1="185.41" x2="238.15" y2="185.41" stroke="#2a2a2a" stroke-width="0.6" />
<line x1="234.57" y1="185.41" x2="234.57" y2="185.50" stroke="#2a2a2a" stroke-width="0.6" />
<line x1="238.15" y1="185.41" x2="238.15" y2="185.52" stroke="#2a2a2a" stroke-width="0.6" />
<line x1="236.36" y1="185.23" x2="241.73" y2="185.23" stroke="#2a2a2a" stroke-width="0.6" />
<line x1="236.36" y1="185.23" x2="236.36" y2="185.41" stroke="#2a2a2a" stroke-width="0.6" />
<line x1="241.73" y1="185.23" x2="241.73" y2="185.39" stroke="#2a2a2a" stroke-width="0.6" />
<line x1="245.31" y1="185.29" x2="248.89" y2="185.29" stroke="#2a2a2a" stroke-width="0.6" />
<line x1="245.31" y1="185.29" x2="245.31" y2="185.39" stroke="#2a2a2a" stroke-width="0.6" />
<line x1="248.89" y1="185.29" x2="248.89" y2="185.50" stroke="#2a2a2a" stroke-width="0.6" />
<line x1="239.04" y1="185.05" x2="247.10" y2="185.05" stroke="#2a2a2a" stroke-width="0.6" />
<line x1="239.04" y1="185.05" x2="239.04" y2="185.23" stroke="#2a2a2a" stroke-width="0.6" />
<line x1="247.10" y1="185.05" x2="247.10" y2="185.29" stroke="#2a2a2a" stroke-width="0.6" />
<line x1="243.07" y1="184.81" x2="252.47" y2="184.81" stroke="#2a2a2a" stroke-width="0.6" />
<line x1="243.07" y1="184.81" x2="243.07" y2="185.05" stroke="#2a2a2a" stroke-width="0.6" />
<line x1="252.47" y1="184.81" x2="252.47" y2="185.26" stroke="#2a2a2a" stroke-width="0.6" />
<line x1="230.99" y1="183.49" x2="247.77" y2="183.49" stroke="#2a2a2a" stroke-width="0.6" />
<line x1="230.99" y1="183.49" x2="230.99" y2="184.40" stroke="#2a2a2a" stroke-width="0.6" />
<line x1="247.77" y1="183.49" x2="247.77" y2="184.81" stroke="#2a2a2a" stroke-width="0.6" />
<line x1="219.81" y1="182.20" x2="239.38" y2="182.20" stroke="#2a2a2a" stroke-width="0.6" />
<line x1="219.81" y1="182.20" x2="219.81" y2="183.65" stroke="#2a2a2a" stroke-width="0.6" />
<line x1="239.38" y1="182.20" x2="239.38" y2="183.49" stroke="#2a2a2a" stroke-width="0.6" />
<line x1="259.62" y1="184.75" x2="263.20" y2="184.75" stroke="#2a2a2a" stroke-width="0.6" />
<line x1="259.62" y1="184.75" x2="259.62" y2="185.16" stroke="#2a2a2a" stroke-width="0.6" />
<line x1="263.20" y1="184.75" x2="263.20" y2="185.25" stroke="#2a2a2a" stroke-width="0.6" />
<line x1="266.78" y1="185.04" x2="270.36" y2="185.04" stroke="#2a2a2a" stroke-width="0.6" />
<line x1="266.78" y1="185.04" x2="266.78" y2="185.35" stroke="#2a2a2a" stroke-width="0.6" />
<line x1="270.36" y1="185.04" x2="270.36" y2="185.42" stroke="#2a2a2a" stroke-width="0.6" />
<line x1="261.41" y1="184.06" x2="268.57" y2="184.06" stroke="#2a2a2a" stroke-width="0.6" />
<line x1="261.41" y1="184.06" x2="261.41" y2="184.75" stroke="#2a2a2a" stroke-width="0.6" />
<line x1="268.57" y1="184.06" x2="268.57" y2="185.04" stroke="#2a2a2a" stroke-width="0.6" />
<line x1="277.52" y1="185.32" x2="281.10" y2="185.32" stroke="#2a2a2a" stroke-width="0.6" />
<line x1="277.52" y1="185.32" x2="277.52" y2="185.51" stroke="#2a2a2a" stroke-width="0.6" />
<line x1="281.10" y1="185.32" x2="281.10" y2="185.44" stroke="#2a2a2a" stroke-width="0.6" />
<line x1="273.94" y1="184.74" x2="279.31" y2="184.74" stroke="#2a2a2a" stroke-width="0.6" />
<line x1="273.94" y1="184.74" x2="273.94" y2="185.26" stroke="#2a2a2a" stroke-width="0.6" />
<line x1="279.31" y1="184.74" x2="279.31" y2="185.32" stroke="#2a2a2a" stroke-width="0.6" />
<line x1="264.99" y1="183.37" x2="276.62" y2="183.37" stroke="#2a2a2a" stroke-width="0.6" />
<line x1="264.99" y1="183.37" x2="264.99" y2="184.06" stroke="#2a2a2a" stroke-width="0.6" />
<line x1="276.62" y1="183.37" x2="276.62" y2="184.74" stroke="#2a2a2a" stroke-width="0.6" />
<line x1="256.05" y1="181.60" x2="270.81" y2="181.60" stroke="#2a2a2a" stroke-width="0.6" />
<line x1="256.05" y1="181.60" x2="256.05" y2="184.32" stroke="#2a2a2a" stroke-width="0.6" />
<line x1="270.81" y1="181.60" x2="270.81" y2="183.37" stroke="#2a2a2a" stroke-width="0.6" />
<line x1="229.59" y1="180.80" x2="263.43" y2="180.80" stroke="#2a2a2a" stroke-width="0.6" />
<line x1="229.59" y1="180.80" x2="229.59" y2="182.20" stroke="#2a2a2a" stroke-width="0.6" />
<line x1="263.43" y1="180.80" x2="263.43" y2="181.60" stroke="#2a2a2a" stroke-width="0.6" />
<line x1="284.68" y1="185.51" x2="288.26" y2="185.51" stroke="#2a2a2a" stroke-width="0.6" />
<line x1="284.68" y1="185.51" x2="284.68" y2="185.54" stroke="#2a2a2a" stroke-width="0.6" />
<line x1="288.26" y1="185.51" x2="288.26" y2="185.55" stroke="#2a2a2a" stroke-width="0.6" />
<line x1="291.84" y1="185.50" x2="295.42" y2="185.50" stroke="#2a2a2a" stroke-width="0.6" />
<line x1="291.84" y1="185.50" x2="291.84" y2="185.56" stroke="#2a2a2a" stroke-width="0.6" />
<line x1="295.42" y1="185.50" x2="295.42" y2="185.53" stroke="#2a2a2a" stroke-width="0.6" />
<line x1="286.47" y1="185.42" x2="293.63" y2="185.42" stroke="#2a2a2a" stroke-width="0.6" />
<line x1="286.47" y1="185.42" x2="286.47" y2="185.51" stroke="#2a2a2a" stroke-width="0.6" />
<line x1="293.63" y1="185.42" x2="293.63" y2="185.50" stroke="#2a2a2a" stroke-width="0.6" />
<line x1="298.99" y1="185.38" x2="302.57" y2="185.38" stroke="#2a2a2a" stroke-width="0.6" />
<line x1="298.99" y1="185.38" x2="298.99" y2="185.50" stroke="#2a2a2a" stroke-width="0.6" />
<line x1="302.57" y1="185.38" x2="302.57" y2="185.51" stroke="#2a2a2a" stroke-width="0.6" />
<line x1="300.78" y1="185.22" x2="306.15" y2="185.22" stroke="#2a2a2a" stroke-width="0.6" />
<line x1="300.78" y1="185.22" x2="300.78" y2="185.38" stroke="#2a2a2a" stroke-width="0.6" />
<line x1="306.15" y1="185.22" x2="306.15" y2="185.46" stroke="#2a2a2a" stroke-width="0.6" />
<line x1="290.05" y1="185.03" x2="303.47" y2="185.03" stroke="#2a2a2a" stroke-width="0.6" />
<line x1="290.05" y1="185.03" x2="290.05" y2="185.42" stroke="#2a2a2a" stroke-width="0.6" />
<line x1="303.47" y1="185.03" x2="303.47" y2="185.22" stroke="#2a2a2a" stroke-width="0.6" />
<line x1="296.76" y1="184.56" x2="309.73" y2="184.56" stroke="#2a2a2a" stroke-width="0.6" />
<line x1="296.76" y1="184.56" x2="296.76" y2="185.03" stroke="#2a2a2a" stroke-width="0.6" />
<line x1="309.73" y1="184.56" x2="309.73" y2="185.00" stroke="#2a2a2a" stroke-width="0.6" />
<line x1="313.31" y1="185.41" x2="316.89" y2="185.41" stroke="#2a2a2a" stroke-width="0.6" />
<line x1="313.31" y1="185.41" x2="313.31" y2="185.47" stroke="#2a2a2a" stroke-width="0.6" />
<line x1="316.89" y1="185.41" x2="316.89" y2="185.54" stroke="#2a2a2a" stroke-width="0.6" />
<line x1="320.47" y1="185.20" x2="324.05" y2="185.20" stroke="#2a2a2a" stroke-width="0.6" />
<line x1="320.47" y1="185.20" x2="320.47" y2="185.40" stroke="#2a2a2a" stroke-width="0.6" />
<line x1="324.05" y1="185.20" x2="324.05" y2="185.38" stroke="#2a2a2a" stroke-width="0.6" />
<line x1="315.10" y1="184.97" x2="322.26" y2="184.97" stroke="#2a2a2a" stroke-width="0.6" />
<line x1="315.10" y1="184.97" x2="315.10" y2="185.41" stroke="#2a2a2a" stroke-width="0.6" />
<line x1="322.26" y1="184.97" x2="322.26" y2="185.20" stroke="#2a2a2a" stroke-width="0.6" />
<line x1="303.24" y1="184.02" x2="318.68" y2="184.02" stroke="#2a2a2a" stroke-width="0.6" />
<line x1="303.24" y1="184.02" x2="303.24" y2="184.56" stroke="#2a2a2a" stroke-width="0.6" />
<line x1="318.68" y1="184.02" x2="318.68" y2="184.97" stroke="#2a2a2a" stroke-width="0.6" />
<line x1="327.63" y1="185.02" x2="331.21" y2="185.02" stroke="#2a2a2a" stroke-width="0.6" />
<line x1="327.63" y1="185.02" x2="327.63" y2="185.21" stroke="#2a2a2a" stroke-width="0.6" />
<line x1="331.21" y1="185.02" x2="331.21" y2="185.41" stroke="#2a2a2a" stroke-width="0.6" />
<line x1="334.78" y1="185.01" x2="338.36" y2="185.01" stroke="#2a2a2a" stroke-width="0.6" />
<line x1="334.78" y1="185.01" x2="334.78" y2="185.19" stroke="#2a2a2a" stroke-width="0.6" />
<line x1="338.36" y1="185.01" x2="338.36" y2="185.30" stroke="#2a2a2a" stroke-width="0.6" />
<line x1="329.42" y1="184.49" x2="336.57" y2="184.49" stroke="#2a2a2a" stroke-width="0.6" />
<line x1="329.42" y1="184.49" x2="329.42" y2="185.02" stroke="#2a2a2a" stroke-width="0.6" />
<line x1="336.57" y1="184.49" x2="336.57" y2="185.01" stroke="#2a2a2a" stroke-width="0.6" />
<line x1="341.94" y1="184.59" x2="345.52" y2="184.59" stroke="#2a2a2a" stroke-width="0.6" />
<line x1="341.94" y1="184.59" x2="341.94" y2="185.28" stroke="#2a2a2a" stroke-width="0.6" />
<line x1="345.52" y1="184.59" x2="345.52" y2="185.15" stroke="#2a2a2a" stroke-width="0.6" />
<line x1="356.26" y1="185.53" x2="359.84" y2="185.53" stroke="#2a2a2a" stroke-width="0.6" />
<line x1="356.26" y1="185.53" x2="356.26" y2="185.58" stroke="#2a2a2a" stroke-width="0.6" />
<line x1="359.84" y1="185.53" x2="359.84" y2="185.58" stroke="#2a2a2a" stroke-width="0.6" />
<line x1="352.68" y1="185.38" x2="358.05" y2="185.38" stroke="#2a2a2a" stroke-width="0.6" />
<line x1="352.68" y1="185.38" x2="352.68" y2="185.49" stroke="#2a2a2a" stroke-width="0.6" />
<line x1="358.05" y1="185.38" x2="358.05" y2="185.53" stroke="#2a2a2a" stroke-width="0.6" />
<line x1="349.10" y1="185.18" x2="355.36" y2="185.18" stroke="#2a2a2a" stroke-width="0.6" />
<line x1="349.10" y1="185.18" x2="349.10" y2="185.32" stroke="#2a2a2a" stroke-width="0.6" />
<line x1="355.36" y1="185.18" x2="355.36" y2="185.38" stroke="#2a2a2a" stroke-width="0.6" />
<line x1="352.23" y1="184.97" x2="363.42" y2="184.97" stroke="#2a2a2a" stroke-width="0.6" />
<line x1="352.23" y1="184.97" x2="352.23" y2="185.18" stroke="#2a2a2a" stroke-width="0.6" />
<line x1="363.42" y1="184.97" x2="363.42" y2="185.27" stroke="#2a2a2a" stroke-width="0.6" />
<line x1="343.73" y1="184.05" x2="357.83" y2="184.05" stroke="#2a2a2a" stroke-width="0.6" />
<line x1="343.73" y1="184.05" x2="343.73" y2="184.59" stroke="#2a2a2a" stroke-width="0.6" />
<line x1="357.83" y1="184.05" x2="357.83" y2="184.97" stroke="#2a2a2a" stroke-width="0.6" />
<line x1="333.00" y1="182.84" x2="350.78" y2="182.84" stroke="#2a2a2a" stroke-width="0.6" />
<line x1="333.00" y1="182.84" x2="333.00" y2="184.49" stroke="#2a2a2a" stroke-width="0.6" />
<line x1="350.78" y1="182.84" x2="350.78" y2="184.05" stroke="#2a2a2a" stroke-width="0.6" />
<line x1="310.96" y1="181.00" x2="341.89" y2="181.00" stroke="#2a2a2a" stroke-width="0.6" />
<line x1="310.96" y1="181.00" x2="310.96" y2="184.02" stroke="#2a2a2a" stroke-width="0.6" />
<line x1="341.89" y1="181.00" x2="341.89" y2="182.84" stroke="#2a2a2a" stroke-width="0.6" />
<line x1="247.40" y1="180.00" x2="326.42" y2="180.00" stroke="#2a2a2a" stroke-width="0.6" />
<line x1="247.40" y1="180.00" x2="247.40" y2="180.80" stroke="#2a2a2a" stroke-width="0.6" />
<line x1="326.42" y1="180.00" x2="326.42" y2="181.00" stroke="#2a2a2a" stroke-width="0.6" />
<line x1="367.00" y1="185.39" x2="370.58" y2="185.39" stroke="#2a2a2a" stroke-width="0.6" />
<line x1="367.00" y1="185.39" x2="367.00" y2="185.52" stroke="#2a2a2a" stroke-width="0.6" />
<line x1="370.58" y1="185.39" x2="370.58" y2="185.50" stroke="#2a2a2a" stroke-width="0.6" />
<line x1="368.79" y1="184.99" x2="374.15" y2="184.99" stroke="#2a2a2a" stroke-width="0.6" />
<line x1="368.79" y1="184.99" x2="368.79" y2="185.39" stroke="#2a2a2a" stroke-width="0.6" />
<line x1="374.15" y1="184.99" x2="374.15" y2="185.20" stroke="#2a2a2a" stroke-width="0.6" />
<line x1="377.73" y1="185.29" x2="381.31" y2="185.29" stroke="#2a2a2a" stroke-width="0.6" />
<line x1="377.73" y1="185.29" x2="377.73" y2="185.42" stroke="#2a2a2a" stroke-width="0.6" />
<line x1="381.31" y1="185.29" x2="381.31" y2="185.39" stroke="#2a2a2a" stroke-width="0.6" />
<line x1="384.89" y1="185.43" x2="388.47" y2="185.43" stroke="#2a2a2a" stroke-width="0.6" />
<line x1="384.89" y1="185.43" x2="384.89" y2="185.51" stroke="#2a2a2a" stroke-width="0.6" />
<line x1="388.47" y1="185.43" x2="388.47" y2="185.48" stroke="#2a2a2a" stroke-width="0.6" />
<line x1="386.68" y1="185.25" x2="392.05" y2="185.25" stroke="#2a2a2a" stroke-width="0.6" />
<line x1="386.68" y1="185.25" x2="386.68" y2="185.43" stroke="#2a2a2a" stroke-width="0.6" />
<line x1="392.05" y1="185.25" x2="392.05" y2="185.43" stroke="#2a2a2a" stroke-width="0.6" />
<line x1="379.52" y1="184.90" x2="389.37" y2="184.90" stroke="#2a2a2a" stroke-width="0.6" />
<line x1="379.52" y1="184.90" x2="379.52" y2="185.29" stroke="#2a2a2a" stroke-width="0.6" />
<line x1="389.37" y1="184.90" x2="389.37" y2="185.25" stroke="#2a2a2a" stroke-width="0.6" />
<line x1="371.47" y1="184.40" x2="384.44" y2="184.40" stroke="#2a2a2a" stroke-width="0.6" />
<line x1="371.47" y1="184.40" x2="371.47" y2="184.99" stroke="#2a2a2a" stroke-width="0.6" />
<line x1="384.44" y1="184.40" x2="384.44" y2="184.90" stroke="#2a2a2a" stroke-width="0.6" />
<line x1="395.63" y1="184.92" x2="399.21" y2="184.92" stroke="#2a2a2a" stroke-width="0.6" />
<line x1="395.63" y1="184.92" x2="395.63" y2="185.33" stroke="#2a2a2a" stroke-width="0.6" />
<line x1="399.21" y1="184.92" x2="399.21" y2="185.22" stroke="#2a2a2a" stroke-width="0.6" />
<line x1="402.79" y1="184.90" x2="406.37" y2="184.90" stroke="#2a2a2a" stroke-width="0.6" />
<line x1="402.79" y1="184.90" x2="402.79" y2="185.31" stroke="#2a2a2a" stroke-width="0.6" />
<line x1="406.37" y1="184.90" x2="406.37" y2="185.19" stroke="#2a2a2a" stroke-width="0.6" />
<line x1="397.42" y1="183.99" x2="404.58" y2="183.99" stroke="#2a2a2a" stroke-width="0.6" />
<line x1="397.42" y1="183.99" x2="397.42" y2="184.92" stroke="#2a2a2a" stroke-width="0.6" />
<line x1="404.58" y1="183.99" x2="404.58" y2="184.90" stroke="#2a2a2a" stroke-width="0.6" />
<line x1="377.96" y1="181.80" x2="401.00" y2="181.80" stroke="#2a2a2a" stroke-width="0.6" />
<line x1="377.96" y1="181.80" x2="377.96" y2="184.40" stroke="#2a2a2a" stroke-width="0.6" />
<line x1="401.00" y1="181.80" x2="401.00" y2="183.99" stroke="#2a2a2a" stroke-width="0.6" />
<line x1="409.95" y1="184.98" x2="413.52" y2="184.98" stroke="#2a2a2a" stroke-width="0.6" />
<line x1="409.95" y1="184.98" x2="409.95" y2="185.30" stroke="#2a2a2a" stroke-width="0.6" />
<line x1="413.52" y1="184.98" x2="413.52" y2="185.23" stroke="#2a2a2a" stroke-width="0.6" />
<line x1="417.10" y1="185.30" x2="420.68" y2="185.30" stroke="#2a2a2a" stroke-width="0.6" />
<line x1="417.10" y1="185.30" x2="417.10" y2="185.48" stroke="#2a2a2a" stroke-width="0.6" />
<line x1="420.68" y1="185.30" x2="420.68" y2="185.49" stroke="#2a2a2a" stroke-width="0.6" />
<line x1="418.89" y1="185.06" x2="424.26" y2="185.06" stroke="#2a2a2a" stroke-width="0.6" />
<line x1="418.89" y1="185.06" x2="418.89" y2="185.30" stroke="#2a2a2a" stroke-width="0.6" />
<line x1="424.26" y1="185.06" x2="424.26" y2="185.36" stroke="#2a2a2a" stroke-width="0.6" />
<line x1="421.58" y1="184.69" x2="427.84" y2="184.69" stroke="#2a2a2a" stroke-width="0.6" />
<line x1="421.58" y1="184.69" x2="421.58" y2="185.06" stroke="#2a2a2a" stroke-width="0.6" />
<line x1="427.84" y1="184.69" x2="427.84" y2="185.07" stroke="#2a2a2a" stroke-width="0.6" />
<line x1="411.73" y1="184.29" x2="424.71" y2="184.29" stroke="#2a2a2a" stroke-width="0.6" />
<line x1="411.73" y1="184.29" x2="411.73" y2="184.98" stroke="#2a2a2a" stroke-width="0.6" />
<line x1="424.71" y1="184.29" x2="424.71" y2="184.69" stroke="#2a2a2a" stroke-width="0.6" />
<line x1="431.42" y1="184.87" x2="435.00" y2="184.87" stroke="#2a2a2a" stroke-width="0.6" />
<line x1="431.42" y1="184.87" x2="431.42" y2="185.19" stroke="#2a2a2a" stroke-width="0.6" />
<line x1="435.00" y1="184.87" x2="435.00" y2="185.34" stroke="#2a2a2a" stroke-width="0.6" />
<line x1="418.22" y1="183.34" x2="433.21" y2="183.34" stroke="#2a2a2a" stroke-width="0.6" />
<line x1="418.22" y1="183.34" x2="418.22" y2="184.29" stroke="#2a2a2a" stroke-width="0.6" />
<line x1="433.21" y1="183.34" x2="433.21" y2="184.87" stroke="#2a2a2a" stroke-width="0.6" />
<line x1="438.58" y1="184.43" x2="442.16" y2="184.43" stroke="#2a2a2a" stroke-width="0.6" />
<line x1="438.58" y1="184.43" x2="438.58" y2="185.19" stroke="#2a2a2a" stroke-width="0.6" />
<line x1="442.16" y1="184.43" x2="442.16" y2="185.10" stroke="#2a2a2a" stroke-width="0.6" />
<line x1="425.72" y1="181.80" x2="440.37" y2="181.80" stroke="#2a2a2a" stroke-width="0.6" />
<line x1="425.72" y1="181.80" x2="425.72" y2="183.34" stroke="#2a2a2a" stroke-width="0.6" />
<line x1="440.37" y1="181.80" x2="440.37" y2="184.43" stroke="#2a2a2a" stroke-width="0.6" />
<line x1="389.48" y1="180.60" x2="433.04" y2="180.60" stroke="#2a2a2a" stroke-width="0.6" />
<line x1="389.48" y1="180.60" x2="389.48" y2="181.80" stroke="#2a2a2a" stroke-width="0.6" />
<line x1="433.04" y1="180.60" x2="433.04" y2="181.80" stroke="#2a2a2a" stroke-width="0.6" />
<line x1="449.32" y1="184.97" x2="452.89" y2="184.97" stroke="#2a2a2a" stroke-width="0.6" />
<line x1="449.32" y1="184.97" x2="449.32" y2="185.37" stroke="#2a2a2a" stroke-width="0.6" />
<line x1="452.89" y1="184.97" x2="452.89" y2="185.23" stroke="#2a2a2a" stroke-width="0.6" />
<line x1="445.74" y1="184.46" x2="451.10" y2="184.46" stroke="#2a2a2a" stroke-width="0.6" />
<line x1="445.74" y1="184.46" x2="445.74" y2="184.89" stroke="#2a2a2a" stroke-width="0.6" />
<line x1="451.10" y1="184.46" x2="451.10" y2="184.97" stroke="#2a2a2a" stroke-width="0.6" />
<line x1="463.63" y1="185.36" x2="467.21" y2="185.36" stroke="#2a2a2a" stroke-width="0.6" />
<line x1="463.63" y1="185.36" x2="463.63" y2="185.48" stroke="#2a2a2a" stroke-width="0.6" />
<line x1="467.21" y1="185.36" x2="467.21" y2="185.52" stroke="#2a2a2a" stroke-width="0.6" />
<line x1="460.05" y1="184.88" x2="465.42" y2="184.88" stroke="#2a2a2a" stroke-width="0.6" />
<line x1="460.05" y1="184.88" x2="460.05" y2="185.27" stroke="#2a2a2a" stroke-width="0.6" />
<line x1="465.42" y1="184.88" x2="465.42" y2="185.36" stroke="#2a2a2a" stroke-width="0.6" />
<line x1="456.47" y1="183.83" x2="462.74" y2="183.83" stroke="#2a2a2a" stroke-width="0.6" />
<line x1="456.47" y1="183.83" x2="456.47" y2="184.87" stroke="#2a2a2a" stroke-width="0.6" />
<line x1="462.74" y1="183.83" x2="462.74" y2="184.88" stroke="#2a2a2a" stroke-width="0.6" />
<line x1="448.42" y1="182.00" x2="459.60" y2="182.00" stroke="#2a2a2a" stroke-width="0.6" />
<line x1="448.42" y1="182.00" x2="448.42" y2="184.46" stroke="#2a2a2a" stroke-width="0.6" />
<line x1="459.60" y1="182.00" x2="459.60" y2="183.83" stroke="#2a2a2a" stroke-width="0.6" />
<line x1="399.00" y1="178.60" x2="454.01" y2="178.60" stroke="#2a2a2a" stroke-width="0.6" />
<line x1="399.00" y1="178.60" x2="399.00" y2="180.60" stroke="#2a2a2a" stroke-width="0.6" />
<line x1="454.01" y1="178.60" x2="454.01" y2="182.00" stroke="#2a2a2a" stroke-width="0.6" />
<line x1="265.80" y1="174.60" x2="399.00" y2="174.60" stroke="#2a2a2a" stroke-width="0.6" />
<line x1="265.80" y1="174.60" x2="265.80" y2="180.00" stroke="#2a2a2a" stroke-width="0.6" />
<line x1="399.00" y1="174.60" x2="399.00" y2="178.60" stroke="#2a2a2a" stroke-width="0.6" />
<line x1="176.80" y1="161.50" x2="333.00" y2="161.50" stroke="#2a2a2a" stroke-width="0.6" />
<line x1="176.80" y1="161.50" x2="176.80" y2="176.60" stroke="#2a2a2a" stroke-width="0.6" />
<line x1="333.00" y1="161.50" x2="333.00" y2="174.60" stroke="#2a2a2a" stroke-width="0.6" />
<g font-size="2.9" fill="#333" font-weight="bold">
<text transform="translate(163.01,241.0) rotate(-90)" text-anchor="end" textLength="17.2" lengthAdjust="spacingAndGlyphs">NCI-H526-PDX</text>
<text transform="translate(164.82,241.0) rotate(-90)" text-anchor="end" textLength="17.2" lengthAdjust="spacingAndGlyphs">NCI-H211-LX44</text>
<text transform="translate(166.63,241.0) rotate(-90)" text-anchor="end" textLength="17.2" lengthAdjust="spacingAndGlyphs">JHU-LX22-SCLC</text>
<text transform="translate(168.44,241.0) rotate(-90)" text-anchor="end" textLength="17.2" lengthAdjust="spacingAndGlyphs">NCI-H446-LX36</text>
<text transform="translate(170.25,241.0) rotate(-90)" text-anchor="end" textLength="17.2" lengthAdjust="spacingAndGlyphs">DMS-53-JHU</text>
<text transform="translate(172.06,241.0) rotate(-90)" text-anchor="end" textLength="17.2" lengthAdjust="spacingAndGlyphs">SHP-77-LX102</text>
<text transform="translate(173.87,241.0) rotate(-90)" text-anchor="end" textLength="17.2" lengthAdjust="spacingAndGlyphs">NCI-H526-PDX</text>
<text transform="translate(175.68,241.0) rotate(-90)" text-anchor="end" textLength="17.2" lengthAdjust="spacingAndGlyphs">COR-L88-PDX</text>
<text transform="translate(177.49,241.0) rotate(-90)" text-anchor="end" textLength="17.2" lengthAdjust="spacingAndGlyphs">NCI-H2171-PDX</text>
<text transform="translate(179.30,241.0) rotate(-90)" text-anchor="end" textLength="17.2" lengthAdjust="spacingAndGlyphs">DMS-79-LX95</text>
<text transform="translate(181.11,241.0) rotate(-90)" text-anchor="end" textLength="17.2" lengthAdjust="spacingAndGlyphs">NCI-H82-JHU</text>
<text transform="translate(182.92,241.0) rotate(-90)" text-anchor="end" textLength="17.2" lengthAdjust="spacingAndGlyphs">NCI-H211-LX44</text>
<text transform="translate(184.73,241.0) rotate(-90)" text-anchor="end" textLength="17.2" lengthAdjust="spacingAndGlyphs">NCI-H1048-PDX</text>
<text transform="translate(186.54,241.0) rotate(-90)" text-anchor="end" textLength="17.2" lengthAdjust="spacingAndGlyphs">NCI-H211-LX44</text>
<text transform="translate(188.35,241.0) rotate(-90)" text-anchor="end" textLength="17.2" lengthAdjust="spacingAndGlyphs">SHP-77-LX102</text>
<text transform="translate(190.16,241.0) rotate(-90)" text-anchor="end" textLength="17.2" lengthAdjust="spacingAndGlyphs">NCI-H82-JHU</text>
<text transform="translate(191.97,241.0) rotate(-90)" text-anchor="end" textLength="17.2" lengthAdjust="spacingAndGlyphs">DMS-79-LX95</text>
<text transform="translate(193.79,241.0) rotate(-90)" text-anchor="end" textLength="17.2" lengthAdjust="spacingAndGlyphs">NCI-H446-LX36</text>
<text transform="translate(195.60,241.0) rotate(-90)" text-anchor="end" textLength="17.2" lengthAdjust="spacingAndGlyphs">SHP-77-LX102</text>
<text transform="translate(197.41,241.0) rotate(-90)" text-anchor="end" textLength="17.2" lengthAdjust="spacingAndGlyphs">NCI-H82-JHU</text>
<text transform="translate(199.22,241.0) rotate(-90)" text-anchor="end" textLength="17.2" lengthAdjust="spacingAndGlyphs">SHP-77-LX102</text>
<text transform="translate(201.03,241.0) rotate(-90)" text-anchor="end" textLength="17.2" lengthAdjust="spacingAndGlyphs">COR-L88-PDX</text>
<text transform="translate(202.84,241.0) rotate(-90)" text-anchor="end" textLength="17.2" lengthAdjust="spacingAndGlyphs">NCI-H2171-PDX</text>
<text transform="translate(204.65,241.0) rotate(-90)" text-anchor="end" textLength="17.2" lengthAdjust="spacingAndGlyphs">NCI-H1048-PDX</text>
<text transform="translate(206.46,241.0) rotate(-90)" text-anchor="end" textLength="17.2" lengthAdjust="spacingAndGlyphs">DMS-79-LX95</text>
<text transform="translate(208.27,241.0) rotate(-90)" text-anchor="end" textLength="17.2" lengthAdjust="spacingAndGlyphs">NCI-H82-JHU</text>
<text transform="translate(210.08,241.0) rotate(-90)" text-anchor="end" textLength="17.2" lengthAdjust="spacingAndGlyphs">NCI-H2171-PDX</text>
<text transform="translate(211.89,241.0) rotate(-90)" text-anchor="end" textLength="17.2" lengthAdjust="spacingAndGlyphs">NCI-H82-JHU</text>
<text transform="translate(213.70,241.0) rotate(-90)" text-anchor="end" textLength="17.2" lengthAdjust="spacingAndGlyphs">NCI-H69-LX33</text>
<text transform="translate(215.51,241.0) rotate(-90)" text-anchor="end" textLength="17.2" lengthAdjust="spacingAndGlyphs">LX110-JHU-22</text>
<text transform="translate(217.32,241.0) rotate(-90)" text-anchor="end" textLength="17.2" lengthAdjust="spacingAndGlyphs">NCI-H82-JHU</text>
<text transform="translate(219.13,241.0) rotate(-90)" text-anchor="end" textLength="17.2" lengthAdjust="spacingAndGlyphs">NCI-H1048-PDX</text>
<text transform="translate(220.94,241.0) rotate(-90)" text-anchor="end" textLength="17.2" lengthAdjust="spacingAndGlyphs">DMS-79-LX95</text>
<text transform="translate(222.75,241.0) rotate(-90)" text-anchor="end" textLength="17.2" lengthAdjust="spacingAndGlyphs">JHU-LX22-SCLC</text>
<text transform="translate(224.57,241.0) rotate(-90)" text-anchor="end" textLength="17.2" lengthAdjust="spacingAndGlyphs">NCI-H2171-PDX</text>
<text transform="translate(226.38,241.0) rotate(-90)" text-anchor="end" textLength="17.2" lengthAdjust="spacingAndGlyphs">NCI-H889-LX48</text>
<text transform="translate(228.19,241.0) rotate(-90)" text-anchor="end" textLength="17.2" lengthAdjust="spacingAndGlyphs">NCI-H1048-PDX</text>
<text transform="translate(230.00,241.0) rotate(-90)" text-anchor="end" textLength="17.2" lengthAdjust="spacingAndGlyphs">LX110-JHU-22</text>
<text transform="translate(231.81,241.0) rotate(-90)" text-anchor="end" textLength="17.2" lengthAdjust="spacingAndGlyphs">NCI-H889-LX48</text>
<text transform="translate(233.62,241.0) rotate(-90)" text-anchor="end" textLength="17.2" lengthAdjust="spacingAndGlyphs">SHP-77-LX102</text>
<text transform="translate(235.43,241.0) rotate(-90)" text-anchor="end" textLength="17.2" lengthAdjust="spacingAndGlyphs">NCI-H211-LX44</text>
<text transform="translate(237.24,241.0) rotate(-90)" text-anchor="end" textLength="17.2" lengthAdjust="spacingAndGlyphs">NCI-H69-LX33</text>
<text transform="translate(239.05,241.0) rotate(-90)" text-anchor="end" textLength="17.2" lengthAdjust="spacingAndGlyphs">NCI-H211-LX44</text>
<text transform="translate(240.86,241.0) rotate(-90)" text-anchor="end" textLength="17.2" lengthAdjust="spacingAndGlyphs">DMS-79-LX95</text>
<text transform="translate(242.67,241.0) rotate(-90)" text-anchor="end" textLength="17.2" lengthAdjust="spacingAndGlyphs">DMS-79-LX95</text>
<text transform="translate(244.48,241.0) rotate(-90)" text-anchor="end" textLength="17.2" lengthAdjust="spacingAndGlyphs">COR-L88-PDX</text>
<text transform="translate(246.29,241.0) rotate(-90)" text-anchor="end" textLength="17.2" lengthAdjust="spacingAndGlyphs">LX110-JHU-22</text>
<text transform="translate(248.10,241.0) rotate(-90)" text-anchor="end" textLength="17.2" lengthAdjust="spacingAndGlyphs">NCI-H2171-PDX</text>
<text transform="translate(249.91,241.0) rotate(-90)" text-anchor="end" textLength="17.2" lengthAdjust="spacingAndGlyphs">LX110-JHU-22</text>
<text transform="translate(251.72,241.0) rotate(-90)" text-anchor="end" textLength="17.2" lengthAdjust="spacingAndGlyphs">NCI-H889-LX48</text>
<text transform="translate(253.53,241.0) rotate(-90)" text-anchor="end" textLength="17.2" lengthAdjust="spacingAndGlyphs">NCI-H526-PDX</text>
<text transform="translate(255.35,241.0) rotate(-90)" text-anchor="end" textLength="17.2" lengthAdjust="spacingAndGlyphs">DMS-53-JHU</text>
<text transform="translate(257.16,241.0) rotate(-90)" text-anchor="end" textLength="17.2" lengthAdjust="spacingAndGlyphs">NCI-H889-LX48</text>
<text transform="translate(258.97,241.0) rotate(-90)" text-anchor="end" textLength="17.2" lengthAdjust="spacingAndGlyphs">DMS-53-JHU</text>
<text transform="translate(260.78,241.0) rotate(-90)" text-anchor="end" textLength="17.2" lengthAdjust="spacingAndGlyphs">NCI-H69-LX33</text>
<text transform="translate(262.59,241.0) rotate(-90)" text-anchor="end" textLength="17.2" lengthAdjust="spacingAndGlyphs">COR-L88-PDX</text>
<text transform="translate(264.40,241.0) rotate(-90)" text-anchor="end" textLength="17.2" lengthAdjust="spacingAndGlyphs">DMS-53-JHU</text>
<text transform="translate(266.21,241.0) rotate(-90)" text-anchor="end" textLength="17.2" lengthAdjust="spacingAndGlyphs">JHU-LX22-SCLC</text>
<text transform="translate(268.02,241.0) rotate(-90)" text-anchor="end" textLength="17.2" lengthAdjust="spacingAndGlyphs">LX110-JHU-22</text>
<text transform="translate(269.83,241.0) rotate(-90)" text-anchor="end" textLength="17.2" lengthAdjust="spacingAndGlyphs">NCI-H2171-PDX</text>
<text transform="translate(271.64,241.0) rotate(-90)" text-anchor="end" textLength="17.2" lengthAdjust="spacingAndGlyphs">JHU-LX22-SCLC</text>
<text transform="translate(273.45,241.0) rotate(-90)" text-anchor="end" textLength="17.2" lengthAdjust="spacingAndGlyphs">NCI-H211-LX44</text>
<text transform="translate(275.26,241.0) rotate(-90)" text-anchor="end" textLength="17.2" lengthAdjust="spacingAndGlyphs">NCI-H526-PDX</text>
<text transform="translate(277.07,241.0) rotate(-90)" text-anchor="end" textLength="17.2" lengthAdjust="spacingAndGlyphs">NCI-H69-LX33</text>
<text transform="translate(278.88,241.0) rotate(-90)" text-anchor="end" textLength="17.2" lengthAdjust="spacingAndGlyphs">NCI-H526-PDX</text>
<text transform="translate(280.69,241.0) rotate(-90)" text-anchor="end" textLength="17.2" lengthAdjust="spacingAndGlyphs">JHU-LX22-SCLC</text>
<text transform="translate(282.50,241.0) rotate(-90)" text-anchor="end" textLength="17.2" lengthAdjust="spacingAndGlyphs">JHU-LX22-SCLC</text>
<text transform="translate(284.31,241.0) rotate(-90)" text-anchor="end" textLength="17.2" lengthAdjust="spacingAndGlyphs">LX110-JHU-22</text>
<text transform="translate(286.13,241.0) rotate(-90)" text-anchor="end" textLength="17.2" lengthAdjust="spacingAndGlyphs">NCI-H211-LX44</text>
<text transform="translate(287.94,241.0) rotate(-90)" text-anchor="end" textLength="17.2" lengthAdjust="spacingAndGlyphs">NCI-H526-PDX</text>
<text transform="translate(289.75,241.0) rotate(-90)" text-anchor="end" textLength="17.2" lengthAdjust="spacingAndGlyphs">LX110-JHU-22</text>
<text transform="translate(291.56,241.0) rotate(-90)" text-anchor="end" textLength="17.2" lengthAdjust="spacingAndGlyphs">DMS-53-JHU</text>
<text transform="translate(293.37,241.0) rotate(-90)" text-anchor="end" textLength="17.2" lengthAdjust="spacingAndGlyphs">NCI-H82-JHU</text>
<text transform="translate(295.18,241.0) rotate(-90)" text-anchor="end" textLength="17.2" lengthAdjust="spacingAndGlyphs">NCI-H889-LX48</text>
<text transform="translate(296.99,241.0) rotate(-90)" text-anchor="end" textLength="17.2" lengthAdjust="spacingAndGlyphs">NCI-H889-LX48</text>
<text transform="translate(298.80,241.0) rotate(-90)" text-anchor="end" textLength="17.2" lengthAdjust="spacingAndGlyphs">DMS-53-JHU</text>
<text transform="translate(300.61,241.0) rotate(-90)" text-anchor="end" textLength="17.2" lengthAdjust="spacingAndGlyphs">NCI-H211-LX44</text>
<text transform="translate(302.42,241.0) rotate(-90)" text-anchor="end" textLength="17.2" lengthAdjust="spacingAndGlyphs">SHP-77-LX102</text>
<text transform="translate(304.23,241.0) rotate(-90)" text-anchor="end" textLength="17.2" lengthAdjust="spacingAndGlyphs">JHU-LX22-SCLC</text>
<text transform="translate(306.04,241.0) rotate(-90)" text-anchor="end" textLength="17.2" lengthAdjust="spacingAndGlyphs">LX110-JHU-22</text>
<text transform="translate(307.85,241.0) rotate(-90)" text-anchor="end" textLength="17.2" lengthAdjust="spacingAndGlyphs">NCI-H1048-PDX</text>
<text transform="translate(309.66,241.0) rotate(-90)" text-anchor="end" textLength="17.2" lengthAdjust="spacingAndGlyphs">NCI-H82-JHU</text>
<text transform="translate(311.47,241.0) rotate(-90)" text-anchor="end" textLength="17.2" lengthAdjust="spacingAndGlyphs">NCI-H82-JHU</text>
<text transform="translate(313.28,241.0) rotate(-90)" text-anchor="end" textLength="17.2" lengthAdjust="spacingAndGlyphs">NCI-H211-LX44</text>
<text transform="translate(315.09,241.0) rotate(-90)" text-anchor="end" textLength="17.2" lengthAdjust="spacingAndGlyphs">NCI-H889-LX48</text>
<text transform="translate(316.91,241.0) rotate(-90)" text-anchor="end" textLength="17.2" lengthAdjust="spacingAndGlyphs">NCI-H211-LX44</text>
<text transform="translate(318.72,241.0) rotate(-90)" text-anchor="end" textLength="17.2" lengthAdjust="spacingAndGlyphs">NCI-H1048-PDX</text>
<text transform="translate(320.53,241.0) rotate(-90)" text-anchor="end" textLength="17.2" lengthAdjust="spacingAndGlyphs">DMS-79-LX95</text>
<text transform="translate(322.34,241.0) rotate(-90)" text-anchor="end" textLength="17.2" lengthAdjust="spacingAndGlyphs">NCI-H82-JHU</text>
<text transform="translate(324.15,241.0) rotate(-90)" text-anchor="end" textLength="17.2" lengthAdjust="spacingAndGlyphs">NCI-H211-LX44</text>
<text transform="translate(325.96,241.0) rotate(-90)" text-anchor="end" textLength="17.2" lengthAdjust="spacingAndGlyphs">NCI-H69-LX33</text>
<text transform="translate(327.77,241.0) rotate(-90)" text-anchor="end" textLength="17.2" lengthAdjust="spacingAndGlyphs">LX110-JHU-22</text>
<text transform="translate(329.58,241.0) rotate(-90)" text-anchor="end" textLength="17.2" lengthAdjust="spacingAndGlyphs">DMS-53-JHU</text>
<text transform="translate(331.39,241.0) rotate(-90)" text-anchor="end" textLength="17.2" lengthAdjust="spacingAndGlyphs">SHP-77-LX102</text>
<text transform="translate(333.20,241.0) rotate(-90)" text-anchor="end" textLength="17.2" lengthAdjust="spacingAndGlyphs">NCI-H2171-PDX</text>
<text transform="translate(335.01,241.0) rotate(-90)" text-anchor="end" textLength="17.2" lengthAdjust="spacingAndGlyphs">NCI-H889-LX48</text>
<text transform="translate(336.82,241.0) rotate(-90)" text-anchor="end" textLength="17.2" lengthAdjust="spacingAndGlyphs">NCI-H69-LX33</text>
<text transform="translate(338.63,241.0) rotate(-90)" text-anchor="end" textLength="17.2" lengthAdjust="spacingAndGlyphs">LX110-JHU-22</text>
<text transform="translate(340.44,241.0) rotate(-90)" text-anchor="end" textLength="17.2" lengthAdjust="spacingAndGlyphs">NCI-H211-LX44</text>
<text transform="translate(342.25,241.0) rotate(-90)" text-anchor="end" textLength="17.2" lengthAdjust="spacingAndGlyphs">NCI-H211-LX44</text>
<text transform="translate(344.06,241.0) rotate(-90)" text-anchor="end" textLength="17.2" lengthAdjust="spacingAndGlyphs">JHU-LX22-SCLC</text>
<text transform="translate(345.87,241.0) rotate(-90)" text-anchor="end" textLength="17.2" lengthAdjust="spacingAndGlyphs">NCI-H82-JHU</text>
<text transform="translate(347.69,241.0) rotate(-90)" text-anchor="end" textLength="17.2" lengthAdjust="spacingAndGlyphs">LX110-JHU-22</text>
<text transform="translate(349.50,241.0) rotate(-90)" text-anchor="end" textLength="17.2" lengthAdjust="spacingAndGlyphs">SHP-77-LX102</text>
<text transform="translate(351.31,241.0) rotate(-90)" text-anchor="end" textLength="17.2" lengthAdjust="spacingAndGlyphs">NCI-H211-LX44</text>
<text transform="translate(353.12,241.0) rotate(-90)" text-anchor="end" textLength="17.2" lengthAdjust="spacingAndGlyphs">NCI-H889-LX48</text>
<text transform="translate(354.93,241.0) rotate(-90)" text-anchor="end" textLength="17.2" lengthAdjust="spacingAndGlyphs">NCI-H889-LX48</text>
<text transform="translate(356.74,241.0) rotate(-90)" text-anchor="end" textLength="17.2" lengthAdjust="spacingAndGlyphs">NCI-H889-LX48</text>
<text transform="translate(358.55,241.0) rotate(-90)" text-anchor="end" textLength="17.2" lengthAdjust="spacingAndGlyphs">DMS-79-LX95</text>
<text transform="translate(360.36,241.0) rotate(-90)" text-anchor="end" textLength="17.2" lengthAdjust="spacingAndGlyphs">NCI-H1048-PDX</text>
<text transform="translate(362.17,241.0) rotate(-90)" text-anchor="end" textLength="17.2" lengthAdjust="spacingAndGlyphs">NCI-H526-PDX</text>
<text transform="translate(363.98,241.0) rotate(-90)" text-anchor="end" textLength="17.2" lengthAdjust="spacingAndGlyphs">NCI-H1048-PDX</text>
<text transform="translate(365.79,241.0) rotate(-90)" text-anchor="end" textLength="17.2" lengthAdjust="spacingAndGlyphs">COR-L88-PDX</text>
<text transform="translate(367.60,241.0) rotate(-90)" text-anchor="end" textLength="17.2" lengthAdjust="spacingAndGlyphs">NCI-H889-LX48</text>
<text transform="translate(369.41,241.0) rotate(-90)" text-anchor="end" textLength="17.2" lengthAdjust="spacingAndGlyphs">NCI-H889-LX48</text>
<text transform="translate(371.22,241.0) rotate(-90)" text-anchor="end" textLength="17.2" lengthAdjust="spacingAndGlyphs">DMS-53-JHU</text>
<text transform="translate(373.03,241.0) rotate(-90)" text-anchor="end" textLength="17.2" lengthAdjust="spacingAndGlyphs">NCI-H82-JHU</text>
<text transform="translate(374.84,241.0) rotate(-90)" text-anchor="end" textLength="17.2" lengthAdjust="spacingAndGlyphs">NCI-H211-LX44</text>
<text transform="translate(376.65,241.0) rotate(-90)" text-anchor="end" textLength="17.2" lengthAdjust="spacingAndGlyphs">NCI-H211-LX44</text>
<text transform="translate(378.47,241.0) rotate(-90)" text-anchor="end" textLength="17.2" lengthAdjust="spacingAndGlyphs">NCI-H526-PDX</text>
<text transform="translate(380.28,241.0) rotate(-90)" text-anchor="end" textLength="17.2" lengthAdjust="spacingAndGlyphs">COR-L88-PDX</text>
<text transform="translate(382.09,241.0) rotate(-90)" text-anchor="end" textLength="17.2" lengthAdjust="spacingAndGlyphs">NCI-H526-PDX</text>
<text transform="translate(383.90,241.0) rotate(-90)" text-anchor="end" textLength="17.2" lengthAdjust="spacingAndGlyphs">NCI-H1048-PDX</text>
<text transform="translate(385.71,241.0) rotate(-90)" text-anchor="end" textLength="17.2" lengthAdjust="spacingAndGlyphs">NCI-H526-PDX</text>
<text transform="translate(387.52,241.0) rotate(-90)" text-anchor="end" textLength="17.2" lengthAdjust="spacingAndGlyphs">NCI-H889-LX48</text>
<text transform="translate(389.33,241.0) rotate(-90)" text-anchor="end" textLength="17.2" lengthAdjust="spacingAndGlyphs">NCI-H2171-PDX</text>
<text transform="translate(391.14,241.0) rotate(-90)" text-anchor="end" textLength="17.2" lengthAdjust="spacingAndGlyphs">LX110-JHU-22</text>
<text transform="translate(392.95,241.0) rotate(-90)" text-anchor="end" textLength="17.2" lengthAdjust="spacingAndGlyphs">NCI-H526-PDX</text>
<text transform="translate(394.76,241.0) rotate(-90)" text-anchor="end" textLength="17.2" lengthAdjust="spacingAndGlyphs">NCI-H1048-PDX</text>
<text transform="translate(396.57,241.0) rotate(-90)" text-anchor="end" textLength="17.2" lengthAdjust="spacingAndGlyphs">NCI-H526-PDX</text>
<text transform="translate(398.38,241.0) rotate(-90)" text-anchor="end" textLength="17.2" lengthAdjust="spacingAndGlyphs">NCI-H82-JHU</text>
<text transform="translate(400.19,241.0) rotate(-90)" text-anchor="end" textLength="17.2" lengthAdjust="spacingAndGlyphs">NCI-H1048-PDX</text>
<text transform="translate(402.00,241.0) rotate(-90)" text-anchor="end" textLength="17.2" lengthAdjust="spacingAndGlyphs">NCI-H2171-PDX</text>
<text transform="translate(403.81,241.0) rotate(-90)" text-anchor="end" textLength="17.2" lengthAdjust="spacingAndGlyphs">NCI-H69-LX33</text>
<text transform="translate(405.62,241.0) rotate(-90)" text-anchor="end" textLength="17.2" lengthAdjust="spacingAndGlyphs">SHP-77-LX102</text>
<text transform="translate(407.43,241.0) rotate(-90)" text-anchor="end" textLength="17.2" lengthAdjust="spacingAndGlyphs">NCI-H211-LX44</text>
<text transform="translate(409.25,241.0) rotate(-90)" text-anchor="end" textLength="17.2" lengthAdjust="spacingAndGlyphs">NCI-H1048-PDX</text>
<text transform="translate(411.06,241.0) rotate(-90)" text-anchor="end" textLength="17.2" lengthAdjust="spacingAndGlyphs">DMS-79-LX95</text>
<text transform="translate(412.87,241.0) rotate(-90)" text-anchor="end" textLength="17.2" lengthAdjust="spacingAndGlyphs">NCI-H526-PDX</text>
<text transform="translate(414.68,241.0) rotate(-90)" text-anchor="end" textLength="17.2" lengthAdjust="spacingAndGlyphs">NCI-H2171-PDX</text>
<text transform="translate(416.49,241.0) rotate(-90)" text-anchor="end" textLength="17.2" lengthAdjust="spacingAndGlyphs">NCI-H446-LX36</text>
<text transform="translate(418.30,241.0) rotate(-90)" text-anchor="end" textLength="17.2" lengthAdjust="spacingAndGlyphs">NCI-H82-JHU</text>
<text transform="translate(420.11,241.0) rotate(-90)" text-anchor="end" textLength="17.2" lengthAdjust="spacingAndGlyphs">DMS-53-JHU</text>
<text transform="translate(421.92,241.0) rotate(-90)" text-anchor="end" textLength="17.2" lengthAdjust="spacingAndGlyphs">NCI-H889-LX48</text>
<text transform="translate(423.73,241.0) rotate(-90)" text-anchor="end" textLength="17.2" lengthAdjust="spacingAndGlyphs">NCI-H2171-PDX</text>
<text transform="translate(425.54,241.0) rotate(-90)" text-anchor="end" textLength="17.2" lengthAdjust="spacingAndGlyphs">NCI-H1048-PDX</text>
<text transform="translate(427.35,241.0) rotate(-90)" text-anchor="end" textLength="17.2" lengthAdjust="spacingAndGlyphs">JHU-LX22-SCLC</text>
<text transform="translate(429.16,241.0) rotate(-90)" text-anchor="end" textLength="17.2" lengthAdjust="spacingAndGlyphs">JHU-LX22-SCLC</text>
<text transform="translate(430.97,241.0) rotate(-90)" text-anchor="end" textLength="17.2" lengthAdjust="spacingAndGlyphs">NCI-H526-PDX</text>
<text transform="translate(432.78,241.0) rotate(-90)" text-anchor="end" textLength="17.2" lengthAdjust="spacingAndGlyphs">DMS-79-LX95</text>
<text transform="translate(434.59,241.0) rotate(-90)" text-anchor="end" textLength="17.2" lengthAdjust="spacingAndGlyphs">NCI-H1048-PDX</text>
<text transform="translate(436.40,241.0) rotate(-90)" text-anchor="end" textLength="17.2" lengthAdjust="spacingAndGlyphs">NCI-H446-LX36</text>
<text transform="translate(438.21,241.0) rotate(-90)" text-anchor="end" textLength="17.2" lengthAdjust="spacingAndGlyphs">NCI-H2171-PDX</text>
<text transform="translate(440.03,241.0) rotate(-90)" text-anchor="end" textLength="17.2" lengthAdjust="spacingAndGlyphs">DMS-79-LX95</text>
<text transform="translate(441.84,241.0) rotate(-90)" text-anchor="end" textLength="17.2" lengthAdjust="spacingAndGlyphs">NCI-H1048-PDX</text>
<text transform="translate(443.65,241.0) rotate(-90)" text-anchor="end" textLength="17.2" lengthAdjust="spacingAndGlyphs">NCI-H526-PDX</text>
<text transform="translate(445.46,241.0) rotate(-90)" text-anchor="end" textLength="17.2" lengthAdjust="spacingAndGlyphs">DMS-53-JHU</text>
<text transform="translate(447.27,241.0) rotate(-90)" text-anchor="end" textLength="17.2" lengthAdjust="spacingAndGlyphs">NCI-H82-JHU</text>
<text transform="translate(449.08,241.0) rotate(-90)" text-anchor="end" textLength="17.2" lengthAdjust="spacingAndGlyphs">COR-L88-PDX</text>
<text transform="translate(450.89,241.0) rotate(-90)" text-anchor="end" textLength="17.2" lengthAdjust="spacingAndGlyphs">NCI-H526-PDX</text>
<text transform="translate(452.70,241.0) rotate(-90)" text-anchor="end" textLength="17.2" lengthAdjust="spacingAndGlyphs">NCI-H526-PDX</text>
<text transform="translate(454.51,241.0) rotate(-90)" text-anchor="end" textLength="17.2" lengthAdjust="spacingAndGlyphs">NCI-H1048-PDX</text>
<text transform="translate(456.32,241.0) rotate(-90)" text-anchor="end" textLength="17.2" lengthAdjust="spacingAndGlyphs">NCI-H211-LX44</text>
<text transform="translate(458.13,241.0) rotate(-90)" text-anchor="end" textLength="17.2" lengthAdjust="spacingAndGlyphs">NCI-H1048-PDX</text>
<text transform="translate(459.94,241.0) rotate(-90)" text-anchor="end" textLength="17.2" lengthAdjust="spacingAndGlyphs">JHU-LX22-SCLC</text>
<text transform="translate(461.75,241.0) rotate(-90)" text-anchor="end" textLength="17.2" lengthAdjust="spacingAndGlyphs">SHP-77-LX102</text>
<text transform="translate(463.56,241.0) rotate(-90)" text-anchor="end" textLength="17.2" lengthAdjust="spacingAndGlyphs">DMS-53-JHU</text>
<text transform="translate(465.37,241.0) rotate(-90)" text-anchor="end" textLength="17.2" lengthAdjust="spacingAndGlyphs">NCI-H211-LX44</text>
<text transform="translate(467.18,241.0) rotate(-90)" text-anchor="end" textLength="17.2" lengthAdjust="spacingAndGlyphs">COR-L88-PDX</text>
<text transform="translate(468.99,241.0) rotate(-90)" text-anchor="end" textLength="17.2" lengthAdjust="spacingAndGlyphs">NCI-H69-LX33</text>
</g>
<text x="471.00" y="190.20" font-size="4.6" fill="#111" font-weight="bold" text-anchor="start" stroke="#111" stroke-width="0.1">SCLC subtype (Rudin)</text>
<text x="471.00" y="197.83" font-size="4.7" fill="#222" font-weight="normal" text-anchor="start" stroke="#222" stroke-width="0.1">CHGA</text>
<text x="471.00" y="205.90" font-size="4.7" fill="#222" font-weight="normal" text-anchor="start" stroke="#222" stroke-width="0.1">ASCL1</text>
<text x="471.00" y="213.97" font-size="4.7" fill="#222" font-weight="normal" text-anchor="start" stroke="#222" stroke-width="0.1">POU2F3</text>
<text x="471.00" y="222.03" font-size="4.7" fill="#222" font-weight="normal" text-anchor="start" stroke="#222" stroke-width="0.1">NEUROD1</text>
<text x="471.00" y="230.10" font-size="4.7" fill="#222" font-weight="normal" text-anchor="start" stroke="#222" stroke-width="0.1">SEZ6</text>
<text x="471.00" y="238.17" font-size="4.7" fill="#222" font-weight="normal" text-anchor="start" stroke="#222" stroke-width="0.1">YAP1</text>
<defs><linearGradient id="cb" x1="0" x2="1" y1="0" y2="0"><stop offset="0" stop-color="#15177a"/><stop offset="0.07" stop-color="#2a2f90"/><stop offset="0.21" stop-color="#f2f2f8"/><stop offset="0.29" stop-color="#fbecec"/><stop offset="0.6" stop-color="#f29aa0"/><stop offset="1" stop-color="#e3101e"/></linearGradient></defs>
<text x="439.4" y="168.1" font-size="4.4" fill="#3a1a22" stroke="#3a1a22" stroke-width="0.1" font-weight="bold" text-anchor="middle" textLength="31.2" lengthAdjust="spacingAndGlyphs">Expression (log<tspan font-size="3" dy="1">2</tspan><tspan dy="-1">)</tspan></text>
<rect x="409.70" y="169.40" width="59.60" height="4.10" fill="url(#cb)" stroke="none" stroke-width="0.6" />
<text font-size="4.0" fill="#222" text-anchor="middle"><tspan x="416.5" y="178.2" textLength="13.5" lengthAdjust="spacingAndGlyphs">−3−2−1 0</tspan><tspan x="430.8" y="178.2">2</tspan><tspan x="439.7" y="178.2">4</tspan><tspan x="447.8" y="178.2">6</tspan><tspan x="456.1" y="178.2">8</tspan><tspan x="464.4" y="178.2">10</tspan></text>
<text x="362.80" y="266.30" font-size="4.8" fill="#111" font-weight="bold" text-anchor="start" >SCLC subtype (Rudin)</text>
<rect x="361.00" y="270.00" width="5.80" height="5.60" fill="#2f86c0" stroke="none" stroke-width="0.6" />
<text x="368.20" y="274.60" font-size="4.4" fill="#333" font-weight="normal" text-anchor="start" >SCLC-A</text>
<rect x="389.40" y="270.00" width="5.80" height="5.60" fill="#92d08a" stroke="none" stroke-width="0.6" />
<text x="396.60" y="274.60" font-size="4.4" fill="#333" font-weight="normal" text-anchor="start" >SCLC-N</text>
<rect x="417.50" y="270.00" width="5.80" height="5.60" fill="#2b3a9a" stroke="none" stroke-width="0.6" />
<text x="424.70" y="274.60" font-size="4.4" fill="#333" font-weight="normal" text-anchor="start" >SCLC-P</text>
<rect x="445.00" y="270.00" width="5.80" height="5.60" fill="#ea4d3a" stroke="none" stroke-width="0.6" />
<text x="452.20" y="274.60" font-size="4.4" fill="#333" font-weight="normal" text-anchor="start" >SCLC-Y</text>
</svg>
</body></html>
